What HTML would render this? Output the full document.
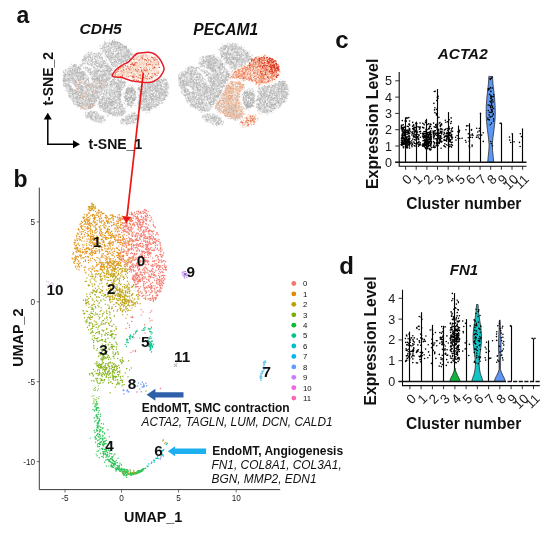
<!DOCTYPE html>
<html lang="en"><head><meta charset="utf-8"><title>Figure</title>
<style>
html,body{margin:0;padding:0;background:#fff;}
body{width:550px;height:535px;overflow:hidden;}
svg{display:block;filter:blur(0.35px);font-family:"Liberation Sans",sans-serif;}
</style></head><body>
<svg width="550" height="535" viewBox="0 0 550 535">
<rect width="550" height="535" fill="#fff"/>
<g id="tsne-cdh5">
<path d="M62.6 77.2L62.7 76.1L62.8 75.0L63.1 74.0L63.4 73.1L63.8 72.1L64.3 71.3L64.9 70.5L65.6 69.8L66.4 69.2L67.3 68.6L68.1 68.0L69.0 67.3L69.8 66.6L70.6 65.8L71.4 65.0L72.3 64.3L73.1 63.7L74.0 63.4L74.9 63.4L75.9 63.8L76.9 64.3L77.9 64.9L78.8 65.2L79.5 65.1L80.1 64.6L80.5 63.8L80.9 62.8L81.3 61.7L81.6 60.6L82.0 59.6L82.5 58.7L82.9 57.7L83.3 56.6L83.8 55.7L84.4 54.8L85.2 54.1L86.2 53.6L87.4 53.1L88.6 52.8L90.0 52.6L91.3 52.4L92.6 52.4L93.9 52.4L95.2 52.6L96.5 52.8L97.8 53.2L99.0 53.6L100.0 54.1L100.8 54.8L101.4 55.5L101.9 56.3L102.4 57.2L102.9 58.1L103.6 59.0L104.3 59.9L105.1 60.8L105.9 61.8L106.7 62.7L107.5 63.7L108.2 64.7L108.9 65.7L109.7 66.7L110.4 67.7L111.1 68.7L111.6 69.7L112.0 70.6L112.1 71.6L112.1 72.5L112.0 73.4L111.7 74.3L111.4 75.2L111.2 76.1L110.9 77.1L110.6 78.1L110.2 79.2L109.9 80.2L109.5 81.3L109.0 82.3L108.6 83.3L108.1 84.4L107.6 85.4L107.1 86.4L106.6 87.5L106.1 88.5L105.6 89.4L105.1 90.4L104.6 91.3L104.2 92.3L103.7 93.2L103.1 94.2L102.6 95.1L102.1 96.1L101.6 97.0L101.0 98.0L100.4 99.0L99.8 99.9L99.1 100.9L98.3 101.8L97.5 102.8L96.7 103.7L95.9 104.6L95.1 105.4L94.4 106.1L93.6 106.7L92.8 107.2L92.1 107.7L91.3 108.1L90.5 108.5L89.6 108.8L88.8 109.1L87.9 109.4L87.0 109.5L86.1 109.6L85.2 109.6L84.3 109.4L83.4 109.1L82.6 108.8L81.7 108.3L80.8 107.8L79.9 107.4L79.0 106.9L78.1 106.4L77.2 105.9L76.3 105.4L75.5 104.8L74.7 104.1L73.9 103.3L73.1 102.4L72.4 101.5L71.7 100.6L71.1 99.6L70.4 98.6L69.8 97.5L69.3 96.5L68.8 95.4L68.3 94.2L67.8 93.1L67.3 92.0L66.7 90.8L66.2 89.7L65.7 88.5L65.2 87.3L64.7 86.2L64.3 84.9L63.9 83.7L63.5 82.4L63.2 81.0L62.9 79.7L62.7 78.4Z" fill="#d3d3d3"/>
<path d="M63.6 71.2h0M65.6 70.0h0M69.4 67.8h0M71.2 65.9h0M71.6 65.3h0M71.8 64.4h0M80.4 65.2h0M80.6 64.2h0M81.0 62.3h0M82.6 60.4h0M82.3 60.7h0M84.0 57.0h0M84.8 55.1h0M87.4 53.4h0M88.7 52.5h0M91.6 53.2h0M92.4 52.2h0M94.0 52.8h0M98.1 53.0h0M99.4 53.1h0M100.3 54.1h0M100.8 54.3h0M101.6 55.6h0M102.0 56.9h0M107.3 63.6h0M108.5 65.5h0M110.7 66.4h0M111.2 68.8h0M111.9 70.3h0M112.3 74.1h0M111.8 74.9h0M111.2 77.0h0M110.5 78.7h0M110.5 79.6h0M108.8 82.1h0M107.2 86.5h0M104.8 90.0h0M104.4 92.3h0M99.3 98.9h0M98.6 100.9h0M95.3 104.3h0M94.1 104.2h0M92.8 106.6h0M92.2 107.5h0M90.0 108.1h0M89.5 108.3h0M87.4 109.6h0M85.7 110.5h0M83.8 108.8h0M80.9 108.7h0M78.7 106.7h0M77.2 106.5h0M74.9 104.6h0M74.0 103.8h0M72.5 99.4h0M71.4 98.8h0M69.7 96.9h0M69.3 96.4h0M68.7 95.4h0M67.9 93.2h0M66.2 90.3h0M64.4 86.2h0M63.5 85.1h0M63.9 84.1h0" stroke="#d3d3d3" stroke-width="1.80" stroke-linecap="round" fill="none"/>
<path d="M101.5 50.2L101.4 49.3L101.3 48.2L101.3 47.1L101.4 46.1L101.6 45.1L102.1 44.2L102.8 43.6L103.7 43.0L104.8 42.5L106.0 42.1L107.2 41.7L108.4 41.4L109.6 41.1L110.8 40.8L112.1 40.6L113.3 40.4L114.6 40.4L115.8 40.5L117.0 40.8L118.1 41.2L119.2 41.7L120.4 42.3L121.5 42.9L122.6 43.6L123.7 44.2L124.8 44.9L125.9 45.7L126.9 46.5L127.9 47.3L128.9 48.2L129.8 49.1L130.8 50.1L131.7 51.1L132.5 52.1L133.0 53.1L133.3 54.1L133.3 55.1L132.9 56.1L132.4 57.1L131.7 58.1L130.9 59.0L130.2 59.9L129.4 60.6L128.5 61.2L127.5 61.7L126.6 62.3L125.6 62.8L124.7 63.4L123.8 64.0L122.9 64.6L122.0 65.3L121.1 65.9L120.3 66.4L119.4 66.9L118.5 67.3L117.6 67.7L116.7 68.1L115.8 68.3L114.9 68.4L114.1 68.2L113.4 67.8L112.7 67.1L112.0 66.3L111.4 65.4L110.7 64.5L110.1 63.6L109.5 62.7L108.9 61.8L108.3 60.8L107.7 59.8L107.1 58.9L106.5 58.1L105.9 57.3L105.2 56.7L104.6 56.0L104.0 55.4L103.4 54.8L102.9 54.1L102.5 53.5L102.2 52.9L101.9 52.3L101.7 51.6L101.6 50.9Z" fill="#d3d3d3"/>
<path d="M101.7 49.1h0M102.1 48.9h0M100.6 48.4h0M100.4 45.6h0M104.7 41.6h0M109.6 40.5h0M114.2 39.9h0M115.1 40.7h0M119.3 41.5h0M121.0 43.7h0M122.9 44.1h0M129.9 49.7h0M130.7 49.4h0M132.6 54.8h0M133.7 55.1h0M130.3 58.9h0M130.0 60.5h0M128.7 60.6h0M125.1 62.7h0M122.6 64.7h0M122.4 64.3h0M120.5 67.1h0M118.5 67.2h0M117.7 68.5h0M116.2 68.6h0M115.7 68.0h0M114.3 68.8h0M113.0 68.2h0M112.2 67.0h0M108.2 59.9h0M106.7 60.0h0M107.6 58.1h0M105.9 58.1h0M106.0 57.2h0M104.7 55.8h0M103.9 55.3h0M103.0 53.8h0M101.7 53.5h0M101.9 51.7h0M101.0 50.8h0" stroke="#d3d3d3" stroke-width="1.80" stroke-linecap="round" fill="none"/>
<path d="M112.8 73.1L113.2 72.2L113.9 71.2L114.7 70.2L115.6 69.1L116.5 68.2L117.5 67.3L118.4 66.6L119.5 66.1L120.6 65.5L121.6 65.0L122.7 64.6L123.8 64.0L124.9 63.5L126.0 63.0L127.2 62.5L128.3 61.9L129.3 61.4L130.2 60.7L130.8 60.0L131.3 59.1L131.6 58.2L132.0 57.4L132.6 56.6L133.3 55.9L134.3 55.3L135.6 54.8L136.9 54.4L138.3 54.1L139.7 53.8L141.1 53.7L142.5 53.7L144.0 53.7L145.4 53.9L146.9 54.1L148.2 54.4L149.6 54.8L150.8 55.2L152.1 55.6L153.3 56.1L154.4 56.6L155.4 57.3L156.3 58.1L157.1 59.0L157.9 60.1L158.5 61.3L159.0 62.6L159.4 63.9L159.7 65.1L159.8 66.4L159.7 67.8L159.5 69.2L159.2 70.6L158.9 71.9L158.4 73.1L157.9 74.0L157.3 74.9L156.7 75.7L155.9 76.4L155.1 77.0L154.2 77.7L153.2 78.3L152.2 79.0L151.0 79.5L149.8 80.1L148.6 80.6L147.5 81.0L146.3 81.3L145.0 81.6L143.8 81.9L142.6 82.0L141.3 82.1L140.1 82.1L138.8 81.9L137.6 81.6L136.3 81.2L135.1 80.7L133.9 80.3L132.7 79.9L131.6 79.5L130.5 79.0L129.5 78.6L128.4 78.2L127.4 77.8L126.4 77.5L125.3 77.2L124.2 77.0L123.1 76.9L122.1 76.7L121.0 76.7L120.0 76.6L119.0 76.6L118.0 76.6L117.0 76.7L116.1 76.8L115.2 76.8L114.5 76.6L114.0 76.2L113.5 75.7L113.1 75.2L112.8 74.5L112.7 73.8Z" fill="#f8e3d5"/>
<path d="M113.4 72.5h0M117.7 68.6h0M118.9 66.2h0M120.5 65.5h0M123.0 64.3h0M125.0 63.8h0M127.9 61.9h0M130.3 59.6h0M132.7 56.9h0M135.2 54.7h0M139.7 53.6h0M141.1 53.7h0M142.1 53.1h0M144.6 53.5h0M145.1 53.4h0M149.0 54.4h0M152.6 55.5h0M154.2 56.7h0M155.2 57.5h0M156.8 57.7h0M159.1 66.0h0M160.0 67.7h0M158.6 70.6h0M159.4 71.7h0M157.2 75.6h0M155.8 75.9h0M155.1 77.2h0M154.2 77.2h0M152.2 79.5h0M150.3 79.8h0M145.1 81.2h0M138.4 81.5h0M138.1 81.8h0M135.6 81.5h0M133.4 80.0h0M128.2 78.5h0M124.1 77.8h0M119.0 78.0h0M116.4 76.9h0M115.1 76.6h0M114.6 76.6h0M112.5 74.6h0M112.7 72.9h0" stroke="#f8e3d5" stroke-width="1.80" stroke-linecap="round" fill="none"/>
<path d="M104.4 89.8L105.0 88.6L105.6 87.3L106.3 85.8L107.0 84.3L107.8 83.0L108.6 81.9L109.5 80.9L110.5 80.1L111.5 79.4L112.5 78.9L113.6 78.4L114.7 78.1L115.9 78.0L117.2 78.0L118.5 78.1L119.8 78.3L121.0 78.6L122.1 79.0L123.2 79.4L124.2 79.9L125.1 80.5L125.9 81.2L126.5 81.9L126.8 82.7L126.6 83.7L126.1 84.7L125.4 85.9L124.5 87.0L123.8 88.2L123.2 89.3L122.8 90.4L122.5 91.5L122.2 92.6L122.0 93.7L121.8 94.8L121.7 95.9L121.7 97.0L121.7 98.2L121.8 99.3L122.0 100.4L122.3 101.5L122.6 102.5L123.0 103.6L123.6 104.6L124.3 105.6L124.9 106.7L125.4 107.7L125.7 108.7L125.8 109.8L125.9 110.9L125.7 112.0L125.5 113.1L125.2 114.0L124.7 114.9L124.0 115.5L123.2 116.1L122.2 116.5L121.2 116.9L120.1 117.1L119.0 117.3L117.8 117.3L116.6 117.3L115.3 117.1L114.0 116.8L112.8 116.5L111.6 116.2L110.5 115.8L109.4 115.3L108.3 114.7L107.2 114.1L106.2 113.5L105.3 112.9L104.3 112.2L103.3 111.5L102.4 110.8L101.5 110.0L100.7 109.2L100.0 108.5L99.3 107.7L98.5 107.0L97.9 106.2L97.3 105.5L96.9 104.7L96.8 103.9L97.0 103.0L97.5 102.0L98.2 101.1L98.9 100.1L99.6 99.2L100.2 98.4L100.6 97.6L101.1 96.8L101.4 96.1L101.8 95.4L102.2 94.7L102.5 94.0L102.8 93.3L103.1 92.7L103.3 92.1L103.6 91.4L104.0 90.7Z" fill="#d3d3d3"/>
<path d="M105.1 90.4h0M105.9 86.0h0M106.9 81.7h0M107.8 81.6h0M110.3 80.3h0M113.1 79.2h0M116.0 77.8h0M117.1 77.8h0M118.4 77.3h0M120.1 78.7h0M122.7 79.5h0M126.6 81.5h0M125.8 83.4h0M125.8 85.1h0M125.0 86.2h0M123.7 86.7h0M122.5 90.5h0M122.8 92.7h0M121.0 99.0h0M122.7 100.8h0M122.4 102.3h0M124.4 106.5h0M125.0 109.8h0M124.3 114.9h0M112.5 116.7h0M109.5 115.6h0M107.9 116.0h0M107.2 114.4h0M104.8 112.4h0M101.8 110.2h0M100.8 110.0h0M99.4 108.1h0M98.5 106.6h0M97.7 103.1h0M95.8 102.6h0M99.3 101.5h0M99.0 99.1h0M100.9 98.3h0M101.2 97.6h0M101.3 96.0h0M102.0 95.7h0M102.6 94.2h0M102.8 92.6h0M104.0 90.6h0" stroke="#d3d3d3" stroke-width="1.80" stroke-linecap="round" fill="none"/>
<path d="M124.9 89.3L125.4 88.4L126.0 87.7L126.7 87.2L127.5 86.8L128.3 86.5L129.1 86.3L129.9 86.1L130.7 86.2L131.6 86.3L132.5 86.5L133.3 86.9L133.9 87.4L134.6 88.0L135.1 88.7L135.7 89.6L136.1 90.5L136.4 91.6L136.7 92.6L136.8 93.8L136.9 95.1L136.9 96.4L136.8 97.8L136.6 99.1L136.3 100.3L135.9 101.5L135.3 102.8L134.7 104.0L134.0 105.0L133.2 105.9L132.5 106.5L131.7 106.8L130.7 107.0L129.8 106.9L128.9 106.7L128.0 106.2L127.2 105.6L126.5 104.8L125.8 103.7L125.2 102.4L124.7 101.0L124.3 99.5L124.0 98.1L123.9 96.7L123.9 95.1L124.0 93.5L124.2 91.9L124.5 90.5Z" fill="#c9c9c9"/>
<path d="M124.8 90.1h0M124.8 88.5h0M128.4 86.0h0M130.1 85.8h0M132.7 86.1h0M133.6 87.1h0M135.0 88.5h0M134.4 89.9h0M136.1 93.2h0M136.3 93.6h0M137.8 95.0h0M136.6 96.2h0M136.4 97.7h0M136.0 99.6h0M136.5 101.1h0M136.5 101.3h0M134.8 103.8h0M134.6 105.4h0M131.7 107.0h0M130.8 107.3h0M129.6 107.0h0M127.3 106.2h0M125.6 104.1h0M124.6 102.8h0M123.7 95.5h0M123.8 92.3h0" stroke="#c9c9c9" stroke-width="1.80" stroke-linecap="round" fill="none"/>
<path d="M137.7 88.2L138.1 87.6L138.7 86.8L139.4 86.1L140.1 85.3L141.0 84.6L142.0 84.1L143.0 83.6L144.3 83.2L145.6 82.8L146.9 82.5L148.3 82.2L149.6 81.9L150.8 81.5L152.0 81.1L153.3 80.8L154.5 80.4L155.7 80.0L157.0 79.7L158.2 79.2L159.5 78.6L160.8 78.1L162.1 77.6L163.3 77.4L164.3 77.5L165.3 77.9L166.2 78.5L167.0 79.4L167.7 80.4L168.3 81.6L168.8 82.7L169.1 84.0L169.2 85.4L169.2 87.0L169.2 88.5L169.0 90.1L168.8 91.5L168.4 92.9L168.0 94.3L167.5 95.7L166.9 97.0L166.3 98.3L165.6 99.5L164.9 100.5L164.0 101.5L163.2 102.4L162.3 103.3L161.3 104.1L160.3 105.0L159.3 105.7L158.2 106.5L157.1 107.2L156.0 107.9L154.9 108.5L153.8 109.1L152.7 109.7L151.6 110.2L150.5 110.7L149.5 111.2L148.4 111.5L147.5 111.8L146.5 111.9L145.6 112.0L144.8 112.0L143.9 112.0L143.1 111.8L142.4 111.6L141.7 111.2L141.0 110.8L140.4 110.2L139.8 109.6L139.3 109.0L138.8 108.3L138.3 107.5L137.9 106.7L137.5 105.8L137.1 104.9L136.9 104.0L136.7 103.0L136.7 101.9L136.8 100.7L136.9 99.4L137.2 98.2L137.4 97.0L137.5 95.9L137.7 95.0L137.8 94.2L137.9 93.5L138.0 92.8L138.1 92.2L138.2 91.5L138.1 90.9L137.9 90.4L137.7 89.9L137.6 89.4L137.6 88.8Z" fill="#d3d3d3"/>
<path d="M138.8 85.8h0M139.9 85.3h0M147.6 82.3h0M148.6 82.4h0M152.5 80.9h0M154.8 80.3h0M162.1 77.2h0M164.5 77.1h0M165.4 78.1h0M166.8 79.3h0M168.4 81.8h0M168.7 83.3h0M168.5 84.9h0M169.4 87.5h0M168.7 89.0h0M168.6 90.0h0M168.4 92.8h0M168.2 95.5h0M165.7 97.7h0M159.7 105.2h0M156.4 107.7h0M154.7 107.5h0M150.4 110.6h0M148.9 111.4h0M149.2 111.8h0M146.3 112.4h0M146.6 112.5h0M142.5 111.2h0M139.9 109.4h0M138.3 107.9h0M138.9 107.1h0M136.7 105.5h0M137.9 104.2h0M135.5 103.0h0M136.6 100.5h0M137.6 96.6h0M138.9 93.9h0M137.6 94.0h0M138.7 93.3h0M138.9 91.6h0M137.7 89.8h0M138.2 90.6h0M137.7 89.5h0M137.7 90.1h0" stroke="#d3d3d3" stroke-width="1.80" stroke-linecap="round" fill="none"/>
<path d="M86.3 113.5L86.9 113.0L87.8 112.5L88.9 112.0L90.2 111.6L91.4 111.4L92.6 111.3L93.8 111.6L95.1 112.0L96.3 112.6L97.6 113.3L98.9 114.0L100.0 114.6L101.1 115.3L102.2 116.1L103.2 116.8L104.1 117.6L104.8 118.4L105.3 119.0L105.4 119.7L105.3 120.4L104.9 121.0L104.4 121.6L103.8 122.0L103.1 122.3L102.3 122.5L101.3 122.6L100.2 122.5L99.1 122.4L97.9 122.2L96.8 121.9L95.7 121.6L94.6 121.1L93.5 120.6L92.4 120.0L91.4 119.5L90.5 119.0L89.7 118.6L88.9 118.3L88.2 118.0L87.6 117.6L87.1 117.3L86.7 116.8L86.3 116.3L86.0 115.8L85.8 115.2L85.8 114.6L85.9 114.0Z" fill="#d3d3d3"/>
<path d="M85.7 112.7h0M87.5 113.6h0M90.0 111.5h0M92.0 111.2h0M93.5 111.3h0M95.1 111.8h0M96.4 112.2h0M97.3 113.2h0M100.3 115.5h0M102.7 115.8h0M102.5 116.6h0M103.6 116.9h0M103.9 121.7h0M101.5 122.8h0M98.7 122.4h0M95.1 121.1h0M92.5 120.1h0M90.1 119.2h0M89.4 117.9h0M87.4 117.6h0M86.4 117.5h0M85.9 115.7h0M85.8 114.9h0" stroke="#d3d3d3" stroke-width="1.80" stroke-linecap="round" fill="none"/>
<path d="M121.1 120.1L121.6 119.6L122.4 119.1L123.4 118.5L124.5 118.0L125.5 117.4L126.4 116.8L127.1 116.3L127.8 115.6L128.5 115.0L129.1 114.4L129.8 113.9L130.6 113.5L131.4 113.2L132.3 113.0L133.3 112.9L134.2 112.8L135.1 112.9L135.8 113.1L136.6 113.5L137.3 114.0L137.9 114.7L138.4 115.4L138.8 116.1L139.0 116.8L139.0 117.6L138.8 118.3L138.5 119.1L138.0 119.9L137.5 120.6L136.9 121.2L136.2 121.7L135.4 122.2L134.5 122.5L133.6 122.9L132.6 123.2L131.6 123.4L130.6 123.7L129.5 124.0L128.4 124.2L127.2 124.4L126.2 124.5L125.3 124.5L124.5 124.4L123.8 124.2L123.1 123.9L122.6 123.5L122.1 123.2L121.7 122.8L121.4 122.4L121.1 122.0L120.8 121.6L120.7 121.1L120.8 120.6Z" fill="#d3d3d3"/>
<path d="M122.0 119.3h0M123.6 118.5h0M126.3 116.5h0M127.9 116.7h0M128.1 115.3h0M129.2 114.5h0M132.3 113.7h0M132.1 113.2h0M133.5 114.0h0M135.3 113.5h0M136.1 114.1h0M139.3 116.4h0M138.6 118.6h0M138.1 120.2h0M135.4 121.8h0M134.4 122.7h0M132.6 123.3h0M131.6 123.9h0M128.2 124.5h0M126.3 123.7h0M124.3 124.9h0M124.1 123.9h0M121.8 123.4h0M122.1 123.3h0M121.2 122.9h0M120.7 121.2h0" stroke="#d3d3d3" stroke-width="1.80" stroke-linecap="round" fill="none"/>
<path d="M112.8 73.1L113.2 72.2L113.9 71.2L114.7 70.2L115.6 69.1L116.5 68.2L117.5 67.3L118.4 66.6L119.5 66.1L120.6 65.5L121.6 65.0L122.7 64.6L123.8 64.0L124.9 63.5L126.0 63.0L127.2 62.5L128.3 61.9L129.3 61.4L130.2 60.7L130.8 60.0L131.3 59.1L131.6 58.2L132.0 57.4L132.6 56.6L133.3 55.9L134.3 55.3L135.6 54.8L136.9 54.4L138.3 54.1L139.7 53.8L141.1 53.7L142.5 53.7L144.0 53.7L145.4 53.9L146.9 54.1L148.2 54.4L149.6 54.8L150.8 55.2L152.1 55.6L153.3 56.1L154.4 56.6L155.4 57.3L156.3 58.1L157.1 59.0L157.9 60.1L158.5 61.3L159.0 62.6L159.4 63.9L159.7 65.1L159.8 66.4L159.7 67.8L159.5 69.2L159.2 70.6L158.9 71.9L158.4 73.1L157.9 74.0L157.3 74.9L156.7 75.7L155.9 76.4L155.1 77.0L154.2 77.7L153.2 78.3L152.2 79.0L151.0 79.5L149.8 80.1L148.6 80.6L147.5 81.0L146.3 81.3L145.0 81.6L143.8 81.9L142.6 82.0L141.3 82.1L140.1 82.1L138.8 81.9L137.6 81.6L136.3 81.2L135.1 80.7L133.9 80.3L132.7 79.9L131.6 79.5L130.5 79.0L129.5 78.6L128.4 78.2L127.4 77.8L126.4 77.5L125.3 77.2L124.2 77.0L123.1 76.9L122.1 76.7L121.0 76.7L120.0 76.6L119.0 76.6L118.0 76.6L117.0 76.7L116.1 76.8L115.2 76.8L114.5 76.6L114.0 76.2L113.5 75.7L113.1 75.2L112.8 74.5L112.7 73.8Z" fill="none" stroke="#fff" stroke-width="1.3"/>
<path d="M104.4 89.8L105.0 88.6L105.6 87.3L106.3 85.8L107.0 84.3L107.8 83.0L108.6 81.9L109.5 80.9L110.5 80.1L111.5 79.4L112.5 78.9L113.6 78.4L114.7 78.1L115.9 78.0L117.2 78.0L118.5 78.1L119.8 78.3L121.0 78.6L122.1 79.0L123.2 79.4L124.2 79.9L125.1 80.5L125.9 81.2L126.5 81.9L126.8 82.7L126.6 83.7L126.1 84.7L125.4 85.9L124.5 87.0L123.8 88.2L123.2 89.3L122.8 90.4L122.5 91.5L122.2 92.6L122.0 93.7L121.8 94.8L121.7 95.9L121.7 97.0L121.7 98.2L121.8 99.3L122.0 100.4L122.3 101.5L122.6 102.5L123.0 103.6L123.6 104.6L124.3 105.6L124.9 106.7L125.4 107.7L125.7 108.7L125.8 109.8L125.9 110.9L125.7 112.0L125.5 113.1L125.2 114.0L124.7 114.9L124.0 115.5L123.2 116.1L122.2 116.5L121.2 116.9L120.1 117.1L119.0 117.3L117.8 117.3L116.6 117.3L115.3 117.1L114.0 116.8L112.8 116.5L111.6 116.2L110.5 115.8L109.4 115.3L108.3 114.7L107.2 114.1L106.2 113.5L105.3 112.9L104.3 112.2L103.3 111.5L102.4 110.8L101.5 110.0L100.7 109.2L100.0 108.5L99.3 107.7L98.5 107.0L97.9 106.2L97.3 105.5L96.9 104.7L96.8 103.9L97.0 103.0L97.5 102.0L98.2 101.1L98.9 100.1L99.6 99.2L100.2 98.4L100.6 97.6L101.1 96.8L101.4 96.1L101.8 95.4L102.2 94.7L102.5 94.0L102.8 93.3L103.1 92.7L103.3 92.1L103.6 91.4L104.0 90.7Z" fill="none" stroke="#fff" stroke-width="1.3"/>
<path d="M124.9 89.3L125.4 88.4L126.0 87.7L126.7 87.2L127.5 86.8L128.3 86.5L129.1 86.3L129.9 86.1L130.7 86.2L131.6 86.3L132.5 86.5L133.3 86.9L133.9 87.4L134.6 88.0L135.1 88.7L135.7 89.6L136.1 90.5L136.4 91.6L136.7 92.6L136.8 93.8L136.9 95.1L136.9 96.4L136.8 97.8L136.6 99.1L136.3 100.3L135.9 101.5L135.3 102.8L134.7 104.0L134.0 105.0L133.2 105.9L132.5 106.5L131.7 106.8L130.7 107.0L129.8 106.9L128.9 106.7L128.0 106.2L127.2 105.6L126.5 104.8L125.8 103.7L125.2 102.4L124.7 101.0L124.3 99.5L124.0 98.1L123.9 96.7L123.9 95.1L124.0 93.5L124.2 91.9L124.5 90.5Z" fill="none" stroke="#fff" stroke-width="1.3"/>
<path d="M137.7 88.2L138.1 87.6L138.7 86.8L139.4 86.1L140.1 85.3L141.0 84.6L142.0 84.1L143.0 83.6L144.3 83.2L145.6 82.8L146.9 82.5L148.3 82.2L149.6 81.9L150.8 81.5L152.0 81.1L153.3 80.8L154.5 80.4L155.7 80.0L157.0 79.7L158.2 79.2L159.5 78.6L160.8 78.1L162.1 77.6L163.3 77.4L164.3 77.5L165.3 77.9L166.2 78.5L167.0 79.4L167.7 80.4L168.3 81.6L168.8 82.7L169.1 84.0L169.2 85.4L169.2 87.0L169.2 88.5L169.0 90.1L168.8 91.5L168.4 92.9L168.0 94.3L167.5 95.7L166.9 97.0L166.3 98.3L165.6 99.5L164.9 100.5L164.0 101.5L163.2 102.4L162.3 103.3L161.3 104.1L160.3 105.0L159.3 105.7L158.2 106.5L157.1 107.2L156.0 107.9L154.9 108.5L153.8 109.1L152.7 109.7L151.6 110.2L150.5 110.7L149.5 111.2L148.4 111.5L147.5 111.8L146.5 111.9L145.6 112.0L144.8 112.0L143.9 112.0L143.1 111.8L142.4 111.6L141.7 111.2L141.0 110.8L140.4 110.2L139.8 109.6L139.3 109.0L138.8 108.3L138.3 107.5L137.9 106.7L137.5 105.8L137.1 104.9L136.9 104.0L136.7 103.0L136.7 101.9L136.8 100.7L136.9 99.4L137.2 98.2L137.4 97.0L137.5 95.9L137.7 95.0L137.8 94.2L137.9 93.5L138.0 92.8L138.1 92.2L138.2 91.5L138.1 90.9L137.9 90.4L137.7 89.9L137.6 89.4L137.6 88.8Z" fill="none" stroke="#fff" stroke-width="1.3"/>
<path d="M101.5 50.2L101.4 49.3L101.3 48.2L101.3 47.1L101.4 46.1L101.6 45.1L102.1 44.2L102.8 43.6L103.7 43.0L104.8 42.5L106.0 42.1L107.2 41.7L108.4 41.4L109.6 41.1L110.8 40.8L112.1 40.6L113.3 40.4L114.6 40.4L115.8 40.5L117.0 40.8L118.1 41.2L119.2 41.7L120.4 42.3L121.5 42.9L122.6 43.6L123.7 44.2L124.8 44.9L125.9 45.7L126.9 46.5L127.9 47.3L128.9 48.2L129.8 49.1L130.8 50.1L131.7 51.1L132.5 52.1L133.0 53.1L133.3 54.1L133.3 55.1L132.9 56.1L132.4 57.1L131.7 58.1L130.9 59.0L130.2 59.9L129.4 60.6L128.5 61.2L127.5 61.7L126.6 62.3L125.6 62.8L124.7 63.4L123.8 64.0L122.9 64.6L122.0 65.3L121.1 65.9L120.3 66.4L119.4 66.9L118.5 67.3L117.6 67.7L116.7 68.1L115.8 68.3L114.9 68.4L114.1 68.2L113.4 67.8L112.7 67.1L112.0 66.3L111.4 65.4L110.7 64.5L110.1 63.6L109.5 62.7L108.9 61.8L108.3 60.8L107.7 59.8L107.1 58.9L106.5 58.1L105.9 57.3L105.2 56.7L104.6 56.0L104.0 55.4L103.4 54.8L102.9 54.1L102.5 53.5L102.2 52.9L101.9 52.3L101.7 51.6L101.6 50.9Z" fill="none" stroke="#fff" stroke-width="1.3"/>
<path d="M76.5 93.2h0M82.7 74.5h0M105.5 65.3h0M77.1 72.1h0M90.7 98.7h0M110.9 69.4h0M73.3 91.8h0M105.6 65.8h0M93.9 57.5h0M83.8 74.8h0M65.6 74.3h0M78.9 80.8h0M82.6 79.6h0M70.9 90.4h0M79.6 76.5h0M70.1 85.7h0M97.4 84.0h0M97.3 53.7h0M82.0 73.2h0M65.7 75.5h0M65.3 80.7h0M91.6 79.2h0M78.7 66.9h0M63.8 72.2h0M106.8 84.8h0M75.6 90.6h0M71.8 79.2h0M93.1 107.0h0M80.6 85.3h0M93.7 87.9h0M83.0 76.2h0M76.3 99.9h0M106.2 74.2h0M69.4 81.4h0M77.9 73.0h0M72.2 65.4h0M96.3 65.8h0M82.1 66.1h0M87.1 89.6h0M89.8 88.1h0M90.4 99.9h0M110.6 71.5h0M79.8 103.1h0M78.1 93.3h0M97.1 91.7h0M70.5 87.9h0M86.9 84.6h0M80.9 68.7h0M99.7 82.9h0M74.4 66.6h0M88.1 59.6h0M67.7 92.7h0M68.2 78.2h0M100.9 79.9h0M75.2 81.4h0M102.1 74.8h0M98.1 66.8h0M98.1 71.1h0M79.2 95.8h0M90.7 76.4h0M97.6 88.0h0M68.8 73.9h0M95.8 65.6h0M91.6 106.2h0M96.7 76.4h0M93.9 75.1h0M76.8 94.2h0M89.5 80.0h0M81.1 70.1h0M76.7 74.8h0M93.2 96.2h0M111.2 74.7h0M97.0 83.6h0M102.3 60.8h0M108.9 66.8h0M86.8 59.3h0M90.7 60.6h0M93.6 68.1h0M73.9 80.0h0M80.7 67.2h0M106.8 70.1h0M86.6 109.4h0M86.6 76.1h0M102.6 75.0h0M65.5 83.9h0M95.2 88.0h0M84.6 100.1h0M98.5 62.4h0M80.4 95.5h0M78.0 81.8h0M88.7 98.7h0M101.9 94.5h0M82.4 98.3h0M109.7 75.4h0M97.6 66.7h0M91.2 65.4h0M81.9 73.5h0M95.2 98.8h0M80.7 88.9h0M80.2 68.4h0M107.4 70.8h0M67.3 71.5h0M99.4 64.5h0M99.4 83.6h0M96.3 62.5h0M80.0 77.0h0M82.6 70.8h0M89.2 106.9h0M78.5 95.5h0M83.9 107.5h0M73.5 75.7h0M97.6 62.5h0M76.2 91.1h0M109.6 70.8h0M71.7 72.8h0M94.1 74.0h0M94.5 64.5h0M93.1 103.2h0M105.0 88.4h0M87.6 84.9h0M96.8 78.3h0M95.6 76.4h0M81.7 65.5h0M92.4 85.2h0M88.1 54.2h0M93.7 77.9h0M92.0 86.4h0M85.8 109.2h0M99.2 70.3h0M82.5 102.0h0M86.9 65.8h0M104.2 89.5h0M102.1 81.7h0M75.0 98.6h0M85.1 83.1h0M105.5 63.6h0M76.5 89.2h0M66.3 84.1h0M101.6 80.5h0M74.6 98.2h0M89.8 104.2h0M102.1 61.1h0M64.4 72.2h0M81.9 101.0h0M93.2 104.0h0M72.9 88.4h0M72.4 90.6h0M79.4 70.4h0M93.8 68.3h0M92.5 92.1h0M97.0 79.1h0M99.1 73.0h0M78.0 75.7h0M69.9 88.5h0M83.7 99.3h0M82.9 78.5h0M87.7 106.3h0M79.8 92.6h0M74.3 85.5h0M76.7 102.3h0M76.8 101.3h0M96.1 78.4h0M108.9 74.6h0M99.4 86.8h0M84.8 56.0h0M83.4 68.5h0M84.5 107.0h0M77.1 92.1h0M95.9 66.4h0M83.0 59.9h0M107.0 66.8h0M83.5 71.9h0M91.9 83.6h0M67.0 73.2h0M81.2 93.8h0M95.8 72.1h0M85.9 73.1h0M85.6 70.5h0M95.8 87.0h0M103.7 89.6h0M65.9 78.8h0M82.5 89.9h0M73.0 73.5h0M69.7 75.0h0M99.4 57.2h0M70.9 89.5h0M93.5 94.8h0M75.2 98.8h0M98.8 96.8h0M68.6 79.2h0M63.8 72.5h0M89.2 82.9h0M77.6 81.4h0M68.8 84.9h0M88.0 69.2h0M101.1 66.5h0M73.4 78.2h0M90.3 78.7h0M104.7 61.2h0M82.8 87.4h0M99.0 93.2h0M70.4 82.8h0M94.5 100.9h0M64.9 76.2h0M78.9 80.4h0M95.0 103.1h0M87.4 104.1h0M82.2 69.5h0M99.2 67.2h0M80.8 76.9h0M86.2 72.9h0M83.9 78.2h0M65.7 82.6h0M89.7 75.3h0M81.0 70.4h0M86.6 65.6h0M99.7 80.3h0M63.1 75.6h0M92.0 107.4h0M80.7 86.6h0M80.9 69.6h0M92.8 86.1h0M78.2 80.9h0M88.2 95.5h0M75.1 67.8h0M102.0 76.7h0M105.2 75.4h0M76.8 91.3h0M103.8 71.2h0M78.3 99.3h0M101.7 89.1h0M90.0 105.4h0M94.3 53.7h0M91.3 52.7h0M99.1 76.3h0M101.3 77.6h0M99.8 74.0h0M84.8 77.4h0M68.5 70.7h0M99.0 56.5h0M95.6 83.7h0M90.4 105.2h0M73.1 76.1h0M89.2 100.4h0M86.0 54.2h0M84.0 74.0h0M87.1 91.8h0M81.8 96.9h0M70.9 85.9h0M72.6 72.2h0M70.7 72.4h0M91.9 82.1h0M81.9 85.2h0M104.3 72.9h0M91.5 79.9h0M111.2 71.1h0M97.2 65.7h0M75.6 94.2h0M91.1 67.1h0M81.3 93.4h0M84.1 87.7h0M90.3 108.2h0M107.7 78.5h0M86.7 65.6h0M99.9 58.2h0M77.8 100.9h0M90.8 83.9h0M102.5 58.0h0M101.5 64.9h0M72.5 83.0h0M92.8 59.3h0M100.5 85.7h0M96.8 73.2h0M77.0 101.5h0M98.6 67.5h0M89.2 66.9h0M77.1 66.8h0M69.1 80.1h0M76.1 68.7h0M76.4 81.5h0M92.8 83.5h0M99.0 83.0h0M95.3 105.0h0M101.0 67.2h0M80.6 97.4h0M74.2 78.3h0M81.0 94.1h0M109.4 81.3h0M90.7 72.3h0M95.2 56.5h0M90.6 59.2h0M111.6 70.1h0M95.6 56.3h0M88.4 56.8h0M88.7 62.9h0M88.7 72.6h0M87.3 63.7h0M97.5 76.3h0M86.7 56.9h0M86.7 84.3h0M69.3 69.6h0M79.2 92.6h0M63.6 80.4h0M91.9 91.6h0M93.0 87.5h0M88.3 107.3h0M103.7 91.8h0M88.4 85.6h0M100.1 98.6h0M103.9 75.7h0M79.2 72.2h0M75.6 85.9h0M88.7 71.6h0M96.0 78.4h0M74.2 102.8h0M75.2 79.8h0M101.4 71.4h0M74.4 89.8h0M75.5 82.3h0M75.3 102.6h0M71.8 65.7h0M77.6 71.2h0M98.6 91.0h0M101.8 83.3h0M74.7 64.8h0M81.0 72.8h0M79.4 97.6h0M81.4 68.8h0M92.0 94.8h0M86.2 99.2h0M63.3 80.9h0M79.6 105.6h0M69.6 93.3h0M69.3 91.2h0M109.6 78.3h0M68.7 82.5h0M89.4 84.9h0M100.4 82.5h0M77.9 95.9h0M108.4 81.2h0M70.6 71.3h0M90.8 69.2h0M85.4 86.9h0M104.5 79.0h0M100.4 75.3h0M71.2 94.5h0M73.5 98.1h0M87.3 89.7h0M85.7 62.8h0M93.3 73.5h0M86.0 88.1h0M78.3 72.8h0M106.4 85.6h0M83.3 83.3h0M85.4 71.4h0M107.9 65.7h0M87.8 108.7h0M98.4 65.8h0M91.5 61.4h0M109.5 68.6h0M67.4 91.7h0M79.8 84.4h0M87.2 105.2h0M88.1 74.1h0M76.0 85.2h0M93.9 78.8h0M67.1 80.8h0M86.5 89.1h0M110.7 68.4h0M84.6 57.2h0M102.2 65.8h0M75.2 104.0h0M87.6 76.8h0M90.1 106.5h0M86.9 80.0h0M77.0 100.5h0M87.5 72.0h0M72.4 64.7h0M96.6 98.0h0M97.9 98.7h0M102.3 62.5h0M103.0 69.7h0M63.8 81.7h0M79.6 97.7h0M92.9 104.5h0M105.8 70.2h0M71.8 92.1h0M93.5 59.5h0M98.6 55.7h0M90.8 106.4h0M94.3 80.5h0M81.7 72.6h0M102.0 65.5h0M95.0 96.7h0M97.0 81.9h0M78.3 68.0h0M71.9 89.5h0M79.0 105.4h0M107.8 69.0h0M79.1 68.4h0M88.5 80.3h0M89.1 79.4h0M99.5 66.7h0M72.5 85.6h0M74.6 71.1h0M80.2 82.5h0M83.1 75.7h0M74.3 79.5h0M84.1 91.6h0M100.4 84.1h0M107.3 66.7h0M88.8 63.2h0M100.6 55.6h0M70.1 83.9h0M76.1 93.6h0M98.6 70.6h0M100.6 89.4h0M97.6 78.5h0M84.0 58.5h0M86.1 107.0h0M97.0 77.4h0M69.0 76.7h0M91.0 95.0h0M82.6 89.6h0M96.4 87.6h0M66.2 74.7h0M85.8 58.4h0M86.7 86.0h0M68.6 69.8h0M73.6 101.9h0M87.8 75.9h0M82.4 103.1h0M75.4 97.7h0M97.7 78.0h0M80.7 77.4h0M85.1 70.4h0M93.5 75.9h0M77.7 96.6h0M85.2 79.5h0M106.2 78.4h0M81.2 103.8h0M82.5 90.8h0M99.3 69.3h0M95.1 90.6h0M84.2 89.8h0M73.8 96.5h0M89.3 108.5h0M79.5 93.1h0M63.5 76.2h0M100.6 67.2h0M93.0 65.0h0M65.6 85.7h0M82.0 86.2h0M97.9 96.0h0M99.6 85.5h0M75.1 92.7h0M90.4 83.5h0M101.3 71.0h0M76.2 84.8h0M88.8 80.7h0M70.9 88.2h0M76.9 98.5h0M83.4 60.7h0M92.6 78.7h0M90.8 106.9h0M80.1 95.8h0M66.4 69.6h0M96.9 91.9h0M103.7 74.1h0M76.2 72.9h0M89.2 53.8h0M81.2 90.0h0M70.0 70.2h0M101.9 94.7h0M75.7 80.4h0M97.1 54.0h0M73.1 92.6h0M97.3 71.7h0M106.1 64.9h0M86.1 70.3h0M84.5 98.9h0M90.9 87.2h0M73.7 87.8h0M79.5 77.6h0M84.0 99.7h0M71.1 72.7h0M97.6 64.7h0M73.8 73.2h0M74.0 93.5h0M89.5 85.7h0M92.3 101.7h0M71.4 68.0h0M95.7 92.2h0M78.6 79.1h0M76.9 84.5h0M80.2 73.0h0M75.0 69.1h0M78.0 86.3h0M104.5 79.2h0M88.0 70.2h0M93.5 90.1h0M96.9 81.0h0M83.1 74.7h0M87.6 79.2h0M88.8 82.9h0M102.1 87.9h0M96.5 92.0h0M99.5 78.4h0M82.3 84.0h0M88.1 70.1h0M105.3 82.0h0M70.0 74.7h0M94.3 58.7h0M90.5 106.1h0M84.2 96.0h0M91.9 85.7h0M71.2 78.9h0M73.4 78.0h0M89.5 71.6h0M91.2 88.5h0M95.1 64.6h0M90.3 58.2h0M94.2 67.4h0M103.0 93.8h0M100.2 55.6h0M86.1 107.2h0M78.5 67.2h0M103.6 62.9h0M94.1 87.6h0M90.5 74.3h0M103.4 66.8h0M98.0 63.0h0M87.1 107.8h0M74.5 68.3h0M74.4 69.0h0M93.7 74.3h0M98.2 80.6h0M65.5 80.5h0M81.6 82.8h0M111.3 73.6h0M92.0 104.7h0M71.6 81.0h0M87.4 96.2h0M90.6 66.0h0M72.0 93.8h0M85.8 100.7h0M93.3 95.1h0M100.3 93.7h0M106.1 74.2h0M104.5 86.8h0M68.2 68.8h0M72.6 89.0h0M89.1 73.9h0M70.0 84.9h0M87.8 74.6h0M86.1 54.6h0M93.1 63.4h0M106.6 86.0h0M82.0 83.4h0M81.6 92.9h0M81.1 92.8h0M76.7 69.1h0M99.8 97.3h0M71.8 74.9h0M80.6 87.0h0M91.2 103.3h0M69.7 75.5h0M90.6 59.9h0M101.3 55.9h0M93.8 68.4h0M78.6 87.1h0M72.1 78.0h0M75.6 73.3h0M97.0 63.2h0M104.7 63.7h0M90.2 71.8h0M94.2 56.1h0M98.1 65.7h0M86.5 93.7h0M83.5 70.6h0M82.3 70.3h0M99.4 78.9h0M96.6 61.1h0M72.7 87.7h0M83.1 62.9h0M98.8 85.1h0M64.4 78.7h0M103.5 91.5h0M89.8 101.4h0M94.4 53.8h0M88.9 59.7h0M92.5 99.5h0M95.9 94.1h0M106.4 84.1h0M91.4 101.8h0M76.8 96.7h0M94.0 79.2h0M63.2 79.6h0M75.7 86.8h0M87.9 81.6h0M92.7 91.4h0M77.0 78.5h0M87.7 98.4h0M82.2 105.1h0M86.6 75.2h0M86.4 72.8h0M96.2 61.0h0M70.0 76.6h0M92.4 96.1h0M84.6 69.3h0M80.8 103.2h0M106.5 80.0h0M73.2 77.9h0M92.6 55.3h0M109.0 71.6h0M69.8 97.0h0M94.9 79.3h0M92.5 79.3h0M77.5 104.8h0M72.9 89.2h0M78.5 93.8h0M64.6 81.2h0M69.6 83.6h0M74.9 84.0h0M99.5 95.8h0M79.3 76.4h0M97.1 94.0h0M85.6 59.1h0M103.5 80.8h0M94.5 73.2h0M69.0 92.6h0M92.2 87.5h0M100.8 87.2h0M82.8 89.5h0M81.2 75.9h0M80.8 89.4h0M80.1 72.5h0M96.1 100.7h0M81.7 89.2h0M75.1 70.4h0M108.2 69.7h0M69.7 88.9h0M75.2 95.8h0M73.8 102.6h0M80.1 79.5h0M72.6 69.0h0M83.6 68.3h0M98.7 54.1h0M94.3 98.3h0M101.9 86.9h0M63.4 78.3h0M92.3 70.7h0M64.4 76.5h0M80.4 105.2h0M105.6 85.2h0M67.1 84.3h0M83.0 61.3h0M100.2 89.3h0M86.0 96.9h0M95.8 61.4h0M88.9 76.0h0M88.2 93.2h0M96.7 85.0h0M110.1 70.1h0M84.4 79.0h0M90.6 68.4h0M101.2 71.4h0M100.7 86.2h0M95.7 76.0h0M88.4 64.0h0M85.5 67.1h0M96.1 58.5h0M89.0 85.7h0M104.0 74.1h0M100.1 99.2h0M107.7 79.5h0M68.9 72.5h0M74.6 89.5h0M98.3 96.8h0M84.3 78.5h0M85.8 73.6h0M85.2 91.6h0M97.8 71.1h0M90.7 60.7h0M64.9 74.5h0M66.6 76.7h0M80.9 70.2h0M69.4 86.2h0M104.2 74.2h0M74.1 93.8h0M101.8 57.1h0M72.0 70.4h0M100.7 94.5h0M77.6 78.2h0M80.2 79.4h0M101.9 67.4h0M92.4 107.3h0M102.5 59.3h0M77.6 77.7h0M104.2 91.3h0M105.5 81.6h0M77.1 76.3h0M74.8 94.2h0M79.5 65.4h0M83.0 83.6h0M82.4 84.7h0M96.0 71.6h0M87.0 74.0h0M77.3 69.4h0M86.4 53.5h0M106.2 73.0h0M84.6 82.5h0M101.5 84.2h0M87.1 72.0h0M99.8 81.2h0M96.0 78.8h0M89.0 85.5h0M88.6 99.3h0M99.9 87.6h0M92.3 104.4h0M65.1 79.6h0M81.2 106.7h0M70.8 84.6h0M69.8 95.5h0M86.8 94.5h0M77.8 102.9h0M101.1 68.1h0M98.8 55.8h0M108.9 82.6h0M64.3 79.8h0M68.8 77.9h0M76.2 90.8h0M68.1 71.5h0M82.9 79.4h0M84.2 86.5h0M73.9 66.4h0M85.4 89.2h0M92.7 72.4h0M111.7 70.2h0M73.0 94.2h0M74.4 66.2h0M98.1 79.4h0M99.6 96.3h0M87.8 67.9h0M88.6 90.3h0M78.7 89.0h0M73.1 65.3h0M90.7 56.6h0M98.9 100.2h0M86.8 103.5h0M96.1 90.4h0M97.0 73.4h0M94.3 56.3h0M102.4 78.8h0M72.8 78.2h0M96.3 83.7h0M82.3 66.4h0M73.9 65.0h0M83.2 92.2h0M92.8 94.3h0M93.0 72.6h0" stroke="#b2b2b2" stroke-width="1.20" stroke-linecap="round" fill="none"/>
<path d="M92.9 73.2h0M107.1 75.1h0M67.4 69.9h0M72.3 82.8h0M88.6 67.6h0M65.9 72.4h0M99.3 55.5h0M95.8 67.2h0M77.6 87.1h0M75.2 99.5h0M91.4 56.7h0M98.1 82.5h0M87.2 77.9h0M97.3 54.6h0M78.9 96.5h0M83.1 82.5h0M76.8 103.2h0M100.8 73.4h0M91.8 55.9h0M77.3 65.7h0M87.1 76.4h0M89.0 58.3h0M92.8 102.4h0M97.4 65.7h0M108.4 83.3h0M80.9 104.5h0M106.2 72.6h0M84.1 87.6h0M67.4 83.0h0M84.5 98.6h0M103.4 66.3h0M90.1 83.1h0M73.7 63.8h0M76.6 84.0h0M97.0 76.2h0M68.3 89.1h0M69.4 69.8h0M73.3 72.1h0M76.1 87.7h0M87.7 60.7h0M65.9 78.8h0M104.9 78.6h0M90.8 75.7h0M85.3 56.0h0M66.6 76.7h0M90.0 61.5h0M93.9 55.1h0M91.9 67.2h0M72.9 64.1h0M99.6 68.4h0M77.0 95.8h0M91.5 67.1h0M101.1 60.5h0M91.5 70.9h0M90.8 66.5h0M89.7 82.0h0M90.0 91.2h0M90.0 65.9h0M77.1 85.3h0M88.6 62.2h0M92.3 88.1h0M93.0 69.3h0M96.7 64.7h0M99.0 93.5h0M87.2 109.3h0M84.2 94.8h0M94.0 83.8h0M86.4 61.9h0M97.9 62.1h0M84.8 88.9h0M70.7 72.7h0M89.3 79.4h0M101.9 86.7h0M86.8 68.9h0M74.1 77.4h0M92.4 67.8h0M89.7 71.5h0M75.3 101.6h0M105.7 77.5h0M91.2 82.3h0M103.2 68.1h0M86.5 63.8h0M102.5 68.0h0M85.2 81.5h0M66.8 89.3h0M89.5 63.6h0M100.6 77.9h0M93.4 77.8h0M74.9 97.0h0M69.0 81.4h0M85.0 96.4h0M78.3 82.4h0M82.0 96.6h0M86.5 81.7h0M98.9 66.9h0M89.9 58.4h0M86.4 94.7h0M93.8 59.1h0M99.0 90.3h0M100.6 56.2h0M101.2 96.3h0M88.6 63.0h0M85.4 88.8h0M96.8 84.0h0M67.7 90.2h0M93.0 83.8h0M83.9 66.1h0M97.1 103.1h0M78.2 78.0h0M84.8 77.9h0M78.2 99.8h0M90.2 82.1h0M86.2 106.8h0M101.8 68.4h0M71.5 81.2h0M81.4 80.7h0M76.9 90.5h0M90.8 102.4h0M77.1 83.9h0M75.3 79.3h0M80.1 85.6h0M79.9 100.7h0M71.5 94.2h0M66.0 73.2h0M66.3 76.6h0M104.3 88.6h0M95.6 65.8h0M83.1 107.1h0M66.6 71.2h0M87.2 91.9h0M71.4 69.8h0M98.7 56.9h0M87.7 82.3h0M81.9 99.7h0M84.0 83.3h0M84.6 91.2h0M100.4 79.8h0M101.3 82.2h0M96.4 58.4h0M92.9 75.8h0M79.6 89.9h0M86.9 76.9h0M98.1 61.9h0M63.9 79.2h0M87.7 92.0h0M93.1 80.4h0M83.0 62.6h0M102.0 81.9h0M71.6 81.5h0M70.8 67.6h0M94.6 90.5h0M71.3 98.0h0M94.2 56.7h0M98.9 58.7h0M97.3 64.2h0M99.0 96.0h0M87.5 108.3h0M84.7 88.8h0M91.7 106.2h0M73.3 68.1h0M99.0 84.0h0M101.6 56.0h0M85.0 55.3h0M92.6 87.0h0M77.7 65.1h0M96.0 68.2h0M75.4 95.0h0M101.9 72.9h0M93.6 59.7h0M89.0 71.9h0M105.8 69.4h0M85.1 107.8h0M86.1 89.4h0M90.7 62.2h0M66.7 77.1h0M100.2 59.2h0M91.6 75.2h0M69.6 92.2h0M92.4 99.2h0M93.4 63.6h0M87.8 83.2h0M84.9 62.3h0M73.6 75.9h0M85.2 107.4h0M92.5 66.1h0M105.0 64.5h0M90.0 65.8h0M80.5 70.1h0M84.8 79.9h0M87.4 98.3h0M99.9 96.9h0M99.3 72.5h0M95.3 83.8h0M109.2 69.5h0M94.1 52.5h0M87.7 81.4h0M99.9 69.2h0M98.6 68.4h0M71.2 67.2h0M103.0 59.4h0M99.1 72.0h0M85.4 97.5h0M95.3 55.3h0M91.6 93.8h0M67.1 70.4h0M94.0 105.0h0M84.3 57.3h0M73.7 92.4h0M68.9 67.7h0M98.1 59.1h0M69.0 82.7h0M76.6 78.1h0M95.0 105.4h0M99.2 73.4h0M84.3 98.9h0M91.4 67.0h0M98.5 57.2h0M75.1 69.0h0M72.4 85.4h0M74.4 67.5h0M78.1 81.5h0M79.3 76.9h0M105.9 64.4h0M68.2 77.5h0M98.0 94.5h0M94.1 65.4h0M89.6 80.2h0M93.0 54.6h0M99.3 90.3h0M89.3 80.3h0M82.2 101.2h0M79.9 70.7h0M86.4 55.9h0M100.9 69.2h0M83.8 85.5h0M81.3 84.2h0M75.3 95.3h0M107.9 83.6h0M98.3 84.8h0M90.9 92.8h0M101.3 93.2h0M84.3 98.9h0M106.4 63.5h0M77.1 80.9h0M99.0 94.6h0M82.8 80.4h0M107.3 73.7h0M66.7 83.1h0M83.9 61.4h0M101.9 70.4h0M79.6 94.1h0M93.5 58.2h0M90.4 87.4h0M104.6 67.7h0M94.4 88.4h0M67.1 71.2h0M80.9 104.7h0M102.2 62.8h0M92.3 89.9h0M93.5 74.7h0M95.7 94.8h0M87.9 53.4h0M68.6 72.1h0M83.6 85.2h0M90.9 53.8h0M84.0 100.9h0M78.5 69.8h0M97.6 99.1h0M95.2 88.0h0M84.6 76.0h0M74.0 99.1h0M63.7 74.0h0M74.5 94.8h0M100.6 90.1h0M85.9 76.6h0M90.1 91.9h0M87.5 106.9h0M96.3 96.7h0M87.5 59.6h0M66.8 75.3h0M86.4 108.4h0M96.3 81.9h0M92.0 55.2h0M75.7 101.8h0M89.5 86.2h0M83.5 92.1h0M95.7 57.8h0M76.5 89.5h0M77.4 66.8h0M83.8 89.7h0M108.0 65.2h0M93.2 72.2h0M92.7 83.1h0M88.0 87.7h0M85.9 89.0h0M77.0 80.5h0M67.9 92.3h0M84.4 100.4h0M85.9 62.8h0M91.2 85.2h0M68.5 69.8h0M77.6 83.7h0M69.1 77.1h0M85.3 90.5h0M74.3 96.8h0M81.6 83.8h0M100.2 90.0h0M72.4 66.0h0M83.7 81.2h0M77.2 82.0h0M94.1 54.5h0M99.2 94.7h0M94.7 60.1h0M106.3 83.9h0M82.8 84.8h0M87.8 69.6h0M66.1 82.2h0M86.5 99.8h0M106.6 83.6h0M84.1 106.3h0M76.0 77.8h0M66.4 73.3h0M77.1 93.8h0M96.7 67.4h0M80.5 81.5h0M88.3 90.0h0M102.1 60.8h0M98.9 89.8h0M89.2 53.1h0M90.3 59.0h0M98.8 59.5h0M108.8 75.8h0M79.6 87.4h0M96.5 59.8h0M85.8 79.5h0M82.5 83.8h0M77.1 74.2h0M63.5 76.7h0M103.7 72.9h0M92.9 72.7h0M79.9 93.6h0M99.7 54.9h0M86.6 59.3h0M99.9 61.8h0M97.2 85.2h0M93.6 65.3h0M86.0 84.0h0M91.4 55.9h0M103.7 68.9h0M70.9 94.7h0M75.2 103.2h0M95.7 77.4h0M81.1 70.7h0M89.2 60.0h0M87.7 93.7h0M85.9 106.8h0M90.4 83.8h0M104.6 62.8h0M88.7 75.5h0M98.5 85.1h0M78.5 71.2h0M74.2 78.1h0M89.2 82.3h0M64.9 82.1h0M87.7 55.8h0M71.3 69.3h0M101.5 62.7h0M87.5 80.9h0M104.4 77.3h0M99.5 60.0h0M81.5 84.5h0M98.2 64.2h0M70.9 66.4h0M70.2 76.1h0M91.5 62.4h0M87.4 54.2h0M67.9 87.8h0M99.3 89.7h0M90.8 60.0h0M93.7 68.4h0M89.2 53.5h0M93.9 64.9h0M104.0 88.9h0M73.0 64.4h0M108.1 84.5h0M100.3 84.5h0M71.2 98.1h0M85.6 108.9h0M99.3 61.7h0M98.2 67.9h0M95.0 66.6h0M105.0 67.7h0M83.4 61.7h0M86.8 91.6h0M71.2 79.3h0M93.7 57.4h0M76.1 68.3h0M96.9 89.9h0M90.0 92.3h0M87.8 58.8h0M101.3 58.7h0M64.9 84.6h0M78.3 92.0h0M101.6 69.4h0M76.9 100.2h0M97.6 53.5h0M89.5 88.2h0M93.4 60.9h0M98.1 73.0h0M70.6 73.1h0M97.1 61.8h0M93.8 56.7h0M84.3 86.2h0M72.1 97.2h0M71.4 92.3h0M80.9 102.6h0M82.4 84.3h0M98.3 74.7h0" stroke="#ffffff" stroke-width="1.10" stroke-linecap="round" fill="none"/>
<path d="M62.2 76.9h0M62.9 74.7h0M64.4 71.7h0M67.2 69.2h0M71.3 65.7h0M72.3 64.7h0M72.7 63.6h0M74.2 63.5h0M78.0 64.9h0M79.3 65.8h0M81.5 61.1h0M83.0 57.8h0M82.4 55.4h0M83.9 54.4h0M85.4 53.7h0M86.6 53.7h0M92.2 52.9h0M93.7 52.4h0M95.8 52.9h0M101.6 55.2h0M102.8 56.3h0M104.0 58.2h0M111.7 71.7h0M110.2 76.3h0M111.7 78.5h0M109.2 82.7h0M108.2 88.8h0M105.4 92.4h0M102.9 95.8h0M98.6 99.8h0M97.8 103.2h0M95.3 104.0h0M96.0 105.6h0M94.2 106.7h0M94.2 107.1h0M93.0 108.3h0M87.0 109.4h0M86.1 109.9h0M85.3 110.7h0M79.5 107.5h0M76.9 106.6h0M74.9 105.2h0M74.5 102.8h0M71.2 100.4h0M68.7 98.4h0M68.9 94.2h0M67.2 93.4h0M67.1 92.1h0M64.9 88.3h0M62.4 78.1h0" stroke="#ffffff" stroke-width="1.60" stroke-linecap="round" fill="none"/>
<path d="M102.7 48.3h0M129.7 59.6h0M122.5 55.6h0M124.7 55.7h0M116.4 58.0h0M124.8 60.5h0M121.7 57.1h0M116.5 52.7h0M120.6 49.8h0M126.9 55.7h0M115.2 54.8h0M124.0 63.8h0M127.4 60.2h0M105.1 42.7h0M117.5 42.5h0M116.4 61.5h0M115.4 64.8h0M112.8 53.9h0M109.8 44.0h0M119.8 43.9h0M106.0 48.5h0M108.2 47.1h0M132.3 56.6h0M122.4 47.3h0M122.1 46.9h0M116.5 48.8h0M126.1 51.6h0M111.9 45.3h0M120.7 52.8h0M130.1 58.4h0M106.7 49.2h0M131.6 56.4h0M118.0 52.7h0M105.2 45.7h0M107.6 55.2h0M108.9 51.1h0M103.7 48.5h0M108.2 55.9h0M112.2 65.8h0M107.5 48.7h0M117.0 54.0h0M110.6 45.1h0M117.3 41.2h0M101.6 48.4h0M113.4 47.6h0M124.0 52.0h0M120.8 56.9h0M119.3 59.8h0M119.1 42.5h0M128.0 55.2h0M117.3 66.9h0M114.6 53.6h0M126.0 52.8h0M115.1 61.0h0M130.0 53.2h0M123.8 56.1h0M119.0 46.4h0M110.3 47.5h0M108.3 46.1h0M127.4 59.2h0M111.2 43.4h0M122.8 61.3h0M121.8 60.4h0M106.6 51.1h0M104.3 45.1h0M112.4 62.5h0M127.9 51.6h0M114.5 59.9h0M112.4 47.1h0M107.3 57.5h0M124.3 46.6h0M125.1 57.3h0M119.6 55.1h0M114.5 40.8h0M118.5 58.9h0M122.0 44.9h0M128.8 52.0h0M117.0 57.8h0M111.7 57.0h0M104.3 46.2h0M124.8 46.8h0M129.5 60.3h0M119.9 55.3h0M116.9 62.0h0M126.3 48.7h0M121.7 55.5h0M117.1 57.0h0M115.5 51.0h0M125.7 58.5h0M117.4 54.3h0M112.1 57.2h0M113.6 51.1h0M121.7 59.7h0M130.1 50.6h0M117.1 53.0h0M132.9 54.9h0M104.9 54.3h0M119.8 59.7h0M112.4 55.5h0M114.0 44.6h0M121.7 55.5h0M125.5 51.6h0M118.6 49.4h0M103.9 50.8h0M128.6 49.1h0M106.1 52.9h0M121.6 62.6h0M102.8 53.4h0M112.5 41.1h0M107.8 48.2h0M124.3 46.2h0M112.6 40.5h0M111.6 48.9h0M104.9 43.1h0M114.3 42.7h0M113.0 42.2h0M103.7 50.8h0M116.2 56.6h0M125.4 47.3h0M116.7 48.4h0M119.5 47.4h0M118.7 47.5h0M126.5 52.9h0M117.7 58.8h0M109.5 45.7h0M114.4 61.4h0M124.7 53.2h0M120.7 47.5h0M127.0 50.7h0M119.8 60.3h0M118.3 61.7h0M110.0 62.3h0M111.5 54.8h0M105.9 51.7h0M107.3 55.6h0M122.4 59.6h0M123.3 60.5h0M120.6 44.7h0M118.7 48.2h0M132.5 53.4h0M125.6 57.8h0M128.5 56.7h0M116.3 55.2h0M111.5 64.3h0M112.2 52.7h0M120.8 49.1h0M126.5 61.4h0M107.3 56.3h0M126.5 46.3h0M115.5 42.9h0M122.7 59.9h0M125.5 45.8h0M128.8 52.6h0M111.8 44.1h0M101.4 48.8h0M116.1 54.3h0M119.9 42.7h0M114.9 60.6h0M129.9 57.0h0M125.0 46.6h0M108.1 54.7h0M108.7 58.1h0M110.6 50.4h0M113.6 53.4h0M109.0 47.0h0M102.6 50.3h0M111.9 61.2h0M119.8 43.4h0M123.0 56.6h0M116.8 61.8h0M107.1 50.9h0M121.5 65.5h0M109.7 52.2h0M118.1 53.3h0M103.8 50.6h0M131.1 50.9h0M117.8 66.0h0M111.2 50.5h0M119.3 56.9h0M120.4 65.5h0M117.8 55.8h0M115.6 49.8h0M117.1 42.9h0M116.4 46.3h0M113.8 46.6h0M108.5 52.6h0M105.1 47.4h0M128.4 51.9h0M113.3 50.7h0M131.3 54.2h0M115.2 56.9h0M104.1 44.6h0M128.9 58.0h0M111.5 64.5h0M110.6 52.9h0M108.0 47.8h0M117.8 56.1h0M118.6 53.5h0M126.3 47.4h0M115.2 59.3h0M112.7 53.5h0M109.9 54.7h0M116.9 50.2h0M105.1 55.8h0M128.3 51.1h0M106.3 56.1h0M125.8 54.7h0M110.7 57.1h0M112.1 59.1h0M109.9 59.1h0M121.7 65.4h0M115.4 42.1h0M118.5 49.4h0M103.4 50.1h0M126.1 59.5h0M115.6 63.4h0M114.8 58.5h0M119.5 56.9h0M132.3 57.2h0M109.7 44.3h0M119.0 45.0h0M107.1 46.1h0M122.7 54.5h0M125.6 52.0h0M107.5 50.8h0M116.5 53.5h0M120.2 59.7h0M127.7 51.9h0M109.9 47.4h0M120.7 43.8h0M108.1 48.8h0M123.3 61.2h0M118.7 44.5h0M112.6 42.1h0M110.1 44.4h0M113.7 59.6h0M119.0 49.4h0" stroke="#b2b2b2" stroke-width="1.20" stroke-linecap="round" fill="none"/>
<path d="M117.4 51.9h0M110.3 63.9h0M107.5 44.1h0M125.5 45.4h0M118.9 44.8h0M107.4 48.8h0M116.4 52.5h0M117.3 59.2h0M113.9 58.7h0M119.5 62.2h0M111.5 49.9h0M115.6 53.6h0M108.1 43.9h0M110.3 42.6h0M106.3 48.9h0M112.0 48.7h0M117.5 61.3h0M112.9 50.6h0M104.3 53.6h0M112.8 60.7h0M111.0 54.4h0M120.0 52.7h0M111.4 49.9h0M113.6 67.2h0M112.9 55.7h0M112.0 60.6h0M118.1 64.9h0M125.2 45.4h0M121.3 45.9h0M124.0 59.9h0M112.5 61.2h0M106.7 53.8h0M109.7 44.8h0M104.5 51.9h0M105.8 45.4h0M103.6 48.7h0M104.0 45.8h0M114.9 52.1h0M115.3 64.0h0M109.9 52.2h0M114.1 52.4h0M105.6 48.2h0M120.3 55.7h0M118.9 49.6h0M130.4 57.3h0M125.5 50.9h0M129.8 52.6h0M122.7 52.2h0M107.4 55.2h0M107.3 47.0h0M102.2 49.1h0M108.0 42.1h0M110.0 52.4h0M124.5 50.2h0M121.0 57.8h0M119.3 54.9h0M111.6 50.6h0M110.1 45.5h0M103.9 44.2h0M112.8 52.2h0M114.7 60.4h0M121.4 48.2h0M120.1 57.1h0M116.5 58.4h0M119.6 51.3h0M113.2 61.3h0M113.1 48.3h0M124.9 53.1h0M117.2 56.1h0M127.3 47.7h0M109.2 47.6h0M128.8 60.3h0M122.7 58.7h0M127.8 58.7h0M119.2 57.8h0M122.6 54.0h0M116.9 52.2h0M116.8 47.1h0M107.5 52.9h0M106.8 50.2h0M111.4 50.4h0M122.7 55.3h0M122.1 60.2h0M106.0 45.7h0M112.4 48.7h0M115.5 68.3h0M108.2 50.8h0M102.1 45.1h0M113.0 59.8h0M107.4 44.6h0M115.7 63.9h0M105.1 46.5h0M127.8 48.9h0M130.7 57.1h0M106.0 56.7h0M114.9 50.5h0M114.4 54.8h0M115.9 53.3h0M103.7 50.3h0M106.8 53.2h0M105.3 55.3h0M112.1 61.6h0M114.9 53.8h0M115.1 58.3h0M113.7 47.5h0M115.1 49.1h0M126.3 52.2h0M117.2 49.7h0M110.3 46.6h0M116.1 54.2h0M119.7 43.8h0M126.3 58.2h0M117.9 61.8h0M108.8 47.6h0M112.7 46.6h0M109.2 54.7h0M116.3 63.8h0M112.8 45.8h0M110.6 64.1h0M123.8 51.4h0M108.1 44.1h0M111.8 49.2h0M116.9 56.1h0M115.3 50.1h0M114.3 53.1h0M109.8 46.1h0M112.4 50.7h0M114.4 52.8h0M122.5 63.8h0M110.9 46.3h0" stroke="#ffffff" stroke-width="1.10" stroke-linecap="round" fill="none"/>
<path d="M101.8 49.9h0M101.1 46.5h0M106.1 41.3h0M108.8 41.0h0M115.2 40.0h0M117.5 40.4h0M119.2 40.9h0M120.8 42.1h0M121.4 42.3h0M128.5 47.8h0M129.0 47.7h0M130.7 50.6h0M131.8 51.6h0M132.2 53.1h0M133.7 53.2h0M133.5 55.2h0M131.7 56.6h0M127.5 62.4h0M123.0 64.6h0M121.0 66.5h0M118.3 66.8h0M114.6 69.0h0M109.0 62.4h0M107.9 59.4h0M104.2 55.1h0M103.9 54.2h0M103.3 53.1h0" stroke="#ffffff" stroke-width="1.60" stroke-linecap="round" fill="none"/>
<path d="M140.7 63.9h0M152.4 75.4h0M144.2 70.0h0M124.1 70.2h0M144.1 61.0h0M134.6 55.6h0M144.4 66.0h0M123.0 73.9h0M150.3 59.9h0M150.5 70.9h0M145.9 54.0h0M146.2 70.6h0M149.2 57.4h0M159.1 64.6h0M121.9 68.0h0M146.9 74.4h0M133.5 73.3h0M152.0 59.4h0M130.8 70.1h0M145.3 69.8h0M129.5 78.3h0M141.7 61.4h0M139.4 62.1h0M158.2 73.4h0M154.1 64.8h0M118.9 76.1h0M148.9 78.2h0M139.6 72.0h0M137.8 55.4h0M136.0 58.1h0M121.6 76.4h0M141.6 58.8h0M132.7 79.0h0M119.8 74.5h0M127.9 73.8h0M129.9 75.6h0M124.4 74.7h0M138.1 57.2h0M149.5 59.8h0M140.3 71.9h0M146.3 55.1h0M155.3 76.6h0M154.2 61.3h0M131.4 59.6h0M147.1 57.1h0M134.6 75.1h0M136.8 59.1h0M147.0 76.8h0M140.6 68.5h0M140.4 64.0h0M138.2 71.1h0M152.6 62.1h0M119.6 66.3h0M136.7 78.0h0M140.4 81.7h0M154.2 63.0h0M121.2 73.5h0M147.5 65.2h0M151.3 72.0h0M152.2 78.7h0M151.9 77.3h0M138.5 60.5h0M155.6 58.3h0M120.6 75.8h0M139.5 53.9h0M151.6 56.5h0M139.9 80.5h0M131.5 73.9h0M153.0 77.0h0M140.8 77.5h0M148.4 79.9h0M158.6 67.6h0M137.0 56.8h0M138.0 80.2h0M127.2 72.3h0M151.2 66.6h0M133.1 74.0h0M148.0 65.1h0M118.1 68.3h0M126.2 71.6h0M153.0 63.9h0M128.1 77.2h0M153.0 73.4h0M146.7 55.4h0M120.7 76.3h0M141.8 78.1h0M144.1 80.1h0M154.0 58.7h0M157.7 64.7h0M148.8 59.6h0M136.8 57.2h0M142.2 57.7h0M158.7 71.2h0M149.6 67.6h0M139.4 54.8h0M129.9 66.9h0M152.3 59.5h0M117.8 67.3h0M132.8 61.2h0M145.9 55.1h0M126.5 67.8h0M128.7 66.6h0M157.4 68.4h0M123.7 67.2h0M156.3 62.2h0M148.7 64.2h0M144.4 78.7h0M140.4 56.1h0M144.6 60.9h0M150.8 79.2h0M134.7 73.7h0M115.0 70.0h0M143.8 79.8h0M148.5 71.1h0M143.7 55.1h0M148.7 62.4h0M150.2 70.7h0M124.8 76.2h0M155.9 76.1h0M126.0 68.7h0M153.6 74.9h0M150.1 55.3h0M135.6 65.5h0M146.9 78.9h0M141.9 68.9h0M134.8 75.8h0M154.6 68.3h0M127.7 72.2h0M152.8 73.9h0M141.8 58.3h0M147.0 70.7h0M146.8 66.7h0M140.6 58.1h0M128.0 65.3h0M133.9 79.6h0M146.6 56.6h0M131.1 76.7h0M112.7 73.8h0M146.5 60.8h0M128.2 72.6h0M146.7 54.8h0M140.7 64.2h0M128.5 65.3h0M128.8 76.3h0M155.8 69.9h0M144.9 77.7h0M114.0 75.2h0M154.8 57.5h0M132.6 71.3h0M137.8 55.2h0M131.9 63.3h0M141.1 79.1h0M116.4 69.0h0M134.5 64.7h0M121.8 66.5h0M118.3 72.8h0M121.6 74.3h0M152.3 78.4h0M137.0 71.8h0M129.5 68.9h0M132.7 67.3h0M117.6 68.3h0M136.3 55.6h0M142.6 70.7h0M148.8 63.4h0M142.6 63.3h0M121.1 73.0h0M150.2 60.7h0M136.7 71.0h0M148.5 63.1h0M150.7 73.9h0M134.0 78.1h0M153.9 68.8h0M137.6 67.7h0M146.0 68.3h0M139.2 78.0h0M117.8 68.2h0M157.5 60.6h0M141.7 61.5h0M148.9 71.8h0M129.0 66.3h0M138.7 56.2h0M125.3 72.0h0M121.5 68.6h0M132.6 77.7h0M122.7 72.2h0M135.8 59.6h0M130.9 61.0h0M148.4 61.0h0M126.6 71.8h0M128.4 72.5h0M151.4 70.4h0M126.2 69.7h0M159.0 64.2h0M157.0 73.4h0M123.6 64.4h0M122.7 66.1h0M137.2 59.8h0M141.8 76.1h0M148.8 63.5h0M144.9 67.4h0M141.1 55.3h0M117.6 75.0h0M143.2 79.8h0M133.1 70.6h0M132.9 78.6h0M126.6 67.7h0M149.8 64.3h0M133.1 56.5h0M158.0 67.9h0M134.9 58.4h0M132.0 63.7h0M129.4 71.9h0M134.1 74.5h0M126.1 74.6h0M135.2 63.0h0M151.5 55.9h0M144.3 54.4h0M141.3 67.2h0M151.4 73.5h0M130.5 70.5h0M132.7 74.8h0M158.7 72.4h0M119.7 69.3h0M137.7 79.2h0M127.8 64.9h0M145.4 70.9h0M136.0 70.8h0M133.2 68.7h0M147.0 65.0h0M155.5 59.6h0M153.0 63.4h0M115.1 76.3h0M137.5 80.2h0M131.2 73.5h0M123.7 72.4h0M123.5 72.7h0M113.3 73.8h0M151.0 69.8h0M137.5 66.7h0M143.0 76.9h0M136.4 58.2h0M117.8 72.0h0M127.6 63.2h0M140.8 55.9h0M118.9 75.0h0M130.0 72.5h0M120.5 73.1h0M136.9 56.8h0M131.2 69.0h0M121.9 68.8h0M136.5 65.4h0M143.4 68.2h0M141.6 68.0h0M137.4 62.7h0M153.8 66.9h0M155.7 63.9h0M124.5 71.8h0M145.9 67.5h0M142.4 57.5h0M152.5 66.7h0M146.8 61.4h0M155.4 60.5h0M147.4 62.2h0M156.9 70.8h0M147.3 69.2h0M148.8 61.7h0M130.5 72.5h0M138.9 65.6h0M140.8 72.4h0M133.6 78.2h0M132.8 66.8h0M124.7 74.8h0M123.1 65.4h0M115.2 73.5h0M122.7 71.5h0M113.3 75.1h0M127.2 67.4h0M152.1 65.8h0M133.8 70.2h0M136.8 77.9h0M155.2 76.5h0M137.8 73.5h0M137.1 54.4h0M159.1 65.8h0M139.7 64.0h0M156.6 67.6h0M146.2 71.1h0M115.0 74.3h0M135.7 68.3h0M125.7 69.5h0M137.9 78.5h0M144.1 66.9h0M150.4 67.0h0M143.5 58.9h0M129.0 61.8h0M130.8 73.1h0M148.8 79.3h0M141.7 77.0h0M143.2 55.9h0M144.2 74.8h0M133.9 69.2h0M142.9 73.1h0M132.9 64.0h0M137.3 70.2h0M119.1 66.7h0M136.3 75.3h0M146.7 71.4h0M136.3 58.5h0M128.8 62.5h0M135.1 55.7h0M128.8 61.9h0M135.5 71.5h0M153.9 73.3h0M127.2 71.8h0M149.4 77.3h0M141.1 78.8h0M143.8 64.5h0M157.3 65.3h0M130.2 76.3h0M154.4 75.9h0M145.2 62.9h0M136.6 64.9h0M150.8 62.6h0M133.4 75.7h0M118.1 76.1h0M138.8 72.9h0M144.7 60.6h0M154.6 71.3h0M140.1 64.3h0M144.9 60.2h0M143.4 61.7h0M132.9 60.9h0M141.7 55.3h0M128.5 62.4h0M149.3 64.5h0M155.1 73.6h0M154.3 66.0h0M128.6 70.2h0M144.8 77.1h0M138.7 57.2h0M156.1 67.2h0M118.3 68.8h0M139.8 72.3h0M144.0 66.4h0M148.8 70.9h0M134.7 58.0h0M153.6 66.6h0M138.9 77.2h0M148.9 78.3h0M135.0 70.3h0M159.1 63.6h0M118.6 74.9h0M138.4 60.8h0M148.3 64.5h0M149.3 77.3h0M146.2 80.9h0M119.0 68.0h0M137.0 63.7h0" stroke="#f2bfa6" stroke-width="1.20" stroke-linecap="round" fill="none"/>
<path d="M158.6 67.7h0M149.6 62.4h0M136.4 74.7h0M123.7 64.6h0M138.5 57.7h0M136.3 56.8h0M136.9 79.1h0M140.3 54.0h0M157.3 69.8h0M116.8 75.1h0M127.4 69.1h0M143.7 61.4h0M142.8 68.5h0M139.4 81.5h0M146.2 58.4h0M141.6 78.4h0M149.0 71.9h0M145.9 61.9h0M135.1 58.3h0M151.2 66.4h0M153.6 73.7h0M139.6 80.1h0M129.0 68.7h0M131.8 62.6h0M141.2 60.0h0M121.4 71.5h0M128.3 68.9h0M121.3 70.9h0M126.3 63.1h0M141.1 77.8h0M148.9 77.3h0M146.1 59.0h0M151.0 74.1h0M154.5 56.8h0M144.5 57.3h0M132.8 58.7h0M125.0 69.1h0M134.1 56.9h0M152.4 65.6h0M123.8 70.6h0M132.2 60.6h0M148.0 59.7h0M152.3 58.5h0M155.2 58.6h0M129.5 63.6h0M134.9 77.7h0M139.8 79.6h0M127.3 65.5h0M151.9 69.1h0M150.7 56.8h0M131.6 63.5h0M133.2 56.5h0M129.0 63.7h0M122.0 65.5h0M119.6 70.2h0M125.8 73.7h0M139.5 57.7h0M154.5 64.8h0M151.4 60.7h0M135.2 60.0h0M132.1 76.9h0M154.6 76.3h0M127.4 69.0h0M132.5 61.2h0M133.4 60.6h0M115.5 74.0h0M140.6 80.9h0M127.1 66.7h0M140.9 76.0h0M127.1 64.6h0M130.2 64.0h0M144.4 65.9h0M136.8 78.2h0M152.2 60.4h0M123.4 64.4h0M135.2 61.4h0M148.4 69.7h0M154.0 74.3h0M123.6 67.5h0M158.0 62.1h0M138.4 54.9h0M158.7 63.6h0M152.5 68.2h0M138.0 55.8h0M149.3 77.6h0M133.4 77.7h0M155.9 76.3h0M141.1 55.0h0M148.9 75.1h0M140.9 66.5h0M129.1 62.0h0M153.1 78.4h0M148.6 76.2h0M146.0 77.9h0M135.8 77.9h0M122.0 70.8h0M118.0 73.3h0M151.1 67.1h0M136.7 76.3h0M158.6 62.5h0M156.4 67.2h0M114.0 72.5h0M133.8 62.5h0M132.3 74.7h0M146.3 59.3h0M150.6 73.6h0M140.5 68.4h0M137.0 64.6h0M135.2 72.2h0M155.1 71.6h0M142.8 68.0h0M155.2 66.7h0M141.2 79.4h0M144.3 69.8h0M145.5 77.5h0M131.0 60.3h0M130.2 74.1h0M120.3 75.5h0M131.4 75.9h0M118.2 69.3h0M125.2 75.1h0M131.7 79.4h0M151.7 58.8h0M122.1 70.8h0M142.4 58.8h0M118.6 69.7h0M137.5 80.0h0M152.8 59.0h0M144.9 54.3h0M131.9 58.1h0M149.9 68.6h0M126.4 65.4h0M146.6 70.4h0M130.5 77.2h0M126.0 67.4h0M150.4 75.5h0M139.2 61.8h0M130.9 77.6h0M137.1 55.3h0M155.7 70.1h0M149.4 61.3h0M135.5 70.0h0M153.3 56.8h0M125.3 75.8h0M129.9 64.8h0M139.7 58.6h0M153.6 65.9h0M157.7 66.8h0M131.3 78.5h0M140.8 80.4h0M142.4 78.5h0M121.3 68.4h0M118.2 72.8h0M129.4 65.9h0M146.6 58.6h0M149.8 77.7h0M148.9 75.0h0M128.4 65.6h0M147.7 67.3h0M133.0 59.8h0M132.5 60.3h0M156.9 66.0h0M139.2 77.4h0M129.8 74.9h0M145.0 58.6h0M150.7 75.6h0M139.2 80.2h0M137.3 60.5h0M125.6 69.7h0M134.0 72.6h0M151.6 78.0h0M143.7 59.9h0M155.0 59.1h0M132.4 66.0h0M138.8 79.5h0M136.2 60.9h0M133.6 63.7h0M129.6 77.8h0M144.0 74.1h0M118.7 72.2h0M150.3 68.9h0M151.7 72.3h0M157.3 68.4h0M155.5 66.8h0M149.1 63.6h0M148.1 68.7h0M140.2 69.1h0M153.0 60.4h0M132.8 57.5h0M141.5 75.7h0M148.4 79.2h0M133.9 78.2h0M150.1 75.8h0M157.2 74.0h0M142.3 75.3h0M125.8 64.6h0M129.0 78.2h0" stroke="#ffffff" stroke-width="1.10" stroke-linecap="round" fill="none"/>
<path d="M112.4 72.9h0M115.6 68.6h0M116.8 67.1h0M119.1 65.4h0M125.2 62.9h0M125.4 64.1h0M127.8 61.8h0M129.9 59.9h0M131.5 59.0h0M131.4 56.5h0M133.0 56.1h0M136.4 54.7h0M139.8 52.9h0M146.6 53.6h0M149.0 54.6h0M151.1 55.6h0M159.7 63.3h0M160.8 68.2h0M159.2 69.1h0M153.7 77.8h0M144.0 81.5h0M143.5 82.3h0M135.0 81.2h0M133.1 79.6h0M129.8 78.5h0M130.0 78.9h0M127.3 77.8h0M123.6 77.0h0M123.8 77.4h0M119.8 76.9h0M117.2 77.9h0M112.6 73.9h0" stroke="#ffffff" stroke-width="1.60" stroke-linecap="round" fill="none"/>
<path d="M121.9 107.6h0M120.5 91.8h0M113.0 79.4h0M112.8 79.0h0M124.8 112.8h0M116.4 95.2h0M125.1 112.3h0M119.2 88.4h0M112.6 101.0h0M107.8 103.1h0M104.6 108.4h0M115.3 109.9h0M109.3 103.0h0M105.1 94.0h0M102.8 96.3h0M114.9 81.8h0M111.0 81.6h0M124.0 86.8h0M119.8 104.8h0M121.8 101.7h0M110.4 98.9h0M99.4 99.5h0M110.2 110.3h0M110.2 99.5h0M117.6 88.5h0M102.5 104.3h0M124.6 111.6h0M110.6 102.0h0M102.8 100.2h0M105.5 102.8h0M117.4 105.9h0M115.2 97.5h0M122.3 111.5h0M105.1 112.0h0M120.4 102.9h0M103.9 94.0h0M115.7 113.9h0M116.0 99.7h0M100.2 101.9h0M122.2 111.6h0M117.4 115.5h0M116.7 87.7h0M113.6 104.8h0M113.0 114.6h0M104.2 93.4h0M109.5 106.8h0M104.8 107.9h0M115.0 112.7h0M116.9 87.7h0M123.1 82.8h0M117.3 105.2h0M99.9 105.6h0M125.1 85.4h0M106.9 92.7h0M120.5 101.3h0M112.9 107.9h0M111.8 113.7h0M126.2 82.5h0M121.1 101.2h0M105.4 93.9h0M110.1 104.2h0M112.5 113.8h0M114.3 98.4h0M116.2 102.4h0M101.2 108.7h0M118.6 112.5h0M121.1 104.4h0M103.6 103.9h0M117.2 84.6h0M114.5 114.7h0M119.4 105.1h0M102.2 99.4h0M116.3 82.9h0M119.6 113.0h0M103.6 108.8h0M108.0 105.9h0M111.3 101.8h0M102.7 96.7h0M103.8 111.2h0M116.9 80.3h0M113.9 81.7h0M117.1 102.3h0M124.9 81.5h0M119.1 89.5h0M123.9 82.8h0M112.1 99.4h0M102.4 97.1h0M122.5 106.1h0M107.3 84.4h0M121.6 111.9h0M118.0 114.9h0M119.8 99.6h0M107.3 108.3h0M112.4 99.2h0M118.3 84.8h0M118.2 80.4h0M115.8 95.4h0M117.0 83.7h0M120.4 103.0h0M113.6 90.7h0M107.0 88.5h0M119.9 93.4h0M106.4 92.2h0M107.6 98.6h0M109.0 90.3h0M107.6 110.5h0M111.1 84.6h0M114.4 94.4h0M110.2 104.5h0M120.5 80.4h0M121.7 114.8h0M119.5 106.8h0M114.9 101.2h0M103.4 103.3h0M118.6 113.2h0M116.4 84.8h0M118.6 86.5h0M121.7 89.3h0M125.6 110.9h0M119.5 114.0h0M122.3 111.0h0M120.6 109.5h0M120.8 96.5h0M119.7 108.4h0M105.4 107.7h0M111.6 105.2h0M110.6 113.4h0M121.9 82.2h0M120.2 99.4h0M121.4 95.3h0M101.9 97.5h0M110.4 109.7h0M119.5 106.2h0M106.6 100.4h0M116.5 86.2h0M117.0 94.0h0M116.1 106.4h0M108.3 113.9h0M112.2 105.4h0M112.5 101.4h0M101.0 108.9h0M104.7 106.2h0M120.8 79.8h0M100.8 102.6h0M121.1 103.5h0M102.7 111.0h0M103.8 95.9h0M114.6 97.9h0M103.0 106.5h0M104.5 105.5h0M108.0 97.7h0M120.9 87.6h0M114.7 88.1h0M108.8 100.9h0M124.4 84.6h0M106.9 92.2h0M112.8 101.4h0M98.1 106.3h0M110.6 92.6h0M109.3 97.9h0M111.6 98.7h0M105.7 99.4h0M118.9 96.9h0M119.9 108.4h0M109.0 101.0h0M119.8 91.4h0M119.9 112.3h0M104.9 103.4h0M123.2 104.3h0M117.5 101.7h0M108.8 108.5h0M121.7 115.6h0M114.8 92.6h0M117.2 105.2h0M108.1 98.2h0M112.1 81.4h0M117.6 94.2h0M115.9 107.0h0M123.6 113.5h0M105.2 104.5h0M119.0 80.8h0M121.8 114.8h0M115.2 96.6h0M114.6 115.1h0M117.9 90.8h0M121.7 111.1h0M113.6 79.7h0M108.0 92.6h0M125.3 111.3h0M119.6 103.5h0M114.0 113.4h0M113.1 90.6h0M104.3 104.0h0M113.5 101.3h0M112.2 100.3h0M118.7 91.4h0M108.6 99.0h0M110.6 104.3h0M109.0 98.3h0M120.6 109.0h0M117.8 78.8h0M121.1 88.2h0M122.8 115.6h0M112.6 102.7h0M115.2 105.8h0M103.5 111.3h0M109.3 111.6h0M118.5 93.9h0M114.7 107.7h0M114.5 82.1h0M111.3 93.3h0M100.6 102.3h0M121.1 106.4h0M103.6 95.1h0M115.5 83.2h0M118.2 78.7h0M110.9 90.6h0M116.8 91.9h0M109.7 107.3h0M121.5 96.6h0M100.7 105.5h0M115.4 113.0h0M118.2 97.0h0M104.4 103.2h0M120.0 114.5h0M114.9 108.3h0M119.2 85.2h0M109.0 101.1h0M107.2 105.5h0M99.1 106.3h0M114.6 78.2h0M111.3 93.3h0M107.4 113.0h0M119.6 87.3h0M123.0 114.4h0M125.4 108.4h0M107.3 106.9h0M114.7 91.0h0M108.7 93.7h0M125.7 83.5h0M110.5 95.9h0M122.9 104.3h0M120.6 95.5h0M105.6 87.9h0M125.8 83.6h0M121.3 79.9h0M100.0 107.8h0M114.0 98.8h0M105.1 93.5h0M116.8 112.9h0M101.4 96.2h0M115.8 107.6h0M103.2 92.8h0M120.2 88.3h0M114.9 93.7h0M99.4 103.7h0M120.5 81.0h0M108.8 112.5h0M114.8 113.2h0M98.1 101.3h0M119.8 89.7h0M120.0 94.4h0M112.3 105.7h0M112.4 113.1h0M110.3 84.7h0M108.4 102.6h0M108.2 102.2h0M102.5 101.0h0M110.1 90.3h0M111.0 90.1h0M118.5 114.1h0M119.9 82.4h0M111.4 83.8h0M106.5 102.9h0M119.1 86.1h0M119.4 95.6h0M117.5 115.8h0M118.3 112.3h0M102.1 106.6h0M116.4 86.8h0M102.2 94.8h0M99.4 101.7h0M107.8 83.2h0M117.1 86.7h0M121.7 80.5h0M118.6 98.4h0M98.2 102.8h0M124.6 111.2h0M109.8 89.5h0M111.8 98.1h0M108.9 92.0h0M121.2 85.1h0M105.3 88.3h0M109.7 95.1h0M115.4 94.4h0M114.7 112.8h0M104.4 90.3h0M109.9 102.0h0M102.8 98.5h0M117.5 114.7h0M120.9 94.4h0M120.3 103.0h0M113.2 88.7h0M100.5 99.0h0M109.1 112.6h0M108.7 91.3h0M111.9 102.4h0M107.3 93.1h0M111.1 103.3h0M111.1 98.9h0M115.0 86.0h0M101.9 105.4h0M114.3 93.5h0M118.3 83.4h0" stroke="#b2b2b2" stroke-width="1.20" stroke-linecap="round" fill="none"/>
<path d="M120.1 79.5h0M113.7 95.3h0M115.4 111.3h0M118.2 115.8h0M117.0 102.2h0M115.5 80.9h0M107.6 102.6h0M109.1 89.9h0M113.9 91.8h0M105.7 96.8h0M102.1 95.7h0M119.7 116.7h0M117.9 81.7h0M110.2 91.9h0M115.3 94.0h0M124.6 112.1h0M107.8 88.1h0M110.3 100.3h0M109.8 106.4h0M117.6 81.5h0M116.0 78.7h0M114.2 105.5h0M115.1 97.8h0M115.9 109.5h0M123.0 80.4h0M100.2 100.7h0M102.5 101.3h0M107.7 91.9h0M115.2 116.6h0M115.9 109.8h0M101.7 104.6h0M114.1 90.5h0M108.8 86.6h0M118.9 114.7h0M106.1 88.3h0M105.5 99.8h0M125.4 113.2h0M121.6 99.6h0M119.4 110.3h0M120.8 100.6h0M122.6 103.5h0M117.5 93.7h0M118.4 106.6h0M119.9 109.9h0M111.2 114.6h0M121.6 102.1h0M115.4 98.8h0M116.5 94.0h0M118.9 115.1h0M108.0 97.3h0M115.0 86.3h0M107.1 94.2h0M107.0 113.4h0M116.6 80.9h0M103.8 95.2h0M119.9 85.8h0M106.6 88.2h0M118.1 104.2h0M117.8 78.5h0M119.8 105.5h0M112.6 110.4h0M115.9 88.8h0M114.3 95.0h0M108.2 91.6h0M110.6 90.1h0M108.9 96.3h0M113.6 106.7h0M114.3 113.9h0M113.4 110.4h0M117.4 111.3h0M103.2 105.7h0M111.0 98.6h0M123.4 85.5h0M108.7 87.0h0M116.2 95.3h0M105.2 94.7h0M107.6 99.7h0M120.0 108.5h0M112.9 81.7h0M115.9 104.4h0M109.6 86.2h0M117.4 116.8h0M108.6 91.2h0M107.0 109.6h0M122.4 86.5h0M114.0 88.6h0M114.6 87.0h0M104.7 93.3h0M105.3 89.2h0M100.3 98.3h0M115.5 113.0h0M108.9 84.5h0M108.0 91.0h0M103.6 101.7h0M112.3 107.4h0M100.0 104.7h0M116.3 80.6h0M101.9 109.1h0M116.8 84.2h0M121.5 107.2h0M123.3 114.2h0M121.9 103.6h0M119.3 79.1h0M108.2 93.7h0M116.9 114.9h0M115.5 116.6h0M120.0 109.8h0M102.8 111.0h0M113.9 87.1h0M115.1 109.5h0M117.0 80.0h0M117.5 101.5h0M112.1 88.1h0M121.2 102.0h0M102.6 95.8h0M115.8 105.9h0M111.7 93.2h0M109.1 81.6h0M104.1 107.5h0M120.5 98.0h0M108.0 93.3h0M118.5 117.2h0M119.5 112.7h0M115.3 81.3h0M103.5 100.1h0M116.3 98.4h0M112.4 88.0h0M108.1 95.4h0M120.1 80.3h0M120.8 114.9h0M108.6 100.8h0M112.1 97.2h0M111.4 95.0h0M112.6 89.6h0M121.2 102.1h0M115.4 85.6h0M123.4 104.9h0M119.0 83.0h0M112.6 113.0h0M126.1 84.6h0M115.5 78.3h0M112.4 99.2h0M111.8 110.8h0M108.6 108.2h0M116.7 79.5h0M102.6 94.4h0M109.8 107.2h0M109.7 96.8h0M110.4 87.9h0M115.5 93.8h0M103.9 103.7h0M106.9 96.7h0M118.8 90.5h0M116.1 110.0h0M116.0 88.1h0M112.6 88.4h0M113.5 86.1h0M110.9 115.1h0M111.3 98.1h0M121.3 88.4h0M123.1 107.5h0M118.1 101.4h0M108.6 95.2h0M117.7 113.1h0M117.4 106.9h0M120.5 103.7h0M115.3 106.4h0M113.3 100.5h0M122.6 109.2h0M116.8 105.3h0M104.7 96.0h0M123.0 84.6h0M111.9 111.2h0" stroke="#ffffff" stroke-width="1.10" stroke-linecap="round" fill="none"/>
<path d="M108.2 81.6h0M120.6 78.3h0M122.4 80.4h0M125.9 80.6h0M126.7 82.8h0M126.5 83.1h0M126.0 84.0h0M125.4 84.7h0M123.5 90.2h0M121.7 91.5h0M122.2 92.4h0M121.6 96.4h0M122.3 100.9h0M122.0 102.3h0M124.1 104.8h0M123.8 106.4h0M124.6 106.8h0M126.0 108.8h0M125.5 110.5h0M125.2 114.2h0M124.1 115.4h0M122.2 116.2h0M122.1 117.5h0M115.3 118.5h0M111.7 116.5h0M111.5 117.1h0M110.9 115.9h0M109.3 116.0h0M108.0 114.2h0M106.9 113.6h0M102.6 110.7h0M101.0 108.9h0M98.5 106.1h0M97.3 105.7h0M96.2 102.7h0M97.8 101.9h0M98.1 100.9h0M99.4 99.0h0M101.0 97.9h0M100.6 96.3h0M101.5 95.3h0M100.8 93.3h0M103.3 92.3h0M103.6 91.1h0" stroke="#ffffff" stroke-width="1.60" stroke-linecap="round" fill="none"/>
<path d="M131.4 86.5h0M132.5 99.4h0M134.2 100.3h0M133.8 91.4h0M135.5 91.9h0M126.8 104.7h0M134.8 96.3h0M131.0 97.0h0M130.8 90.9h0M131.5 102.9h0M126.8 89.8h0M125.3 97.1h0M126.5 89.9h0M128.0 104.9h0M130.1 97.3h0M126.8 92.8h0M131.7 95.9h0M127.0 95.0h0M127.5 92.8h0M131.7 91.5h0M127.1 98.0h0M134.8 94.9h0M127.8 98.6h0M130.0 97.4h0M131.4 98.6h0M135.2 89.2h0M127.9 88.2h0M132.6 99.5h0M129.8 89.1h0M131.3 93.7h0M131.8 90.4h0M125.2 100.4h0M135.9 97.3h0M131.7 105.9h0M127.5 104.5h0M133.9 98.8h0M126.8 104.3h0M131.9 96.5h0M130.7 106.0h0M126.5 92.1h0M130.2 91.7h0M136.2 99.3h0M131.6 95.0h0M131.2 105.6h0M126.5 101.1h0M127.0 90.5h0M129.1 98.0h0M132.7 87.3h0M127.7 98.3h0M124.4 98.0h0M125.0 97.6h0M127.8 101.7h0M130.4 93.3h0M135.7 94.1h0M126.8 93.8h0M125.0 96.9h0M135.5 93.6h0M133.0 101.1h0M129.7 94.8h0M133.1 91.2h0M126.6 98.9h0M135.3 92.3h0M126.2 92.4h0M131.7 101.3h0M129.2 89.0h0M128.0 88.1h0M125.6 95.5h0M132.8 101.1h0M133.0 101.6h0M124.0 94.1h0M128.4 99.8h0M130.7 87.0h0M131.8 88.8h0M133.1 90.6h0M132.2 96.9h0M136.0 97.4h0M134.7 99.4h0M128.0 100.3h0M126.7 94.5h0M125.3 97.4h0M129.9 104.4h0M128.6 92.1h0M124.1 96.5h0M127.4 103.1h0M129.0 99.5h0M125.4 96.6h0" stroke="#a8a8a8" stroke-width="1.20" stroke-linecap="round" fill="none"/>
<path d="M131.1 100.4h0M133.0 101.5h0M126.9 102.1h0M133.7 92.0h0M133.6 91.5h0M129.5 96.3h0M131.1 93.5h0M134.8 96.1h0M124.0 93.7h0M125.0 97.1h0M124.1 94.1h0M131.3 99.0h0M136.1 95.9h0M126.4 94.6h0M128.9 95.1h0M124.6 99.2h0M130.2 101.6h0M130.5 94.7h0M136.0 93.3h0M129.3 93.0h0M124.2 95.5h0M134.7 101.9h0M126.0 103.5h0M128.5 99.2h0M128.9 95.4h0M130.3 87.2h0M128.0 95.2h0M127.4 102.2h0M131.9 103.9h0M133.6 102.2h0M134.5 96.1h0M130.0 104.3h0M132.4 96.8h0M124.6 91.8h0M129.8 106.4h0M136.2 98.7h0M131.2 104.8h0M132.9 95.9h0M126.3 100.8h0M125.2 90.9h0M126.9 104.0h0M124.8 95.6h0M135.5 93.8h0M127.6 97.0h0M129.5 102.8h0M126.0 94.4h0M131.7 94.4h0" stroke="#ffffff" stroke-width="1.10" stroke-linecap="round" fill="none"/>
<path d="M125.0 89.1h0M127.9 86.0h0M130.6 86.8h0M132.7 86.5h0M135.4 89.4h0M136.1 90.2h0M137.1 91.4h0M136.7 95.6h0M137.4 99.2h0M135.7 101.1h0M135.0 102.3h0M134.7 104.2h0M133.7 105.1h0M133.0 107.0h0M132.5 106.4h0M129.5 107.0h0M126.5 105.0h0M126.4 103.1h0" stroke="#ffffff" stroke-width="1.60" stroke-linecap="round" fill="none"/>
<path d="M151.5 99.1h0M150.5 91.9h0M147.0 106.1h0M151.5 95.4h0M148.2 105.6h0M153.7 106.0h0M163.5 80.0h0M159.5 81.0h0M149.8 83.2h0M164.8 86.1h0M152.1 88.2h0M146.7 105.9h0M144.7 103.5h0M145.6 96.4h0M148.3 110.0h0M151.7 96.2h0M165.2 95.4h0M162.9 102.6h0M150.2 103.6h0M167.0 84.5h0M138.0 104.5h0M138.8 107.2h0M149.4 105.8h0M143.4 91.3h0M154.9 89.0h0M148.1 108.4h0M138.1 88.9h0M166.5 84.1h0M147.5 90.2h0M145.2 90.8h0M140.7 100.9h0M159.1 96.9h0M163.3 93.7h0M139.1 89.9h0M139.2 92.6h0M158.8 104.8h0M149.5 108.2h0M149.7 87.5h0M153.8 106.7h0M138.8 87.5h0M143.1 109.9h0M152.4 94.6h0M144.0 94.3h0M158.7 94.7h0M158.9 81.0h0M139.1 93.1h0M144.9 92.4h0M152.1 86.1h0M162.4 93.9h0M156.7 96.0h0M138.8 103.5h0M151.5 109.1h0M150.6 97.2h0M148.3 104.3h0M157.2 81.2h0M144.8 102.4h0M148.9 107.5h0M139.3 107.3h0M144.6 93.1h0M158.2 88.6h0M165.2 84.0h0M146.5 100.9h0M158.0 97.2h0M152.5 98.4h0M162.0 93.3h0M142.7 91.7h0M153.7 100.9h0M161.6 78.7h0M156.2 91.0h0M147.6 107.7h0M156.4 102.9h0M152.1 102.0h0M149.8 95.7h0M165.7 98.0h0M145.5 105.0h0M143.3 99.9h0M159.6 97.7h0M138.7 88.0h0M146.3 97.1h0M139.1 93.3h0M164.6 94.1h0M140.8 91.9h0M148.8 107.7h0M157.2 98.7h0M152.2 103.1h0M149.2 85.4h0M153.1 95.8h0M146.0 105.3h0M148.6 101.2h0M138.9 92.9h0M147.0 84.2h0M148.0 99.2h0M149.3 109.7h0M157.8 84.3h0M143.9 105.7h0M144.9 108.8h0M152.8 98.6h0M160.4 82.5h0M154.7 100.7h0M142.5 88.4h0M139.2 108.5h0M144.9 98.9h0M162.2 103.2h0M163.9 100.6h0M150.2 107.5h0M157.6 86.8h0M166.4 95.7h0M152.0 107.1h0M148.7 105.3h0M142.7 85.3h0M163.1 95.5h0M141.9 108.5h0M149.0 88.1h0M165.9 88.8h0M148.5 109.7h0M157.0 99.3h0M141.4 103.9h0M151.0 82.6h0M141.0 85.3h0M152.4 81.1h0M143.0 104.3h0M156.9 98.8h0M142.4 104.7h0M163.2 97.9h0M138.0 89.6h0M166.6 89.3h0M145.3 93.5h0M164.3 99.7h0M155.5 86.3h0M140.8 96.8h0M153.8 102.3h0M143.8 93.3h0M142.5 100.9h0M158.1 87.3h0M160.3 92.8h0M163.6 81.8h0M168.3 84.3h0M157.3 97.0h0M153.3 84.3h0M160.7 99.0h0M166.7 85.4h0M146.4 98.5h0M160.2 99.5h0M154.1 84.2h0M155.0 83.3h0M142.7 96.1h0M142.1 93.9h0M155.8 86.0h0M166.5 94.2h0M142.4 97.9h0M162.4 82.7h0M147.0 107.4h0M161.3 84.3h0M144.7 106.9h0M161.4 100.4h0M157.5 105.2h0M153.4 84.4h0M165.9 97.4h0M143.7 104.5h0M157.4 101.0h0M149.5 87.7h0M148.8 100.5h0M157.1 90.2h0M142.6 89.6h0M154.6 81.1h0M142.5 107.5h0M147.8 91.6h0M139.5 95.6h0M153.8 94.0h0M156.0 91.1h0M144.3 107.6h0M164.4 81.5h0M165.4 95.6h0M143.9 107.7h0M160.2 85.3h0M146.3 83.4h0M150.9 95.0h0M164.4 91.9h0M146.2 94.0h0M147.8 87.0h0M146.1 93.8h0M140.5 92.0h0M143.6 96.4h0M153.4 106.2h0M141.2 93.1h0M139.9 97.9h0M145.3 99.4h0M155.5 86.8h0M144.9 90.9h0M153.3 103.7h0M165.1 99.5h0M151.4 93.9h0M141.3 93.2h0M164.1 91.5h0M149.2 110.6h0M140.2 100.3h0M161.1 89.5h0M162.0 80.3h0M145.5 83.1h0M144.7 83.8h0M145.6 98.4h0M164.6 78.0h0M146.8 95.9h0M139.3 99.3h0M152.4 100.9h0M144.8 111.0h0M142.5 110.3h0M168.0 94.1h0M141.4 108.8h0M148.4 85.0h0M140.6 90.3h0M140.8 101.7h0M145.6 104.4h0M144.4 108.4h0M142.1 84.7h0M140.0 89.0h0M157.1 91.5h0M167.3 92.1h0M165.2 82.8h0M155.5 90.6h0M160.5 82.3h0M139.0 101.6h0M161.1 85.7h0M168.7 87.0h0M161.8 103.2h0M138.9 87.5h0M150.6 87.7h0M139.5 107.2h0M159.3 95.5h0M150.9 88.3h0M145.7 85.4h0M152.9 83.0h0M150.5 87.8h0M141.6 93.6h0M160.6 86.6h0M148.3 87.7h0M150.6 84.1h0M142.8 90.1h0M147.6 103.8h0M149.5 105.9h0M143.3 98.8h0M155.5 88.5h0M152.0 102.7h0M146.5 97.9h0M138.4 100.8h0M162.1 79.6h0M167.1 96.1h0M139.2 106.9h0M147.8 86.1h0M157.2 85.0h0M157.0 102.4h0M142.5 86.6h0M147.8 93.0h0M155.1 96.7h0M158.8 94.3h0M151.4 94.0h0M160.8 88.4h0M165.2 92.6h0M153.5 107.8h0M139.4 103.4h0M142.9 109.9h0M146.2 86.2h0M168.1 92.9h0M143.0 100.2h0M151.7 100.3h0M142.7 93.7h0M142.7 106.3h0M146.5 91.0h0M159.3 102.5h0M154.9 95.8h0M154.7 93.1h0M147.2 100.7h0M138.2 89.2h0M143.8 96.6h0M154.0 100.3h0M148.6 91.5h0M151.3 103.1h0M143.0 102.6h0M138.3 95.9h0M159.7 92.9h0M145.0 99.4h0M162.6 89.3h0M151.7 106.7h0M152.7 94.0h0M167.1 95.8h0M152.3 91.8h0M154.4 82.0h0M142.5 106.7h0M148.5 104.4h0M146.3 92.7h0M156.2 106.9h0M148.8 97.8h0M153.3 95.8h0M140.5 91.8h0M138.2 92.6h0M149.6 109.1h0M148.2 84.6h0M152.3 99.5h0M145.4 91.1h0M145.4 99.4h0M158.8 85.9h0M140.3 96.7h0M156.4 105.3h0M145.3 88.4h0M158.0 79.9h0M145.4 98.8h0M154.1 106.9h0M150.1 90.8h0M140.2 108.2h0M166.0 79.4h0M148.6 90.8h0M141.3 97.0h0M154.0 101.3h0M161.9 94.5h0M156.4 104.1h0M148.4 109.8h0M152.1 90.4h0M142.0 105.7h0M164.9 97.9h0M163.7 94.1h0M139.7 102.3h0M157.4 105.3h0M151.1 97.9h0M149.3 109.9h0M150.4 90.4h0" stroke="#b2b2b2" stroke-width="1.20" stroke-linecap="round" fill="none"/>
<path d="M162.4 79.4h0M148.4 92.1h0M158.0 101.4h0M153.6 107.6h0M165.6 81.9h0M146.3 97.5h0M148.1 98.9h0M153.7 105.7h0M140.0 101.6h0M142.0 99.8h0M140.4 87.8h0M141.4 105.8h0M150.7 83.8h0M160.8 80.8h0M139.5 99.4h0M151.1 103.3h0M158.4 87.6h0M137.3 99.3h0M155.5 92.5h0M154.6 94.0h0M151.3 95.2h0M164.9 81.3h0M138.6 96.0h0M156.6 102.9h0M157.8 99.0h0M151.6 109.9h0M168.6 85.1h0M159.2 86.2h0M142.9 106.9h0M162.0 101.6h0M143.2 103.7h0M152.8 107.2h0M146.4 110.8h0M162.3 78.3h0M163.8 94.4h0M152.4 109.7h0M154.4 108.2h0M168.4 82.1h0M154.0 108.0h0M152.7 92.6h0M160.0 86.4h0M138.1 99.6h0M163.4 83.0h0M144.7 96.7h0M137.0 102.2h0M151.8 88.7h0M151.4 95.5h0M141.1 105.3h0M144.7 107.2h0M155.9 102.4h0M144.4 103.7h0M139.3 105.9h0M152.4 107.9h0M141.8 89.9h0M163.7 82.4h0M140.8 88.7h0M158.3 95.3h0M140.2 92.9h0M154.5 91.1h0M157.9 96.5h0M138.8 91.8h0M157.4 93.5h0M142.3 96.5h0M162.8 96.9h0M146.2 85.9h0M164.4 85.2h0M148.4 90.1h0M146.6 84.9h0M152.8 103.0h0M142.2 108.4h0M150.4 100.4h0M154.2 103.1h0M154.7 103.5h0M168.0 92.0h0M141.1 87.9h0M162.4 84.1h0M147.8 94.8h0M168.0 93.6h0M151.4 88.0h0M140.9 94.0h0M142.7 97.9h0M168.4 90.8h0M149.1 105.7h0M161.8 82.2h0M147.2 83.0h0M140.0 103.5h0M163.1 96.5h0M160.2 102.3h0M156.1 102.6h0M146.9 93.7h0M142.1 105.6h0M150.7 101.5h0M152.4 103.0h0M162.5 87.3h0M164.2 88.7h0M144.3 111.6h0M142.0 87.1h0M153.6 107.8h0M162.4 102.0h0M146.0 83.4h0M162.0 97.4h0M166.2 97.0h0M152.1 81.8h0M155.3 82.4h0M161.1 102.9h0M138.0 96.8h0M138.4 98.0h0M143.6 88.8h0M147.6 94.5h0M145.4 105.5h0M140.2 102.2h0M147.6 100.5h0M163.9 85.4h0M160.1 101.3h0M154.4 83.6h0M155.6 84.3h0M140.5 103.6h0M153.2 91.6h0M148.3 97.3h0M141.9 88.4h0M151.2 92.7h0M154.9 100.9h0M145.2 93.8h0M147.9 108.6h0M150.3 92.0h0M152.8 101.4h0M167.3 85.8h0M140.7 99.0h0M142.8 102.8h0M138.7 100.5h0M147.3 91.2h0M142.0 88.2h0M166.3 93.8h0M162.6 78.5h0M162.5 85.4h0M142.0 97.6h0M168.3 83.4h0M141.9 109.5h0M164.2 78.1h0M162.2 101.3h0M148.3 101.6h0M166.8 93.7h0M141.2 95.9h0M141.7 109.8h0M164.3 81.9h0M148.9 85.3h0M150.3 82.0h0M142.5 87.2h0M166.1 81.6h0M147.1 87.3h0M166.1 97.5h0M157.5 94.5h0M137.1 101.9h0M161.7 84.1h0M140.5 101.4h0M153.9 84.0h0M157.4 103.3h0M149.1 96.3h0M143.6 90.4h0M168.7 83.2h0M154.5 100.6h0M167.2 89.8h0M152.6 97.5h0M142.6 105.8h0M138.7 98.4h0M138.0 104.8h0M143.0 104.9h0M145.3 102.9h0M154.4 93.7h0M162.9 85.2h0M142.7 109.7h0M138.9 93.8h0M151.0 91.2h0M161.0 99.4h0M164.1 88.2h0M140.1 103.8h0M166.5 93.5h0M154.6 95.0h0M145.9 111.7h0" stroke="#ffffff" stroke-width="1.10" stroke-linecap="round" fill="none"/>
<path d="M136.9 87.6h0M139.8 85.6h0M143.4 85.0h0M145.2 81.8h0M149.1 81.4h0M152.1 81.3h0M156.4 79.9h0M161.2 77.8h0M162.2 78.2h0M164.4 76.5h0M165.9 76.7h0M166.5 77.9h0M168.8 82.7h0M170.0 85.8h0M169.7 87.5h0M168.1 90.5h0M168.4 95.2h0M166.0 98.4h0M165.4 100.6h0M164.1 101.2h0M159.8 104.6h0M157.1 106.4h0M152.4 110.1h0M150.6 111.5h0M144.8 111.7h0M141.9 111.5h0M139.1 109.3h0M137.2 105.9h0M136.8 104.9h0M136.9 104.8h0M136.8 103.2h0M137.4 101.2h0M136.2 100.7h0M136.6 98.9h0M138.7 92.9h0M138.0 90.8h0" stroke="#ffffff" stroke-width="1.60" stroke-linecap="round" fill="none"/>
<path d="M101.7 118.0h0M94.8 112.4h0M97.5 117.9h0M102.5 121.4h0M103.3 119.4h0M99.7 119.2h0M89.8 112.2h0M91.1 115.9h0M88.5 113.7h0M97.2 121.9h0M86.5 115.7h0M92.3 113.6h0M99.9 118.1h0M102.3 117.1h0M90.3 117.8h0M96.0 119.2h0M92.3 118.6h0M90.3 111.7h0M87.7 115.7h0M101.8 120.8h0M93.2 112.6h0M105.3 120.0h0M90.6 113.1h0M91.3 118.1h0M92.1 114.4h0M94.2 120.8h0M88.8 117.5h0M92.2 114.1h0M89.9 117.3h0M91.4 111.7h0M93.6 117.4h0M100.0 116.5h0M97.7 117.0h0M94.2 112.7h0M93.9 112.8h0M102.8 119.8h0M91.1 119.1h0M91.9 118.5h0M92.7 119.6h0M98.2 114.7h0M91.3 117.0h0M89.9 117.2h0M88.7 112.5h0M96.7 115.7h0M89.9 113.1h0M91.3 118.8h0M101.5 116.7h0M95.3 117.4h0M101.9 117.1h0M90.2 116.7h0M95.9 116.6h0M87.7 113.8h0M89.9 113.7h0M89.5 116.0h0" stroke="#b2b2b2" stroke-width="1.20" stroke-linecap="round" fill="none"/>
<path d="M97.8 119.3h0M94.5 119.0h0M101.8 116.1h0M104.5 121.3h0M99.5 116.0h0M103.6 120.9h0M94.3 118.7h0M93.8 116.5h0M94.0 120.3h0M90.7 112.9h0M94.2 114.9h0M95.5 112.5h0M102.6 122.2h0M89.0 116.8h0M98.1 117.2h0M102.7 119.6h0M93.5 117.5h0M102.6 121.3h0M98.9 119.8h0M97.8 114.4h0M104.5 118.3h0M101.8 116.8h0M93.9 114.0h0M101.1 120.3h0M91.7 113.7h0M92.2 118.2h0M96.5 116.0h0M97.7 120.7h0M93.4 114.0h0M103.3 119.6h0" stroke="#ffffff" stroke-width="1.10" stroke-linecap="round" fill="none"/>
<path d="M86.9 113.5h0M89.3 111.8h0M92.2 111.1h0M100.5 115.2h0M102.5 122.3h0M97.7 122.5h0M90.5 120.0h0M89.4 118.4h0M89.5 118.2h0M86.7 115.0h0" stroke="#ffffff" stroke-width="1.60" stroke-linecap="round" fill="none"/>
<path d="M132.7 115.5h0M131.3 115.9h0M133.8 113.5h0M130.6 123.6h0M128.4 123.6h0M132.4 114.5h0M137.0 121.1h0M132.3 119.8h0M135.1 115.6h0M138.0 117.9h0M136.7 118.8h0M137.9 118.8h0M132.4 121.0h0M128.5 118.0h0M135.7 119.6h0M131.5 113.9h0M125.3 119.4h0M136.5 116.5h0M123.4 119.2h0M122.8 119.6h0M132.1 121.0h0M132.0 115.0h0M125.5 118.0h0M124.3 120.6h0M135.8 115.6h0M130.1 118.7h0M136.6 115.1h0M121.5 122.3h0M138.4 116.9h0M134.2 122.3h0M130.9 114.3h0M130.9 123.3h0M134.3 112.9h0M131.2 115.5h0M123.2 118.8h0M123.9 119.9h0M128.0 119.4h0M126.5 123.3h0M125.2 120.6h0M129.7 116.5h0M134.0 120.3h0M136.2 117.0h0M129.4 115.8h0M135.3 116.2h0M134.1 120.0h0M132.3 116.4h0M135.2 118.7h0M136.2 119.4h0M135.4 119.8h0M125.8 122.8h0M133.9 121.7h0M125.3 120.2h0M129.1 115.9h0M125.3 118.1h0M129.8 117.8h0" stroke="#b2b2b2" stroke-width="1.20" stroke-linecap="round" fill="none"/>
<path d="M125.1 123.4h0M129.9 119.5h0M135.6 121.4h0M131.5 119.7h0M133.8 117.4h0M135.4 117.2h0M130.3 122.1h0M121.2 121.4h0M128.4 117.7h0M125.0 118.1h0M130.1 120.7h0M130.7 113.7h0M128.3 115.9h0M132.8 114.2h0M122.1 122.3h0M124.8 121.9h0M134.0 119.3h0M130.2 119.7h0M125.1 118.8h0M136.1 116.3h0M125.0 120.0h0M126.0 121.7h0M128.1 122.7h0M121.6 121.2h0M137.5 120.2h0M131.6 114.1h0M135.4 114.6h0M133.0 114.5h0M124.2 122.6h0M132.4 120.8h0" stroke="#ffffff" stroke-width="1.10" stroke-linecap="round" fill="none"/>
<path d="M124.1 118.3h0M130.0 114.9h0M130.5 113.8h0M136.6 113.6h0M137.2 113.9h0M138.8 115.7h0M139.0 117.3h0M138.7 118.1h0M138.4 120.3h0M138.2 120.1h0M136.8 120.9h0M136.5 121.0h0M134.6 121.4h0M131.8 123.3h0M131.4 124.6h0M128.8 124.9h0M129.6 124.6h0M124.3 124.0h0M124.9 125.4h0M123.5 124.1h0" stroke="#ffffff" stroke-width="1.60" stroke-linecap="round" fill="none"/>
<path d="M88.4 76.1h0M82.1 69.0h0M90.0 77.3h0M90.4 81.0h0M86.4 70.9h0M82.8 69.1h0M91.3 82.2h0M87.1 72.4h0M90.9 77.1h0M88.8 75.7h0M83.1 69.3h0M84.4 69.3h0M90.3 76.6h0M88.5 74.9h0M82.1 69.4h0M83.9 70.5h0M85.5 71.1h0M89.6 75.6h0M90.9 81.3h0M81.1 67.5h0M81.9 69.1h0M88.6 74.5h0M82.1 69.0h0M86.9 74.0h0M91.3 80.0h0M90.2 77.9h0M83.5 70.0h0M82.8 69.4h0M88.9 73.9h0M84.8 70.3h0M86.9 74.7h0M84.2 69.1h0M89.9 78.1h0M81.6 67.3h0M88.6 73.4h0M90.8 79.9h0M86.3 71.8h0M82.5 70.0h0M82.6 68.1h0M89.3 76.5h0M86.2 73.2h0M85.0 70.4h0M89.5 76.0h0M89.9 78.8h0M91.7 82.0h0M90.2 78.5h0M81.5 67.4h0M83.1 69.1h0" stroke="#ffffff" stroke-width="1.90" stroke-linecap="round" fill="none" stroke-opacity="0.9"/>
<path d="M92.2 70.2h0M85.2 65.8h0M84.3 66.1h0M92.6 69.5h0M82.7 66.1h0M90.0 66.6h0M90.8 67.7h0M91.8 70.0h0M92.7 69.1h0M85.4 64.6h0M84.7 65.7h0M90.1 66.3h0M89.1 66.1h0M90.0 67.1h0M89.8 67.0h0M84.7 66.2h0M92.4 69.7h0M87.0 65.2h0M86.7 65.5h0M89.0 66.6h0M84.2 65.5h0M83.9 65.3h0M93.0 69.4h0M84.6 66.2h0M92.8 68.8h0M92.9 69.6h0M86.9 66.2h0M87.7 65.5h0M84.4 65.7h0M88.9 67.3h0M92.9 69.3h0M84.1 66.5h0M87.4 65.9h0M93.0 69.1h0M84.1 66.1h0M85.5 65.0h0" stroke="#ffffff" stroke-width="1.90" stroke-linecap="round" fill="none" stroke-opacity="0.9"/>
<path d="M72.2 84.9h0M70.3 83.4h0M74.6 88.6h0M73.8 88.4h0M74.4 87.5h0M70.6 84.7h0M74.6 87.4h0M73.4 88.4h0M72.8 85.0h0M72.5 85.4h0M74.8 87.8h0M72.2 87.0h0M71.5 84.2h0M74.1 88.2h0M73.0 87.3h0M74.0 88.3h0M71.6 84.9h0M73.6 86.7h0M72.0 85.1h0M74.6 87.4h0M72.6 86.1h0M72.2 84.5h0M74.3 87.1h0M72.8 86.1h0M74.4 87.9h0M74.7 87.2h0M72.7 85.8h0M74.6 87.9h0M74.9 88.5h0M73.8 85.7h0" stroke="#ffffff" stroke-width="1.90" stroke-linecap="round" fill="none" stroke-opacity="0.9"/>
<path d="M80.9 62.3h0M81.6 62.2h0M79.5 61.0h0M80.6 63.0h0M80.5 62.0h0M78.6 58.7h0M78.2 58.0h0M79.5 58.9h0M79.2 60.2h0M81.3 62.7h0M80.5 61.5h0M79.6 60.7h0M79.2 60.5h0M81.1 62.6h0M79.0 59.9h0M81.3 62.9h0M80.5 61.4h0M78.9 59.1h0M80.6 62.1h0M78.5 60.2h0M80.6 61.0h0M80.4 60.0h0M80.9 63.4h0M80.2 61.1h0M77.6 58.1h0M79.9 62.0h0M79.9 62.2h0M78.2 59.1h0M81.2 63.2h0M81.1 62.7h0" stroke="#ffffff" stroke-width="1.90" stroke-linecap="round" fill="none" stroke-opacity="0.9"/>
<path d="M153.0 68.4h0M133.4 65.5h0M143.9 69.0h0M146.5 67.6h0M137.6 65.5h0M134.0 79.8h0M140.4 75.6h0M145.7 76.0h0M147.5 58.3h0M159.4 67.4h0M141.5 71.2h0M141.4 70.0h0M136.1 62.5h0M154.4 60.2h0M120.5 76.4h0M144.5 70.2h0M148.9 73.9h0M140.9 58.9h0M123.4 69.8h0M144.4 59.6h0M137.2 71.3h0M142.7 58.6h0M134.3 77.5h0M134.7 63.0h0M138.3 80.5h0M140.9 74.5h0M118.0 71.5h0M157.0 75.3h0M118.5 69.7h0M146.7 70.6h0M133.1 76.0h0M150.9 61.4h0M148.0 71.8h0M146.1 78.5h0M146.0 77.6h0M131.7 64.2h0M135.2 69.7h0M149.8 69.2h0M148.4 73.9h0M153.4 58.9h0M143.5 77.4h0M125.5 65.3h0M139.4 59.8h0M134.6 65.5h0M133.9 59.4h0M133.7 77.0h0M154.1 67.3h0M146.2 65.2h0M136.3 80.1h0M122.8 75.4h0M154.7 73.6h0M142.5 56.0h0M154.9 67.3h0M145.2 70.6h0M140.6 67.6h0M145.7 59.4h0M131.7 67.6h0M124.0 70.3h0M127.0 76.8h0M115.4 75.1h0M147.3 76.0h0M136.8 54.5h0M138.8 77.5h0M158.0 73.1h0M133.5 56.9h0M133.2 64.8h0M122.3 76.2h0M143.7 73.1h0M116.4 72.1h0M149.5 78.3h0M141.7 57.5h0M129.2 69.1h0M127.4 66.2h0M123.3 67.2h0M147.1 69.5h0M121.8 71.1h0M156.9 59.6h0M156.9 59.3h0M123.0 66.8h0M133.9 79.9h0M155.9 64.5h0M151.5 77.7h0M148.7 64.5h0M151.8 57.4h0M135.0 64.2h0M131.3 75.5h0M155.3 59.0h0M155.0 57.1h0M158.2 62.2h0M120.7 67.9h0M155.3 74.6h0M126.4 69.1h0M141.0 74.8h0M132.6 63.9h0M115.5 73.1h0M147.7 79.0h0M148.7 59.9h0M152.8 57.7h0M133.1 77.2h0M138.3 69.7h0M132.5 64.2h0M133.9 64.3h0M152.5 73.0h0M136.0 69.8h0M150.2 64.5h0M152.3 65.1h0M132.2 62.8h0M130.5 64.5h0M142.5 58.9h0M154.6 67.1h0M128.4 68.0h0M132.2 76.3h0M140.9 78.4h0M135.7 55.5h0M136.4 76.3h0M150.9 76.7h0M121.0 71.0h0M139.2 74.8h0M135.9 62.4h0M155.3 74.7h0M149.9 64.0h0M142.7 72.6h0M127.3 63.1h0M128.0 76.3h0M143.0 71.1h0M146.5 60.5h0M118.0 70.2h0M152.1 77.4h0M158.5 63.9h0M146.4 63.8h0M130.8 66.7h0M131.8 72.5h0M133.7 57.0h0M129.9 69.1h0M112.9 74.4h0" stroke="#e4563a" stroke-width="1.24" stroke-linecap="round" fill="none"/>
<path d="M139.7 54.3h0M128.8 64.8h0M145.2 73.1h0M131.5 67.3h0M127.5 64.1h0M149.9 66.6h0M127.7 76.3h0M159.2 65.3h0M152.8 63.3h0M150.9 67.1h0M134.5 69.8h0M118.9 70.5h0M152.7 71.5h0M126.4 63.9h0M146.4 74.9h0M149.8 74.2h0M143.4 72.3h0M132.4 79.7h0M123.3 65.3h0M125.6 70.3h0M144.1 80.9h0M142.8 67.2h0M115.7 70.7h0M154.1 77.7h0M120.1 75.5h0M152.5 72.6h0M124.2 75.6h0M145.4 65.3h0M149.2 58.2h0M156.6 66.5h0M136.7 75.6h0M120.0 72.7h0M140.1 58.9h0M150.6 69.2h0M140.8 73.8h0M115.4 69.4h0M144.3 72.6h0M137.6 65.5h0M141.9 73.9h0M125.1 71.1h0M158.7 70.0h0M148.4 68.1h0M131.7 75.3h0M147.3 57.8h0M149.5 56.8h0M150.1 71.4h0M115.9 76.7h0M141.3 75.3h0M133.1 72.6h0M117.5 69.6h0M139.5 57.5h0M148.1 71.4h0M145.7 73.6h0M146.4 66.9h0M129.9 60.9h0M124.2 66.7h0M146.7 77.5h0M131.9 58.8h0M139.3 73.5h0M141.7 58.8h0" stroke="#fff6ee" stroke-width="1.20" stroke-linecap="round" fill="none"/>
<path d="M77.5 98.2h0M92.3 91.2h0M85.4 97.1h0M99.9 80.8h0M86.1 99.7h0M85.0 93.6h0M85.0 108.5h0M89.2 86.8h0M79.2 84.2h0M92.6 84.0h0M86.9 91.0h0M100.2 81.2h0M97.6 97.3h0M77.0 82.5h0M93.5 105.6h0M71.1 86.8h0M85.6 81.4h0M77.2 89.4h0M92.0 98.5h0M82.2 108.0h0M79.2 102.2h0M82.3 107.6h0M103.7 80.2h0M76.4 82.2h0M82.6 107.4h0M85.8 109.4h0M90.3 86.7h0M79.5 97.9h0M106.6 85.8h0M90.9 83.8h0M101.5 93.1h0M84.3 82.2h0M84.8 101.1h0M89.1 108.3h0M94.1 81.3h0M94.8 92.8h0M79.1 104.6h0M82.3 106.8h0M96.2 88.2h0M86.7 91.7h0M83.8 96.2h0M94.6 105.6h0M79.9 85.0h0M85.5 106.2h0M77.9 85.1h0M76.0 84.2h0M97.2 97.0h0M78.2 88.5h0M99.3 85.6h0M77.2 97.5h0M78.7 84.8h0M90.6 87.6h0M80.0 105.6h0M88.7 106.4h0M83.3 98.3h0M92.6 106.0h0M100.7 82.9h0M81.5 103.1h0M99.7 99.3h0M99.0 97.9h0M84.9 93.3h0M82.0 94.5h0M80.5 80.6h0M107.2 65.7h0M87.0 94.5h0M84.0 93.5h0M79.2 102.2h0M77.7 91.9h0M77.5 84.2h0M79.0 91.7h0M106.0 80.8h0M100.0 82.7h0M78.6 86.7h0M82.6 96.1h0M102.9 85.4h0M79.8 87.6h0M98.2 86.6h0M84.4 83.6h0M83.9 104.2h0M85.1 105.1h0M79.7 99.5h0M82.4 97.0h0M90.4 105.6h0M93.3 85.9h0M89.2 89.8h0M79.3 88.1h0M101.4 81.8h0M97.0 92.5h0M95.8 86.7h0M84.5 96.4h0M105.8 85.5h0M79.3 102.6h0M87.2 96.1h0M87.0 108.6h0M92.3 100.3h0" stroke="#e2ad92" stroke-width="1.10" stroke-linecap="round" fill="none"/>
</g>
<g id="tsne-pecam1">
<path d="M178.9 79.7L179.0 78.6L179.1 77.6L179.4 76.6L179.7 75.6L180.2 74.7L180.7 73.8L181.3 73.1L182.0 72.4L182.9 71.8L183.7 71.1L184.6 70.5L185.5 69.9L186.3 69.2L187.2 68.4L188.0 67.6L188.9 66.9L189.8 66.3L190.7 66.0L191.7 66.0L192.7 66.4L193.7 67.0L194.7 67.5L195.6 67.8L196.4 67.7L197.0 67.2L197.5 66.4L197.8 65.5L198.2 64.4L198.6 63.3L199.0 62.3L199.5 61.3L199.9 60.3L200.3 59.3L200.8 58.4L201.5 57.5L202.3 56.8L203.3 56.3L204.5 55.8L205.8 55.5L207.2 55.3L208.6 55.1L209.9 55.1L211.2 55.1L212.6 55.3L214.0 55.5L215.3 55.9L216.5 56.3L217.5 56.8L218.4 57.4L219.0 58.2L219.6 59.0L220.1 59.8L220.6 60.7L221.3 61.6L222.0 62.5L222.8 63.4L223.6 64.4L224.5 65.4L225.3 66.3L226.1 67.3L226.8 68.3L227.6 69.3L228.4 70.2L229.1 71.2L229.6 72.2L230.0 73.2L230.1 74.1L230.1 75.0L229.9 75.9L229.7 76.8L229.4 77.7L229.1 78.6L228.8 79.6L228.5 80.6L228.2 81.7L227.8 82.7L227.4 83.7L226.9 84.7L226.5 85.8L226.0 86.8L225.5 87.8L224.9 88.9L224.4 89.9L223.9 90.9L223.4 91.8L222.9 92.8L222.4 93.7L221.9 94.7L221.4 95.6L220.8 96.5L220.3 97.5L219.7 98.4L219.2 99.4L218.6 100.3L218.0 101.3L217.3 102.2L216.6 103.1L215.8 104.1L215.0 105.1L214.2 106.0L213.3 106.9L212.5 107.7L211.7 108.3L211.0 108.9L210.2 109.5L209.4 109.9L208.6 110.3L207.7 110.7L206.9 111.0L206.0 111.3L205.0 111.6L204.1 111.8L203.2 111.8L202.3 111.8L201.4 111.6L200.5 111.4L199.5 111.0L198.6 110.5L197.7 110.1L196.8 109.6L195.9 109.2L195.0 108.7L194.0 108.2L193.1 107.6L192.2 107.0L191.4 106.3L190.6 105.6L189.8 104.7L189.0 103.8L188.3 102.9L187.7 101.9L187.0 100.9L186.4 99.9L185.8 98.8L185.3 97.7L184.8 96.6L184.2 95.5L183.7 94.3L183.2 93.2L182.6 92.1L182.1 90.9L181.6 89.8L181.1 88.6L180.7 87.4L180.3 86.1L179.9 84.8L179.5 83.5L179.2 82.2L179.0 80.9Z" fill="#d3d3d3"/>
<path d="M179.0 80.2h0M178.9 79.1h0M178.8 77.6h0M179.0 76.8h0M178.7 75.3h0M179.6 74.2h0M180.8 72.9h0M182.4 71.9h0M186.4 69.7h0M185.9 68.4h0M189.2 66.6h0M189.4 66.2h0M195.1 68.0h0M195.6 68.3h0M197.6 67.2h0M198.9 63.2h0M199.9 61.8h0M200.7 60.4h0M200.3 59.0h0M200.6 58.0h0M202.5 56.7h0M213.6 54.6h0M216.7 57.2h0M217.4 57.2h0M217.9 57.4h0M219.9 58.2h0M220.9 60.4h0M222.3 62.3h0M223.0 63.4h0M224.4 63.7h0M228.6 70.3h0M230.0 72.2h0M229.2 78.0h0M228.3 83.0h0M226.2 85.5h0M226.2 86.5h0M225.9 87.6h0M224.6 88.6h0M224.5 89.1h0M221.6 92.7h0M221.6 96.3h0M219.8 98.7h0M218.9 99.3h0M215.9 103.6h0M213.8 105.9h0M214.0 106.1h0M211.3 107.6h0M208.5 110.7h0M207.7 111.0h0M204.0 111.6h0M201.2 111.9h0M194.3 107.8h0M193.1 107.1h0M192.3 107.1h0M191.0 105.5h0M190.6 106.0h0M188.1 102.6h0M187.4 101.4h0M186.9 100.5h0M185.8 98.3h0M184.9 95.5h0M183.4 94.4h0M181.7 92.5h0M182.0 91.0h0M182.0 89.5h0M181.3 88.2h0M180.1 86.4h0M179.4 85.0h0M179.1 82.6h0M179.1 80.8h0" stroke="#d3d3d3" stroke-width="1.80" stroke-linecap="round" fill="none"/>
<path d="M219.1 52.9L219.0 52.0L218.9 51.0L218.9 49.9L219.0 48.8L219.3 47.8L219.7 47.0L220.5 46.3L221.4 45.8L222.6 45.3L223.8 44.9L225.1 44.5L226.3 44.2L227.5 43.9L228.8 43.6L230.1 43.4L231.4 43.2L232.7 43.2L233.9 43.3L235.1 43.6L236.3 44.0L237.5 44.5L238.6 45.1L239.8 45.7L240.9 46.3L242.0 47.0L243.2 47.7L244.3 48.5L245.4 49.2L246.5 50.1L247.4 50.9L248.4 51.8L249.4 52.8L250.3 53.8L251.1 54.8L251.7 55.8L252.0 56.8L252.0 57.8L251.6 58.8L251.0 59.8L250.3 60.8L249.5 61.7L248.7 62.5L247.9 63.2L247.0 63.8L246.0 64.4L245.0 64.9L244.0 65.4L243.1 66.0L242.2 66.6L241.2 67.2L240.3 67.9L239.4 68.5L238.5 69.0L237.6 69.5L236.7 69.9L235.8 70.3L234.8 70.6L233.9 70.9L233.0 70.9L232.2 70.8L231.4 70.4L230.7 69.7L230.0 68.9L229.3 68.0L228.7 67.1L228.0 66.2L227.4 65.3L226.7 64.4L226.1 63.4L225.5 62.5L224.9 61.6L224.3 60.7L223.7 60.0L223.0 59.3L222.3 58.7L221.7 58.1L221.1 57.5L220.6 56.8L220.2 56.2L219.8 55.6L219.6 55.0L219.3 54.3L219.2 53.7Z" fill="#d3d3d3"/>
<path d="M219.1 51.9h0M221.2 46.8h0M222.3 44.7h0M228.9 44.5h0M233.4 43.0h0M235.5 43.8h0M237.4 44.1h0M241.3 46.1h0M244.2 47.7h0M249.2 51.5h0M252.2 55.5h0M251.9 56.9h0M251.8 57.9h0M250.9 60.5h0M249.1 62.0h0M247.2 63.3h0M243.6 66.2h0M242.7 65.4h0M241.0 67.0h0M239.0 68.3h0M238.4 68.6h0M236.2 69.8h0M235.0 70.7h0M233.3 70.4h0M232.3 71.2h0M229.5 68.5h0M226.3 64.4h0M223.9 59.7h0M221.1 58.5h0M220.9 57.1h0M220.6 54.7h0M219.8 53.4h0" stroke="#d3d3d3" stroke-width="1.80" stroke-linecap="round" fill="none"/>
<path d="M230.9 75.6L231.3 74.7L231.9 73.8L232.7 72.7L233.7 71.7L234.7 70.7L235.7 69.9L236.6 69.2L237.7 68.6L238.8 68.1L240.0 67.6L241.1 67.2L242.2 66.6L243.3 66.1L244.5 65.6L245.7 65.1L246.8 64.6L247.8 64.0L248.7 63.4L249.4 62.6L249.9 61.8L250.3 60.9L250.7 60.0L251.2 59.2L252.0 58.6L253.1 58.0L254.3 57.5L255.7 57.1L257.2 56.8L258.7 56.5L260.1 56.4L261.5 56.3L263.0 56.4L264.5 56.6L266.0 56.8L267.5 57.1L268.8 57.5L270.1 57.8L271.4 58.3L272.6 58.7L273.8 59.3L274.9 60.0L275.8 60.7L276.6 61.7L277.4 62.8L278.1 64.0L278.6 65.2L279.0 66.5L279.3 67.7L279.4 69.0L279.3 70.4L279.1 71.8L278.8 73.2L278.4 74.5L278.0 75.6L277.5 76.5L276.9 77.4L276.2 78.2L275.4 78.9L274.5 79.5L273.6 80.2L272.6 80.8L271.5 81.4L270.3 82.0L269.1 82.6L267.9 83.0L266.6 83.4L265.4 83.8L264.1 84.1L262.9 84.3L261.6 84.5L260.3 84.6L259.0 84.5L257.7 84.4L256.4 84.1L255.1 83.7L253.8 83.2L252.6 82.8L251.4 82.3L250.2 81.9L249.1 81.5L248.0 81.1L247.0 80.6L245.9 80.3L244.8 79.9L243.7 79.7L242.6 79.5L241.5 79.4L240.4 79.2L239.3 79.2L238.3 79.1L237.2 79.1L236.2 79.1L235.1 79.2L234.2 79.3L233.3 79.3L232.6 79.1L232.0 78.7L231.5 78.2L231.1 77.7L230.8 77.0L230.7 76.3Z" fill="#f3a88a"/>
<path d="M231.3 75.5h0M231.6 74.6h0M232.0 74.4h0M232.2 72.8h0M233.8 72.4h0M236.9 69.7h0M238.4 68.3h0M239.8 67.9h0M239.8 67.2h0M250.9 61.8h0M251.3 60.5h0M250.9 58.5h0M261.7 56.3h0M263.6 56.6h0M264.9 55.5h0M266.1 56.6h0M268.9 56.7h0M272.8 59.1h0M273.4 60.5h0M276.6 62.2h0M277.8 64.3h0M279.6 71.2h0M279.7 72.1h0M278.7 75.1h0M277.3 77.1h0M276.2 77.6h0M276.2 78.3h0M275.2 79.5h0M272.0 80.9h0M269.6 83.1h0M267.7 83.4h0M264.2 83.4h0M258.7 85.7h0M255.5 84.0h0M254.1 82.4h0M250.8 82.3h0M244.5 80.0h0M243.8 80.5h0M240.5 78.5h0M238.2 78.7h0M234.4 79.0h0M231.7 79.4h0M232.2 78.4h0M231.8 78.4h0M230.6 77.5h0" stroke="#f3a88a" stroke-width="1.80" stroke-linecap="round" fill="none"/>
<path d="M222.1 92.2L222.7 91.0L223.3 89.7L224.0 88.2L224.8 86.8L225.6 85.4L226.5 84.3L227.4 83.4L228.4 82.6L229.5 81.9L230.5 81.3L231.7 80.9L232.8 80.6L234.0 80.4L235.4 80.4L236.7 80.6L238.1 80.8L239.3 81.1L240.5 81.5L241.5 81.9L242.6 82.4L243.6 83.0L244.4 83.6L245.0 84.4L245.3 85.2L245.1 86.1L244.6 87.2L243.8 88.3L242.9 89.4L242.1 90.6L241.5 91.7L241.1 92.8L240.8 93.9L240.5 95.0L240.3 96.1L240.1 97.2L240.0 98.3L240.0 99.4L240.0 100.5L240.2 101.6L240.3 102.7L240.6 103.8L240.9 104.8L241.3 105.9L242.0 106.9L242.7 107.9L243.3 108.9L243.8 109.9L244.2 110.9L244.3 112.0L244.3 113.1L244.2 114.2L244.0 115.3L243.6 116.2L243.1 117.0L242.4 117.7L241.5 118.2L240.5 118.7L239.5 119.0L238.3 119.3L237.2 119.4L236.0 119.5L234.7 119.4L233.4 119.2L232.1 119.0L230.8 118.7L229.5 118.3L228.4 117.9L227.2 117.5L226.1 116.9L225.1 116.3L224.0 115.7L223.0 115.1L222.0 114.4L221.0 113.7L220.1 113.0L219.2 112.2L218.3 111.5L217.5 110.7L216.8 110.0L216.0 109.2L215.3 108.5L214.8 107.7L214.4 106.9L214.3 106.1L214.5 105.3L215.0 104.3L215.7 103.4L216.4 102.4L217.2 101.5L217.8 100.7L218.2 99.9L218.7 99.1L219.1 98.4L219.4 97.7L219.8 97.0L220.2 96.3L220.5 95.6L220.8 95.0L221.0 94.5L221.3 93.8L221.7 93.1Z" fill="#f1c3a6"/>
<path d="M221.9 91.4h0M223.6 87.1h0M227.8 84.0h0M228.1 82.5h0M231.8 81.3h0M233.3 79.7h0M237.3 80.1h0M237.6 79.7h0M239.9 82.3h0M241.7 81.2h0M243.1 83.8h0M244.2 84.0h0M245.2 86.0h0M244.7 86.2h0M241.9 90.1h0M241.8 91.8h0M241.4 92.4h0M240.0 97.8h0M240.1 98.4h0M240.1 101.1h0M240.0 102.8h0M241.6 103.8h0M240.5 105.5h0M242.1 107.0h0M242.8 107.6h0M244.4 109.5h0M244.0 111.9h0M244.6 113.8h0M243.8 115.6h0M243.4 116.5h0M240.4 119.0h0M237.6 119.7h0M235.2 120.2h0M234.3 118.3h0M230.8 118.1h0M228.6 117.9h0M227.5 117.7h0M219.8 113.6h0M219.2 111.3h0M218.1 112.1h0M217.5 111.0h0M215.1 108.4h0M214.9 106.4h0M214.8 106.7h0M214.8 105.1h0M215.2 104.2h0M216.4 102.3h0M216.2 102.7h0M217.5 101.6h0M219.3 100.3h0M219.1 99.3h0M219.1 97.3h0M219.7 97.8h0M221.2 95.9h0M219.5 94.5h0M220.5 93.4h0" stroke="#f1c3a6" stroke-width="1.80" stroke-linecap="round" fill="none"/>
<path d="M243.3 91.7L243.8 90.8L244.5 90.1L245.2 89.6L246.0 89.2L246.8 88.9L247.7 88.7L248.5 88.6L249.4 88.6L250.3 88.7L251.1 88.9L252.0 89.3L252.7 89.8L253.3 90.4L253.9 91.1L254.4 92.0L254.9 92.9L255.3 93.9L255.5 95.0L255.7 96.2L255.7 97.4L255.7 98.8L255.6 100.1L255.4 101.4L255.1 102.6L254.6 103.8L254.1 105.0L253.4 106.2L252.7 107.3L251.9 108.1L251.1 108.7L250.3 109.1L249.4 109.2L248.4 109.2L247.4 108.9L246.5 108.5L245.7 107.9L245.0 107.0L244.3 105.9L243.7 104.7L243.1 103.3L242.7 101.8L242.4 100.5L242.3 99.0L242.3 97.4L242.4 95.8L242.6 94.3L242.9 92.9Z" fill="#c9c9c9"/>
<path d="M243.0 91.7h0M244.2 91.3h0M244.3 89.0h0M247.7 89.0h0M249.9 89.2h0M251.5 89.0h0M251.7 88.8h0M253.0 89.9h0M254.8 92.3h0M254.7 92.3h0M254.9 104.8h0M254.5 104.5h0M248.9 109.6h0M246.5 108.9h0M245.3 107.8h0M243.8 107.4h0M243.8 105.0h0M243.0 103.1h0M242.9 96.8h0M242.3 96.0h0" stroke="#c9c9c9" stroke-width="1.80" stroke-linecap="round" fill="none"/>
<path d="M256.6 90.6L257.0 90.0L257.6 89.2L258.3 88.5L259.1 87.8L260.0 87.1L261.0 86.5L262.1 86.0L263.3 85.6L264.7 85.3L266.1 85.0L267.5 84.7L268.8 84.3L270.1 83.9L271.4 83.6L272.7 83.2L273.9 82.9L275.2 82.5L276.5 82.1L277.8 81.7L279.1 81.1L280.5 80.6L281.8 80.1L283.0 79.9L284.1 79.9L285.1 80.3L286.0 81.0L286.9 81.9L287.6 82.9L288.2 84.0L288.7 85.2L289.0 86.4L289.1 87.9L289.2 89.4L289.1 90.9L288.9 92.5L288.7 93.9L288.3 95.3L287.9 96.7L287.4 98.0L286.8 99.4L286.1 100.6L285.4 101.8L284.6 102.8L283.8 103.8L282.9 104.7L281.9 105.6L281.0 106.4L279.9 107.2L278.9 108.0L277.8 108.8L276.6 109.5L275.5 110.1L274.3 110.8L273.2 111.4L272.1 111.9L270.9 112.5L269.8 112.9L268.7 113.4L267.6 113.7L266.6 114.0L265.7 114.1L264.7 114.2L263.8 114.2L263.0 114.2L262.2 114.0L261.4 113.8L260.7 113.4L260.0 113.0L259.4 112.4L258.8 111.8L258.2 111.2L257.7 110.5L257.2 109.8L256.7 109.0L256.3 108.1L256.0 107.2L255.7 106.3L255.5 105.3L255.5 104.2L255.6 103.0L255.8 101.7L256.0 100.5L256.2 99.3L256.4 98.3L256.5 97.4L256.7 96.6L256.8 95.9L256.9 95.2L257.0 94.5L257.0 93.9L257.0 93.3L256.8 92.8L256.6 92.3L256.4 91.8L256.4 91.2Z" fill="#d3d3d3"/>
<path d="M257.9 89.3h0M258.5 88.0h0M261.4 86.3h0M266.1 84.2h0M267.5 86.1h0M269.3 84.8h0M271.4 83.9h0M272.7 83.2h0M273.6 84.0h0M275.7 82.7h0M280.9 80.2h0M282.0 80.8h0M283.6 80.1h0M288.6 86.7h0M288.9 94.3h0M286.9 98.4h0M285.6 101.5h0M284.8 101.7h0M279.4 107.6h0M278.6 107.9h0M276.6 109.3h0M273.8 110.6h0M272.8 111.6h0M271.6 112.5h0M267.3 114.4h0M266.6 113.9h0M263.5 114.1h0M262.2 113.9h0M261.9 113.4h0M261.0 113.5h0M259.3 113.0h0M259.4 112.4h0M258.0 110.5h0M257.6 109.5h0M256.3 107.5h0M255.3 106.0h0M255.4 103.8h0M255.5 101.4h0M256.0 98.0h0M256.5 96.2h0M257.1 93.6h0M256.1 91.2h0" stroke="#d3d3d3" stroke-width="1.80" stroke-linecap="round" fill="none"/>
<path d="M203.4 115.7L204.0 115.2L205.0 114.7L206.1 114.2L207.4 113.8L208.7 113.6L209.9 113.5L211.1 113.8L212.5 114.2L213.8 114.8L215.1 115.4L216.4 116.1L217.5 116.8L218.7 117.5L219.8 118.2L220.9 119.0L221.8 119.8L222.6 120.5L223.0 121.2L223.1 121.8L223.0 122.5L222.7 123.1L222.2 123.7L221.5 124.1L220.8 124.5L220.0 124.6L219.0 124.7L217.8 124.6L216.6 124.5L215.4 124.3L214.3 124.0L213.2 123.7L212.0 123.2L210.8 122.7L209.7 122.2L208.7 121.6L207.7 121.2L206.9 120.8L206.1 120.4L205.4 120.1L204.8 119.8L204.2 119.4L203.8 119.0L203.4 118.5L203.1 117.9L202.9 117.4L202.9 116.8L203.0 116.2Z" fill="#d3d3d3"/>
<path d="M202.7 116.0h0M205.4 114.9h0M206.1 114.9h0M213.9 114.3h0M215.4 115.6h0M217.6 115.6h0M218.7 117.8h0M219.3 117.9h0M221.2 118.5h0M223.6 121.7h0M223.0 123.1h0M222.3 124.6h0M219.7 123.8h0M216.9 125.4h0M213.4 124.4h0M211.6 122.5h0M209.6 122.0h0M207.7 121.8h0M208.4 121.6h0M206.0 121.1h0M205.9 120.4h0M205.5 120.5h0M205.1 120.6h0M203.7 118.7h0M203.9 117.9h0M203.5 117.9h0M202.6 117.3h0M203.3 115.9h0" stroke="#d3d3d3" stroke-width="1.80" stroke-linecap="round" fill="none"/>
<path d="M239.4 122.3L239.9 121.8L240.8 121.2L241.8 120.7L242.9 120.1L243.9 119.6L244.8 119.0L245.6 118.4L246.3 117.8L247.0 117.2L247.7 116.6L248.4 116.1L249.2 115.7L250.1 115.4L251.0 115.2L252.0 115.1L252.9 115.0L253.8 115.1L254.6 115.3L255.4 115.7L256.1 116.2L256.8 116.8L257.3 117.6L257.7 118.3L257.9 119.0L257.9 119.7L257.7 120.5L257.4 121.3L256.9 122.0L256.3 122.8L255.7 123.4L255.0 123.9L254.2 124.3L253.3 124.7L252.3 125.0L251.3 125.3L250.3 125.5L249.2 125.8L248.1 126.1L246.9 126.3L245.7 126.5L244.7 126.6L243.7 126.6L242.9 126.5L242.2 126.3L241.5 126.0L240.9 125.6L240.4 125.3L240.0 124.9L239.7 124.5L239.3 124.1L239.1 123.7L239.0 123.2L239.1 122.8Z" fill="#f7d3be"/>
<path d="M242.3 120.6h0M244.7 118.9h0M245.5 118.5h0M245.6 117.9h0M247.4 117.3h0M248.1 116.0h0M248.0 116.2h0M249.0 114.8h0M255.8 115.1h0M258.1 118.1h0M257.7 118.1h0M257.1 119.6h0M254.5 123.2h0M253.0 124.2h0M245.1 126.5h0M243.4 126.7h0M242.4 126.6h0M239.7 125.0h0" stroke="#f7d3be" stroke-width="1.80" stroke-linecap="round" fill="none"/>
<path d="M230.9 75.6L231.3 74.7L231.9 73.8L232.7 72.7L233.7 71.7L234.7 70.7L235.7 69.9L236.6 69.2L237.7 68.6L238.8 68.1L240.0 67.6L241.1 67.2L242.2 66.6L243.3 66.1L244.5 65.6L245.7 65.1L246.8 64.6L247.8 64.0L248.7 63.4L249.4 62.6L249.9 61.8L250.3 60.9L250.7 60.0L251.2 59.2L252.0 58.6L253.1 58.0L254.3 57.5L255.7 57.1L257.2 56.8L258.7 56.5L260.1 56.4L261.5 56.3L263.0 56.4L264.5 56.6L266.0 56.8L267.5 57.1L268.8 57.5L270.1 57.8L271.4 58.3L272.6 58.7L273.8 59.3L274.9 60.0L275.8 60.7L276.6 61.7L277.4 62.8L278.1 64.0L278.6 65.2L279.0 66.5L279.3 67.7L279.4 69.0L279.3 70.4L279.1 71.8L278.8 73.2L278.4 74.5L278.0 75.6L277.5 76.5L276.9 77.4L276.2 78.2L275.4 78.9L274.5 79.5L273.6 80.2L272.6 80.8L271.5 81.4L270.3 82.0L269.1 82.6L267.9 83.0L266.6 83.4L265.4 83.8L264.1 84.1L262.9 84.3L261.6 84.5L260.3 84.6L259.0 84.5L257.7 84.4L256.4 84.1L255.1 83.7L253.8 83.2L252.6 82.8L251.4 82.3L250.2 81.9L249.1 81.5L248.0 81.1L247.0 80.6L245.9 80.3L244.8 79.9L243.7 79.7L242.6 79.5L241.5 79.4L240.4 79.2L239.3 79.2L238.3 79.1L237.2 79.1L236.2 79.1L235.1 79.2L234.2 79.3L233.3 79.3L232.6 79.1L232.0 78.7L231.5 78.2L231.1 77.7L230.8 77.0L230.7 76.3Z" fill="none" stroke="#fff" stroke-width="1.3"/>
<path d="M222.1 92.2L222.7 91.0L223.3 89.7L224.0 88.2L224.8 86.8L225.6 85.4L226.5 84.3L227.4 83.4L228.4 82.6L229.5 81.9L230.5 81.3L231.7 80.9L232.8 80.6L234.0 80.4L235.4 80.4L236.7 80.6L238.1 80.8L239.3 81.1L240.5 81.5L241.5 81.9L242.6 82.4L243.6 83.0L244.4 83.6L245.0 84.4L245.3 85.2L245.1 86.1L244.6 87.2L243.8 88.3L242.9 89.4L242.1 90.6L241.5 91.7L241.1 92.8L240.8 93.9L240.5 95.0L240.3 96.1L240.1 97.2L240.0 98.3L240.0 99.4L240.0 100.5L240.2 101.6L240.3 102.7L240.6 103.8L240.9 104.8L241.3 105.9L242.0 106.9L242.7 107.9L243.3 108.9L243.8 109.9L244.2 110.9L244.3 112.0L244.3 113.1L244.2 114.2L244.0 115.3L243.6 116.2L243.1 117.0L242.4 117.7L241.5 118.2L240.5 118.7L239.5 119.0L238.3 119.3L237.2 119.4L236.0 119.5L234.7 119.4L233.4 119.2L232.1 119.0L230.8 118.7L229.5 118.3L228.4 117.9L227.2 117.5L226.1 116.9L225.1 116.3L224.0 115.7L223.0 115.1L222.0 114.4L221.0 113.7L220.1 113.0L219.2 112.2L218.3 111.5L217.5 110.7L216.8 110.0L216.0 109.2L215.3 108.5L214.8 107.7L214.4 106.9L214.3 106.1L214.5 105.3L215.0 104.3L215.7 103.4L216.4 102.4L217.2 101.5L217.8 100.7L218.2 99.9L218.7 99.1L219.1 98.4L219.4 97.7L219.8 97.0L220.2 96.3L220.5 95.6L220.8 95.0L221.0 94.5L221.3 93.8L221.7 93.1Z" fill="none" stroke="#fff" stroke-width="1.3"/>
<path d="M243.3 91.7L243.8 90.8L244.5 90.1L245.2 89.6L246.0 89.2L246.8 88.9L247.7 88.7L248.5 88.6L249.4 88.6L250.3 88.7L251.1 88.9L252.0 89.3L252.7 89.8L253.3 90.4L253.9 91.1L254.4 92.0L254.9 92.9L255.3 93.9L255.5 95.0L255.7 96.2L255.7 97.4L255.7 98.8L255.6 100.1L255.4 101.4L255.1 102.6L254.6 103.8L254.1 105.0L253.4 106.2L252.7 107.3L251.9 108.1L251.1 108.7L250.3 109.1L249.4 109.2L248.4 109.2L247.4 108.9L246.5 108.5L245.7 107.9L245.0 107.0L244.3 105.9L243.7 104.7L243.1 103.3L242.7 101.8L242.4 100.5L242.3 99.0L242.3 97.4L242.4 95.8L242.6 94.3L242.9 92.9Z" fill="none" stroke="#fff" stroke-width="1.3"/>
<path d="M256.6 90.6L257.0 90.0L257.6 89.2L258.3 88.5L259.1 87.8L260.0 87.1L261.0 86.5L262.1 86.0L263.3 85.6L264.7 85.3L266.1 85.0L267.5 84.7L268.8 84.3L270.1 83.9L271.4 83.6L272.7 83.2L273.9 82.9L275.2 82.5L276.5 82.1L277.8 81.7L279.1 81.1L280.5 80.6L281.8 80.1L283.0 79.9L284.1 79.9L285.1 80.3L286.0 81.0L286.9 81.9L287.6 82.9L288.2 84.0L288.7 85.2L289.0 86.4L289.1 87.9L289.2 89.4L289.1 90.9L288.9 92.5L288.7 93.9L288.3 95.3L287.9 96.7L287.4 98.0L286.8 99.4L286.1 100.6L285.4 101.8L284.6 102.8L283.8 103.8L282.9 104.7L281.9 105.6L281.0 106.4L279.9 107.2L278.9 108.0L277.8 108.8L276.6 109.5L275.5 110.1L274.3 110.8L273.2 111.4L272.1 111.9L270.9 112.5L269.8 112.9L268.7 113.4L267.6 113.7L266.6 114.0L265.7 114.1L264.7 114.2L263.8 114.2L263.0 114.2L262.2 114.0L261.4 113.8L260.7 113.4L260.0 113.0L259.4 112.4L258.8 111.8L258.2 111.2L257.7 110.5L257.2 109.8L256.7 109.0L256.3 108.1L256.0 107.2L255.7 106.3L255.5 105.3L255.5 104.2L255.6 103.0L255.8 101.7L256.0 100.5L256.2 99.3L256.4 98.3L256.5 97.4L256.7 96.6L256.8 95.9L256.9 95.2L257.0 94.5L257.0 93.9L257.0 93.3L256.8 92.8L256.6 92.3L256.4 91.8L256.4 91.2Z" fill="none" stroke="#fff" stroke-width="1.3"/>
<path d="M219.1 52.9L219.0 52.0L218.9 51.0L218.9 49.9L219.0 48.8L219.3 47.8L219.7 47.0L220.5 46.3L221.4 45.8L222.6 45.3L223.8 44.9L225.1 44.5L226.3 44.2L227.5 43.9L228.8 43.6L230.1 43.4L231.4 43.2L232.7 43.2L233.9 43.3L235.1 43.6L236.3 44.0L237.5 44.5L238.6 45.1L239.8 45.7L240.9 46.3L242.0 47.0L243.2 47.7L244.3 48.5L245.4 49.2L246.5 50.1L247.4 50.9L248.4 51.8L249.4 52.8L250.3 53.8L251.1 54.8L251.7 55.8L252.0 56.8L252.0 57.8L251.6 58.8L251.0 59.8L250.3 60.8L249.5 61.7L248.7 62.5L247.9 63.2L247.0 63.8L246.0 64.4L245.0 64.9L244.0 65.4L243.1 66.0L242.2 66.6L241.2 67.2L240.3 67.9L239.4 68.5L238.5 69.0L237.6 69.5L236.7 69.9L235.8 70.3L234.8 70.6L233.9 70.9L233.0 70.9L232.2 70.8L231.4 70.4L230.7 69.7L230.0 68.9L229.3 68.0L228.7 67.1L228.0 66.2L227.4 65.3L226.7 64.4L226.1 63.4L225.5 62.5L224.9 61.6L224.3 60.7L223.7 60.0L223.0 59.3L222.3 58.7L221.7 58.1L221.1 57.5L220.6 56.8L220.2 56.2L219.8 55.6L219.6 55.0L219.3 54.3L219.2 53.7Z" fill="none" stroke="#fff" stroke-width="1.3"/>
<path d="M215.2 59.2h0M221.9 65.9h0M198.1 76.9h0M209.2 56.5h0M199.8 107.3h0M197.8 69.4h0M192.9 73.3h0M203.3 60.9h0M205.4 79.2h0M214.7 95.2h0M201.8 75.5h0M210.7 96.9h0M184.0 84.1h0M196.2 103.9h0M213.5 101.9h0M183.4 74.6h0M193.3 87.7h0M180.6 78.7h0M208.7 86.6h0M224.8 81.1h0M193.2 96.7h0M209.1 81.0h0M201.7 95.5h0M183.8 90.2h0M183.4 85.0h0M200.5 73.6h0M211.9 102.9h0M210.2 78.9h0M217.3 74.2h0M211.2 95.0h0M192.6 93.1h0M204.5 94.7h0M189.1 94.1h0M201.7 58.8h0M200.7 88.9h0M213.4 103.7h0M206.3 69.6h0M206.7 68.2h0M204.6 93.6h0M215.2 69.6h0M195.8 83.5h0M211.2 102.8h0M212.8 84.2h0M195.3 92.0h0M223.0 71.2h0M209.0 63.2h0M199.0 73.4h0M211.7 83.6h0M216.3 84.4h0M201.4 102.1h0M199.3 98.3h0M212.3 67.2h0M195.8 80.7h0M208.8 79.6h0M204.8 80.0h0M204.8 104.4h0M185.2 93.0h0M201.4 111.5h0M193.4 78.5h0M226.6 80.1h0M195.8 79.3h0M187.8 79.6h0M197.4 106.1h0M199.5 109.0h0M189.4 93.4h0M207.8 69.1h0M201.3 95.2h0M219.5 84.5h0M212.6 98.3h0M193.0 98.7h0M204.0 80.6h0M198.5 106.4h0M186.0 93.8h0M210.4 94.4h0M218.6 85.8h0M197.5 89.2h0M203.3 87.9h0M216.1 79.0h0M179.9 78.3h0M187.9 91.5h0M221.1 86.9h0M203.3 83.6h0M192.1 93.4h0M213.7 70.9h0M213.4 103.9h0M191.4 67.7h0M219.2 92.6h0M185.0 73.2h0M228.1 78.0h0M212.8 68.6h0M196.1 102.6h0M213.6 93.7h0M207.6 103.7h0M212.2 61.1h0M201.4 69.0h0M199.1 89.6h0M207.4 64.0h0M208.4 94.9h0M199.7 103.0h0M205.5 61.5h0M217.1 75.8h0M210.2 64.3h0M190.5 74.6h0M211.0 64.1h0M192.8 74.3h0M205.8 90.8h0M192.0 67.1h0M197.3 75.5h0M217.5 96.4h0M211.7 55.4h0M184.4 81.5h0M184.2 92.7h0M198.2 102.6h0M192.5 99.4h0M211.1 71.1h0M216.8 89.8h0M228.1 74.4h0M213.3 68.7h0M195.9 107.4h0M200.7 71.3h0M192.0 74.0h0M198.6 94.0h0M182.1 87.6h0M193.5 92.6h0M210.5 67.9h0M207.0 60.9h0M198.8 68.1h0M220.4 89.4h0M222.4 83.0h0M182.0 73.3h0M198.1 78.0h0M182.5 80.4h0M222.9 79.6h0M200.5 87.2h0M185.8 91.5h0M223.3 85.6h0M211.6 78.6h0M210.1 55.8h0M195.6 80.4h0M206.0 56.9h0M203.6 57.2h0M186.0 95.7h0M202.8 103.2h0M193.0 70.9h0M194.4 79.1h0M186.7 74.0h0M190.1 74.1h0M203.3 59.9h0M222.6 87.1h0M194.0 79.2h0M203.0 63.6h0M202.2 82.9h0M203.3 101.1h0M201.9 89.9h0M198.0 90.6h0M182.0 78.3h0M204.7 76.4h0M227.7 78.4h0M210.3 103.7h0M213.3 93.9h0M222.2 93.0h0M207.7 81.5h0M201.5 64.0h0M192.4 103.9h0M185.0 92.0h0M207.4 73.6h0M208.8 83.4h0M225.0 82.0h0M209.6 88.6h0M216.2 65.7h0M216.7 93.6h0M184.4 95.6h0M206.5 96.8h0M213.2 63.4h0M212.6 101.1h0M197.5 77.2h0M215.8 71.2h0M188.2 67.7h0M226.9 75.1h0M197.5 67.8h0M187.3 78.3h0M204.0 105.9h0M218.8 98.5h0M226.7 76.8h0M189.4 99.7h0M195.1 83.2h0M207.6 97.9h0M216.7 75.5h0M211.6 101.7h0M213.9 81.3h0M200.3 110.8h0M186.1 72.5h0M197.3 70.7h0M224.3 81.5h0M214.0 93.4h0M194.9 93.3h0M228.7 76.2h0M221.5 63.8h0M196.8 82.9h0M203.1 75.3h0M214.9 60.7h0M215.4 62.2h0M221.2 68.6h0M206.5 100.1h0M214.3 80.8h0M203.8 108.0h0M209.8 106.5h0M189.0 94.5h0M189.4 90.3h0M206.7 86.1h0M203.0 63.4h0M221.0 92.2h0M210.7 60.8h0M213.6 82.3h0M210.4 73.8h0M201.8 86.3h0M196.5 107.7h0M201.1 76.1h0M204.8 86.6h0M202.5 103.4h0M201.7 70.5h0M205.7 89.9h0M192.9 105.9h0M208.4 80.9h0M220.4 67.1h0M212.8 77.5h0M192.6 88.2h0M222.2 92.3h0M212.4 101.2h0M194.3 86.3h0M210.2 80.9h0M200.6 90.0h0M220.7 66.1h0M228.5 75.7h0M207.1 80.5h0M219.3 84.2h0M208.4 107.0h0M219.9 90.5h0M210.4 92.0h0M199.2 72.4h0M179.7 84.0h0M221.2 77.0h0M186.9 85.7h0M202.5 102.8h0M205.0 76.0h0M188.8 87.9h0M192.3 73.1h0M207.2 90.6h0M221.0 83.0h0M198.9 88.9h0M221.2 64.6h0M191.7 103.8h0M220.0 74.7h0M195.1 90.3h0M190.8 81.3h0M217.2 63.6h0M193.7 73.8h0M183.3 75.4h0M192.7 103.7h0M188.1 98.1h0M196.2 67.9h0M191.7 86.1h0M203.1 61.2h0M210.9 58.4h0M197.4 99.4h0M201.3 96.8h0M211.6 68.1h0M207.8 103.4h0M218.6 96.5h0M198.3 84.8h0M215.2 91.7h0M196.9 87.1h0M222.4 81.0h0M211.7 81.5h0M219.5 80.8h0M204.6 93.4h0M213.6 57.4h0M196.3 70.3h0M197.0 107.7h0M196.1 102.7h0M216.5 95.6h0M199.2 94.4h0M197.2 83.9h0M214.0 78.1h0M210.2 105.0h0M221.2 78.3h0M203.9 74.8h0M186.1 90.2h0M224.4 86.1h0M193.3 97.8h0M225.9 70.0h0M190.2 86.2h0M189.3 74.7h0M210.4 97.0h0M227.1 73.4h0M218.0 80.1h0M198.9 110.5h0M179.1 78.0h0M201.1 94.7h0M212.2 59.3h0M209.2 60.1h0M196.4 86.2h0M214.8 91.9h0M189.3 86.8h0M184.0 84.9h0M180.8 78.8h0M183.2 93.1h0M216.1 71.4h0M205.0 92.6h0M199.1 93.2h0M213.3 88.5h0M192.6 71.7h0M197.1 107.1h0M187.7 87.6h0M185.5 77.4h0M205.3 66.6h0M216.3 102.4h0M208.6 64.9h0M198.7 79.5h0M220.0 74.4h0M190.3 97.8h0M209.9 98.0h0M222.0 75.9h0M213.8 60.3h0M191.3 78.8h0M218.7 68.9h0M227.8 77.3h0M221.4 62.1h0M194.6 74.2h0M200.0 77.3h0M210.2 103.8h0M200.1 67.2h0M199.5 109.6h0M201.5 65.5h0M227.2 73.6h0M214.8 96.6h0M210.9 65.3h0M185.4 73.0h0M192.3 72.6h0M213.9 78.0h0M199.0 64.1h0M189.4 70.8h0M225.6 79.4h0M213.1 79.5h0M204.5 97.3h0M222.9 77.1h0M200.9 101.5h0M219.6 97.3h0M189.7 89.5h0M182.8 85.4h0M213.4 84.0h0M208.6 66.9h0M208.3 62.4h0M198.3 68.7h0M218.3 97.7h0M221.5 83.1h0M199.9 62.8h0M208.7 90.5h0M193.8 76.4h0M191.0 76.2h0M196.5 85.2h0M210.5 90.7h0M220.5 63.9h0M193.6 80.3h0M200.1 88.7h0M211.6 65.2h0M207.9 75.7h0M212.1 98.6h0M199.6 68.6h0M190.7 100.5h0M217.3 59.4h0M199.2 109.5h0M190.8 92.2h0M216.5 96.4h0M208.6 95.5h0M192.9 97.2h0M196.9 84.3h0M188.4 89.9h0M216.0 59.5h0M198.1 101.2h0M194.3 93.0h0M182.3 91.0h0M209.5 82.5h0M216.3 101.9h0M211.2 72.8h0M216.7 64.7h0M227.7 76.6h0M187.2 72.8h0M186.3 76.9h0M199.6 82.7h0M207.5 65.0h0M221.6 65.6h0M204.3 86.2h0M218.2 82.8h0M219.7 92.2h0M204.8 99.6h0M199.7 107.5h0M228.3 70.7h0M214.9 83.7h0M217.1 86.6h0M213.5 89.5h0M191.6 79.0h0M217.3 83.2h0M194.5 86.1h0M215.2 92.4h0M196.2 101.5h0M214.9 79.1h0M190.5 104.7h0M213.8 66.5h0M210.0 62.4h0M214.2 99.3h0M226.0 77.7h0M199.9 92.8h0M197.5 88.1h0M222.2 64.9h0M226.4 74.1h0M218.0 68.9h0M202.7 77.4h0M214.9 76.5h0M187.9 84.9h0M202.5 84.2h0M192.1 76.1h0M227.8 70.1h0M197.4 70.4h0M185.7 94.0h0M193.7 78.8h0M209.8 67.9h0M217.3 91.1h0M214.1 103.0h0M199.9 106.2h0M206.5 74.8h0M195.0 108.1h0M222.3 63.6h0M187.2 90.3h0M221.4 80.3h0M194.5 98.8h0M218.4 85.0h0M211.8 87.2h0M183.7 81.1h0M218.4 58.8h0M192.6 80.5h0M188.9 100.6h0M196.9 69.2h0M218.8 95.2h0M207.1 97.4h0M191.9 71.9h0M214.5 92.2h0M214.2 105.5h0M222.4 64.6h0M217.3 60.6h0M193.0 101.7h0M222.1 90.8h0M226.0 71.1h0M201.0 61.8h0M218.4 69.3h0M203.4 107.6h0M193.1 87.5h0M201.7 96.1h0M212.2 89.3h0M186.8 78.0h0M215.1 101.1h0M184.7 90.4h0M191.2 73.2h0M198.4 77.3h0M185.5 76.2h0M215.1 82.9h0M188.3 98.9h0M187.8 72.6h0M205.3 84.5h0M224.3 68.1h0M213.1 80.2h0M205.1 111.3h0M198.7 84.6h0M199.2 103.0h0M196.2 76.4h0M180.5 83.2h0M194.0 102.1h0M218.1 94.9h0M208.4 71.8h0M211.1 101.1h0M187.9 84.6h0M194.2 105.1h0M215.6 62.3h0M195.8 97.4h0M220.6 69.3h0M212.5 98.9h0M218.8 65.8h0M188.5 98.1h0M198.4 102.0h0M222.5 92.7h0M210.8 69.7h0M221.3 94.5h0M224.3 76.9h0M185.3 90.5h0M192.6 106.7h0M213.7 80.2h0M183.1 82.3h0M217.8 86.2h0M215.0 64.0h0M182.0 74.7h0M205.6 69.1h0M206.4 89.2h0M204.1 63.8h0M193.3 83.4h0M203.7 101.0h0M218.4 67.5h0M185.1 88.0h0M224.3 74.2h0M195.3 108.6h0M223.4 87.8h0M218.9 97.1h0M202.7 110.6h0M222.7 76.8h0M204.6 61.9h0M208.4 87.4h0M187.9 72.2h0M222.4 63.0h0M209.4 103.1h0M183.6 89.7h0M204.0 74.3h0M210.9 78.0h0M188.8 80.8h0M196.6 80.1h0M219.1 67.4h0M228.6 76.1h0M195.7 72.5h0M224.7 68.1h0M187.6 93.9h0M209.6 83.9h0M203.0 75.0h0M207.7 89.0h0M216.3 91.8h0M213.1 97.7h0M205.3 65.7h0M200.6 92.9h0M215.2 80.7h0M226.2 85.5h0M207.0 84.1h0M184.1 90.2h0M219.0 78.3h0M186.1 83.8h0M209.0 68.5h0M186.8 77.4h0M187.3 82.0h0M182.6 88.5h0M220.1 95.2h0M217.4 78.7h0M218.4 73.9h0M189.7 74.4h0M206.3 91.6h0M220.5 90.6h0M191.2 82.1h0M217.4 96.0h0M208.1 73.9h0M198.6 85.5h0M220.0 67.4h0M182.6 91.0h0M199.9 74.3h0M205.3 104.8h0M210.7 66.9h0M189.7 92.1h0M196.7 67.7h0M196.2 104.1h0M212.5 58.1h0M199.5 84.6h0M201.7 74.7h0M197.0 98.1h0M209.9 108.8h0M200.1 89.7h0M215.5 62.3h0M183.2 81.7h0M211.2 86.3h0M208.0 59.7h0M219.5 68.8h0M184.6 75.3h0M207.5 97.9h0M196.6 101.7h0M180.5 81.6h0M213.7 79.1h0M220.7 73.2h0M217.6 61.8h0M185.7 86.5h0M204.5 110.7h0M205.9 75.5h0M192.2 67.1h0M223.8 87.5h0M223.2 65.5h0M193.6 99.4h0M198.9 89.3h0M184.5 90.9h0M208.9 102.5h0M185.1 86.0h0M189.4 103.6h0M215.0 70.0h0M197.6 74.0h0M221.1 66.0h0M229.0 74.0h0M211.2 94.1h0M217.2 96.5h0M207.4 71.6h0M203.6 75.1h0M206.6 56.1h0M196.7 80.0h0M216.4 84.6h0M210.2 68.9h0M192.0 91.2h0M213.5 101.1h0M198.9 67.8h0M181.3 75.3h0M180.5 82.7h0M206.4 61.0h0M208.0 99.7h0M189.8 68.6h0M188.3 101.0h0M215.6 102.7h0M222.6 65.0h0M193.8 98.4h0M212.1 99.5h0M215.8 103.6h0M213.1 56.6h0M211.6 80.4h0M204.8 68.5h0M220.5 67.0h0M196.9 103.6h0M206.1 74.7h0M200.1 99.9h0M197.8 101.3h0M219.8 72.0h0M192.6 73.9h0M213.4 77.1h0M206.2 90.4h0M213.6 56.8h0M208.2 65.8h0M223.0 67.6h0M197.1 83.8h0M213.8 87.4h0M216.7 66.1h0M193.2 80.9h0M188.9 71.8h0M202.8 110.0h0M219.4 97.6h0M208.2 96.9h0M206.4 104.1h0M204.3 73.8h0M212.7 69.8h0M192.2 69.9h0M200.9 89.6h0M196.0 77.3h0M185.8 82.6h0M224.9 80.9h0M195.1 104.9h0M192.0 77.1h0M210.8 97.4h0M213.0 103.4h0M203.1 101.6h0M206.6 96.6h0M213.3 81.2h0M203.7 103.3h0M186.4 90.5h0M202.5 102.2h0M194.1 81.5h0M213.9 99.4h0M218.2 92.1h0M221.8 70.2h0M206.3 87.2h0M209.1 61.9h0M208.0 88.5h0M192.6 106.4h0M191.8 99.6h0M189.0 73.6h0M210.8 69.8h0M196.7 107.5h0M201.1 89.9h0M204.1 68.3h0M207.8 74.3h0M191.7 79.9h0M226.7 71.1h0M190.0 100.1h0M186.7 72.8h0M201.7 96.5h0M212.5 85.5h0M188.5 91.7h0M214.0 63.2h0M193.1 67.5h0M190.9 104.6h0M207.0 102.5h0M200.6 109.3h0M223.0 72.4h0M201.1 85.3h0M194.6 83.4h0M190.9 71.1h0M192.6 105.0h0M218.9 95.6h0M202.0 103.7h0M188.9 83.1h0M197.0 77.6h0M203.0 73.9h0M199.2 92.6h0M207.4 98.6h0M205.1 84.6h0M213.8 65.4h0M221.9 79.1h0M184.7 87.1h0M213.1 104.8h0M196.6 82.6h0M217.9 61.3h0M209.3 104.1h0M215.7 70.7h0M223.2 80.4h0M205.0 58.1h0M216.5 96.5h0M200.0 74.8h0M218.5 88.2h0M196.4 95.9h0M183.0 74.8h0M188.4 70.8h0M208.3 58.1h0M183.8 83.2h0M205.0 72.2h0M214.3 89.3h0M210.4 101.6h0M207.3 92.6h0M205.8 75.7h0M198.3 108.0h0M193.0 80.7h0M209.6 71.4h0M188.1 78.4h0M183.9 75.3h0M219.4 80.2h0M195.6 76.9h0M220.4 93.3h0M183.3 80.7h0M202.7 87.3h0M207.7 69.9h0M192.9 68.8h0M195.1 81.4h0M218.3 77.8h0M205.9 106.0h0M210.7 85.7h0M202.2 80.4h0M204.8 89.1h0M213.6 59.2h0M217.5 81.5h0M207.9 68.2h0M212.0 104.4h0M188.6 73.8h0M188.6 78.8h0M188.2 89.5h0M200.0 104.4h0M222.8 67.0h0M201.4 99.9h0M198.6 76.1h0M227.6 76.7h0M212.2 70.9h0M189.1 86.1h0M191.1 73.7h0M228.8 79.4h0M213.7 90.2h0M213.8 83.9h0M186.6 86.5h0M188.2 87.8h0M208.4 58.1h0M199.2 69.4h0M198.6 95.4h0M192.6 71.9h0M204.0 67.4h0M204.8 75.7h0M199.3 91.2h0M202.0 78.1h0M196.5 92.5h0M186.0 85.1h0M228.9 78.4h0M214.2 89.4h0M190.7 78.3h0M193.9 101.8h0M216.2 96.7h0M222.9 78.4h0M216.7 79.1h0M215.9 63.1h0M194.7 73.1h0M213.9 105.3h0" stroke="#b2b2b2" stroke-width="1.20" stroke-linecap="round" fill="none"/>
<path d="M204.1 80.4h0M190.0 104.1h0M199.5 62.1h0M204.8 104.8h0M195.4 84.1h0M201.4 88.1h0M229.2 72.3h0M226.0 70.2h0M222.8 70.1h0M194.1 87.3h0M222.7 78.3h0M204.5 57.8h0M214.6 73.0h0M183.6 92.2h0M209.5 106.8h0M198.7 109.8h0M212.2 105.6h0M209.0 108.4h0M210.7 107.1h0M186.3 96.4h0M190.9 68.8h0M212.8 77.9h0M217.1 64.1h0M185.7 78.4h0M204.3 101.5h0M187.4 75.6h0M183.4 71.9h0M224.9 73.2h0M204.2 81.9h0M201.5 84.9h0M183.4 78.9h0M201.4 91.3h0M189.5 70.5h0M195.9 76.7h0M182.6 89.2h0M202.0 75.7h0M223.7 88.2h0M203.3 70.5h0M186.4 98.1h0M188.9 102.6h0M221.7 79.6h0M212.6 99.5h0M186.8 90.5h0M184.3 72.9h0M205.4 79.0h0M203.6 97.6h0M202.8 80.2h0M219.4 78.3h0M208.7 75.1h0M191.1 88.8h0M203.3 72.5h0M210.1 100.6h0M195.2 86.3h0M201.3 77.6h0M217.9 59.1h0M191.3 85.2h0M216.3 98.4h0M205.0 80.5h0M221.6 67.4h0M209.2 94.3h0M209.1 105.6h0M203.7 58.0h0M203.8 64.6h0M202.6 82.1h0M194.4 80.4h0M183.1 77.7h0M182.5 78.8h0M204.6 56.2h0M195.8 100.2h0M214.0 92.9h0M201.9 58.3h0M196.4 108.9h0M182.8 75.3h0M198.3 75.2h0M205.7 64.9h0M216.6 64.1h0M205.8 98.3h0M223.9 73.6h0M212.7 72.7h0M219.0 80.7h0M212.6 103.0h0M187.0 73.2h0M204.9 106.2h0M186.3 70.6h0M199.2 70.1h0M217.7 90.4h0M196.6 72.8h0M179.7 83.5h0M207.0 94.7h0M198.3 93.8h0M203.4 77.2h0M215.6 64.8h0M195.5 93.7h0M201.8 62.4h0M199.3 64.2h0M193.1 72.1h0M202.5 97.3h0M227.2 75.5h0M207.9 103.4h0M218.3 87.4h0M218.6 59.0h0M187.7 87.7h0M198.6 76.7h0M200.5 76.2h0M193.3 101.2h0M208.2 81.5h0M183.1 77.9h0M203.9 103.9h0M184.9 93.4h0M211.9 96.1h0M207.1 80.0h0M203.0 89.5h0M199.6 105.6h0M204.2 77.6h0M216.9 82.6h0M189.4 83.8h0M209.5 75.8h0M183.1 90.1h0M196.9 98.4h0M191.4 69.6h0M186.2 76.6h0M223.3 69.8h0M205.2 67.1h0M215.6 91.4h0M195.7 91.8h0M224.6 76.7h0M211.5 84.5h0M225.5 74.1h0M206.2 77.4h0M195.2 80.7h0M204.9 101.7h0M189.2 73.9h0M227.6 77.5h0M207.4 102.7h0M203.9 75.1h0M211.3 73.3h0M188.0 78.1h0M205.4 66.4h0M200.8 65.4h0M188.3 78.4h0M221.1 62.6h0M216.1 87.2h0M205.1 99.4h0M213.9 105.0h0M194.2 76.2h0M205.0 69.4h0M207.8 107.8h0M208.2 97.2h0M201.5 82.6h0M180.8 74.6h0M223.4 68.4h0M212.1 72.2h0M209.6 105.4h0M191.9 80.6h0M217.7 61.9h0M219.0 63.3h0M211.9 95.8h0M206.2 106.5h0M206.0 100.9h0M195.7 95.7h0M209.1 80.0h0M199.7 94.5h0M200.8 87.9h0M206.9 73.6h0M185.7 78.9h0M217.9 70.2h0M213.3 79.8h0M203.7 77.0h0M208.1 90.6h0M208.3 86.5h0M205.6 70.9h0M211.9 73.8h0M191.9 105.5h0M196.2 90.5h0M188.8 79.0h0M197.0 102.2h0M203.1 82.2h0M189.5 84.1h0M189.5 75.9h0M221.8 70.6h0M206.5 55.5h0M202.3 86.5h0M187.8 92.2h0M218.8 72.8h0M205.9 81.7h0M192.3 103.4h0M199.9 89.0h0M200.4 101.4h0M227.2 78.2h0M212.6 56.5h0M183.2 88.8h0M193.2 78.9h0M214.5 90.1h0M218.3 92.8h0M206.8 78.8h0M222.5 70.5h0M223.4 87.3h0M202.2 105.3h0M219.1 60.9h0M206.3 63.1h0M198.1 96.2h0M203.7 76.9h0M228.4 79.8h0M197.4 101.1h0M204.5 64.1h0M213.0 60.2h0M196.0 90.6h0M196.0 92.1h0M222.5 77.7h0M196.7 109.5h0M193.5 77.5h0M208.3 104.6h0M215.1 80.7h0M223.4 78.1h0M217.3 68.9h0M205.7 102.7h0M194.3 80.8h0M220.7 68.8h0M216.9 72.0h0M198.7 84.3h0M193.7 98.9h0M212.8 105.2h0M197.5 102.3h0M212.0 55.3h0M205.3 95.1h0M207.0 104.3h0M213.1 58.3h0M197.2 97.3h0M218.1 57.9h0M224.4 73.0h0M188.1 80.0h0M225.9 70.9h0M217.0 78.9h0M191.3 95.5h0M214.3 94.6h0M186.5 70.2h0M201.8 77.2h0M209.2 79.4h0M223.6 90.2h0M210.0 86.1h0M222.7 76.8h0M205.5 101.7h0M192.9 107.2h0M216.9 69.9h0M188.4 92.0h0M196.8 104.7h0M203.2 101.5h0M189.2 103.4h0M213.2 105.5h0M204.9 89.2h0M222.6 71.4h0M208.9 88.8h0M212.3 76.1h0M219.2 86.1h0M228.5 70.5h0M198.7 72.9h0M205.5 81.3h0M219.8 76.1h0M214.5 90.8h0M189.8 99.2h0M194.3 103.3h0M223.8 84.0h0M195.4 78.6h0M220.9 75.4h0M209.2 93.5h0M220.4 89.4h0M193.2 69.4h0M183.8 93.4h0M221.3 71.5h0M201.8 96.7h0M205.5 85.8h0M192.1 83.9h0M192.6 98.7h0M195.8 81.6h0M221.6 88.2h0M191.2 97.2h0M205.5 59.3h0M208.1 58.2h0M218.4 89.5h0M207.5 76.5h0M184.4 82.4h0M194.1 73.2h0M193.9 102.5h0M216.9 84.2h0M201.8 60.2h0M187.5 99.5h0M206.2 100.8h0M211.2 96.3h0M216.8 93.6h0M188.5 77.8h0M199.2 86.8h0M207.4 101.4h0M189.2 72.1h0M206.5 72.0h0M216.8 94.5h0M206.4 97.7h0M210.6 86.6h0M204.9 99.7h0M190.0 103.1h0M201.4 93.4h0M211.3 103.6h0M185.4 93.2h0M192.8 68.1h0M217.2 99.0h0M190.9 94.0h0M205.8 108.2h0M206.5 76.2h0M217.1 82.0h0M207.3 82.2h0M215.5 60.2h0M190.8 93.2h0M208.0 102.2h0M198.1 81.7h0M194.5 91.4h0M221.8 84.7h0M220.7 78.7h0M216.3 92.3h0M214.1 103.1h0M218.7 69.2h0M224.7 73.1h0M194.9 88.9h0M220.7 75.9h0M197.1 107.9h0M188.3 74.7h0M201.4 58.8h0M208.4 106.7h0M193.6 71.0h0M195.5 76.1h0M192.5 74.0h0M198.6 92.0h0M202.4 84.8h0M194.5 76.6h0M211.7 66.2h0M185.8 76.9h0M215.7 82.9h0M200.7 59.1h0M187.8 99.3h0M196.5 106.0h0M221.2 88.7h0M200.8 83.0h0M222.6 89.3h0M190.3 67.6h0M211.9 103.2h0M194.1 87.2h0M204.9 107.0h0M192.4 72.2h0M219.2 73.7h0M199.0 108.5h0M216.5 66.2h0M207.4 77.6h0M200.0 92.2h0M192.4 75.7h0M186.4 96.4h0M204.6 58.9h0M210.2 75.1h0M225.0 70.7h0M198.1 71.3h0M194.6 69.5h0M199.7 80.8h0M201.3 78.6h0M213.4 87.5h0M212.1 101.0h0M195.4 75.5h0M225.2 67.6h0M220.4 88.0h0M209.0 96.1h0M190.7 77.0h0M202.3 60.1h0M223.4 65.4h0M212.1 97.4h0M205.8 57.1h0M217.9 83.9h0M197.4 80.7h0M196.2 78.7h0M197.3 68.5h0M224.1 73.8h0M215.6 67.6h0M221.2 65.7h0M186.5 75.2h0M200.1 67.4h0M181.6 79.7h0M197.7 70.9h0M198.8 107.0h0M198.1 78.6h0M206.1 100.3h0M188.7 95.9h0M214.7 79.9h0M195.4 101.8h0M218.2 71.6h0M207.6 73.5h0M225.6 86.1h0M208.2 94.3h0M201.7 90.0h0M201.6 90.0h0M199.1 88.2h0M203.8 103.5h0M197.2 75.4h0M222.5 84.7h0M189.4 66.7h0M203.0 105.7h0M207.2 64.0h0M200.6 100.5h0M191.8 100.5h0M205.9 65.9h0M216.6 68.7h0M206.5 78.7h0M196.9 108.0h0M218.1 59.3h0M194.0 78.0h0M203.9 79.3h0M188.6 71.8h0M195.6 95.3h0M196.2 71.7h0M210.9 74.7h0M199.1 67.7h0M218.3 98.1h0M199.9 92.4h0M195.9 88.9h0M197.0 85.5h0M211.8 98.6h0M224.3 74.5h0M196.6 72.5h0M212.2 80.4h0M204.8 78.3h0M197.7 96.4h0M224.5 84.5h0M218.7 65.2h0M184.4 72.3h0M208.8 100.4h0" stroke="#ffffff" stroke-width="1.10" stroke-linecap="round" fill="none"/>
<path d="M179.5 75.7h0M180.8 73.3h0M185.1 69.8h0M186.0 68.9h0M189.0 66.0h0M195.4 66.9h0M197.4 63.1h0M200.3 60.3h0M200.7 61.2h0M201.1 58.0h0M204.8 54.9h0M215.7 56.8h0M216.9 56.7h0M217.6 58.2h0M222.1 62.3h0M223.9 63.0h0M225.5 66.1h0M226.2 68.5h0M227.6 69.8h0M227.9 70.0h0M228.9 72.1h0M230.4 72.6h0M228.9 78.7h0M226.7 81.9h0M227.3 83.5h0M227.2 87.1h0M224.5 88.2h0M223.9 91.3h0M223.7 90.8h0M221.8 95.7h0M220.6 96.5h0M220.1 98.1h0M219.5 98.9h0M215.9 103.6h0M215.1 105.0h0M213.2 107.9h0M213.2 107.3h0M211.4 108.2h0M204.0 111.9h0M201.9 111.5h0M200.2 111.1h0M199.0 109.2h0M193.5 108.3h0M194.7 108.8h0M192.1 107.0h0M189.6 104.1h0M188.5 102.0h0M184.6 97.2h0M182.8 91.5h0M181.0 90.5h0M178.9 81.4h0" stroke="#ffffff" stroke-width="1.60" stroke-linecap="round" fill="none"/>
<path d="M242.4 59.4h0M226.8 60.8h0M248.8 52.8h0M233.8 59.6h0M232.7 50.5h0M241.5 66.7h0M241.7 47.1h0M225.6 46.4h0M233.6 69.5h0M239.5 55.3h0M236.0 61.2h0M237.5 59.9h0M225.2 49.3h0M237.1 50.2h0M226.8 53.6h0M222.9 56.0h0M231.4 49.5h0M232.3 70.6h0M241.8 48.2h0M222.1 56.4h0M241.8 66.0h0M231.5 50.4h0M243.3 52.9h0M243.5 52.3h0M242.2 50.7h0M237.2 49.6h0M235.9 50.1h0M234.9 52.6h0M235.9 61.3h0M239.2 64.9h0M234.2 46.1h0M240.8 49.1h0M233.2 50.9h0M236.2 56.0h0M223.4 49.8h0M227.2 44.1h0M246.8 55.2h0M237.2 49.9h0M232.2 59.4h0M232.5 48.9h0M227.7 52.2h0M245.2 64.2h0M245.8 63.8h0M231.7 61.8h0M229.5 48.1h0M222.5 56.4h0M233.7 49.2h0M238.3 56.8h0M226.3 47.2h0M236.6 56.5h0M228.8 48.5h0M236.7 61.3h0M238.6 66.8h0M236.3 59.5h0M247.9 57.8h0M249.8 59.2h0M223.8 59.3h0M231.3 62.7h0M229.5 59.5h0M250.0 56.1h0M243.1 49.4h0M246.8 53.7h0M230.4 64.5h0M239.6 49.8h0M227.4 64.5h0M234.1 43.8h0M236.2 60.7h0M224.7 45.4h0M234.8 67.9h0M247.5 52.4h0M228.2 61.4h0M237.6 60.5h0M229.0 57.3h0M224.1 53.0h0M232.5 44.1h0M236.0 52.5h0M221.9 48.5h0M235.1 49.1h0M237.1 51.9h0M236.3 52.6h0M223.2 57.5h0M235.6 44.0h0M233.8 63.2h0M229.4 51.1h0M228.8 50.3h0M246.1 54.1h0M230.4 54.4h0M233.0 63.1h0M243.3 50.3h0M235.5 69.5h0M242.1 62.6h0M240.2 50.1h0M241.5 64.9h0M225.9 58.7h0M229.8 53.9h0M225.8 62.5h0M237.1 57.5h0M241.3 62.9h0M227.8 51.7h0M234.6 52.9h0M248.7 59.7h0M236.2 62.0h0M241.8 57.5h0M224.3 48.4h0M226.1 57.1h0M229.6 60.7h0M228.1 60.8h0M238.7 53.0h0M226.1 45.6h0M225.8 48.3h0M235.4 68.6h0M233.2 52.3h0M228.2 58.9h0M226.2 49.9h0M239.1 58.0h0M237.3 54.8h0M233.3 59.8h0M226.5 56.8h0M251.2 56.2h0M231.7 53.9h0M237.0 45.0h0M238.5 59.3h0M241.9 54.6h0M225.4 60.2h0M231.0 61.4h0M221.6 57.7h0M232.9 50.8h0M229.3 59.5h0M246.6 56.2h0M240.9 56.5h0M232.5 46.5h0M228.0 63.0h0M234.3 65.5h0M231.0 61.3h0M248.5 60.3h0M247.0 53.7h0M225.5 49.6h0M228.6 61.1h0M229.1 43.5h0M234.6 63.8h0M248.3 62.0h0M247.4 52.1h0M233.8 49.4h0M237.5 65.9h0M236.4 49.0h0M221.7 47.3h0M235.9 70.2h0M220.3 55.2h0M235.3 47.2h0M238.2 52.4h0M243.3 60.3h0M243.2 55.7h0M235.1 53.0h0M239.6 48.1h0M223.2 49.4h0M224.5 57.5h0M225.3 52.1h0M221.0 55.4h0M232.6 62.1h0M250.6 58.2h0M230.2 58.9h0M245.0 52.5h0M226.9 60.0h0M236.0 55.7h0M227.3 58.9h0M223.6 53.2h0M236.7 55.9h0M238.0 57.8h0M228.1 55.9h0M223.4 46.1h0M234.7 57.6h0M226.4 54.7h0M228.2 54.0h0M228.5 46.7h0M227.1 53.4h0M227.8 58.1h0M247.0 56.5h0M228.7 57.1h0M228.0 63.8h0M234.1 65.5h0M245.7 60.0h0M233.4 52.6h0M239.7 59.1h0M229.4 56.0h0M224.2 53.9h0M234.4 60.9h0M243.2 55.8h0M236.4 49.9h0M241.8 62.6h0M227.3 58.9h0M235.8 66.3h0M223.3 53.0h0M237.7 51.0h0M250.6 59.6h0M233.2 43.6h0M235.5 57.1h0M234.8 57.0h0M222.7 54.0h0M238.6 59.2h0M226.2 53.2h0M223.3 50.1h0M226.9 61.7h0M228.3 62.9h0M232.0 57.3h0M236.6 49.4h0M233.7 58.4h0M235.0 63.6h0M224.6 56.2h0M225.1 50.4h0M222.6 53.3h0M231.4 50.2h0M230.0 53.2h0M235.7 48.9h0M231.2 59.1h0M229.4 60.5h0M231.2 46.0h0M232.6 59.1h0M224.8 49.6h0M226.5 60.0h0M233.0 48.8h0M237.7 62.6h0M226.8 63.2h0M242.2 65.0h0M234.5 46.8h0M226.1 54.7h0M227.1 51.0h0M235.3 63.2h0M235.7 58.1h0M224.3 57.7h0M226.3 63.6h0M219.0 49.5h0M232.1 67.5h0M235.1 51.6h0M233.3 58.7h0M235.0 66.1h0M238.2 55.4h0M241.7 53.7h0M221.8 56.9h0M237.6 64.5h0M239.8 55.7h0M233.0 57.3h0M229.4 47.6h0M245.6 52.3h0" stroke="#b2b2b2" stroke-width="1.20" stroke-linecap="round" fill="none"/>
<path d="M226.9 50.2h0M248.4 52.7h0M238.9 52.1h0M225.9 60.1h0M235.4 50.1h0M229.0 60.2h0M225.2 50.1h0M246.0 59.7h0M224.6 56.2h0M228.6 56.8h0M235.5 62.1h0M228.4 44.3h0M240.9 50.2h0M226.5 49.2h0M223.4 55.2h0M230.2 48.3h0M251.8 56.5h0M233.6 69.1h0M224.1 44.8h0M230.7 66.2h0M228.0 56.1h0M243.0 53.1h0M232.2 52.0h0M242.6 51.4h0M245.1 52.4h0M234.6 54.7h0M240.1 63.1h0M225.8 50.7h0M228.5 65.1h0M239.8 65.4h0M233.4 45.5h0M229.8 50.3h0M236.2 69.1h0M231.1 51.3h0M228.1 55.7h0M237.8 63.8h0M221.0 49.5h0M227.6 61.7h0M224.8 51.3h0M234.6 60.9h0M224.5 60.7h0M240.0 49.9h0M242.8 53.6h0M229.2 47.0h0M248.2 57.7h0M238.4 65.5h0M232.0 69.4h0M238.0 65.7h0M234.6 63.4h0M235.5 61.3h0M242.2 57.4h0M242.0 50.9h0M225.1 59.3h0M233.6 50.3h0M244.3 54.8h0M234.6 53.8h0M223.9 57.2h0M232.7 66.3h0M242.4 51.0h0M226.5 48.2h0M225.8 51.5h0M235.2 56.5h0M242.9 49.1h0M219.3 52.8h0M229.0 65.2h0M237.0 56.4h0M245.9 51.5h0M221.3 52.4h0M238.4 57.9h0M228.6 60.0h0M228.3 66.5h0M230.7 58.8h0M243.8 53.0h0M242.0 48.1h0M247.3 51.0h0M238.4 56.4h0M230.1 65.6h0M233.3 53.1h0M230.2 56.2h0M228.7 45.4h0M244.9 56.2h0M236.6 50.7h0M237.5 63.0h0M232.5 51.8h0M232.9 60.9h0M240.8 62.9h0M239.7 50.5h0M226.4 49.0h0M235.1 67.0h0M226.2 63.2h0M226.3 52.0h0M237.9 64.9h0M222.6 57.8h0M237.4 45.2h0M240.7 52.8h0M242.6 65.3h0M222.3 47.2h0M219.6 51.3h0M231.4 52.9h0M231.8 59.0h0M233.7 50.3h0M250.5 58.0h0M232.7 69.5h0M232.1 64.9h0M235.8 55.9h0M233.6 60.6h0M243.8 57.1h0M233.1 51.5h0M222.1 53.6h0M238.0 50.6h0M231.0 66.7h0M246.8 62.3h0M249.3 54.6h0M219.8 54.6h0M243.0 56.4h0M223.3 50.8h0M242.9 56.1h0M224.2 52.0h0M229.3 51.0h0M238.2 46.8h0M232.5 60.7h0M222.1 47.0h0M232.9 68.5h0M229.2 60.8h0M250.6 55.3h0M235.3 53.0h0M230.4 50.7h0M229.3 52.4h0M234.4 47.1h0M237.5 66.2h0M239.3 67.3h0M240.4 53.3h0M236.8 49.5h0M222.8 49.0h0" stroke="#ffffff" stroke-width="1.10" stroke-linecap="round" fill="none"/>
<path d="M218.7 53.6h0M219.4 52.8h0M219.2 47.1h0M220.9 45.0h0M222.0 45.7h0M223.4 44.1h0M228.1 44.7h0M233.6 44.0h0M244.3 48.2h0M246.7 48.8h0M248.6 51.3h0M249.9 55.2h0M251.5 58.4h0M249.6 61.2h0M248.6 63.1h0M246.6 64.3h0M243.5 63.9h0M239.8 68.5h0M236.3 69.8h0M233.8 70.5h0M230.8 69.9h0M229.7 69.7h0M227.9 64.4h0M222.9 58.5h0M219.9 58.3h0M220.6 57.2h0M220.3 55.2h0M219.2 53.2h0" stroke="#ffffff" stroke-width="1.60" stroke-linecap="round" fill="none"/>
<path d="M271.6 64.1h0M274.7 74.6h0M271.9 65.4h0M273.3 60.7h0M274.6 66.5h0M245.2 73.7h0M260.4 72.4h0M262.0 73.7h0M252.6 70.1h0M254.8 75.2h0M263.2 75.9h0M274.8 76.8h0M272.8 62.6h0M243.4 78.3h0M244.6 75.3h0M265.8 58.4h0M261.7 73.2h0M240.8 78.3h0M259.5 60.1h0M274.7 67.8h0M268.0 62.9h0M273.6 67.3h0M275.0 66.1h0M269.6 79.5h0M270.0 73.5h0M268.3 63.9h0M233.7 76.9h0M259.8 66.5h0M244.3 66.9h0M259.0 83.6h0M248.6 71.9h0M273.8 67.2h0M276.8 74.4h0M264.9 74.0h0M246.0 75.7h0M267.6 67.2h0M268.9 81.8h0M252.1 70.5h0M270.3 60.7h0M247.4 69.1h0M256.6 67.2h0M249.1 77.7h0M244.1 74.5h0M260.0 57.7h0M254.5 74.5h0M267.7 58.2h0M259.3 69.1h0M272.9 69.1h0M258.4 66.8h0M262.1 59.1h0M236.8 71.7h0M273.7 60.5h0M262.4 80.7h0M249.9 62.2h0M275.9 67.3h0M274.3 79.3h0M233.4 75.6h0M237.5 69.4h0M274.8 61.1h0M253.9 67.7h0M236.8 77.6h0M253.1 72.8h0M236.3 73.0h0M256.6 80.2h0M238.6 73.0h0M239.8 73.7h0M274.1 71.7h0M236.7 72.6h0M262.4 64.1h0M248.0 78.2h0M251.4 63.3h0M265.0 75.9h0M251.4 62.1h0M271.6 76.0h0M266.0 75.9h0M267.9 66.1h0M244.4 66.4h0M256.5 78.2h0M259.5 72.4h0M274.9 78.6h0M274.0 79.5h0M268.3 60.1h0M254.9 60.5h0M240.6 71.0h0M264.1 78.7h0M254.6 63.9h0M262.7 57.3h0M256.1 71.8h0M259.7 71.6h0M268.7 82.0h0M254.6 77.9h0M253.1 76.4h0M264.9 70.9h0M256.2 67.5h0M246.6 67.2h0M273.8 78.3h0M235.1 72.5h0M273.1 76.4h0M260.1 63.6h0M263.3 71.2h0M238.3 69.6h0M260.4 72.7h0M272.2 78.1h0M270.4 60.0h0M245.2 76.3h0M268.0 71.2h0M235.0 71.3h0M261.4 71.3h0M256.0 75.4h0M261.4 82.6h0M235.8 71.4h0M264.9 71.7h0M263.5 83.3h0M243.8 73.4h0M271.0 69.1h0M248.6 71.9h0M260.5 64.6h0M255.4 74.4h0M258.2 66.3h0M260.8 82.6h0M274.1 78.5h0M270.1 74.4h0M262.6 81.6h0M265.8 83.3h0M254.9 66.2h0M262.7 80.7h0M252.7 62.3h0M231.1 76.7h0M249.3 70.0h0M256.7 61.1h0M258.3 79.5h0M243.4 66.1h0M277.8 71.2h0M234.4 72.4h0M244.3 72.4h0M243.0 68.5h0M242.9 79.0h0M264.9 58.9h0M239.9 77.5h0M257.6 82.2h0M263.7 68.9h0M254.2 71.0h0M243.8 74.2h0M256.3 83.9h0M276.5 71.4h0M261.7 74.2h0M253.4 68.5h0M267.9 63.3h0M244.1 67.7h0M275.4 67.6h0M263.5 82.1h0M278.3 67.1h0M265.7 78.3h0M275.0 75.9h0M266.6 65.7h0M259.7 72.6h0M252.3 65.3h0M264.4 63.3h0M252.9 71.6h0M263.0 81.6h0M254.3 66.3h0M248.8 67.8h0M240.0 68.2h0M238.8 75.7h0M270.3 76.9h0M246.7 76.9h0M263.0 70.8h0M273.4 68.0h0M269.9 68.4h0M246.7 69.2h0M272.4 72.8h0M252.2 79.9h0M253.4 62.4h0M263.9 77.7h0M278.3 69.5h0M262.4 81.7h0M238.8 70.5h0M238.1 74.5h0M231.7 75.0h0M269.8 62.9h0M247.8 74.3h0M266.1 70.6h0M262.8 74.0h0M251.7 65.6h0M248.9 79.7h0M262.6 83.0h0M269.5 69.6h0M273.6 67.5h0M255.0 72.3h0M265.5 70.0h0M273.7 61.8h0M256.6 60.5h0M274.2 69.2h0M250.5 76.0h0M253.5 66.8h0M276.6 73.1h0M273.9 65.9h0M264.9 81.5h0M260.1 61.5h0M259.0 72.6h0M260.8 74.9h0M257.7 76.7h0M249.7 75.9h0M278.9 67.4h0M258.3 82.2h0M267.0 66.0h0M260.8 65.7h0M252.7 74.6h0M243.5 73.2h0M261.9 79.1h0M270.6 78.0h0M273.2 62.4h0M258.5 64.2h0M264.6 82.7h0M252.3 77.3h0M253.6 66.9h0M270.6 65.3h0M231.0 77.1h0M243.2 74.2h0M255.6 71.8h0M269.8 60.9h0M258.1 77.6h0M266.7 71.2h0M241.8 67.0h0M254.1 59.5h0M257.3 74.4h0M263.0 59.1h0M267.3 61.3h0M266.4 82.3h0M266.1 57.3h0M255.0 64.1h0M250.3 70.2h0M241.7 75.6h0M268.6 61.1h0M274.2 78.7h0M261.8 81.7h0M261.2 76.1h0M246.6 68.7h0M235.6 71.6h0M264.6 76.4h0M269.9 76.2h0M254.1 67.1h0M262.6 62.9h0M231.6 76.6h0M263.2 80.0h0M275.1 62.6h0M266.9 74.0h0M259.4 67.2h0M265.5 59.9h0M232.1 76.2h0M245.2 71.0h0M244.4 66.1h0M274.0 65.7h0M252.9 78.8h0M254.8 57.8h0M269.4 61.1h0M239.6 77.0h0M255.5 82.6h0M270.3 79.3h0M253.4 77.2h0M251.5 77.2h0M245.4 79.7h0M273.1 62.9h0M270.7 58.8h0M264.1 72.3h0M261.3 65.0h0M267.7 63.2h0M272.8 66.3h0M261.0 79.7h0M262.0 58.4h0M253.0 71.0h0M256.6 82.9h0M255.8 80.6h0M252.6 80.5h0M274.1 73.4h0M250.8 75.7h0M251.6 63.5h0M257.7 71.6h0M257.9 59.4h0M267.1 69.7h0M244.6 72.9h0M255.4 67.6h0M254.5 58.4h0M261.9 59.6h0M266.3 68.5h0M274.3 72.7h0M232.6 77.8h0M258.0 68.4h0M260.5 83.9h0M250.8 64.4h0M261.1 58.2h0M272.1 75.6h0M255.7 62.1h0M255.5 80.8h0M265.5 77.1h0M263.3 60.1h0M266.8 71.2h0M252.3 70.1h0M259.5 84.2h0M262.8 63.9h0M274.9 65.9h0M253.6 70.1h0M240.2 74.0h0M263.8 79.7h0M236.4 73.3h0M266.4 68.3h0M258.9 58.9h0M252.9 64.6h0M269.0 66.1h0M263.1 59.5h0M273.7 62.0h0M257.9 59.8h0M263.2 77.9h0M273.0 65.5h0M242.9 71.3h0M245.4 69.2h0M268.8 63.0h0M260.2 77.7h0M268.3 78.4h0M276.4 68.4h0M256.9 60.8h0M250.7 65.5h0M250.1 79.4h0M255.3 72.0h0M234.9 75.6h0M272.4 80.2h0M267.7 77.2h0M248.0 67.6h0M270.6 71.2h0M270.3 77.2h0M265.8 67.7h0M257.2 56.8h0M271.6 81.3h0M262.1 74.4h0M238.5 76.9h0M254.5 76.5h0M264.9 71.6h0M252.3 68.0h0M264.9 82.3h0M270.9 66.7h0M263.4 75.2h0M257.3 58.1h0M253.7 73.4h0M265.9 57.8h0M254.6 63.5h0M278.2 73.8h0M249.6 76.3h0M249.5 67.1h0M234.5 76.9h0M266.2 69.7h0M263.9 67.6h0M264.7 69.3h0M239.9 78.6h0M254.2 73.3h0M264.3 58.5h0M237.8 74.0h0M260.9 76.8h0M251.0 61.3h0M247.4 78.2h0M231.0 75.4h0M254.4 64.4h0M270.7 80.2h0M259.6 83.7h0M269.5 67.2h0M269.0 67.5h0M241.9 71.7h0M241.1 78.5h0M255.9 81.6h0" stroke="#ec7450" stroke-width="1.20" stroke-linecap="round" fill="none"/>
<path d="M269.6 62.7h0M257.8 63.5h0M246.7 66.4h0M247.0 77.9h0M241.6 69.4h0M268.1 57.9h0M264.6 61.9h0M249.1 70.1h0M271.4 81.2h0M238.3 68.4h0M231.8 75.2h0M266.3 59.6h0M270.4 78.7h0M255.7 71.7h0M240.5 70.3h0M252.3 74.1h0M240.1 77.5h0M259.1 56.6h0M270.1 79.3h0M254.9 59.4h0M274.4 69.1h0M272.1 64.3h0M251.8 63.0h0M235.0 73.4h0M269.6 75.4h0M265.9 80.6h0M255.0 69.1h0M235.0 76.7h0M267.9 75.5h0M237.2 73.0h0M278.9 66.3h0M265.3 77.3h0M251.8 69.1h0M265.0 62.3h0M255.6 58.3h0M258.1 82.1h0M268.4 66.0h0M250.1 77.4h0M268.3 79.7h0M251.5 70.8h0M268.2 66.7h0M262.4 64.7h0M263.3 84.1h0M276.1 62.1h0M259.0 71.8h0M256.4 80.3h0M269.8 58.4h0M273.4 64.5h0M236.9 69.1h0M270.9 59.9h0M269.1 77.6h0M252.2 68.2h0M252.0 59.7h0M255.7 66.2h0M276.8 76.9h0M270.3 74.5h0M251.9 75.8h0M252.6 72.4h0M254.7 82.4h0M254.5 63.8h0M256.6 77.8h0M255.9 59.2h0M264.3 67.0h0M237.6 73.6h0M235.9 72.1h0M235.8 77.0h0M255.9 68.0h0M276.3 62.1h0M262.5 84.0h0M277.8 72.8h0M248.3 79.3h0M250.1 71.3h0M265.6 75.9h0M254.4 57.6h0M256.3 68.9h0M271.2 65.2h0M269.4 68.1h0M261.4 73.1h0M252.5 71.3h0M263.8 73.0h0M256.1 60.0h0M257.3 68.5h0M251.7 76.7h0M247.6 77.0h0M255.2 74.9h0M252.8 73.2h0M277.2 72.5h0M249.1 70.7h0M241.1 71.9h0M252.4 62.1h0M256.8 75.8h0M257.4 60.3h0M251.5 73.0h0M274.0 63.5h0M274.1 66.4h0M260.0 61.1h0M277.0 71.9h0M244.1 71.5h0M245.6 74.7h0M254.0 79.1h0M275.0 76.1h0M252.5 77.3h0M266.9 71.8h0M257.4 57.0h0M254.3 67.6h0M237.3 69.1h0M253.7 58.4h0M254.4 74.8h0M270.5 79.8h0M262.2 84.2h0M261.9 56.6h0M275.7 69.6h0M253.4 59.0h0M242.0 72.9h0M273.5 59.9h0M253.5 70.6h0M254.6 77.7h0M274.2 60.7h0M263.5 62.1h0M264.7 71.6h0M270.3 70.8h0M266.9 58.6h0M264.4 80.7h0M278.1 66.0h0M257.5 57.9h0M265.5 58.7h0M256.0 74.2h0M243.4 66.8h0M264.7 83.1h0M253.1 78.6h0M258.8 57.3h0M236.7 70.6h0M254.6 60.7h0M245.0 75.1h0M257.5 78.5h0M255.5 66.2h0M259.1 66.7h0M260.9 64.8h0M257.2 76.5h0M244.0 70.6h0M266.1 62.5h0M263.6 81.8h0M258.7 68.2h0M252.4 79.5h0M248.9 72.2h0M257.2 79.9h0M250.3 80.4h0M277.7 67.3h0M271.6 65.6h0M275.0 75.7h0M276.1 73.2h0M268.0 67.2h0M253.7 78.3h0M262.3 79.7h0M246.3 73.2h0M248.8 75.1h0M257.0 65.1h0M271.7 61.0h0M268.8 61.3h0M273.8 70.4h0M271.1 79.8h0M259.7 76.8h0M276.9 73.4h0M247.4 71.7h0M254.6 69.1h0M252.4 59.6h0M260.4 74.3h0M266.9 64.6h0M276.3 66.7h0M243.6 75.1h0M253.0 76.4h0M248.1 75.6h0M253.2 80.9h0M267.8 60.5h0M266.4 76.7h0M265.4 77.1h0M248.6 67.3h0M254.0 65.6h0M239.8 74.7h0M275.9 65.6h0M249.8 75.6h0M270.3 75.2h0M253.7 81.9h0M233.0 75.3h0M267.0 68.4h0M266.4 81.3h0M264.5 73.4h0M273.3 73.9h0M272.7 68.3h0M246.1 76.2h0M252.7 78.3h0M246.4 75.8h0M247.2 71.6h0M260.2 61.7h0M273.3 62.7h0M253.4 76.0h0M265.6 61.3h0M234.1 76.5h0M274.3 68.3h0M267.3 78.7h0M260.4 58.1h0M259.7 68.9h0" stroke="#ffffff" stroke-width="1.10" stroke-linecap="round" fill="none"/>
<path d="M229.8 76.4h0M231.3 75.4h0M238.1 67.2h0M239.9 67.9h0M245.6 65.6h0M246.3 63.6h0M250.2 61.7h0M253.5 57.2h0M254.0 56.9h0M255.3 57.8h0M259.2 56.5h0M265.8 57.2h0M269.2 56.8h0M271.8 58.3h0M273.0 58.3h0M273.1 59.2h0M277.8 61.7h0M279.8 69.8h0M278.5 71.4h0M276.3 78.1h0M274.5 78.1h0M273.8 80.1h0M262.6 84.3h0M261.7 84.4h0M257.5 85.0h0M255.1 83.5h0M254.3 82.0h0M250.3 81.7h0M241.1 79.0h0M237.9 78.7h0M235.2 79.4h0M234.1 80.2h0M233.3 78.8h0M233.2 78.6h0M231.6 79.9h0" stroke="#ffffff" stroke-width="1.60" stroke-linecap="round" fill="none"/>
<path d="M232.3 83.6h0M239.7 87.4h0M233.5 111.4h0M219.1 101.1h0M232.8 111.2h0M238.9 116.3h0M231.1 118.3h0M218.5 103.7h0M232.1 91.6h0M240.4 87.9h0M235.8 116.8h0M234.6 104.1h0M236.0 112.2h0M234.4 116.5h0M243.2 87.1h0M237.7 91.7h0M222.2 113.2h0M234.6 114.9h0M217.9 106.3h0M238.4 102.8h0M239.6 116.1h0M218.6 104.6h0M225.4 90.3h0M241.3 114.9h0M232.7 92.0h0M224.1 112.1h0M242.7 89.6h0M236.6 107.3h0M224.8 91.9h0M230.4 95.3h0M238.1 99.5h0M231.8 112.3h0M223.1 112.6h0M241.4 109.5h0M236.1 118.3h0M237.1 82.7h0M225.3 94.4h0M220.2 108.8h0M238.3 103.5h0M236.8 111.4h0M230.6 115.7h0M237.5 98.1h0M230.8 118.6h0M229.9 111.5h0M231.4 99.0h0M234.8 117.9h0M241.1 117.1h0M218.2 110.7h0M223.4 111.7h0M238.8 103.0h0M225.0 115.7h0M242.1 113.6h0M229.9 106.0h0M235.3 104.8h0M221.8 105.3h0M234.9 108.1h0M224.4 98.2h0M233.2 114.2h0M237.2 100.5h0M229.2 95.3h0M243.9 114.0h0M222.1 100.7h0M233.1 98.9h0M236.2 114.5h0M227.8 102.9h0M240.0 102.7h0M226.0 110.6h0M239.9 81.5h0M218.5 106.8h0M232.9 88.2h0M239.0 117.8h0M223.3 112.1h0M231.2 88.2h0M239.6 91.0h0M223.9 96.6h0M229.0 116.3h0M238.2 94.3h0M233.4 88.7h0M227.9 91.9h0M224.4 102.7h0M242.2 117.6h0M234.8 114.6h0M237.5 108.5h0M232.3 108.1h0M225.4 100.8h0M229.3 99.5h0M225.7 116.3h0M225.3 90.3h0M236.3 113.1h0M224.6 104.0h0M227.7 87.3h0M237.0 80.7h0M224.3 95.0h0M228.8 85.9h0M231.0 95.9h0M224.7 106.4h0M236.4 109.3h0M224.0 106.7h0M227.4 94.3h0M232.0 102.7h0M223.3 111.1h0M223.6 92.6h0M238.3 103.3h0M228.5 103.4h0M226.8 86.6h0M237.2 99.5h0M218.2 103.4h0M238.3 83.5h0M231.7 109.6h0M232.9 116.0h0M234.0 93.2h0M220.7 108.6h0M217.1 102.0h0M228.4 95.6h0M232.2 82.1h0M231.2 83.0h0M235.6 106.2h0M237.4 110.1h0M219.6 101.9h0M229.9 106.2h0M236.2 107.1h0M221.6 111.4h0M227.1 104.5h0M240.3 104.8h0M223.7 90.6h0M239.5 92.5h0M233.1 113.8h0M235.2 112.3h0M230.7 81.8h0M229.3 88.2h0M224.9 94.9h0M236.9 116.7h0M215.2 106.1h0M234.1 114.6h0M231.0 89.0h0M243.9 84.6h0M229.3 112.3h0M228.9 112.8h0M230.8 97.3h0M220.6 101.1h0M241.2 106.9h0M231.1 110.7h0M234.8 89.6h0M232.2 105.7h0M217.6 105.6h0M239.7 89.8h0M226.6 92.8h0M225.8 114.9h0M231.7 117.9h0M227.2 83.8h0M239.3 81.6h0M232.1 95.7h0M218.6 109.9h0M239.8 85.9h0M235.2 91.5h0M219.2 111.1h0M238.0 100.0h0M230.3 106.3h0M224.3 89.9h0M236.6 104.2h0M217.6 102.1h0M230.1 88.4h0M238.5 117.2h0M225.2 105.3h0M226.5 110.0h0M221.5 100.0h0M223.6 92.7h0M222.8 94.1h0M229.2 87.6h0M229.4 95.4h0M240.5 113.7h0M222.2 110.0h0M223.0 114.3h0M229.1 118.0h0M230.0 113.9h0M233.5 106.8h0M229.5 98.7h0M221.3 94.6h0M232.3 95.6h0M229.2 90.9h0M232.0 94.5h0M233.2 110.0h0M231.4 93.1h0M239.5 81.4h0M236.0 105.5h0M228.3 97.4h0M218.2 104.8h0M236.4 110.9h0M239.4 84.9h0M236.3 89.9h0M228.3 112.9h0M242.6 84.4h0M221.5 105.7h0M242.3 87.6h0M225.6 114.7h0M222.5 106.0h0M236.7 110.3h0M224.1 111.4h0M230.5 99.3h0M237.5 118.8h0M237.0 109.0h0M223.1 94.5h0M230.0 114.8h0M236.8 96.7h0M233.4 117.5h0M240.1 114.1h0M220.6 110.8h0M235.0 84.2h0M230.6 86.9h0M239.8 96.2h0M233.9 99.2h0M232.1 92.5h0M229.6 104.9h0M230.1 116.4h0M234.3 110.0h0M229.4 97.7h0M229.4 97.7h0M227.6 103.5h0M216.2 105.1h0M239.2 97.1h0M228.5 111.8h0M240.9 111.5h0M240.2 83.4h0M231.5 97.8h0M232.5 111.7h0M231.6 106.1h0M227.4 90.4h0M223.1 100.4h0M219.5 98.2h0M229.6 108.4h0M238.0 95.6h0M235.2 91.1h0M220.2 112.9h0M233.0 84.2h0M237.0 86.4h0M240.2 94.1h0M239.0 102.9h0M227.1 96.1h0M224.4 102.1h0M236.5 117.7h0M223.2 91.9h0M241.8 106.8h0M235.0 105.8h0M222.9 95.1h0M231.0 96.4h0M215.6 108.3h0M221.2 104.3h0M227.3 116.3h0M238.2 103.5h0M230.0 91.3h0M224.7 89.8h0M235.0 119.3h0M235.0 96.7h0M241.9 86.9h0M240.8 114.2h0M235.0 107.5h0M218.8 103.6h0M227.5 92.3h0M224.1 111.3h0M236.2 97.5h0M236.4 97.2h0M242.6 88.8h0M223.7 100.9h0M224.8 113.1h0M221.9 113.7h0M224.5 112.7h0M234.5 89.2h0M228.3 98.8h0M227.3 109.6h0M223.4 101.9h0M227.5 95.1h0M224.0 94.6h0M238.8 99.0h0M222.3 101.3h0M227.7 114.6h0M226.2 88.8h0M224.7 111.1h0M231.4 106.6h0M229.8 91.6h0M232.2 107.2h0M220.3 110.9h0M230.6 98.6h0M216.7 107.3h0M237.2 81.6h0M218.7 106.7h0M227.2 96.2h0M228.2 92.7h0M232.7 86.0h0M236.9 97.0h0M235.6 95.8h0M223.2 98.1h0M243.1 84.5h0M223.7 111.3h0M238.0 100.0h0M237.7 93.0h0M229.1 108.5h0M235.0 96.2h0M237.1 115.4h0M223.5 109.2h0M229.2 113.2h0M223.1 102.8h0M216.0 104.9h0M229.4 86.8h0M236.8 93.1h0M231.0 81.5h0M226.9 88.6h0M236.2 84.2h0M241.3 111.6h0M222.1 112.7h0M231.4 111.3h0M231.9 106.7h0M234.1 98.6h0M234.8 91.1h0M231.2 108.6h0M242.9 108.7h0M226.8 100.4h0M231.0 115.9h0M224.6 97.0h0M225.7 110.4h0M231.0 112.5h0M232.4 104.1h0M229.5 98.4h0" stroke="#ec9f78" stroke-width="1.20" stroke-linecap="round" fill="none"/>
<path d="M223.0 108.7h0M235.8 90.9h0M238.7 94.5h0M236.3 85.5h0M225.6 104.4h0M225.0 102.0h0M223.2 96.1h0M241.1 92.9h0M238.5 98.3h0M234.5 86.1h0M242.5 110.9h0M234.1 116.9h0M224.6 112.3h0M240.0 81.8h0M220.2 104.7h0M236.1 93.7h0M234.4 96.3h0M243.3 112.9h0M238.5 102.1h0M240.4 116.1h0M221.1 102.1h0M224.8 100.2h0M242.1 115.1h0M233.6 80.8h0M237.9 92.2h0M219.6 104.3h0M234.0 119.2h0M225.6 96.2h0M223.9 89.6h0M239.4 108.2h0M222.3 97.1h0M234.8 84.8h0M218.3 106.4h0M244.0 86.0h0M240.4 103.2h0M223.3 103.1h0M235.7 96.4h0M229.8 90.0h0M232.6 102.2h0M242.3 108.2h0M233.4 97.9h0M235.7 114.5h0M227.9 110.4h0M233.7 95.8h0M234.9 81.9h0M219.5 103.7h0M237.3 104.2h0M224.1 97.8h0M225.8 114.4h0M223.3 115.0h0M221.8 108.6h0M224.3 89.4h0M238.9 87.8h0M239.5 92.8h0M222.4 110.3h0M224.6 105.4h0M242.7 89.2h0M239.5 116.5h0M236.6 94.9h0M237.2 106.3h0M221.4 108.0h0M240.9 108.0h0M239.1 111.0h0M241.0 112.5h0M234.8 89.3h0M222.6 109.5h0M234.0 83.1h0M221.4 97.8h0M222.7 105.7h0M223.8 92.4h0M222.2 94.4h0M216.0 107.5h0M223.5 91.9h0M219.6 104.6h0M239.3 95.7h0M239.1 85.5h0M217.8 106.8h0M222.1 105.5h0M227.0 90.9h0M229.4 97.2h0M222.8 101.3h0M221.7 102.1h0M237.8 104.3h0M220.9 109.5h0M219.8 107.8h0M230.5 85.2h0M233.3 83.2h0M232.6 93.8h0M215.0 107.1h0M221.9 101.6h0M224.2 91.0h0M217.9 105.9h0M234.8 103.1h0M222.3 113.4h0M231.3 99.6h0M219.1 99.2h0M233.2 94.3h0M225.8 106.6h0M239.9 104.4h0M237.4 109.6h0M234.4 90.5h0M234.2 119.1h0M231.1 111.5h0M224.4 105.1h0M231.3 94.5h0M230.4 82.8h0M221.0 102.5h0M218.0 108.0h0M222.7 91.4h0M228.5 115.0h0M236.5 85.1h0M224.1 93.7h0M242.8 108.4h0M234.8 89.1h0M237.0 91.8h0M240.3 89.0h0M234.0 100.8h0M233.7 80.5h0M234.4 93.4h0M224.4 96.8h0M238.1 85.4h0M228.6 94.8h0M226.3 95.6h0M235.5 92.3h0M220.9 107.4h0M233.4 103.3h0M238.3 112.4h0M230.4 94.5h0M222.2 92.5h0M220.3 98.8h0M234.7 92.4h0M230.8 104.7h0M234.3 87.4h0M239.1 111.8h0M230.1 84.4h0M223.6 90.4h0M221.5 99.4h0M237.7 87.7h0M235.1 91.3h0M234.9 101.6h0M221.2 112.1h0M232.3 105.9h0M236.5 80.7h0M216.0 107.0h0M223.6 99.3h0M234.2 98.8h0M229.8 102.7h0M221.1 111.6h0M237.1 98.4h0M220.3 104.4h0M236.0 93.6h0M222.4 92.5h0M236.6 84.1h0M237.0 108.5h0M240.4 92.6h0M238.9 90.0h0M239.4 95.6h0M239.6 104.2h0M232.2 87.0h0M243.7 113.3h0M242.3 83.4h0M231.2 85.5h0M218.1 101.1h0M238.3 112.8h0M232.2 92.0h0M239.3 98.1h0M241.8 88.0h0M234.0 116.5h0M234.6 83.2h0M221.5 112.9h0M227.5 93.7h0M215.3 107.2h0M237.8 104.1h0M229.7 84.4h0M235.3 112.8h0M223.9 108.5h0M238.6 97.6h0" stroke="#ffffff" stroke-width="1.10" stroke-linecap="round" fill="none"/>
<path d="M222.5 92.1h0M224.0 89.8h0M223.9 88.4h0M227.5 84.0h0M228.2 82.1h0M234.9 80.7h0M236.2 80.0h0M237.1 81.0h0M237.2 81.5h0M241.7 81.5h0M242.0 83.5h0M243.5 82.9h0M244.9 84.0h0M246.0 86.6h0M240.9 94.3h0M241.2 98.0h0M239.5 99.7h0M240.8 105.6h0M240.9 108.6h0M244.9 110.0h0M243.9 116.2h0M241.9 118.8h0M241.3 117.9h0M238.3 118.7h0M237.3 119.4h0M231.8 120.2h0M230.6 117.8h0M229.6 118.0h0M227.5 117.9h0M226.2 116.7h0M223.4 114.5h0M222.7 114.8h0M221.9 115.0h0M219.9 114.1h0M220.0 111.1h0M218.2 111.7h0M218.0 110.3h0M217.3 111.2h0M216.0 110.3h0M214.4 107.8h0M214.1 106.0h0M215.5 104.7h0M216.4 102.3h0M215.7 101.9h0M217.4 101.5h0M219.0 98.3h0M219.8 96.0h0M219.8 96.7h0M221.2 94.3h0" stroke="#ffffff" stroke-width="1.60" stroke-linecap="round" fill="none"/>
<path d="M255.2 96.0h0M246.7 96.9h0M247.1 102.0h0M249.8 106.5h0M250.7 100.3h0M248.3 97.7h0M254.0 103.1h0M254.9 100.4h0M245.4 99.8h0M245.1 98.2h0M248.4 106.5h0M249.9 106.9h0M242.9 99.1h0M245.9 93.0h0M251.5 101.1h0M252.8 103.2h0M250.0 92.8h0M253.5 102.5h0M247.5 106.7h0M252.2 105.1h0M250.1 103.5h0M243.8 93.6h0M249.0 88.9h0M249.0 108.7h0M243.2 100.7h0M253.3 106.2h0M250.5 91.7h0M242.9 99.5h0M246.2 104.8h0M242.9 94.9h0M247.4 92.8h0M247.3 106.7h0M247.2 101.7h0M246.5 107.9h0M247.6 92.6h0M247.4 102.9h0M247.6 105.3h0M248.0 95.0h0M244.6 90.9h0M245.9 105.9h0M243.6 101.3h0M248.8 108.1h0M252.4 101.6h0M248.2 98.9h0M253.8 96.1h0M254.6 101.4h0M252.1 89.4h0M251.9 99.1h0M253.6 91.5h0M247.4 105.7h0M242.7 94.7h0M251.5 105.8h0M244.1 103.7h0M244.4 90.7h0M243.4 99.8h0M253.2 100.1h0M251.3 100.6h0M244.8 104.8h0M252.2 94.2h0M251.0 106.5h0M250.1 97.7h0M251.7 92.1h0M244.0 101.6h0M249.0 109.0h0M250.3 99.9h0M244.8 102.2h0M255.1 100.6h0M246.7 99.9h0M251.2 93.8h0M248.2 101.6h0M243.6 97.1h0M243.1 97.4h0M255.1 95.0h0M243.5 102.8h0M247.9 108.5h0M245.6 94.2h0M246.8 90.7h0M245.1 92.6h0M250.0 102.5h0M252.5 103.2h0M246.7 104.5h0M251.0 92.4h0M253.0 91.0h0M245.9 94.8h0M253.8 103.0h0M247.8 95.2h0M248.9 105.7h0M244.3 103.1h0M251.1 100.3h0" stroke="#a8a8a8" stroke-width="1.20" stroke-linecap="round" fill="none"/>
<path d="M253.6 92.3h0M243.9 103.2h0M249.3 99.2h0M247.8 101.1h0M250.8 96.9h0M254.4 99.7h0M246.9 90.5h0M247.6 96.7h0M254.7 100.8h0M252.0 89.7h0M249.4 102.1h0M251.9 103.2h0M252.1 101.6h0M249.8 99.8h0M245.9 90.9h0M247.3 98.2h0M251.3 91.2h0M246.2 102.5h0M244.5 96.8h0M248.1 89.7h0M254.6 95.8h0M251.9 89.7h0M247.9 99.6h0M242.9 101.9h0M244.9 99.9h0M252.0 107.6h0M251.0 96.4h0M249.2 100.2h0M252.8 96.6h0M245.0 89.9h0M253.5 104.5h0M251.2 101.3h0M248.5 92.0h0M247.9 99.5h0M248.5 90.7h0M247.0 90.8h0M245.3 94.4h0M245.0 98.2h0M253.5 103.7h0M248.3 89.2h0M245.8 100.7h0M251.9 89.8h0M242.7 98.9h0M251.0 89.7h0M247.4 99.6h0M251.8 92.0h0M250.5 91.7h0M249.7 107.7h0" stroke="#ffffff" stroke-width="1.10" stroke-linecap="round" fill="none"/>
<path d="M242.0 91.5h0M244.2 90.2h0M247.1 88.0h0M249.3 89.8h0M252.4 90.7h0M254.4 91.9h0M255.6 92.3h0M255.7 94.3h0M255.9 96.1h0M256.6 97.1h0M255.8 99.6h0M252.4 108.1h0M249.5 109.6h0M248.7 109.1h0M248.1 109.0h0M245.4 107.7h0M243.7 105.8h0M243.5 104.7h0M242.4 103.0h0M243.0 101.4h0M241.5 97.5h0M243.3 95.0h0" stroke="#ffffff" stroke-width="1.60" stroke-linecap="round" fill="none"/>
<path d="M268.0 90.9h0M279.8 82.4h0M273.8 109.1h0M257.2 91.6h0M264.8 111.7h0M260.3 105.9h0M267.8 101.4h0M271.6 105.5h0M278.3 89.0h0M271.3 111.2h0M268.0 112.6h0M280.8 93.2h0M267.6 86.7h0M267.5 103.4h0M260.7 94.6h0M258.5 107.7h0M278.4 97.4h0M279.3 88.5h0M268.8 91.6h0M269.3 85.0h0M264.8 86.0h0M259.4 110.0h0M269.8 102.3h0M266.7 93.6h0M258.4 90.5h0M284.7 81.4h0M278.4 100.8h0M265.2 100.9h0M264.0 95.1h0M255.9 102.2h0M271.8 86.1h0M278.4 107.1h0M258.5 103.5h0M275.2 95.5h0M277.3 101.2h0M272.0 89.9h0M273.8 85.6h0M263.2 87.9h0M260.1 109.7h0M261.4 110.0h0M258.5 106.6h0M261.2 104.0h0M285.5 81.4h0M278.8 93.1h0M285.3 81.4h0M263.7 112.7h0M275.1 103.3h0M262.7 90.5h0M265.3 90.8h0M263.7 91.4h0M277.2 98.0h0M277.4 86.0h0M258.0 106.3h0M272.2 94.4h0M260.8 101.9h0M272.9 110.2h0M260.3 108.3h0M281.7 87.9h0M280.4 83.2h0M256.5 100.2h0M260.1 96.5h0M284.9 87.9h0M277.2 87.0h0M274.7 103.2h0M277.7 108.2h0M282.3 80.9h0M274.3 98.8h0M278.7 102.8h0M287.2 89.4h0M274.3 93.7h0M266.5 96.6h0M268.7 109.6h0M256.5 99.8h0M262.8 101.4h0M278.5 84.1h0M269.3 95.4h0M274.2 98.1h0M280.2 91.6h0M277.0 95.1h0M263.1 104.6h0M287.2 98.2h0M264.8 104.0h0M277.4 102.9h0M285.4 82.0h0M281.8 87.0h0M256.9 105.1h0M257.9 110.6h0M268.1 89.5h0M258.6 111.3h0M285.2 91.8h0M265.5 93.6h0M260.5 107.9h0M288.5 94.6h0M266.8 104.0h0M280.5 83.7h0M267.8 105.0h0M278.8 91.0h0M267.6 111.4h0M260.9 93.6h0M267.5 95.0h0M287.0 97.2h0M270.5 102.1h0M267.1 110.7h0M279.0 98.2h0M260.1 88.9h0M284.1 95.6h0M281.2 84.6h0M287.2 94.1h0M269.5 95.4h0M277.1 101.0h0M275.6 86.0h0M279.9 106.3h0M285.1 89.2h0M287.1 95.7h0M284.4 89.4h0M271.8 94.6h0M280.6 102.9h0M273.2 94.1h0M271.5 111.5h0M271.1 99.6h0M270.0 95.4h0M272.5 85.3h0M284.0 91.2h0M275.8 104.4h0M260.1 106.2h0M282.5 94.7h0M264.4 92.7h0M262.7 102.4h0M279.7 86.7h0M259.2 87.7h0M286.4 97.7h0M282.2 83.6h0M268.7 112.2h0M257.2 96.9h0M271.9 86.0h0M263.8 93.8h0M260.0 104.1h0M279.3 89.6h0M281.5 95.4h0M266.9 104.0h0M284.8 82.0h0M281.6 93.4h0M259.4 106.5h0M281.1 102.7h0M266.0 93.3h0M274.5 108.4h0M282.5 98.7h0M259.6 108.8h0M261.7 89.0h0M268.7 91.6h0M258.3 104.2h0M282.1 94.3h0M257.5 110.0h0M272.8 98.7h0M283.4 96.5h0M268.5 98.2h0M269.5 99.7h0M262.9 89.3h0M282.3 99.0h0M283.3 84.2h0M275.6 100.3h0M267.1 112.8h0M272.9 104.6h0M279.0 90.0h0M259.5 101.3h0M275.5 99.8h0M273.2 100.8h0M269.4 92.0h0M261.0 103.0h0M259.6 94.0h0M280.1 102.4h0M273.6 104.3h0M282.5 99.6h0M278.3 83.5h0M279.0 81.6h0M267.2 99.1h0M274.5 85.1h0M284.2 97.4h0M276.5 106.9h0M281.4 96.0h0M279.7 82.3h0M281.8 89.4h0M273.1 91.2h0M270.6 107.5h0M269.1 106.0h0M271.5 97.3h0M257.7 99.3h0M263.9 89.3h0M278.3 99.5h0M286.2 99.9h0M257.2 105.1h0M264.9 101.8h0M264.4 85.7h0M283.2 85.6h0M260.0 112.9h0M260.6 98.4h0M262.4 92.2h0M270.7 104.3h0M256.7 107.2h0M277.6 90.8h0M265.2 107.6h0M269.5 89.8h0M261.4 95.5h0M270.0 111.7h0M276.2 96.2h0M265.0 86.5h0M285.6 96.3h0M283.9 102.6h0M285.0 101.7h0M283.3 83.6h0M278.2 102.7h0M261.1 107.6h0M277.4 85.7h0M277.6 82.4h0M258.8 99.5h0M269.4 107.2h0M287.3 89.8h0M275.6 90.2h0M287.1 96.8h0M286.0 92.9h0M285.3 97.0h0M260.5 109.9h0M267.2 106.8h0M281.1 90.4h0M272.4 98.2h0M258.2 104.6h0M283.3 101.5h0M265.6 111.1h0M258.8 88.6h0M261.4 92.0h0M259.4 110.9h0M284.1 84.9h0M272.9 89.6h0M276.5 88.9h0M266.3 90.2h0M277.5 103.0h0M273.9 108.2h0M271.6 94.1h0M263.7 102.2h0M268.6 111.4h0M266.3 85.1h0M272.4 107.0h0M271.7 90.2h0M268.6 102.2h0M259.3 100.1h0M266.2 104.7h0M267.2 110.4h0M281.6 92.1h0M262.9 101.0h0M260.2 94.6h0M280.5 94.2h0M268.6 96.4h0M262.7 101.1h0M274.6 83.4h0M286.2 94.8h0M265.9 97.9h0M281.1 98.5h0M261.2 90.8h0M270.8 91.2h0M285.1 89.8h0M265.6 111.3h0M267.7 99.8h0M268.7 85.7h0M279.5 81.3h0M272.6 104.1h0M278.6 91.4h0M282.9 91.0h0M270.8 106.4h0M282.3 85.3h0M260.7 111.0h0M258.5 106.0h0M286.5 85.5h0M261.8 96.2h0M270.3 88.9h0M286.0 96.8h0M283.5 91.0h0M277.9 86.0h0M272.3 108.8h0M263.6 94.2h0M281.7 93.0h0M275.4 90.5h0M263.6 113.2h0M267.3 100.7h0M266.7 109.3h0M276.7 96.2h0M264.2 111.4h0M274.4 104.5h0M273.1 105.9h0M269.8 86.0h0M280.1 106.2h0M266.5 105.7h0M268.1 108.5h0M264.4 107.2h0M274.0 93.5h0M280.4 88.2h0M271.8 86.2h0M264.0 112.4h0M260.4 93.7h0M271.6 86.9h0M259.4 94.9h0M277.9 108.3h0M262.3 96.6h0M266.8 95.0h0M265.5 98.4h0M283.7 83.3h0M259.7 88.6h0M273.9 100.5h0M260.0 99.2h0M273.2 94.6h0M269.6 84.9h0M265.6 102.7h0M270.8 100.6h0M267.9 87.8h0M270.1 88.0h0M271.7 104.8h0M278.7 107.3h0M264.3 95.6h0M268.5 111.6h0M265.8 102.1h0M283.1 81.6h0M263.5 89.6h0M258.7 104.7h0M270.6 92.2h0M278.4 103.7h0M275.1 83.7h0M281.5 98.1h0M286.6 85.7h0M274.3 100.0h0M259.2 99.6h0M264.1 92.3h0M274.6 97.2h0M269.7 106.6h0M288.9 91.1h0" stroke="#b2b2b2" stroke-width="1.20" stroke-linecap="round" fill="none"/>
<path d="M263.4 114.1h0M255.9 104.1h0M272.4 91.7h0M288.7 91.5h0M277.5 86.4h0M277.8 106.9h0M268.7 102.9h0M262.4 107.7h0M273.9 83.7h0M271.0 86.4h0M259.1 96.8h0M263.2 100.8h0M268.5 94.1h0M269.8 108.2h0M258.4 101.1h0M258.4 89.6h0M284.8 93.8h0M273.1 109.9h0M266.6 108.2h0M268.1 109.6h0M266.6 102.2h0M285.6 96.0h0M266.6 93.3h0M263.6 87.8h0M280.1 92.8h0M262.0 92.2h0M268.2 100.6h0M273.3 103.5h0M286.1 90.3h0M278.4 99.2h0M263.0 107.5h0M278.4 106.4h0M277.7 108.0h0M277.1 90.6h0M280.6 102.2h0M267.4 107.8h0M257.8 101.9h0M260.4 88.0h0M274.0 84.8h0M265.6 104.2h0M284.9 90.2h0M280.9 97.3h0M260.8 88.7h0M262.5 92.1h0M259.1 90.5h0M275.3 89.8h0M271.6 94.9h0M273.4 94.6h0M263.5 101.3h0M257.8 103.0h0M262.2 102.9h0M268.1 93.4h0M288.9 86.5h0M265.5 99.0h0M272.5 101.7h0M266.8 98.4h0M271.2 101.4h0M279.6 90.2h0M262.6 102.8h0M270.8 85.3h0M277.1 82.3h0M262.7 113.3h0M277.5 82.3h0M267.2 85.5h0M280.2 87.6h0M268.5 92.0h0M266.7 113.8h0M263.6 92.0h0M280.5 96.5h0M262.5 102.6h0M269.2 89.7h0M269.9 109.4h0M259.8 95.6h0M278.2 104.6h0M257.8 89.5h0M287.4 86.0h0M262.2 90.6h0M268.3 104.6h0M256.8 98.2h0M266.4 98.1h0M260.8 109.0h0M261.8 90.4h0M258.7 94.3h0M268.7 111.5h0M267.2 85.3h0M265.3 111.3h0M273.3 96.7h0M265.3 85.9h0M272.6 89.5h0M271.9 110.1h0M275.7 106.5h0M258.8 106.6h0M270.1 105.6h0M266.6 98.3h0M276.8 107.9h0M271.3 86.3h0M274.3 100.5h0M269.1 99.4h0M268.8 107.8h0M278.7 97.4h0M269.0 88.5h0M274.1 109.5h0M287.8 90.3h0M277.1 86.3h0M273.9 101.7h0M283.2 98.5h0M258.3 102.7h0M287.1 90.4h0M268.5 93.7h0M261.5 101.3h0M281.8 93.9h0M285.9 100.8h0M268.3 107.7h0M268.0 112.6h0M263.6 101.2h0M275.9 85.7h0M274.9 99.7h0M272.4 107.3h0M286.8 91.2h0M266.5 85.7h0M280.8 95.4h0M269.6 90.1h0M260.8 112.2h0M259.2 102.3h0M260.1 104.0h0M257.7 94.4h0M272.8 107.0h0M282.4 103.3h0M275.8 89.2h0M259.0 90.3h0M259.7 94.2h0M261.6 110.2h0M271.3 86.2h0M280.0 83.5h0M269.9 88.4h0M260.8 112.6h0M274.9 102.4h0M270.3 84.8h0M261.1 110.3h0M261.1 111.8h0M277.6 104.9h0M259.3 110.6h0M286.0 84.8h0M272.5 84.4h0M256.9 105.6h0M288.3 95.0h0M257.3 92.2h0M259.8 89.8h0M275.4 101.8h0M275.5 90.3h0M276.0 107.1h0M266.8 101.4h0M265.1 89.8h0M267.6 109.1h0M272.1 89.1h0M282.5 100.3h0M257.5 105.8h0M265.8 105.8h0M277.9 103.8h0M276.6 88.3h0M281.9 80.1h0M256.9 97.3h0M280.2 90.2h0M276.7 104.3h0M266.7 100.5h0M273.0 97.2h0M265.6 103.8h0M260.6 106.0h0M286.6 97.5h0M274.7 96.4h0M260.0 96.4h0M261.3 89.2h0M272.4 101.5h0M269.2 111.9h0M277.9 104.6h0M269.5 90.8h0M268.9 90.4h0M275.0 99.6h0M280.4 94.0h0M260.9 104.7h0M259.2 111.1h0M267.7 91.0h0M267.3 101.9h0" stroke="#ffffff" stroke-width="1.10" stroke-linecap="round" fill="none"/>
<path d="M257.3 89.7h0M257.3 89.1h0M260.3 87.0h0M260.9 86.1h0M263.0 84.0h0M267.6 85.2h0M269.3 84.5h0M270.7 84.9h0M272.2 83.2h0M274.1 83.7h0M276.8 82.6h0M277.7 82.7h0M282.5 79.9h0M285.1 80.8h0M286.1 82.4h0M287.3 83.2h0M287.7 83.4h0M288.6 86.3h0M289.4 86.8h0M288.0 96.0h0M288.0 96.9h0M288.0 99.4h0M285.8 99.8h0M283.6 103.9h0M279.7 108.5h0M277.4 109.0h0M264.4 114.4h0M263.9 113.2h0M260.0 113.0h0M260.4 112.2h0M258.8 111.2h0M257.5 109.7h0M255.9 109.7h0M255.5 105.4h0M255.9 102.4h0M256.3 102.3h0M255.3 97.4h0M256.3 96.7h0M257.1 95.1h0M258.1 94.0h0M256.7 93.7h0M256.7 91.7h0" stroke="#ffffff" stroke-width="1.60" stroke-linecap="round" fill="none"/>
<path d="M208.2 119.9h0M218.4 123.4h0M220.4 120.8h0M216.4 122.7h0M218.4 118.4h0M218.3 123.6h0M216.7 122.6h0M212.5 117.8h0M213.6 118.3h0M219.4 120.4h0M220.2 123.0h0M214.8 116.7h0M212.0 118.5h0M205.7 117.9h0M220.2 118.8h0M206.7 118.4h0M206.0 116.7h0M212.4 123.1h0M209.0 118.3h0M205.2 116.0h0M215.7 120.0h0M211.6 118.1h0M210.2 122.0h0M204.1 118.4h0M206.9 114.5h0M207.3 120.4h0M222.9 121.3h0M214.3 117.2h0M217.8 121.9h0M210.6 115.4h0M216.2 117.8h0M219.5 120.4h0M221.0 121.4h0M213.9 120.0h0M212.8 121.5h0M221.7 122.3h0M205.0 115.7h0M211.5 122.4h0M212.9 123.6h0M216.0 124.3h0M205.5 115.0h0M206.2 119.9h0M212.1 115.0h0M213.5 122.0h0M207.4 114.0h0M212.2 114.2h0M207.0 119.1h0M221.9 120.3h0M214.1 115.9h0M208.9 116.5h0M210.4 118.8h0M218.8 124.2h0M206.2 116.6h0M208.7 118.2h0M213.6 120.0h0M207.8 118.3h0" stroke="#b2b2b2" stroke-width="1.20" stroke-linecap="round" fill="none"/>
<path d="M215.2 115.7h0M222.7 122.0h0M212.2 122.1h0M210.3 121.0h0M208.8 115.8h0M220.6 123.7h0M212.0 121.0h0M219.4 121.5h0M209.4 116.7h0M206.2 115.9h0M215.7 122.0h0M217.3 119.7h0M213.6 115.7h0M211.0 119.4h0M216.6 121.0h0M211.3 115.3h0M203.2 116.2h0M207.3 118.4h0M213.1 122.4h0M206.9 117.3h0M212.9 120.0h0M209.4 118.2h0M218.0 118.8h0M205.2 115.5h0M204.6 117.9h0M208.0 118.7h0M220.4 120.9h0M204.6 118.7h0M214.8 123.8h0M221.4 122.5h0" stroke="#ffffff" stroke-width="1.10" stroke-linecap="round" fill="none"/>
<path d="M206.1 114.0h0M208.6 113.1h0M212.0 114.9h0M210.9 114.6h0M221.5 119.0h0M222.4 120.4h0M224.4 121.7h0M222.5 122.9h0M214.2 123.3h0M212.3 122.6h0M209.6 121.9h0M208.1 121.3h0M204.9 120.6h0M203.2 119.1h0M205.1 118.6h0" stroke="#ffffff" stroke-width="1.60" stroke-linecap="round" fill="none"/>
<path d="M248.1 119.1h0M251.5 120.8h0M246.4 118.6h0M254.3 121.9h0M249.1 117.9h0M254.3 119.1h0M245.5 123.0h0M247.8 122.7h0M252.0 116.5h0M252.0 122.8h0M249.0 124.9h0M245.7 125.7h0M244.2 120.2h0M240.7 125.2h0M252.6 120.3h0M246.9 123.9h0M243.6 124.6h0M244.1 123.1h0M241.1 121.5h0M243.1 122.5h0M253.0 122.9h0M254.8 117.1h0M248.6 124.2h0M241.7 122.1h0M250.1 116.8h0M253.7 124.4h0M247.0 124.6h0M257.3 120.4h0M253.4 122.5h0M241.5 123.7h0M256.1 118.9h0M253.5 115.8h0M247.5 124.7h0M254.6 116.8h0M255.3 119.0h0M251.5 115.5h0M243.1 123.6h0M240.3 122.3h0M249.1 125.4h0M251.9 115.8h0M253.5 118.7h0M251.2 118.8h0M256.5 118.5h0M255.7 119.1h0M252.3 119.2h0M246.5 122.2h0M253.9 116.9h0M246.5 118.6h0M244.9 124.7h0M252.7 119.2h0M246.2 121.8h0M241.3 121.1h0M257.6 119.0h0M252.1 122.8h0M254.6 118.5h0M246.9 118.4h0M245.6 120.9h0" stroke="#ee8a60" stroke-width="1.20" stroke-linecap="round" fill="none"/>
<path d="M247.7 125.7h0M256.3 122.4h0M242.7 125.7h0M240.1 122.6h0M253.1 124.0h0M250.3 116.0h0M246.3 123.9h0M240.7 124.2h0M245.3 125.5h0M247.1 119.7h0M247.2 124.2h0M249.0 123.1h0M241.8 122.9h0M246.6 119.7h0M251.6 124.2h0M253.2 121.5h0M256.2 116.4h0M250.5 125.2h0M253.8 122.5h0M255.5 117.0h0M243.5 126.2h0M250.3 118.5h0M246.4 123.8h0M246.7 124.3h0M249.6 122.6h0M243.3 123.7h0M240.4 124.3h0M243.8 125.7h0M240.3 124.2h0M255.8 120.6h0M243.2 121.3h0" stroke="#ffffff" stroke-width="1.10" stroke-linecap="round" fill="none"/>
<path d="M242.4 121.0h0M244.9 119.9h0M247.1 116.8h0M249.1 115.5h0M249.2 115.5h0M256.3 117.1h0M258.7 117.6h0M257.5 121.4h0M257.3 122.8h0M255.3 123.4h0M251.1 125.4h0M250.2 125.2h0M249.6 126.4h0M241.4 125.5h0M241.3 126.3h0M239.5 125.4h0M239.2 123.0h0" stroke="#ffffff" stroke-width="1.60" stroke-linecap="round" fill="none"/>
<path d="M198.6 70.1h0M204.5 74.8h0M197.7 68.7h0M207.4 84.0h0M200.9 72.0h0M201.7 72.9h0M207.3 81.6h0M209.5 83.7h0M198.7 69.8h0M205.8 78.0h0M207.4 82.3h0M204.8 77.1h0M204.6 75.2h0M202.3 73.5h0M206.8 80.0h0M199.1 70.2h0M202.2 74.3h0M199.8 72.2h0M202.7 74.5h0M199.4 72.1h0M198.5 71.3h0M208.1 84.2h0M204.4 76.4h0M200.7 72.1h0M197.3 69.7h0M203.2 75.7h0M204.8 77.8h0M208.3 83.4h0M207.2 79.8h0M206.8 80.1h0M201.1 71.5h0M204.7 76.1h0M204.8 75.2h0M197.8 70.2h0M205.1 74.5h0M208.5 84.4h0M202.5 73.6h0M208.6 83.2h0M202.3 75.4h0M208.2 84.0h0M203.5 74.2h0M199.8 71.4h0M205.3 77.1h0M200.6 72.8h0M198.3 70.1h0M203.1 74.3h0M206.4 78.9h0M208.3 83.0h0" stroke="#ffffff" stroke-width="1.90" stroke-linecap="round" fill="none" stroke-opacity="0.9"/>
<path d="M209.0 71.4h0M200.6 68.7h0M208.4 69.9h0M208.8 69.8h0M205.9 68.8h0M208.6 71.4h0M202.7 68.8h0M203.0 68.6h0M210.6 72.4h0M202.7 68.3h0M207.8 69.4h0M205.4 69.1h0M208.6 69.7h0M209.3 71.6h0M209.5 69.9h0M203.4 68.6h0M208.0 69.8h0M201.5 67.9h0M208.6 70.9h0M209.5 71.3h0M201.2 68.9h0M210.5 71.9h0M203.5 67.6h0M208.6 71.3h0M205.3 69.2h0M201.5 68.7h0M203.4 68.4h0M207.6 69.8h0M210.6 71.7h0M203.4 68.0h0M201.9 68.0h0M201.5 68.6h0M204.3 68.3h0M200.8 68.3h0M205.9 69.3h0M206.0 69.3h0" stroke="#ffffff" stroke-width="1.90" stroke-linecap="round" fill="none" stroke-opacity="0.9"/>
<path d="M188.5 87.3h0M189.3 87.1h0M189.6 87.6h0M187.5 87.8h0M190.7 89.7h0M189.5 89.6h0M188.1 87.8h0M187.6 86.6h0M190.9 90.9h0M191.9 90.7h0M191.8 90.2h0M191.1 89.9h0M188.9 88.0h0M191.9 90.6h0M187.1 87.0h0M190.3 88.3h0M190.9 91.0h0M190.9 89.1h0M188.1 86.7h0M187.9 87.8h0M189.8 87.7h0M190.1 90.6h0M190.1 91.3h0M186.0 86.7h0M189.8 88.0h0M188.8 88.4h0M190.1 91.0h0M189.7 88.3h0M188.4 87.5h0M189.5 88.3h0" stroke="#ffffff" stroke-width="1.90" stroke-linecap="round" fill="none" stroke-opacity="0.9"/>
<path d="M197.3 63.8h0M195.8 61.3h0M199.0 65.8h0M195.2 62.1h0M194.3 60.5h0M196.5 63.1h0M196.6 64.7h0M197.5 64.4h0M196.3 62.9h0M196.6 63.0h0M196.0 60.7h0M198.1 65.6h0M197.7 65.9h0M197.0 63.7h0M196.0 61.5h0M195.2 61.1h0M194.6 61.3h0M196.0 63.1h0M197.3 63.7h0M196.6 63.2h0M195.5 60.7h0M195.9 61.8h0M198.2 64.4h0M197.9 64.1h0M197.3 63.4h0M197.5 65.8h0M194.8 60.9h0M197.7 65.3h0M197.8 66.0h0M199.0 66.0h0" stroke="#ffffff" stroke-width="1.90" stroke-linecap="round" fill="none" stroke-opacity="0.9"/>
<path d="M272.4 70.7h0M261.7 59.1h0M275.7 63.6h0M259.4 61.0h0M276.3 69.9h0M274.4 65.9h0M258.9 56.7h0M274.4 64.8h0M269.8 73.1h0M271.1 64.8h0M277.5 68.2h0M270.9 71.1h0M254.9 59.5h0M264.3 62.9h0M274.7 66.6h0M272.2 67.7h0M268.9 62.9h0M269.6 62.2h0M277.2 67.4h0M274.1 79.3h0M275.1 60.7h0M266.5 67.8h0M275.7 60.9h0M268.6 74.1h0M274.7 62.3h0M264.9 65.5h0M262.7 63.4h0M261.4 58.8h0M249.7 65.7h0M266.3 66.8h0M267.1 69.3h0M265.9 68.0h0M265.7 63.0h0M260.6 71.5h0M272.5 65.2h0M277.0 69.0h0M260.0 72.4h0M274.9 70.7h0M270.3 60.3h0M272.8 71.4h0M272.7 59.2h0M254.9 62.0h0M269.1 60.3h0M278.7 68.0h0M271.6 71.1h0M274.5 61.0h0M277.2 65.4h0M254.2 60.2h0M249.6 65.4h0M243.8 78.2h0M270.7 69.5h0M255.9 57.8h0M274.2 67.8h0M264.7 58.6h0M276.6 71.3h0M269.0 66.3h0M249.5 63.2h0M267.0 67.3h0M268.5 60.9h0M255.3 62.7h0M267.6 76.8h0M276.1 66.1h0M266.6 57.7h0M276.6 67.6h0M274.2 67.2h0M264.2 59.0h0M251.8 58.9h0M252.1 58.8h0M277.3 69.1h0M258.3 67.0h0M275.4 69.3h0M262.5 67.3h0M276.9 65.1h0M276.6 68.6h0M273.1 73.9h0M265.5 64.9h0M276.4 63.9h0M255.8 67.0h0M272.2 69.1h0M276.1 61.8h0M253.5 62.8h0M269.7 71.4h0M274.2 65.5h0M271.2 69.1h0M276.5 63.7h0M268.3 73.7h0M274.6 69.4h0M278.9 66.2h0M276.5 77.4h0M277.5 75.4h0M267.2 65.6h0M279.1 71.1h0M255.4 57.9h0M271.6 68.4h0M268.5 62.2h0M263.9 56.5h0M269.2 58.8h0M269.1 77.6h0M267.0 65.6h0M276.2 67.6h0M259.4 60.2h0M271.9 62.0h0M265.0 74.4h0M272.9 65.3h0M277.6 67.1h0M272.0 73.2h0M268.8 71.2h0M259.7 61.8h0M262.0 60.0h0M258.6 56.7h0M273.5 66.7h0M264.5 63.1h0M257.4 60.0h0M258.1 57.0h0M265.4 73.7h0M261.8 68.1h0M271.1 66.0h0M276.2 76.4h0M270.1 66.7h0M269.7 57.8h0M269.4 58.9h0M267.6 60.6h0M273.3 62.0h0M277.9 64.6h0M273.2 59.6h0M271.2 67.7h0M278.2 70.1h0M278.6 70.2h0M255.9 68.4h0M258.4 68.0h0M269.3 70.1h0M276.5 72.9h0M273.5 75.8h0M267.3 61.7h0M268.1 59.8h0M264.6 58.2h0M258.7 67.8h0M273.5 72.2h0M261.3 62.1h0M253.1 60.1h0M271.3 66.1h0M271.7 60.6h0M262.6 66.5h0M259.4 62.0h0M270.2 58.0h0M265.9 59.7h0M265.1 72.0h0M264.1 57.5h0M273.1 62.5h0M275.1 70.9h0M264.4 60.3h0M252.0 59.6h0M249.9 77.8h0M274.2 75.5h0M277.9 65.4h0M277.4 69.5h0M265.8 59.0h0M271.7 62.0h0M278.0 75.4h0M261.3 58.7h0M252.9 62.7h0M275.0 68.4h0M264.4 62.4h0M268.5 60.5h0M267.5 57.3h0M278.3 69.8h0M267.9 63.9h0M277.4 67.5h0M264.6 66.8h0M266.2 66.5h0M257.2 61.4h0M265.1 59.8h0M272.3 59.1h0M251.8 79.8h0M265.0 65.0h0M271.1 58.7h0M259.1 62.9h0M263.5 69.1h0M274.5 66.6h0M251.5 60.6h0M272.3 62.3h0M278.6 67.5h0M271.1 67.4h0M261.5 57.3h0M269.8 58.5h0M261.0 63.1h0M265.2 65.6h0M274.7 70.3h0M278.3 74.3h0M279.1 69.6h0M261.2 73.7h0M273.6 61.4h0M259.3 58.4h0M265.3 72.3h0M259.7 66.4h0M263.5 65.6h0M268.2 81.0h0M260.2 65.9h0M258.8 60.7h0M260.2 58.9h0M273.5 64.2h0M268.8 60.9h0M278.4 66.2h0M276.9 76.0h0M259.1 78.3h0M272.0 59.4h0M270.4 64.9h0M272.5 65.5h0M271.7 61.4h0M278.2 68.3h0" stroke="#d8301c" stroke-width="1.24" stroke-linecap="round" fill="none"/>
<path d="M267.4 79.1h0M255.8 74.0h0M255.8 68.7h0M257.5 81.6h0M261.9 84.1h0M251.5 73.5h0M260.6 83.4h0M240.8 72.4h0M272.3 81.0h0M266.1 67.8h0M261.1 83.6h0M265.6 83.1h0M238.5 74.8h0M246.3 73.0h0M273.8 78.4h0M247.2 77.9h0M256.5 72.0h0M251.6 68.7h0M262.1 70.0h0M275.7 67.0h0M257.1 83.6h0M252.7 62.0h0M254.7 75.4h0M269.7 76.3h0M254.9 67.4h0M269.6 68.3h0M244.7 70.8h0M243.4 67.3h0M265.3 76.7h0M255.0 81.6h0M254.1 62.6h0M265.5 80.8h0M258.7 84.2h0M247.6 77.4h0M266.1 82.9h0M248.2 76.2h0M265.0 76.4h0M259.1 62.1h0M269.3 69.7h0M241.7 67.2h0M258.4 67.7h0M256.4 69.0h0M249.7 72.6h0M277.8 65.4h0M258.4 83.8h0M271.5 80.7h0M274.8 62.4h0M258.3 78.3h0M240.2 73.2h0M258.7 68.6h0M242.2 67.3h0M265.6 59.4h0M276.6 69.4h0M263.7 69.3h0M267.3 67.2h0M275.0 73.3h0M257.8 79.9h0M267.1 80.3h0M265.4 77.6h0M240.6 68.4h0M255.1 77.5h0M244.2 66.8h0M254.3 64.0h0M278.3 73.8h0M252.0 63.8h0M248.5 66.5h0M243.9 71.3h0M259.5 82.8h0M259.7 72.4h0M264.6 73.2h0M257.6 57.4h0M268.2 75.2h0M275.5 67.0h0M242.0 77.9h0M253.4 81.5h0M239.4 77.7h0M256.9 71.6h0M263.7 80.1h0M260.9 63.3h0M265.4 58.1h0M277.1 71.7h0M240.4 72.3h0M260.2 78.9h0M262.8 58.9h0M266.0 64.3h0M268.6 70.9h0M255.3 82.4h0M244.6 69.6h0M234.8 74.3h0M253.5 74.6h0M268.6 60.7h0M237.7 72.9h0M263.2 62.5h0M257.9 60.1h0M251.5 72.5h0M266.2 80.5h0M273.4 70.9h0M251.1 65.5h0M252.3 62.8h0M258.7 56.7h0M258.9 74.0h0M258.1 56.7h0M258.6 72.9h0M269.4 73.3h0M265.2 63.5h0M263.7 72.4h0M276.9 74.0h0M255.4 61.0h0M245.5 79.4h0M275.3 62.0h0M258.6 79.1h0M248.5 67.0h0M267.4 64.3h0M246.5 66.2h0M259.1 67.3h0M252.2 74.6h0M265.8 66.3h0M267.1 73.4h0M237.5 71.6h0M264.7 59.8h0M265.4 61.5h0M266.1 78.0h0M273.7 78.9h0M248.6 72.9h0M252.2 68.0h0M273.2 75.1h0M234.6 75.5h0M249.4 77.2h0M235.8 73.4h0M262.6 70.2h0M260.1 83.8h0M268.2 73.6h0M273.0 77.3h0M254.3 71.4h0M275.3 75.6h0M246.0 72.7h0M232.7 76.8h0M253.0 76.5h0M247.9 70.2h0M234.2 75.5h0M273.8 69.5h0M269.8 77.8h0M274.3 76.9h0M259.5 70.9h0M250.9 80.2h0M255.7 77.3h0M257.9 57.0h0M264.8 77.5h0M246.3 68.7h0M261.4 58.8h0M263.3 83.9h0M251.6 63.2h0M257.7 75.6h0M273.1 75.1h0M246.0 73.8h0M259.3 57.0h0M244.0 76.1h0M256.5 66.1h0M234.8 78.3h0M266.2 79.0h0M238.6 68.3h0M261.4 67.7h0M262.9 83.0h0M256.8 61.2h0M268.5 75.2h0M279.2 67.5h0M257.8 57.4h0M256.7 71.6h0M251.9 73.4h0M259.5 77.5h0" stroke="#fbe3d2" stroke-width="1.20" stroke-linecap="round" fill="none"/>
<path d="M227.9 101.5h0M227.3 104.9h0M240.7 116.7h0M229.3 113.1h0M227.9 92.7h0M239.8 113.0h0M227.6 111.1h0M222.4 103.5h0M230.6 110.4h0M239.5 118.6h0M230.4 106.3h0M232.6 97.2h0M216.4 106.0h0M231.6 103.1h0M231.0 111.6h0M236.9 105.2h0M238.7 99.6h0M215.6 107.2h0M228.8 109.9h0M236.1 107.2h0M218.7 108.4h0M236.2 112.8h0M229.3 116.7h0M226.2 88.4h0M224.6 104.7h0M232.9 84.9h0M223.7 102.8h0M235.0 111.3h0M234.8 115.9h0M235.4 102.5h0M234.4 118.5h0M229.9 110.0h0M237.9 100.4h0M234.3 119.2h0M230.4 107.9h0M228.5 111.1h0M217.9 101.4h0M223.7 106.9h0M239.5 103.8h0M241.0 110.5h0M234.9 95.2h0M216.4 103.7h0M226.8 100.4h0M222.5 95.5h0M240.6 113.5h0M238.8 94.3h0M237.6 119.0h0M230.3 89.7h0M229.4 105.0h0M234.2 107.1h0M229.1 113.6h0M239.8 116.4h0M238.6 117.9h0M232.4 115.5h0M215.9 106.9h0M233.2 118.9h0M244.1 87.6h0M235.8 97.1h0M217.4 105.7h0M222.3 99.9h0M222.5 104.3h0M228.8 100.1h0M242.1 109.0h0M227.2 97.4h0M219.5 99.2h0M217.1 101.9h0M241.4 88.6h0M221.8 94.7h0M239.7 118.4h0M228.9 114.2h0M243.9 113.4h0M232.9 81.9h0M229.2 110.9h0M218.1 108.2h0M224.8 98.0h0M236.7 113.3h0M222.8 106.4h0M236.0 113.8h0M237.2 114.7h0M217.7 104.5h0M235.5 115.5h0M238.9 118.3h0M230.4 113.7h0M230.5 97.9h0M232.0 110.1h0M224.3 110.5h0M237.8 115.9h0M228.8 110.4h0M224.6 104.1h0M221.4 107.8h0M234.3 109.0h0M223.8 92.6h0M226.2 95.9h0M224.9 93.9h0M230.9 114.1h0M216.5 105.9h0M221.4 98.3h0M227.3 102.6h0M228.5 111.4h0M237.3 119.3h0M239.3 107.2h0M227.7 94.9h0M225.2 97.1h0M223.3 99.2h0M224.1 91.9h0M239.8 108.5h0M236.3 109.5h0M235.3 110.0h0M233.2 106.7h0M218.9 104.6h0M237.9 96.8h0M236.6 112.6h0M224.8 108.9h0M231.8 104.5h0M240.8 85.8h0M220.2 108.8h0M241.3 115.3h0M220.3 101.5h0M235.4 97.7h0M241.0 116.8h0M225.6 90.0h0M230.9 114.8h0M225.6 102.9h0M233.9 104.0h0M230.7 112.6h0M241.2 109.6h0M237.3 98.2h0M226.0 116.4h0M224.0 111.6h0M236.2 97.7h0M235.1 91.4h0M222.3 95.4h0M232.9 105.7h0M229.2 87.2h0M227.0 103.8h0M226.7 108.0h0M232.1 114.4h0M239.2 116.7h0M230.2 118.1h0M228.0 95.7h0M219.2 109.0h0M230.9 101.7h0M234.6 108.0h0M231.6 95.2h0M237.8 88.5h0M232.5 107.2h0M242.1 116.9h0M234.1 105.2h0M233.4 117.7h0M238.4 107.5h0M230.4 106.9h0M231.5 118.6h0M234.3 119.0h0M225.6 93.8h0M232.2 111.3h0M220.0 104.8h0M217.4 108.2h0M238.5 95.6h0M231.3 114.8h0M236.7 117.8h0M224.5 99.7h0M217.5 109.9h0M226.2 102.7h0M225.6 116.5h0M225.8 113.8h0M227.5 98.3h0M236.2 99.7h0M219.4 107.5h0M231.5 112.0h0M229.2 114.3h0M227.5 103.3h0M225.4 106.3h0M217.3 109.9h0M242.8 108.5h0M232.6 99.6h0M226.9 112.9h0M234.5 84.3h0M216.9 105.8h0M232.3 106.3h0M238.7 113.2h0M231.2 110.6h0M219.4 107.6h0M221.0 97.8h0M221.5 110.9h0M223.5 112.8h0M234.3 92.5h0M216.5 104.0h0M229.3 111.1h0M240.9 115.0h0M219.9 111.0h0M232.3 109.9h0M218.7 111.1h0M225.1 106.0h0M230.4 101.5h0M227.0 111.0h0M239.0 97.1h0M221.1 96.4h0M236.3 86.9h0M240.2 104.0h0M224.9 108.3h0M240.1 111.9h0M234.5 97.6h0M232.3 94.1h0M232.3 106.0h0M236.3 109.6h0M228.7 109.3h0M229.6 116.6h0M235.7 111.6h0M231.4 102.7h0M225.9 105.7h0M231.4 89.6h0M235.8 104.0h0M232.5 101.3h0M225.0 88.0h0M235.4 117.8h0M219.4 107.5h0M234.9 119.2h0M233.1 92.6h0M233.4 118.4h0M232.0 116.4h0M223.5 97.5h0M233.8 112.3h0M228.5 87.7h0M229.5 96.6h0M215.5 107.5h0M219.6 111.7h0M232.5 111.6h0M220.6 110.3h0M237.4 108.7h0M233.1 109.4h0" stroke="#d2ccc8" stroke-width="1.24" stroke-linecap="round" fill="none"/>
<path d="M251.4 123.9h0M253.1 120.0h0M248.0 124.8h0M244.1 124.4h0M246.4 118.6h0M250.8 120.2h0M250.9 121.5h0M240.4 123.0h0M240.7 123.2h0M252.1 116.3h0M250.2 116.4h0M246.8 120.1h0M250.8 120.6h0M240.1 123.0h0M244.1 123.5h0M251.1 119.9h0M242.0 122.4h0M253.9 119.1h0M253.7 122.1h0M246.9 117.3h0M248.0 125.9h0M251.6 119.6h0M247.8 120.0h0M248.6 120.3h0M242.8 122.9h0M254.2 122.9h0M252.0 120.1h0M253.8 121.5h0M253.9 118.6h0M243.7 124.8h0M249.1 125.4h0M251.0 118.7h0M240.7 122.0h0M250.0 115.6h0M244.6 123.4h0" stroke="#e25a30" stroke-width="1.20" stroke-linecap="round" fill="none"/>
<path d="M248.9 119.4h0M241.3 125.2h0M246.0 119.0h0M250.3 125.0h0M241.6 123.4h0M243.8 124.3h0M240.9 124.0h0M255.7 120.7h0M251.4 123.5h0M244.8 126.1h0M241.7 125.5h0M244.0 122.9h0M250.6 125.4h0M256.5 120.4h0M256.8 117.2h0M254.1 115.3h0M244.5 121.2h0M249.2 116.0h0M239.7 122.9h0M245.7 125.5h0M245.9 125.8h0M240.1 121.8h0M257.0 121.5h0M255.8 123.2h0M256.8 118.8h0M251.6 123.4h0M244.9 119.4h0M252.5 123.4h0M252.7 122.0h0M249.2 125.4h0M245.0 123.9h0M248.8 117.8h0M257.1 119.8h0M251.4 119.7h0M253.8 123.3h0M240.4 123.7h0M251.4 115.7h0M256.8 120.0h0M247.7 116.9h0M246.5 124.0h0M245.2 119.9h0M253.8 116.2h0M256.4 119.0h0M254.1 119.0h0M245.2 119.4h0" stroke="#ffffff" stroke-width="1.40" stroke-linecap="round" fill="none"/>
</g>
<path d="M112.4 74.9L112.7 74.2L113.2 73.4L113.8 72.5L114.5 71.6L115.2 70.6L116.0 69.8L116.8 69.0L117.7 68.3L118.7 67.6L119.7 66.9L120.8 66.2L121.8 65.5L122.9 64.9L124.0 64.2L125.2 63.6L126.3 63.1L127.4 62.4L128.4 61.8L129.3 61.1L130.0 60.4L130.7 59.6L131.4 58.9L132.0 58.2L132.7 57.5L133.3 56.8L133.9 56.1L134.5 55.4L135.0 54.8L135.7 54.3L136.4 53.8L137.2 53.5L138.1 53.2L139.1 53.1L140.1 53.0L141.1 52.9L142.2 52.8L143.3 52.7L144.6 52.5L145.8 52.4L147.1 52.3L148.4 52.3L149.5 52.4L150.6 52.6L151.6 52.8L152.6 53.1L153.5 53.5L154.4 54.0L155.3 54.5L156.1 55.1L156.9 55.8L157.6 56.5L158.3 57.3L159.0 58.1L159.6 58.9L160.2 59.7L160.7 60.5L161.2 61.4L161.7 62.3L162.1 63.1L162.5 64.0L162.9 64.8L163.2 65.7L163.6 66.5L163.8 67.4L164.0 68.2L164.0 69.1L163.9 70.0L163.6 70.8L163.2 71.7L162.8 72.6L162.3 73.4L161.8 74.2L161.3 75.0L160.8 75.7L160.2 76.5L159.6 77.2L158.9 77.9L158.2 78.5L157.4 79.1L156.6 79.7L155.7 80.2L154.9 80.7L154.0 81.1L153.1 81.5L152.3 81.8L151.4 82.0L150.6 82.2L149.8 82.3L148.9 82.4L148.0 82.5L147.1 82.5L146.1 82.5L145.1 82.5L144.2 82.4L143.2 82.3L142.2 82.2L141.2 82.1L140.2 82.0L139.3 81.9L138.3 81.8L137.3 81.6L136.4 81.5L135.5 81.4L134.6 81.3L133.8 81.1L132.9 81.0L132.1 80.9L131.3 80.7L130.5 80.5L129.8 80.3L129.1 80.1L128.4 79.8L127.7 79.6L126.9 79.3L126.1 79.0L125.3 78.7L124.4 78.3L123.5 78.0L122.7 77.7L121.8 77.5L120.9 77.4L120.0 77.3L119.1 77.2L118.3 77.2L117.4 77.2L116.7 77.1L116.0 77.0L115.4 77.0L114.8 77.0L114.3 76.9L113.8 76.8L113.4 76.7L113.0 76.5L112.7 76.3L112.5 76.1L112.3 75.8L112.3 75.4Z" fill="none" stroke="#e51c24" stroke-width="1.5" stroke-linejoin="round"/>
<path d="M47.8 118 V144.3 H74" stroke="#000" stroke-width="1.5" fill="none"/>
<path d="M47.8 112.7 L43.8 119.6 L51.8 119.6 Z" fill="#000"/>
<path d="M80 144.3 L73 140.3 L73 148.3 Z" fill="#000"/>
<path d="M39.3 187.6 V489.6 H280.2" stroke="#3a3a3a" stroke-width="1" fill="none"/>
<path d="M36.6 221.9 H39.3" stroke="#3a3a3a" stroke-width="0.7"/>
<path d="M36.6 301.8 H39.3" stroke="#3a3a3a" stroke-width="0.7"/>
<path d="M36.6 381.7 H39.3" stroke="#3a3a3a" stroke-width="0.7"/>
<path d="M36.6 461.6 H39.3" stroke="#3a3a3a" stroke-width="0.7"/>
<path d="M65 489.6 V492.6" stroke="#3a3a3a" stroke-width="0.7"/>
<path d="M121.5 489.6 V492.6" stroke="#3a3a3a" stroke-width="0.7"/>
<path d="M178.5 489.6 V492.6" stroke="#3a3a3a" stroke-width="0.7"/>
<path d="M236.2 489.6 V492.6" stroke="#3a3a3a" stroke-width="0.7"/>
<g id="umap">
<path d="M84.2 241.1h0M108.8 243.3h0M95.9 253.4h0M103.8 213.4h0M110.7 221.6h0M119.7 231.1h0M86.6 245.2h0M118.0 252.4h0M99.8 227.2h0M107.5 223.2h0M112.4 233.6h0M111.7 235.0h0M108.9 219.2h0M92.2 253.6h0M101.7 220.9h0M101.0 268.2h0M93.9 218.1h0M92.2 230.8h0M72.9 254.2h0M101.3 212.3h0M87.2 248.5h0M92.5 254.8h0M90.0 207.9h0M80.7 256.7h0M113.3 216.8h0M110.0 262.7h0M94.6 218.4h0M95.5 251.4h0M99.7 246.2h0M81.1 223.5h0M113.8 222.7h0M117.4 248.4h0M105.1 258.3h0M89.9 249.2h0M82.5 229.4h0M80.7 226.8h0M113.5 262.3h0M88.5 238.9h0M115.4 240.0h0M101.5 236.0h0M97.6 212.1h0M104.9 235.4h0M117.9 263.8h0M103.4 253.7h0M101.1 266.8h0M99.1 226.8h0M99.8 219.3h0M122.7 256.4h0M110.3 243.3h0M73.5 252.7h0M117.0 227.0h0M118.0 255.5h0M108.2 264.8h0M96.7 213.2h0M113.3 242.8h0M93.1 221.9h0M93.2 239.5h0M114.6 239.2h0M83.6 261.6h0M108.8 232.0h0M97.9 264.5h0M77.3 252.1h0M90.7 231.9h0M86.2 224.3h0M103.1 225.6h0M108.7 248.0h0M83.9 257.7h0M107.4 221.0h0M95.3 243.6h0M107.5 263.8h0M109.7 251.7h0M91.5 223.8h0M100.8 225.7h0M97.5 242.7h0M95.6 230.1h0M99.3 262.2h0M99.9 232.0h0M106.1 226.1h0M109.9 259.7h0M123.4 255.1h0M107.6 231.5h0M103.5 240.8h0M110.5 232.5h0M115.0 237.8h0M92.9 248.5h0M97.0 270.4h0M113.1 266.7h0M114.8 228.7h0M102.2 250.5h0M80.3 262.9h0M110.8 258.7h0M87.3 226.6h0M112.1 237.0h0M110.9 261.1h0M92.4 208.5h0M76.3 258.2h0M73.6 262.1h0M123.2 256.9h0M88.4 206.8h0M92.6 242.3h0M95.9 245.3h0M96.6 264.9h0M87.6 229.3h0M90.6 233.5h0M86.7 251.8h0M104.7 237.1h0M120.5 240.2h0M89.6 220.1h0M84.5 270.0h0M88.4 224.7h0M119.7 220.1h0M89.7 225.2h0M77.4 240.6h0M113.8 236.4h0M116.4 261.5h0M119.6 250.2h0M109.8 242.0h0M81.4 226.8h0M90.4 210.4h0M100.7 263.1h0M86.1 273.1h0M94.4 259.8h0M113.5 216.1h0M74.7 261.4h0M107.5 261.3h0M85.7 222.4h0M88.3 260.4h0M102.9 262.4h0M111.9 217.5h0M88.5 235.3h0M103.7 224.1h0M81.1 234.5h0M79.2 263.2h0M93.2 235.9h0M98.2 244.3h0M108.4 218.8h0M82.8 257.8h0M86.1 248.2h0M108.8 263.9h0M112.1 235.0h0M97.9 241.4h0M92.4 204.4h0M96.9 224.5h0M115.5 237.1h0M116.9 236.0h0M94.2 268.2h0M77.2 249.5h0M87.2 217.6h0M111.8 254.9h0M103.2 237.2h0M107.0 257.6h0M90.0 218.9h0M92.4 231.0h0M88.9 249.5h0M89.9 216.6h0M89.9 240.0h0M72.6 258.7h0M120.7 228.2h0M110.4 246.8h0M99.8 259.0h0M107.9 246.0h0M72.8 258.4h0M113.2 235.4h0M111.6 217.6h0M111.6 263.5h0M101.1 239.6h0M88.8 220.4h0M83.0 237.0h0M113.1 258.6h0M99.9 247.3h0M88.6 221.5h0M85.7 256.7h0M102.1 256.8h0M90.0 249.7h0M94.8 271.0h0M99.7 251.5h0M108.9 256.9h0M97.6 236.7h0M100.4 230.3h0M117.6 257.4h0M77.3 249.9h0M111.8 231.3h0M110.0 261.0h0M95.3 222.0h0M75.3 260.4h0M79.3 251.4h0M109.4 229.8h0M106.7 267.3h0M110.3 233.2h0M118.7 255.7h0M100.7 215.0h0M105.7 237.1h0M95.6 251.5h0M109.1 258.5h0M111.4 243.1h0M88.8 248.2h0M87.4 219.2h0M106.3 216.7h0M114.1 265.6h0M120.4 254.0h0M79.4 245.5h0M93.5 204.4h0M103.4 262.9h0M112.0 225.4h0M100.5 266.9h0M93.4 244.5h0M89.0 230.9h0M81.8 233.8h0M121.0 259.5h0M94.0 240.4h0M87.6 215.1h0M90.5 230.3h0M82.3 249.6h0M91.0 245.8h0M99.3 250.4h0M89.3 242.2h0M120.1 227.0h0M105.7 237.1h0M119.2 217.5h0M94.0 235.6h0M116.8 221.2h0M86.9 214.4h0M78.4 257.1h0M90.0 206.4h0M120.5 220.8h0M89.5 253.9h0M91.0 236.5h0M90.8 271.6h0M99.9 222.1h0M109.8 243.9h0M76.1 256.9h0M92.0 242.1h0M80.6 251.0h0M115.1 262.3h0M78.2 256.8h0M107.0 232.0h0M109.3 218.9h0M85.3 252.6h0M95.6 211.4h0M111.5 225.7h0M99.9 212.7h0M90.4 226.9h0M82.5 252.7h0M94.6 222.3h0M79.4 239.9h0M95.8 214.9h0M83.8 218.5h0M88.3 213.0h0M120.5 236.7h0M96.0 224.6h0M76.5 245.0h0M91.0 239.6h0M98.8 243.8h0M85.9 251.5h0M119.9 220.5h0M107.2 229.2h0M94.7 243.6h0M78.2 243.1h0M91.3 223.3h0M76.9 238.3h0M91.0 235.3h0M80.3 252.2h0M122.8 243.2h0M101.9 236.1h0M93.7 247.5h0M113.8 263.2h0M78.6 264.4h0M105.8 251.2h0M80.0 224.3h0M88.0 247.7h0M81.2 255.7h0M86.0 249.4h0M98.5 247.0h0M99.9 269.8h0M113.1 241.8h0M105.2 228.3h0M108.4 229.6h0M84.3 234.5h0M104.9 248.2h0M114.3 224.3h0M120.4 242.4h0M95.0 223.1h0M93.6 218.1h0M104.2 245.8h0M88.0 236.0h0M95.7 229.1h0M83.4 231.6h0M76.5 248.2h0M90.7 252.8h0M124.1 238.8h0M121.7 228.9h0M88.0 227.3h0M75.5 259.0h0M94.1 209.0h0M102.0 255.4h0M119.8 234.2h0M89.0 209.2h0M112.4 215.1h0M105.3 246.3h0M107.9 229.1h0M111.4 236.8h0M79.4 236.5h0M113.5 237.0h0M104.4 222.5h0M106.9 251.3h0M110.5 237.7h0M76.5 235.6h0M96.7 239.0h0M107.8 251.6h0M116.5 255.6h0M116.0 235.0h0M96.1 248.7h0M119.3 242.8h0M79.0 250.3h0M89.1 207.1h0M102.7 213.7h0M116.0 265.3h0M113.7 253.6h0M94.6 219.4h0M113.2 244.1h0M91.1 210.2h0M91.0 229.2h0M99.5 218.2h0M81.6 226.7h0M105.9 217.5h0M82.6 251.6h0M122.7 238.7h0M109.1 226.5h0M105.2 217.4h0M116.7 240.1h0M100.5 266.2h0M112.7 216.3h0M102.1 254.1h0M89.5 249.1h0M78.3 261.2h0M80.3 237.1h0M120.4 237.4h0M111.7 225.8h0M90.8 267.9h0M123.8 241.5h0M88.6 256.9h0M86.4 219.8h0M120.6 224.8h0M97.3 240.3h0M120.7 253.9h0M112.4 245.3h0M94.0 220.1h0M94.8 233.0h0M108.1 222.8h0M106.5 237.4h0M106.6 259.1h0M81.0 254.7h0M73.0 254.2h0M121.3 242.5h0M81.2 225.7h0M75.3 240.5h0M101.6 249.8h0M102.1 239.2h0M99.9 229.0h0M81.4 228.3h0M104.9 249.1h0M105.2 223.1h0M113.0 218.8h0M105.7 260.6h0M79.0 238.8h0M99.2 250.5h0M107.4 257.9h0M119.9 255.7h0M99.7 233.8h0M78.7 261.0h0M76.2 246.9h0M100.8 221.9h0M87.0 219.3h0M94.3 215.8h0M114.7 251.2h0M111.5 231.4h0M93.6 238.3h0M108.3 233.5h0M112.0 254.8h0M110.2 240.9h0M93.7 267.6h0M104.0 226.9h0M94.3 237.4h0M115.5 216.7h0M97.9 271.5h0M119.4 256.9h0M101.7 246.7h0M94.6 244.5h0M99.3 220.8h0M101.7 264.5h0M109.0 235.5h0M112.2 252.3h0M112.8 215.2h0M93.0 236.4h0M81.3 231.9h0M100.7 234.6h0M116.4 224.0h0M93.6 214.8h0M109.4 242.7h0M115.4 260.0h0M92.5 216.1h0M107.6 222.2h0M93.4 218.4h0M110.4 265.5h0M118.0 253.2h0M112.1 235.2h0M74.2 244.3h0M85.2 272.1h0M74.7 259.5h0M116.7 248.2h0M98.5 210.0h0M102.8 267.4h0M114.9 235.1h0M106.3 259.4h0M112.8 267.6h0M89.4 206.6h0M118.9 237.1h0M93.7 221.0h0M100.4 269.4h0M114.5 256.9h0M119.7 258.7h0M113.2 218.8h0M81.6 228.1h0M108.7 238.4h0M102.6 239.1h0M90.8 215.2h0M85.3 259.9h0M96.1 232.7h0M84.7 230.2h0M101.3 222.8h0M89.1 223.5h0M116.0 265.6h0M101.3 231.5h0M103.9 241.6h0M123.8 249.3h0M118.1 231.0h0M99.3 245.6h0M107.7 268.3h0M96.0 240.1h0M89.3 244.9h0M105.9 232.2h0M118.1 254.6h0M88.3 234.4h0M81.8 240.9h0M90.6 226.3h0M94.7 253.5h0M87.1 233.5h0M76.3 252.0h0M116.6 265.2h0M92.6 258.3h0M89.4 213.0h0M109.9 267.3h0M123.6 252.4h0M111.7 215.0h0M82.9 225.8h0M87.7 256.4h0M101.4 239.1h0M97.2 220.6h0M77.4 233.2h0M86.5 216.0h0M90.7 209.9h0M81.4 221.4h0M98.9 211.1h0M87.5 222.8h0M113.0 255.5h0M116.8 252.4h0M118.1 240.2h0M75.0 239.9h0M81.2 258.5h0M105.6 262.6h0M106.5 221.2h0M77.5 247.5h0M123.1 256.3h0M100.4 243.2h0M101.4 229.2h0M84.5 249.4h0M97.1 251.2h0M109.6 265.5h0M95.7 260.7h0M119.9 256.0h0M102.0 240.9h0M101.5 233.2h0M75.1 240.6h0M110.8 243.9h0M84.0 224.3h0M90.5 238.6h0M95.5 225.7h0M96.1 228.1h0M97.4 244.8h0M118.5 263.4h0M109.9 245.6h0M99.4 252.9h0M75.4 267.0h0M106.3 218.9h0M98.0 215.0h0M90.0 223.4h0M107.6 268.4h0M95.2 206.2h0M94.9 218.9h0M76.0 266.1h0M77.1 250.0h0M108.0 249.3h0M106.9 239.0h0M77.8 248.6h0M86.1 228.0h0M93.8 240.5h0M91.5 251.5h0M119.0 239.8h0M86.9 239.1h0M108.7 253.9h0M116.8 263.8h0M99.2 210.4h0M109.2 234.6h0M100.4 235.2h0M115.2 266.3h0M114.6 261.5h0M76.1 258.6h0M106.5 220.8h0M88.0 257.6h0M96.6 229.3h0M122.2 239.8h0M92.7 266.2h0M98.9 263.9h0M117.2 263.4h0M86.9 247.9h0M87.4 228.5h0M98.2 258.1h0M106.5 231.2h0M83.4 252.0h0M116.8 264.6h0M115.3 241.3h0M84.9 251.1h0M84.6 217.2h0M118.7 257.9h0M88.9 228.5h0M103.2 257.1h0M116.3 229.7h0M101.5 247.9h0M79.6 267.0h0M93.2 238.0h0M92.6 250.9h0M105.0 255.6h0M115.2 231.2h0M93.3 243.0h0M99.5 247.6h0M94.6 240.0h0M83.0 231.5h0M88.5 262.6h0M83.1 217.2h0M85.3 223.8h0M89.3 207.7h0M81.5 265.5h0M106.1 256.5h0M99.3 242.8h0M84.8 253.9h0M103.3 220.5h0M100.8 266.3h0M118.6 237.0h0M87.9 231.7h0M75.3 245.6h0M104.3 227.5h0M75.3 256.0h0M95.7 245.3h0M90.7 241.4h0M96.0 266.4h0M97.0 257.5h0M118.3 253.0h0M112.4 261.0h0M117.4 242.3h0M110.8 262.1h0M100.0 260.7h0M119.9 255.7h0M92.5 225.0h0M90.5 237.2h0M108.1 252.6h0M92.5 215.5h0M78.6 229.7h0M119.3 259.4h0M106.2 215.6h0M90.5 210.7h0M89.0 268.7h0M94.3 245.9h0M82.3 252.4h0M104.2 224.3h0M94.4 239.8h0M93.5 210.5h0M87.8 224.0h0M101.7 218.3h0M111.2 250.1h0M107.1 262.3h0M74.2 263.6h0M105.2 237.7h0M77.0 239.9h0M76.8 236.3h0M91.6 208.3h0M106.8 259.2h0M118.2 223.5h0M108.1 243.4h0M97.0 215.2h0M112.6 267.0h0M114.0 251.5h0M87.0 218.9h0M102.7 234.8h0M77.1 263.4h0M90.9 260.7h0M84.9 226.7h0M110.8 262.2h0M94.6 217.1h0M101.3 265.2h0M101.1 221.8h0M105.8 239.5h0M101.2 257.2h0M95.3 227.5h0M117.1 247.9h0M118.1 225.8h0M115.1 216.7h0M79.6 255.1h0M108.6 221.1h0M113.5 224.7h0M97.1 223.3h0M117.2 227.9h0M92.0 236.7h0M119.0 253.7h0M97.9 239.5h0M82.3 238.2h0M117.0 240.2h0M114.6 248.9h0M90.4 228.9h0M74.5 248.1h0M76.8 268.9h0M124.2 251.6h0M88.8 260.2h0M87.5 236.0h0M88.7 220.0h0M116.0 225.5h0M109.3 262.2h0M102.1 244.4h0M93.9 226.3h0M92.5 214.5h0M89.9 254.0h0M105.1 225.6h0M93.6 252.5h0M92.1 269.7h0M91.6 246.0h0M114.3 237.1h0M109.4 223.0h0M108.9 238.3h0M95.5 252.6h0M100.1 246.6h0M90.6 258.7h0M121.6 248.0h0M85.5 261.4h0M111.0 234.9h0M110.7 218.9h0M100.7 268.9h0M112.8 248.1h0M92.8 243.8h0M105.6 238.8h0M76.1 251.5h0M72.1 258.3h0M91.9 250.3h0M120.8 252.3h0M74.2 242.5h0M77.6 259.6h0M108.0 228.1h0M86.5 219.8h0M112.0 242.1h0M107.1 237.8h0M112.8 215.2h0M99.0 249.7h0M113.3 220.2h0M119.9 218.5h0M96.3 240.8h0M83.0 229.2h0M107.1 254.6h0M83.1 231.4h0M93.2 247.9h0M92.3 215.6h0M92.5 238.7h0M77.2 256.2h0M110.0 248.8h0M110.3 253.4h0M107.7 262.7h0M120.8 220.0h0M117.4 217.2h0M100.6 246.3h0M98.4 238.8h0M94.6 250.8h0M82.5 244.9h0M96.6 262.8h0M95.7 217.5h0M77.2 234.1h0M86.3 220.3h0M117.5 242.1h0M80.5 239.8h0M103.1 242.4h0M87.1 241.2h0M78.7 251.0h0M96.8 235.9h0M97.0 250.6h0M89.6 236.1h0M109.4 244.2h0M89.7 222.6h0M80.1 248.8h0M90.8 238.3h0M84.0 221.0h0M81.2 234.4h0M91.5 249.0h0M104.0 242.3h0M84.2 267.2h0M102.8 232.7h0M75.4 249.0h0M101.0 211.6h0M85.3 232.8h0M112.1 249.1h0M115.2 228.3h0M101.9 263.4h0M107.4 265.9h0M84.6 220.4h0M85.5 267.0h0M107.5 230.8h0M75.0 257.7h0M112.2 264.3h0M123.4 251.8h0M97.3 231.1h0M74.2 262.1h0M120.3 244.2h0M110.3 235.6h0M92.6 232.2h0M86.6 253.3h0M85.2 221.5h0M100.2 216.3h0M89.0 270.1h0M103.0 221.0h0M81.7 226.5h0M120.7 218.9h0M102.1 213.3h0M78.7 234.0h0M99.3 245.5h0M96.2 270.9h0M91.7 255.8h0M108.2 221.6h0M102.5 250.0h0M104.5 244.1h0M99.5 246.4h0M105.3 233.2h0M78.3 251.0h0M91.1 240.0h0M91.4 272.1h0M99.6 232.2h0M79.9 255.6h0M108.6 263.3h0M106.9 248.9h0M103.7 266.5h0M122.3 222.8h0M105.9 245.6h0M104.3 235.4h0M86.3 243.6h0M124.2 243.4h0M101.9 247.6h0M91.8 240.0h0M105.9 218.6h0M122.1 240.2h0M116.7 247.6h0M79.9 231.9h0M108.3 264.7h0M104.0 269.3h0M89.4 210.6h0M95.0 242.6h0M104.6 245.1h0M96.1 243.6h0M110.1 261.9h0M123.4 245.9h0M87.4 251.3h0M108.0 231.8h0M78.7 265.8h0M90.9 243.0h0M78.8 261.1h0M82.3 222.5h0M98.5 237.7h0M75.9 259.1h0M85.5 261.0h0M87.5 221.0h0M107.6 254.2h0M118.2 242.4h0M83.2 247.2h0M93.0 242.7h0M75.2 242.7h0M94.6 271.3h0M83.5 217.1h0M99.1 210.2h0M84.9 236.5h0M75.9 248.4h0M98.5 213.0h0M90.8 243.0h0M101.1 218.0h0M85.5 256.8h0M110.3 215.2h0M84.4 214.6h0M109.4 262.0h0M105.6 215.2h0M92.4 234.3h0M79.2 229.9h0M97.0 265.4h0M77.8 266.9h0M92.4 268.9h0M111.1 238.3h0M88.1 228.0h0M109.9 262.2h0M88.5 217.5h0M79.0 269.8h0M117.3 232.0h0M120.6 240.7h0M78.3 228.7h0M111.6 222.3h0M94.6 231.0h0M78.0 244.1h0M98.5 216.7h0M107.5 217.2h0M91.1 252.7h0M92.3 252.6h0M90.3 254.7h0M90.0 224.3h0M83.9 244.9h0M78.2 244.3h0M85.1 219.1h0M96.1 238.3h0M118.7 249.7h0M122.8 256.9h0M105.1 262.9h0" stroke="#e2951a" stroke-width="1.36" stroke-linecap="round" fill="none"/>
<path d="M94.8 207.9h0M91.8 208.3h0M93.4 204.8h0M91.7 206.0h0M91.7 209.2h0M88.2 209.1h0M93.5 206.1h0M92.3 209.3h0M92.0 203.2h0M95.6 208.3h0M91.2 206.9h0M91.6 208.8h0M93.6 204.8h0M91.5 203.8h0M93.1 207.4h0M95.3 207.6h0M93.3 206.4h0M92.2 206.2h0M93.7 207.0h0M90.0 208.3h0" stroke="#d2a51c" stroke-width="1.36" stroke-linecap="round" fill="none"/>
<path d="M144.4 209.9h0M140.2 221.9h0M129.0 257.5h0M146.5 244.4h0M124.6 229.7h0M126.3 223.2h0M150.1 249.3h0M139.7 231.3h0M139.8 261.5h0M158.2 259.3h0M127.1 225.0h0M136.6 238.6h0M154.5 280.3h0M143.7 272.4h0M137.5 216.2h0M153.8 298.1h0M160.1 287.1h0M124.0 230.0h0M151.7 235.7h0M157.5 245.0h0M145.3 212.7h0M159.8 292.0h0M145.3 261.4h0M135.7 259.5h0M144.6 259.9h0M137.7 220.4h0M143.5 285.9h0M156.6 292.7h0M137.9 248.4h0M146.2 261.5h0M137.8 218.7h0M148.9 279.1h0M147.9 217.3h0M159.7 276.4h0M140.7 243.3h0M155.3 245.7h0M140.6 281.3h0M141.9 236.3h0M133.5 255.1h0M136.7 245.6h0M148.0 228.5h0M165.0 275.7h0M135.5 222.1h0M148.6 224.9h0M128.5 227.9h0M131.3 272.1h0M154.3 241.9h0M145.8 248.6h0M160.8 283.5h0M155.4 227.6h0M156.7 280.2h0M160.2 285.8h0M147.5 237.8h0M149.8 254.4h0M145.2 240.6h0M149.4 252.2h0M164.4 278.8h0M148.2 285.4h0M139.3 281.4h0M146.0 264.8h0M152.8 231.7h0M133.3 234.1h0M147.8 260.5h0M146.6 220.9h0M149.4 237.6h0M135.8 237.0h0M147.9 298.9h0M143.4 222.2h0M149.0 274.6h0M148.4 233.9h0M137.3 232.9h0M146.4 229.4h0M150.0 300.3h0M141.5 226.5h0M145.9 229.3h0M136.5 263.4h0M127.9 232.9h0M140.6 212.7h0M144.2 270.2h0M145.2 288.4h0M139.7 224.9h0M140.3 279.2h0M162.2 249.9h0M145.2 238.6h0M147.8 238.4h0M160.9 247.6h0M143.7 245.3h0M127.8 226.8h0M124.9 226.5h0M145.5 227.6h0M146.6 210.7h0M137.0 251.4h0M151.4 273.7h0M154.7 261.5h0M144.4 267.1h0M150.7 256.1h0M141.5 217.1h0M139.8 238.9h0M135.6 236.6h0M159.7 271.6h0M140.8 274.4h0M138.1 275.4h0M137.1 235.6h0M154.4 272.4h0M129.1 227.3h0M132.8 223.9h0M157.1 278.4h0M132.7 225.1h0M161.3 283.6h0M146.6 213.9h0M134.7 254.0h0M131.1 218.9h0M154.6 288.1h0M140.8 260.5h0M144.6 287.7h0M132.2 232.8h0M143.2 217.3h0M154.0 238.4h0M141.3 236.7h0M138.8 244.6h0M127.9 219.2h0M143.9 238.2h0M128.1 228.7h0M138.1 249.8h0M159.9 279.9h0M140.3 236.0h0M136.9 211.2h0M143.6 247.1h0M142.1 256.5h0M136.3 233.2h0M152.4 239.3h0M159.1 250.1h0M157.8 290.4h0M137.7 265.5h0M148.1 236.8h0M154.8 274.8h0M157.3 265.6h0M159.9 254.3h0M136.3 279.2h0M132.2 220.8h0M141.1 257.7h0M151.7 238.1h0M136.0 284.8h0M139.1 275.0h0M137.0 247.3h0M138.2 290.6h0M129.1 229.7h0M155.4 245.8h0M128.1 219.5h0M140.1 271.7h0M135.2 265.5h0M131.6 220.0h0M143.7 276.7h0M161.1 250.9h0M127.9 253.5h0M133.0 263.8h0M149.8 229.9h0M140.3 274.2h0M161.9 271.5h0M145.1 271.2h0M141.4 215.9h0M146.6 292.7h0M130.1 219.7h0M148.8 261.5h0M147.7 295.6h0M141.6 251.2h0M142.0 277.9h0M143.8 259.1h0M133.3 240.4h0M138.5 281.6h0M160.1 280.6h0M145.7 223.8h0M135.8 287.6h0M137.2 216.7h0M154.4 239.2h0M130.1 241.0h0M138.1 229.8h0M146.2 268.1h0M135.0 264.9h0M142.3 222.5h0M163.5 277.3h0M151.8 247.6h0M158.4 258.9h0M147.7 251.6h0M146.2 247.1h0M133.3 245.5h0M155.6 241.9h0M141.9 247.0h0M153.2 233.7h0M146.8 238.5h0M151.7 292.3h0M147.5 242.3h0M149.6 294.7h0M144.5 237.9h0M157.0 255.4h0M140.8 229.8h0M155.8 256.0h0M150.2 238.8h0M144.0 287.8h0M132.5 241.4h0M127.4 262.7h0M153.5 225.8h0M154.9 275.4h0M164.9 279.0h0M156.6 287.7h0M155.6 298.3h0M137.0 244.4h0M155.1 263.7h0M143.7 235.0h0M160.4 249.2h0M128.6 229.6h0M142.2 278.8h0M146.0 287.6h0M155.2 285.9h0M130.7 262.4h0M135.5 216.5h0M138.7 269.8h0M156.6 283.2h0M135.4 280.9h0M140.1 257.2h0M147.1 227.0h0M149.9 220.4h0M141.8 213.2h0M144.6 253.4h0M146.2 257.6h0M129.7 238.4h0M159.4 281.2h0M154.1 249.2h0M136.9 224.2h0M138.9 227.6h0M147.3 215.3h0M126.1 222.5h0M163.5 280.1h0M160.6 287.7h0M148.0 262.9h0M154.2 288.4h0M151.0 288.8h0M147.5 215.4h0M165.8 269.0h0M150.2 271.7h0M147.3 227.9h0M161.9 276.1h0M166.1 270.1h0M138.8 294.9h0M145.5 299.2h0M138.4 211.3h0M144.9 273.2h0M144.6 257.5h0M147.5 262.1h0M128.2 248.6h0M145.8 249.3h0M135.9 247.8h0M138.7 219.9h0M159.4 284.2h0M144.4 281.6h0M132.9 276.8h0M164.7 267.1h0M151.8 286.5h0M155.7 238.7h0M140.8 234.1h0M133.8 276.8h0M157.7 257.2h0M132.9 267.2h0M143.5 283.6h0M162.3 278.8h0M127.3 222.8h0M148.6 230.7h0M156.6 280.7h0M135.3 277.6h0M138.0 217.5h0M130.6 262.6h0M139.5 243.6h0M148.0 270.8h0M156.1 244.1h0M150.4 236.7h0M154.6 274.8h0M146.6 247.9h0M130.9 218.7h0M145.9 246.3h0M150.3 247.9h0M123.3 223.5h0M160.5 245.7h0M139.9 243.9h0M144.1 268.7h0M135.9 257.5h0M135.3 239.5h0M139.7 277.6h0M137.9 279.2h0M143.8 219.0h0M133.9 267.5h0M145.6 242.5h0M151.9 235.2h0M158.8 273.5h0M136.2 259.1h0M124.0 226.9h0M143.8 285.0h0M149.6 236.5h0M141.2 234.3h0M138.1 229.0h0M163.1 272.4h0M159.9 260.7h0M143.3 251.3h0M136.1 273.8h0M146.0 230.6h0M142.2 235.5h0M126.7 235.6h0M154.0 260.8h0M123.9 231.7h0M157.3 240.1h0M146.3 291.2h0M129.6 214.1h0M142.8 252.6h0M145.0 212.3h0M163.8 275.6h0M138.1 283.3h0M139.5 279.2h0M144.0 241.4h0M149.1 250.2h0M155.9 270.7h0M151.8 219.8h0M135.3 270.9h0M139.1 268.3h0M136.0 280.9h0M134.1 245.4h0M145.8 249.1h0M153.4 275.0h0M131.0 270.4h0M158.1 265.3h0M132.0 236.0h0M155.9 276.3h0M138.4 226.7h0M143.7 268.6h0M148.8 290.9h0M123.4 237.5h0M133.1 218.3h0M146.6 224.1h0M137.7 281.5h0M157.0 282.3h0M151.7 244.1h0M147.0 247.8h0M156.0 297.5h0M145.9 216.1h0M134.6 282.5h0M130.5 268.0h0M128.2 250.8h0M154.7 226.8h0M135.3 278.1h0M151.0 283.2h0M140.3 246.4h0M140.2 227.7h0M145.2 219.5h0M133.6 258.4h0M135.9 274.4h0M159.0 241.1h0M157.1 291.3h0M136.6 245.1h0M160.6 248.6h0M146.6 224.0h0M143.2 224.1h0M155.3 243.0h0M135.2 236.2h0M141.8 226.4h0M126.4 232.3h0M139.9 281.7h0M148.0 253.0h0M152.9 298.5h0M160.3 243.4h0M161.1 254.4h0M132.6 213.7h0M141.9 254.1h0M139.0 261.3h0M149.9 230.2h0M146.8 245.2h0M139.0 276.4h0M148.3 285.7h0M135.2 244.9h0M152.6 250.4h0M127.4 255.4h0M157.0 280.2h0M153.4 237.5h0M145.3 249.1h0M149.1 231.7h0M154.0 249.6h0M159.0 239.4h0M145.7 293.1h0M138.3 218.7h0M158.9 282.1h0M151.3 231.1h0M142.3 219.1h0M129.9 249.3h0M131.4 270.5h0M130.3 224.0h0M131.5 248.0h0M143.7 213.4h0M135.7 266.7h0M155.6 234.9h0M153.2 266.2h0M158.9 262.5h0M136.5 275.1h0M126.6 219.6h0M150.7 238.2h0M163.5 260.9h0M153.0 261.1h0M152.6 242.9h0M136.9 274.5h0M148.6 248.5h0M148.9 230.8h0M128.9 262.2h0M153.9 250.4h0M152.6 282.5h0M155.4 247.7h0M132.8 220.6h0M135.8 277.2h0M162.9 275.3h0M146.9 241.6h0M143.7 217.6h0M158.2 241.4h0M137.1 253.5h0M140.6 211.7h0M132.2 248.5h0M148.4 280.2h0M144.6 273.3h0M137.9 240.4h0M160.8 247.9h0M139.4 266.0h0M129.0 234.5h0M146.0 216.9h0M136.8 240.2h0M159.1 266.1h0M159.8 282.8h0M137.0 278.5h0M147.3 244.2h0M134.5 260.3h0M132.5 253.4h0M130.2 225.1h0M146.5 216.7h0M148.1 255.3h0M138.4 221.7h0M143.5 230.5h0M137.3 262.7h0M129.6 271.6h0M155.4 293.3h0M144.8 231.9h0M153.4 222.1h0M162.2 282.2h0M156.1 255.4h0M145.0 212.5h0M138.6 219.3h0M147.3 287.9h0M148.6 264.5h0M141.7 257.2h0M151.4 285.4h0M146.9 219.3h0M163.1 260.9h0M141.7 255.6h0M138.0 257.2h0M160.0 289.3h0M145.4 218.9h0M141.2 234.9h0M155.1 239.7h0M154.8 297.6h0M126.1 226.6h0M153.8 242.4h0M123.1 225.5h0M145.9 295.9h0M134.8 235.9h0M146.9 244.7h0M158.8 259.7h0M143.8 233.8h0M152.0 287.5h0M150.2 284.5h0M142.2 224.9h0M165.0 269.5h0M147.0 228.1h0M133.8 216.0h0M150.7 238.5h0M165.4 267.6h0M160.6 269.6h0M147.4 247.7h0M149.7 298.6h0M135.8 284.3h0M145.5 260.0h0M152.9 261.4h0M134.7 253.1h0M123.0 223.4h0M135.9 276.0h0M150.5 289.0h0M152.9 271.4h0M164.4 264.1h0M151.2 217.3h0M161.3 281.2h0M164.4 265.7h0M136.9 243.4h0M138.9 212.3h0M160.0 242.7h0M156.3 297.5h0M136.0 258.2h0M152.9 264.4h0M135.4 274.5h0M150.7 287.0h0M128.4 218.9h0M140.8 280.8h0M129.2 218.0h0M134.0 280.6h0M148.1 231.8h0M154.8 289.8h0M139.1 235.1h0M154.9 291.7h0M133.8 277.7h0M157.2 249.3h0M133.5 249.9h0M141.9 293.1h0M138.3 244.9h0M152.4 264.9h0M147.2 249.4h0M138.6 276.3h0M150.2 277.8h0M158.0 265.9h0M151.5 288.0h0M163.2 283.1h0M142.9 226.8h0M126.9 238.7h0M133.1 228.1h0M145.6 267.3h0M131.2 227.8h0M147.7 246.5h0M149.2 239.7h0M136.6 245.1h0M148.3 211.6h0M138.1 214.2h0M157.7 286.9h0M151.2 270.8h0M140.4 245.8h0M131.6 249.8h0M146.7 279.3h0M161.1 288.1h0M146.8 282.2h0M163.6 252.8h0M156.0 298.8h0M133.6 279.3h0M144.6 263.9h0M145.2 276.9h0M159.3 266.1h0M152.3 291.6h0M144.8 274.0h0M142.6 243.7h0M150.2 221.2h0M136.5 222.6h0M139.8 237.7h0M152.0 231.2h0M161.6 288.3h0M143.8 260.7h0M142.4 255.2h0M140.4 272.5h0M159.7 277.5h0M145.7 297.9h0M144.8 226.6h0M158.2 234.7h0M154.8 265.3h0M133.0 218.0h0M146.9 251.9h0M136.5 239.8h0M139.5 223.1h0M145.4 261.0h0M130.8 217.1h0M145.5 244.6h0M134.3 270.9h0M164.1 260.7h0M160.7 272.8h0M147.5 242.0h0M123.7 230.7h0M144.2 289.8h0M150.9 231.0h0M143.0 223.7h0M133.1 275.2h0M136.9 234.0h0M138.8 289.1h0M147.4 245.5h0M153.2 269.1h0M156.2 295.4h0M135.6 240.9h0M135.9 219.1h0M129.8 257.4h0M138.6 270.6h0M125.0 230.0h0M141.6 219.9h0M133.4 244.8h0M143.9 278.7h0M153.3 236.6h0M126.5 255.1h0M145.2 283.4h0M150.6 244.2h0M143.8 284.5h0M160.0 244.0h0M145.2 291.0h0M140.8 261.8h0M139.3 220.7h0M162.5 285.7h0M153.5 301.0h0M148.5 244.7h0M137.5 236.8h0M149.6 215.4h0M148.5 298.9h0M146.1 237.9h0M134.7 279.4h0M160.9 266.8h0M133.4 271.0h0M140.2 291.9h0M152.1 266.2h0M141.9 275.7h0M140.2 219.6h0M138.6 265.0h0M143.9 233.9h0M155.9 270.5h0M139.8 269.3h0M137.6 224.3h0M152.8 277.1h0M153.4 243.4h0M134.3 216.0h0M136.1 217.9h0M131.8 234.0h0M141.2 216.5h0M154.6 242.1h0M137.1 272.8h0M162.3 268.2h0M137.6 275.4h0M126.4 226.5h0M150.9 253.4h0M156.9 283.7h0M130.8 227.6h0M135.1 247.7h0M155.9 298.1h0M141.8 246.6h0M150.2 276.8h0M147.5 254.5h0M148.3 251.7h0M125.8 243.8h0M137.6 266.6h0M162.8 272.4h0M166.5 269.9h0M125.0 250.9h0M139.3 288.4h0M149.3 275.3h0M151.7 274.4h0M132.9 257.9h0M125.7 244.6h0M153.3 274.4h0M139.8 295.4h0M150.1 286.8h0M148.7 253.6h0M143.7 240.0h0M137.1 283.9h0M129.1 249.4h0M140.5 222.7h0M142.7 252.0h0M138.1 258.6h0M127.7 250.0h0M134.7 255.1h0M131.1 230.9h0M143.9 231.7h0M139.4 268.6h0M162.3 265.4h0M163.7 281.0h0M132.7 260.1h0M134.0 232.0h0M153.9 277.8h0M129.4 262.1h0M135.3 214.4h0M145.5 252.2h0M162.5 275.4h0M127.7 228.7h0M146.2 272.5h0M154.5 250.6h0M147.9 273.0h0M137.1 286.6h0M157.8 295.7h0M146.3 249.8h0M148.0 250.0h0M127.7 227.1h0M137.5 268.0h0M149.5 294.8h0M154.4 275.6h0M133.4 246.9h0M158.3 291.3h0M140.3 239.2h0M133.7 256.8h0M158.2 256.4h0M161.3 259.9h0M152.7 297.1h0M161.4 275.6h0M161.9 284.5h0M137.7 273.1h0M139.4 269.0h0M151.1 217.9h0M131.0 221.5h0M134.4 275.8h0M157.8 294.9h0M152.0 290.7h0M138.1 280.7h0M133.8 223.0h0M149.9 234.2h0M139.5 251.1h0M137.1 222.7h0M143.4 281.8h0M161.0 291.2h0M132.8 236.6h0M148.0 286.1h0M128.2 242.8h0M138.6 233.5h0M142.1 252.6h0M142.5 277.8h0M141.7 241.1h0M131.7 247.9h0M141.0 225.9h0M163.1 283.2h0M145.4 241.0h0M156.5 266.3h0M138.8 266.0h0M140.8 260.4h0M140.5 229.0h0M123.1 227.6h0M165.6 261.7h0M160.7 285.6h0M152.3 240.1h0M136.7 213.3h0M135.1 240.8h0M148.9 279.5h0M150.9 252.7h0M153.7 241.8h0M132.8 214.7h0M152.0 299.1h0M156.6 233.9h0M161.7 262.2h0M132.9 256.8h0M140.7 291.6h0M139.4 264.8h0M160.5 251.8h0M151.7 250.3h0M140.0 255.6h0M166.0 266.1h0M159.7 267.3h0M146.3 286.9h0M163.1 254.9h0M158.3 262.0h0M144.9 209.4h0M143.0 211.2h0M161.9 257.2h0M132.5 278.2h0M133.6 241.4h0M139.1 224.1h0M144.5 212.1h0M150.9 277.3h0M142.4 275.2h0M142.6 269.8h0M133.4 265.9h0M136.2 254.3h0M129.6 244.8h0M131.5 244.5h0M147.3 261.0h0M138.7 281.2h0M121.7 224.5h0M145.1 234.9h0M156.5 240.8h0M162.0 275.8h0M156.1 260.3h0M153.6 299.9h0M161.2 256.4h0M132.2 221.1h0M130.6 219.6h0M139.9 213.5h0M153.2 266.3h0M133.6 280.8h0M142.1 292.6h0M151.8 269.9h0M129.5 230.8h0M131.7 269.4h0M136.2 265.4h0M134.3 253.8h0M151.8 290.4h0M139.0 256.6h0M149.3 281.3h0M129.2 244.1h0M147.0 252.2h0M148.5 276.7h0M133.5 269.8h0M134.6 260.2h0M146.3 238.3h0M140.9 254.3h0M134.0 224.5h0M132.7 224.8h0M145.3 215.5h0M142.1 296.5h0M151.6 271.1h0M134.8 225.3h0M156.9 232.6h0M123.2 228.2h0M143.2 211.7h0M162.2 278.8h0M133.9 259.9h0M132.3 265.1h0M128.0 217.9h0M151.5 287.5h0M158.9 269.7h0M146.4 219.4h0M141.1 230.1h0M147.3 269.3h0M139.8 262.8h0M143.0 220.7h0M141.7 251.1h0M142.4 280.1h0M141.1 227.8h0M145.9 210.3h0M159.8 285.4h0M145.8 236.5h0M140.3 286.8h0M134.6 280.6h0M149.6 241.5h0M159.7 277.3h0M136.7 286.6h0M130.2 269.2h0M136.7 250.4h0M145.4 216.7h0M143.2 232.4h0M131.1 248.2h0M148.7 242.8h0M137.2 239.7h0M153.2 301.2h0M132.7 279.4h0M127.9 232.7h0M134.2 225.9h0M137.1 218.6h0M162.0 261.5h0M153.2 224.7h0M138.5 294.6h0M127.4 219.6h0M131.8 249.4h0M149.1 276.4h0M130.5 229.7h0M129.7 269.2h0M156.1 255.3h0M150.4 292.7h0M158.9 268.4h0M138.7 292.1h0M159.7 290.3h0M158.2 279.7h0M140.1 266.0h0M163.4 269.8h0M149.4 287.4h0M146.1 260.1h0M139.4 280.3h0M144.3 251.8h0M132.1 278.4h0M141.6 233.6h0M125.0 242.4h0M144.0 230.0h0M138.1 286.7h0M139.6 250.3h0M142.5 278.8h0M152.9 258.3h0M138.8 261.2h0M152.5 268.5h0M122.6 230.6h0M162.6 255.7h0M143.9 295.3h0M149.6 270.9h0M135.8 286.3h0M129.4 234.0h0M129.7 220.8h0M142.1 274.8h0M140.8 224.5h0M131.7 261.7h0M158.1 284.3h0M161.8 280.7h0M137.4 223.7h0M143.1 295.4h0M144.0 221.8h0M141.8 251.1h0M166.3 267.0h0M145.2 261.9h0M135.7 273.2h0M153.1 285.6h0M152.0 231.8h0M153.8 230.9h0M150.3 230.4h0M137.8 225.7h0M135.9 276.5h0M131.5 226.9h0M146.4 268.8h0M141.7 272.6h0M134.5 212.5h0M151.1 275.9h0M136.8 217.8h0M161.2 279.0h0M138.0 265.0h0M145.1 277.7h0M132.1 239.8h0M160.3 248.1h0M132.5 241.6h0M151.9 288.3h0M151.0 265.5h0M137.8 277.5h0M146.0 261.5h0M160.4 248.0h0M150.0 253.3h0M138.2 276.0h0M144.7 235.9h0M156.5 267.5h0M142.3 246.1h0M133.3 266.2h0M157.1 295.0h0M143.8 237.6h0M163.6 283.4h0M142.8 246.9h0M157.4 248.2h0M145.8 220.2h0M156.9 264.1h0M159.2 279.3h0M159.4 281.5h0M149.6 243.6h0M160.7 254.9h0M142.3 243.4h0M124.3 229.6h0M152.6 261.4h0M148.6 257.4h0M135.6 283.9h0M155.6 299.5h0M159.8 291.6h0M146.9 213.7h0M124.7 223.0h0M156.5 263.8h0M138.7 246.2h0M134.9 245.1h0M126.2 246.9h0M148.9 287.2h0M158.6 275.6h0M151.5 231.1h0M138.8 240.6h0M144.5 255.8h0M157.2 232.7h0M153.0 273.0h0M136.9 264.2h0M158.6 268.9h0M150.7 298.2h0M137.9 282.0h0M139.6 220.8h0M137.0 278.3h0M139.0 260.2h0M137.7 267.7h0M135.4 235.0h0M151.0 300.1h0M139.0 221.6h0M141.8 293.4h0M160.0 265.4h0M146.1 231.4h0M152.6 295.8h0M136.1 284.6h0M158.5 250.6h0M142.7 232.0h0M150.1 242.9h0M147.4 241.2h0" stroke="#f77a70" stroke-width="1.36" stroke-linecap="round" fill="none"/>
<path d="M111.2 269.6h0M108.5 296.2h0M120.6 291.3h0M132.8 302.8h0M122.7 302.8h0M112.1 301.6h0M117.6 290.2h0M111.0 289.1h0M120.0 295.5h0M102.1 291.6h0M134.7 298.9h0M113.8 304.5h0M119.9 296.7h0M114.8 281.4h0M107.8 280.3h0M126.4 271.8h0M115.5 276.2h0M113.8 273.4h0M108.4 280.5h0M103.1 293.6h0M90.1 280.0h0M107.4 294.2h0M92.0 276.5h0M115.7 287.7h0M110.2 275.1h0M132.1 286.5h0M133.4 285.9h0M113.9 291.3h0M112.9 292.7h0M127.5 308.4h0M125.5 292.2h0M111.0 280.3h0M125.9 285.6h0M97.8 274.6h0M127.6 273.0h0M114.2 283.3h0M111.1 296.2h0M112.5 284.1h0M127.7 310.8h0M132.4 298.1h0M122.9 290.7h0M111.9 272.0h0M114.5 297.9h0M92.9 276.6h0M99.0 288.2h0M109.7 290.3h0M111.2 275.2h0M121.1 292.4h0M125.5 291.2h0M104.2 273.0h0M110.1 280.2h0M121.5 295.3h0M101.4 273.1h0M129.7 293.3h0M127.0 292.8h0M115.5 296.0h0M101.6 290.6h0M104.9 294.5h0M117.7 287.1h0M125.7 300.6h0M128.2 301.8h0M125.5 299.4h0M106.7 273.5h0M114.3 274.3h0M124.5 303.2h0M118.5 273.8h0M118.8 298.9h0M117.0 288.9h0M92.1 274.9h0M133.8 304.6h0M133.4 284.5h0M124.4 287.8h0M134.8 302.9h0M123.0 276.2h0M100.5 274.2h0M128.2 304.9h0M122.1 311.9h0M116.4 299.1h0M88.6 274.9h0M120.9 273.2h0M110.6 299.4h0M103.3 272.5h0M116.8 288.5h0M130.1 299.9h0M113.5 285.2h0M99.8 283.7h0M116.1 284.7h0M131.9 295.3h0M113.4 292.4h0M113.5 280.6h0M116.4 302.8h0M135.7 302.7h0M114.8 268.4h0M126.1 301.7h0M117.6 279.3h0M118.6 294.3h0M133.8 285.0h0M115.1 278.4h0M125.5 274.2h0M114.4 279.8h0M118.5 296.1h0M121.2 308.8h0M98.8 273.5h0M127.6 296.7h0M90.4 281.9h0M117.4 290.8h0M100.5 279.9h0M113.0 283.2h0M130.0 305.9h0M111.5 273.8h0M127.5 277.7h0M118.2 293.3h0M123.0 277.1h0M118.4 271.9h0M129.5 291.5h0M117.8 309.8h0M111.5 290.2h0M114.3 274.7h0M120.4 310.3h0M120.6 268.7h0M107.4 277.1h0M116.1 272.0h0M88.3 284.9h0M138.3 297.1h0M110.4 291.9h0M108.2 271.2h0M129.8 296.1h0M127.5 273.3h0M112.5 295.1h0M120.6 276.0h0M115.3 295.0h0M121.1 284.0h0M110.4 288.6h0M113.8 284.3h0M108.5 277.5h0M90.3 276.5h0M115.5 295.4h0M107.8 294.5h0M117.8 267.7h0M106.5 283.8h0M131.4 301.3h0M113.6 282.6h0M112.6 297.8h0M119.6 290.5h0M108.7 274.1h0M92.6 286.2h0M132.8 293.4h0M125.9 303.7h0M113.9 281.4h0M128.6 303.9h0M105.5 294.5h0M131.6 294.6h0M112.8 277.6h0M108.6 288.8h0M125.1 295.9h0M132.5 294.4h0M109.0 274.4h0M123.9 296.5h0M109.3 284.6h0M92.0 278.6h0M128.2 287.7h0M116.1 280.3h0M104.5 277.1h0M112.3 276.5h0M127.5 281.2h0M127.7 286.0h0M120.2 284.7h0M112.8 296.8h0M102.5 290.6h0M89.5 285.2h0M105.1 279.2h0M109.6 299.5h0M86.3 281.1h0M125.2 268.2h0M101.9 278.4h0M120.0 288.7h0M123.9 277.3h0M112.7 277.0h0M110.6 293.7h0M92.0 284.0h0M133.3 302.9h0M112.4 270.2h0M98.2 286.1h0M106.6 271.9h0M106.8 290.1h0M119.3 280.2h0M120.7 309.1h0M119.5 269.2h0M119.6 281.3h0M107.1 296.4h0M135.2 304.0h0M123.5 279.6h0M101.7 276.2h0M101.3 281.0h0M119.7 296.4h0M120.7 306.1h0M107.9 270.3h0M95.2 277.4h0M101.7 280.0h0M126.0 307.6h0M119.0 278.8h0M117.1 303.2h0M124.7 302.2h0M137.9 296.4h0M108.8 272.8h0M127.9 291.8h0M114.6 298.1h0M132.8 301.2h0M116.5 289.3h0M114.6 269.2h0M86.9 278.0h0M129.0 305.6h0M113.2 273.6h0M127.2 270.6h0M109.0 286.0h0M127.0 301.8h0M131.9 287.5h0M122.4 290.5h0M131.2 302.2h0M91.8 274.0h0M125.8 308.2h0M115.8 277.5h0M117.5 278.8h0M102.4 278.7h0M121.6 304.8h0M104.6 273.4h0M114.7 270.9h0M112.8 296.4h0M120.7 303.3h0M110.1 280.3h0M125.8 307.6h0M116.3 269.0h0M115.2 292.1h0M96.4 274.0h0M110.6 287.0h0M124.1 310.0h0M129.2 284.8h0M113.4 280.0h0M123.7 302.7h0M120.6 310.4h0M118.8 289.6h0M114.3 275.2h0M88.5 285.7h0M134.2 299.6h0M86.3 281.3h0M123.5 306.5h0M128.5 310.3h0M138.9 299.0h0M121.9 268.9h0M110.8 290.1h0M107.5 283.2h0M100.4 279.3h0M94.8 280.0h0M123.2 309.8h0M120.0 277.9h0M94.8 284.8h0M120.6 294.8h0M93.1 276.2h0M124.9 300.2h0M116.3 272.8h0M109.8 298.1h0M123.0 304.7h0M112.5 283.6h0M85.1 281.6h0M106.7 289.9h0M94.0 278.9h0M102.7 286.8h0M120.9 296.2h0M132.4 286.8h0M122.5 271.8h0M111.1 285.1h0M95.4 274.3h0M128.1 304.8h0M117.6 285.1h0M127.9 291.9h0M115.6 269.3h0M97.4 289.8h0M126.7 276.1h0M131.3 300.4h0M95.5 288.2h0M123.5 306.1h0M115.0 295.5h0M128.2 300.2h0M120.1 308.4h0M98.1 286.2h0M124.3 278.2h0M113.8 281.6h0M137.7 298.9h0M129.1 302.6h0M95.6 276.2h0M101.3 280.7h0M125.6 311.7h0M96.0 281.4h0M101.9 283.1h0M124.5 299.3h0M107.2 285.3h0M111.9 282.2h0M112.4 283.4h0M122.5 300.3h0M129.7 287.8h0M132.8 304.9h0M119.1 298.5h0M121.6 291.4h0M131.9 286.3h0M113.7 268.3h0M124.4 287.9h0M100.8 289.4h0M92.6 276.8h0M120.6 297.6h0M126.3 299.2h0M123.0 268.3h0M125.2 270.4h0M115.6 268.6h0M107.5 273.2h0M138.6 292.9h0M94.3 283.9h0M113.8 283.3h0M116.5 289.7h0M116.4 276.8h0M124.2 271.2h0" stroke="#bda51a" stroke-width="1.36" stroke-linecap="round" fill="none"/>
<path d="M127.1 285.0h0M140.1 303.7h0M129.1 289.3h0M109.7 300.8h0M110.1 297.7h0M114.3 299.1h0M115.7 306.4h0M123.3 293.9h0M124.7 298.2h0M122.0 301.0h0M122.6 301.6h0M125.0 301.5h0M124.4 297.8h0M117.1 295.3h0M124.8 295.3h0M120.1 307.1h0M118.8 304.1h0M109.4 308.1h0M136.5 295.2h0M106.0 297.5h0M129.9 290.7h0M118.5 304.5h0M119.3 304.9h0M126.4 301.1h0M125.9 288.1h0M134.2 303.1h0M126.1 318.1h0M120.8 294.0h0M124.9 298.4h0M122.7 286.7h0M132.9 305.4h0M124.4 303.5h0M137.5 290.9h0M122.3 292.3h0M115.4 291.0h0M118.8 300.6h0M108.1 294.7h0M119.9 298.8h0M126.1 306.4h0M130.2 310.4h0M122.8 297.6h0M117.0 294.0h0M125.2 293.9h0M125.9 295.5h0M136.9 301.7h0M110.5 302.3h0M121.0 302.7h0M124.9 294.9h0M119.8 290.8h0M118.0 300.5h0M122.7 299.7h0M131.5 295.6h0M124.3 284.4h0M121.7 304.7h0M114.5 298.3h0M117.8 296.3h0M118.9 296.3h0M119.3 295.2h0M117.2 311.2h0M122.1 289.3h0M128.0 288.8h0M118.2 293.7h0M103.7 296.3h0M122.5 311.4h0M124.6 286.7h0M123.3 292.9h0M131.6 305.1h0M124.2 302.5h0M116.0 302.9h0M123.2 294.0h0M129.7 297.9h0M129.4 301.0h0M129.0 296.1h0M122.8 297.4h0M127.8 293.1h0M111.5 308.7h0M116.0 286.8h0M122.3 296.2h0M126.2 287.8h0M120.7 300.0h0M125.9 290.9h0M126.9 286.7h0M144.1 298.2h0M116.8 298.8h0M127.3 300.0h0M126.3 303.3h0M120.1 289.4h0M119.7 292.0h0M126.5 296.0h0M120.2 299.8h0M137.2 294.6h0M118.9 290.4h0M122.7 314.7h0M128.6 300.3h0M128.7 283.3h0M119.2 283.2h0M123.0 297.2h0M123.5 299.4h0M124.7 297.0h0M124.8 299.6h0M127.8 289.9h0M122.6 311.0h0M119.7 291.1h0M124.5 305.3h0M113.7 293.9h0M119.5 288.2h0M126.2 309.4h0M135.1 306.2h0M109.7 296.2h0M106.7 311.7h0M125.4 291.0h0M112.5 299.6h0M115.5 288.4h0M118.8 282.9h0M119.6 294.2h0M127.7 296.4h0M117.2 299.9h0M110.2 296.8h0M127.6 305.6h0M113.1 299.3h0" stroke="#bda51a" stroke-width="1.36" stroke-linecap="round" fill="none"/>
<path d="M121.7 258.8h0M128.0 243.2h0M129.1 259.3h0M123.2 218.8h0M128.7 250.6h0M122.0 260.4h0M131.0 217.8h0M120.8 262.5h0M126.1 231.4h0M122.2 245.7h0M131.9 218.6h0M123.8 239.8h0M132.8 264.5h0M119.2 227.5h0M119.5 253.7h0M129.4 223.3h0M131.3 265.1h0M130.3 220.7h0M118.6 234.1h0M127.9 243.6h0M118.1 234.9h0M126.8 253.8h0M126.5 247.3h0M122.0 255.7h0M120.4 259.5h0M127.0 263.6h0M131.5 252.9h0M129.7 240.2h0M126.9 265.5h0M121.1 217.7h0M119.8 234.7h0M130.8 253.5h0M125.7 241.0h0M122.9 256.3h0M132.0 243.2h0M123.9 218.0h0M120.9 257.2h0M127.3 266.3h0M130.9 238.7h0M125.0 225.6h0M120.6 252.5h0M125.9 228.9h0M129.7 267.6h0M132.2 235.4h0M127.8 231.3h0M132.1 229.1h0M124.9 239.1h0M118.4 222.0h0M126.6 245.6h0M131.9 257.2h0M124.0 243.9h0M125.1 222.9h0M130.2 258.8h0M130.9 258.3h0M128.6 261.9h0M130.1 239.4h0M128.0 251.7h0M118.1 239.1h0M131.7 240.2h0M127.9 259.8h0M119.1 219.9h0M118.1 228.8h0M130.9 261.2h0M125.0 231.2h0M125.0 262.4h0M126.6 261.5h0M130.5 266.8h0M118.8 240.7h0M118.0 218.9h0M120.4 240.1h0M129.8 220.5h0M122.2 218.8h0M121.7 232.4h0M126.4 216.8h0M117.8 227.8h0M131.3 229.0h0M130.4 262.7h0M124.7 243.4h0M124.0 259.9h0M122.0 261.1h0M131.3 212.3h0M128.6 244.2h0M126.4 252.0h0M126.0 224.7h0M122.7 219.4h0M126.7 225.4h0M118.8 246.1h0M126.5 225.2h0M121.2 259.8h0M124.1 251.0h0M127.5 212.9h0M129.8 266.1h0M124.3 243.5h0M122.3 252.3h0M130.6 220.7h0M126.3 247.6h0M121.3 266.0h0M126.1 218.0h0M121.6 249.5h0M124.7 264.5h0M131.5 231.4h0M131.2 238.6h0M128.8 237.5h0M131.5 260.7h0M123.2 258.2h0" stroke="#f77a70" stroke-width="1.36" stroke-linecap="round" fill="none"/>
<path d="M128.7 233.0h0M124.5 246.1h0M127.3 213.9h0M122.8 235.4h0M130.0 258.1h0M131.5 214.3h0M119.2 214.8h0M119.9 218.2h0M123.8 255.4h0M120.5 225.1h0M125.2 226.7h0M126.7 219.5h0M128.7 241.5h0M120.9 222.7h0M119.6 253.1h0M129.2 261.1h0M131.4 246.3h0M129.7 218.5h0M128.3 217.1h0M126.1 253.5h0M120.1 260.0h0M119.1 214.8h0M117.5 223.3h0M124.3 219.1h0M124.1 234.2h0M130.7 220.6h0M122.3 216.3h0M123.1 236.6h0M131.6 213.5h0M129.8 220.1h0M125.9 260.9h0M126.0 242.2h0M128.3 245.3h0M119.7 265.4h0M119.0 215.0h0M131.1 244.7h0M121.6 250.9h0M122.6 216.7h0M132.5 258.9h0M127.7 241.0h0M121.0 256.6h0M131.6 266.4h0M125.3 266.3h0M126.3 215.9h0M131.2 226.1h0M122.2 244.2h0M123.0 256.1h0M118.1 221.0h0M129.0 250.0h0M129.7 241.8h0M131.4 214.7h0M127.5 217.5h0M130.6 224.1h0M125.6 218.6h0M132.1 240.7h0" stroke="#e2951a" stroke-width="1.36" stroke-linecap="round" fill="none"/>
<path d="M112.8 274.3h0M117.4 275.2h0M113.3 269.3h0M127.9 262.8h0M120.3 265.1h0M101.2 269.8h0M118.1 270.2h0M108.2 262.6h0M122.4 270.2h0M104.7 268.9h0M125.8 263.5h0M100.2 276.7h0M112.2 264.0h0M124.7 260.5h0M109.1 267.8h0M127.0 264.5h0M124.9 269.4h0M119.2 261.6h0M103.5 265.5h0M121.4 272.0h0M128.1 259.2h0M108.0 271.2h0M115.2 267.8h0M104.0 275.9h0M102.6 266.5h0M102.7 271.0h0M118.7 274.7h0M114.4 271.4h0M100.1 275.0h0M106.4 274.8h0M127.2 269.8h0M111.1 270.1h0M123.9 262.0h0M112.8 270.7h0M111.2 275.6h0M118.6 262.4h0M106.3 266.2h0M128.1 269.0h0M107.2 261.8h0M102.1 269.8h0M118.7 265.6h0M115.4 267.7h0M120.5 262.9h0M120.1 263.5h0M121.8 274.9h0M110.5 276.1h0M118.5 274.1h0M101.7 262.1h0M110.5 267.0h0M102.5 270.2h0" stroke="#e2951a" stroke-width="1.36" stroke-linecap="round" fill="none"/>
<path d="M119.0 264.4h0M113.4 274.3h0M104.5 267.7h0M104.4 266.8h0M105.0 275.8h0M114.1 270.9h0M117.3 265.0h0M108.3 274.8h0M103.2 264.4h0M110.2 274.0h0M117.3 264.2h0M126.5 261.5h0M107.0 262.9h0M125.1 264.6h0M100.1 276.0h0M120.7 266.0h0M117.7 261.6h0M111.7 266.0h0M100.4 262.4h0M106.2 277.2h0M112.2 263.3h0M129.4 269.4h0M110.7 276.8h0M122.2 271.1h0M112.9 268.6h0M113.6 264.4h0M101.5 266.9h0M113.0 275.7h0M114.0 263.7h0M113.8 276.6h0M115.0 262.0h0M110.5 274.6h0M117.9 267.4h0M126.0 268.7h0M107.1 269.7h0M104.5 275.5h0M113.8 261.0h0M106.5 270.1h0M124.3 266.2h0M104.2 264.8h0M120.6 268.9h0M123.3 259.4h0M111.0 265.9h0M128.1 260.6h0M125.7 271.2h0M127.9 264.1h0M114.8 273.8h0M113.9 276.1h0M114.3 275.0h0M100.5 276.8h0" stroke="#bda51a" stroke-width="1.36" stroke-linecap="round" fill="none"/>
<path d="M105.3 348.3h0M110.8 347.1h0M107.9 305.0h0M102.3 355.0h0M103.6 354.1h0M116.4 349.2h0M100.9 300.0h0M108.1 345.1h0M107.2 351.2h0M113.8 346.2h0M99.9 325.6h0M113.3 349.5h0M94.1 348.6h0M102.3 340.6h0M111.7 334.3h0M116.8 343.8h0M108.5 355.5h0M118.2 354.2h0M105.3 340.1h0M101.8 350.2h0M100.4 354.7h0M104.2 356.7h0M99.3 352.3h0M111.6 335.7h0M107.6 334.8h0M101.6 336.1h0M91.1 313.5h0M103.5 323.8h0M98.9 306.8h0M103.5 313.6h0M105.0 295.4h0M102.2 330.1h0M101.9 334.5h0M95.7 307.8h0M105.9 348.9h0M112.1 344.6h0M107.2 317.1h0M104.8 335.0h0M106.2 333.6h0M104.8 318.8h0M91.1 323.0h0M99.6 332.0h0M115.6 353.6h0M115.5 354.2h0M105.2 340.2h0M93.7 340.6h0M115.9 352.7h0M87.1 296.8h0M100.8 340.6h0M88.6 317.2h0M100.8 358.9h0M111.9 336.6h0M105.4 335.0h0M86.1 300.8h0M101.5 359.5h0M94.8 338.6h0M97.0 314.2h0M92.7 326.6h0M112.2 334.6h0M112.9 351.9h0M96.3 292.3h0M116.0 326.8h0M116.2 347.0h0M102.0 357.8h0M113.1 356.5h0M96.1 322.3h0M101.0 301.1h0M104.9 352.4h0M87.8 317.8h0M92.6 324.0h0M91.1 328.7h0M111.6 346.2h0M97.9 329.1h0M85.3 321.1h0M114.9 337.7h0M108.1 332.4h0M105.7 357.8h0M91.2 332.0h0M92.6 331.0h0M114.0 338.8h0M92.5 328.2h0M112.1 325.9h0M104.2 341.6h0M94.7 337.7h0M111.9 337.2h0M98.0 337.8h0M114.2 346.4h0M102.9 320.5h0M101.9 295.4h0M86.6 321.0h0M110.0 312.7h0M114.2 316.0h0M97.2 323.9h0M89.5 322.6h0M109.8 342.4h0M96.6 296.9h0M105.6 346.1h0M98.8 326.1h0M98.0 341.6h0M92.6 309.2h0M111.5 344.4h0M96.9 350.3h0M98.9 355.9h0M116.2 328.7h0M96.8 332.5h0M113.7 356.5h0M102.1 351.5h0M103.5 320.6h0M93.6 340.8h0M92.4 313.4h0M105.5 323.0h0M96.2 327.5h0M112.7 346.2h0M108.0 334.7h0M99.0 331.4h0M111.9 331.3h0M96.0 321.9h0M92.5 293.0h0M90.8 322.9h0M92.5 308.0h0M111.7 330.9h0M89.4 322.9h0M112.2 347.9h0M102.2 330.3h0M90.9 329.6h0M89.8 317.5h0M97.5 338.1h0M101.4 339.5h0M102.2 351.0h0M111.9 348.6h0M108.0 338.3h0M87.0 319.7h0M83.4 300.2h0M107.0 313.4h0M104.3 346.0h0M111.5 334.1h0M96.3 338.6h0M110.2 335.0h0M103.0 348.2h0M102.5 339.6h0M116.0 342.2h0M103.9 349.8h0M92.3 316.5h0M105.6 344.8h0M106.8 328.5h0M102.9 356.4h0M99.3 333.7h0M109.3 308.3h0M110.5 318.3h0M115.9 342.2h0M110.3 335.4h0M95.3 306.4h0M92.2 339.2h0M112.3 347.3h0M92.8 325.1h0M93.0 336.0h0M84.1 314.0h0M105.1 347.7h0M97.8 341.8h0M89.1 325.1h0M93.1 332.6h0M109.1 348.1h0M94.8 294.6h0M113.8 324.4h0M118.2 352.9h0M96.5 338.6h0M98.5 356.6h0M103.9 330.3h0M90.7 333.4h0M106.7 316.9h0M101.0 349.3h0M93.8 345.5h0M102.3 316.0h0M99.3 340.8h0M103.6 355.5h0M97.1 338.7h0M108.9 349.1h0M89.2 314.4h0M106.2 342.1h0M102.4 344.1h0M112.7 333.9h0M117.1 344.5h0M98.3 327.1h0M117.7 351.8h0M97.9 332.1h0M97.0 340.7h0M108.5 344.2h0M87.4 327.2h0M83.3 310.9h0M110.8 321.8h0M107.0 354.5h0M105.4 341.7h0M91.1 311.9h0M111.5 320.1h0M102.1 330.3h0M109.8 349.6h0M89.4 323.5h0M86.2 322.7h0M105.0 324.0h0M104.2 312.1h0M111.4 334.8h0M109.3 357.1h0M93.8 326.4h0M102.8 354.9h0M105.7 339.2h0M92.1 332.1h0M101.9 322.0h0M110.6 331.8h0M93.6 342.4h0M95.0 315.0h0M97.4 348.5h0M96.6 291.0h0M102.7 313.8h0M114.5 315.9h0M93.8 347.1h0" stroke="#86b41c" stroke-width="1.36" stroke-linecap="round" fill="none"/>
<path d="M105.7 332.9h0M109.2 306.1h0M112.0 307.0h0M90.4 296.5h0M92.2 298.7h0M87.6 311.5h0M93.5 311.3h0M106.8 329.6h0M98.0 305.3h0M91.8 305.2h0M99.9 317.2h0M90.7 319.4h0M109.4 311.8h0M109.7 325.5h0M99.8 314.4h0M93.7 309.2h0M93.7 304.3h0M101.5 324.0h0M94.4 335.6h0M88.7 298.5h0M89.1 304.2h0M114.4 330.6h0M91.2 307.2h0M99.2 318.9h0M89.6 318.7h0M100.3 291.9h0M108.9 324.0h0M86.7 294.3h0M85.6 303.3h0M87.7 302.4h0M99.3 292.4h0M96.9 296.9h0M93.0 290.0h0M105.0 295.5h0M92.9 326.7h0M95.5 294.9h0M108.6 308.4h0M95.8 291.8h0M116.3 329.0h0M88.3 301.4h0M89.3 325.7h0M111.9 326.4h0M86.5 302.8h0M99.2 353.4h0M91.0 317.5h0M95.0 324.9h0M110.9 331.0h0M99.7 317.7h0M92.9 292.7h0M89.9 294.2h0M92.1 317.4h0M106.5 310.1h0M96.4 324.4h0M93.3 314.1h0M88.9 307.3h0M107.0 313.5h0M91.1 292.5h0M93.2 291.2h0M88.2 303.0h0M108.9 322.9h0M96.6 291.2h0M89.3 325.6h0M92.4 305.2h0M97.2 314.2h0M86.3 311.0h0M97.8 301.2h0M86.2 305.1h0M86.5 303.5h0M109.7 317.4h0M105.3 304.2h0M102.0 324.3h0M94.3 301.8h0M101.1 307.7h0M99.1 332.9h0M87.5 299.8h0M100.2 311.5h0M107.3 319.9h0M90.5 315.8h0M116.0 334.7h0M91.4 309.2h0M94.4 321.0h0M103.4 299.1h0M94.3 290.4h0M99.1 303.2h0M100.9 324.1h0M87.5 321.6h0M100.4 292.9h0M98.8 296.9h0M106.7 318.0h0M92.9 300.2h0M106.8 322.4h0M115.2 334.6h0M108.6 323.8h0M94.8 291.1h0M85.8 299.3h0M112.2 308.2h0M99.4 303.0h0M84.5 317.8h0M95.7 333.5h0M103.3 331.3h0M88.4 329.8h0M83.7 313.4h0M84.9 313.2h0M85.5 300.8h0M83.0 310.6h0M94.3 304.4h0M105.0 300.3h0M98.3 316.1h0M96.4 300.4h0M99.2 297.4h0M109.8 314.7h0M113.2 334.0h0M95.6 313.0h0M101.2 310.4h0M113.6 310.7h0" stroke="#b3aa1c" stroke-width="1.36" stroke-linecap="round" fill="none"/>
<path d="M103.1 368.6h0M98.0 369.4h0M101.7 379.2h0M108.5 377.7h0M107.6 371.9h0M110.1 392.8h0M96.0 378.1h0M114.5 366.3h0M98.2 365.5h0M119.9 370.8h0M104.0 359.0h0M109.4 373.2h0M106.8 374.0h0M102.9 372.5h0M111.3 368.4h0M96.1 373.6h0M120.6 361.4h0M114.1 376.7h0M122.2 362.3h0M112.9 377.2h0M118.6 376.0h0M98.2 365.3h0M99.6 372.0h0M117.5 368.6h0M107.5 357.2h0M110.3 377.3h0M118.7 374.4h0M101.7 380.0h0M119.9 372.7h0M102.2 374.3h0M112.6 367.4h0M108.9 382.5h0M120.2 360.2h0M112.2 373.1h0M115.2 376.5h0M100.6 366.1h0M104.7 367.4h0M103.5 362.8h0M104.7 374.8h0M114.5 376.5h0M118.8 365.4h0M100.4 364.9h0M106.8 367.4h0M109.2 357.5h0M104.5 375.1h0M106.2 358.2h0M113.9 376.2h0M109.2 374.5h0M129.6 369.9h0M97.5 378.4h0M101.7 367.5h0M100.8 380.8h0M128.7 360.8h0M99.8 367.7h0M104.8 357.9h0M119.0 371.7h0M128.0 376.7h0M117.8 374.6h0M120.4 378.0h0M114.1 363.5h0M122.2 359.8h0M103.0 366.9h0M103.6 357.6h0M112.5 371.7h0M104.1 380.8h0M97.1 362.9h0M126.6 368.7h0M113.6 376.8h0M116.3 376.8h0M100.3 367.6h0M98.2 366.4h0M104.4 379.5h0M104.6 379.7h0M96.8 364.0h0M109.8 366.7h0M107.6 365.1h0M108.7 362.9h0M102.6 380.4h0M117.5 366.4h0M96.0 378.6h0M113.0 375.9h0M99.0 383.5h0M108.6 359.3h0M106.2 376.7h0M126.8 368.6h0M110.8 381.7h0M113.7 369.7h0M107.7 372.1h0M117.3 379.7h0M102.1 364.1h0M104.9 366.0h0M101.3 367.3h0M117.6 358.5h0M117.4 372.3h0M99.2 365.4h0M106.1 377.4h0M113.2 353.3h0M125.2 372.9h0M115.3 370.5h0M112.2 362.8h0M105.5 372.3h0M101.6 375.5h0M104.1 369.2h0M113.7 364.6h0M100.3 383.0h0M114.4 367.4h0M115.6 366.2h0M108.6 383.0h0M106.5 376.3h0M96.9 361.8h0M100.2 373.1h0M96.9 365.9h0M105.3 366.1h0M115.6 377.6h0M114.3 369.5h0M98.7 364.6h0M96.8 373.3h0M108.6 365.2h0M98.7 367.5h0M108.9 366.8h0M102.7 369.7h0M108.3 372.0h0M123.5 361.3h0M98.8 373.6h0M105.6 368.7h0M97.2 365.5h0M106.7 368.8h0M112.0 366.8h0M92.2 373.0h0M95.1 363.6h0M102.5 361.9h0M102.8 359.7h0M99.2 373.9h0M91.7 380.8h0M103.0 382.7h0M116.8 376.4h0M112.1 363.0h0M105.9 369.8h0M102.9 358.4h0M114.5 373.0h0M110.4 362.1h0M99.5 370.2h0M103.0 367.3h0M98.0 373.9h0M110.1 377.3h0M101.8 373.9h0M107.3 356.7h0M121.7 363.8h0M106.9 368.1h0M112.2 375.7h0M91.3 373.3h0M111.0 382.1h0M98.4 366.8h0M112.9 367.3h0M111.9 365.8h0M103.6 373.7h0M109.0 380.1h0M97.6 370.8h0M120.2 359.6h0M93.1 376.0h0M99.4 372.2h0M120.4 380.4h0M102.1 360.0h0M122.6 360.4h0M110.3 362.7h0M89.9 374.9h0M101.3 364.3h0M102.3 376.6h0M110.6 372.9h0M106.0 363.5h0M113.1 378.1h0M116.7 368.0h0M109.6 368.7h0M93.5 375.1h0M122.2 357.8h0M104.9 369.6h0M101.7 367.5h0M112.6 372.1h0M114.0 372.4h0M121.6 362.5h0M97.1 381.8h0M100.5 366.5h0M107.5 373.2h0M110.1 373.3h0M117.8 371.5h0M108.7 375.2h0M124.2 384.4h0M96.4 380.0h0M100.3 378.7h0M121.5 362.3h0M120.5 376.4h0M105.4 364.1h0M103.3 366.5h0M114.1 358.2h0M107.7 371.6h0M118.8 383.4h0M107.5 374.1h0M113.0 370.3h0M109.8 362.7h0M112.9 374.3h0M115.7 365.0h0M114.3 354.8h0M112.1 369.7h0M106.1 367.4h0M105.2 370.5h0M109.4 371.1h0M119.4 367.7h0M113.6 364.0h0M98.1 375.5h0M101.4 366.6h0M116.5 369.8h0M100.9 368.2h0M99.5 363.8h0M102.4 363.9h0M109.7 367.1h0M108.8 370.3h0M89.4 373.8h0M104.4 371.3h0M108.3 371.6h0M105.2 373.4h0M116.7 366.1h0M106.6 374.8h0M111.9 365.3h0M115.1 370.6h0M131.2 368.0h0M92.7 374.0h0M113.2 371.4h0M107.1 368.0h0M96.3 373.6h0M102.3 376.1h0M112.8 379.0h0M113.7 380.0h0M95.0 371.3h0M114.2 368.1h0M101.4 365.0h0M105.2 365.5h0M107.9 363.7h0M110.8 358.9h0M102.5 360.3h0M93.5 369.4h0M99.8 374.7h0" stroke="#86b41c" stroke-width="1.36" stroke-linecap="round" fill="none"/>
<path d="M121.9 385.9h0M116.5 384.7h0M115.5 380.0h0M122.7 381.0h0M119.7 382.9h0M122.8 376.3h0M119.0 384.3h0M117.0 384.0h0M121.7 379.9h0M115.2 387.2h0M117.7 383.0h0M118.0 382.0h0M112.4 383.5h0M117.7 379.9h0M122.1 380.4h0M113.6 378.0h0M123.0 384.8h0M122.3 382.2h0" stroke="#86b41c" stroke-width="1.36" stroke-linecap="round" fill="none"/>
<path d="M151.4 328.0h0M135.9 332.3h0M134.0 337.7h0M137.7 303.3h0M127.7 323.3h0M132.0 308.1h0M150.2 312.2h0M126.1 328.4h0M141.1 309.6h0M149.5 318.4h0M132.2 316.9h0M139.7 338.0h0M151.4 326.9h0M129.4 325.2h0M132.5 316.5h0M151.7 310.7h0M129.0 301.8h0M152.0 320.2h0M131.8 321.5h0M127.3 314.6h0M144.5 324.7h0M129.5 327.5h0M133.0 317.8h0M143.0 311.9h0M131.0 317.4h0M150.2 321.1h0M141.2 314.9h0M145.0 333.0h0" stroke="#f77a70" stroke-width="1.36" stroke-linecap="round" fill="none"/>
<path d="M133.0 351.0h0M131.0 352.5h0M135.4 350.4h0M135.5 351.6h0M135.3 351.4h0" stroke="#f77a70" stroke-width="1.36" stroke-linecap="round" fill="none"/>
<path d="M141.9 330.1h0M126.5 339.5h0M133.7 334.4h0M130.5 335.8h0M129.3 336.7h0M151.2 331.9h0M143.1 330.5h0M128.4 342.6h0M143.7 328.7h0M131.1 336.4h0M130.2 335.0h0M148.1 329.1h0M137.0 330.4h0M127.1 342.6h0M130.3 339.1h0M132.5 336.7h0M126.5 342.1h0M152.2 332.9h0M125.2 344.4h0M151.0 332.0h0M149.9 329.1h0M145.3 327.9h0M133.1 336.2h0M126.4 346.5h0M149.7 331.5h0M130.0 337.4h0M132.4 337.3h0M150.0 329.3h0M127.4 339.2h0M144.4 330.0h0M148.9 328.5h0M135.2 333.3h0M150.0 329.5h0M129.6 338.4h0M144.8 327.3h0M127.1 340.9h0M150.5 331.6h0M150.3 331.9h0M127.9 339.9h0M135.9 331.5h0M136.9 331.3h0M150.2 329.0h0M150.0 350.3h0M149.0 345.4h0M148.6 342.3h0M147.5 340.7h0M149.3 344.6h0M150.0 344.0h0M150.9 346.6h0M149.0 345.4h0M150.9 342.6h0M150.3 349.2h0M151.5 338.1h0M149.0 346.1h0M148.6 345.0h0M150.8 348.2h0M150.0 344.0h0M148.9 339.1h0M150.4 342.3h0M147.5 341.6h0M152.3 345.5h0M152.4 347.6h0M149.4 338.7h0M150.6 346.7h0M149.1 346.7h0M150.0 344.3h0M147.8 340.3h0M151.5 345.1h0M148.9 342.1h0M150.6 346.2h0M152.4 341.3h0M149.0 346.6h0M149.9 343.9h0M150.3 336.5h0M150.1 348.0h0M151.6 352.0h0M151.3 345.5h0M151.5 345.4h0M150.6 344.9h0M149.8 346.0h0M150.3 344.5h0M150.8 338.3h0M149.2 344.8h0M147.6 342.5h0M148.2 340.4h0M149.3 343.1h0M150.5 347.0h0M152.5 346.3h0M149.3 337.9h0M151.5 341.2h0M149.5 344.4h0M153.6 344.3h0M151.1 334.1h0M149.5 341.6h0M150.5 344.8h0M150.8 342.9h0M151.2 344.4h0M148.9 346.0h0M148.7 343.7h0M151.7 343.7h0M151.2 348.1h0M150.8 349.3h0" stroke="#14c493" stroke-width="1.36" stroke-linecap="round" fill="none"/>
<path d="M123.9 390.6h0M123.2 390.0h0M128.9 391.7h0M127.4 390.0h0M128.2 391.9h0M127.4 390.4h0M126.9 391.1h0M124.0 393.9h0M123.3 390.5h0M144.3 386.2h0M142.1 387.0h0M143.6 385.8h0M141.2 391.8h0M142.3 382.3h0M140.9 384.3h0M143.2 387.1h0M144.0 385.3h0M137.6 386.0h0M139.7 388.9h0M138.5 383.0h0M135.7 386.0h0M146.0 383.3h0M146.7 385.7h0" stroke="#6b9ffb" stroke-width="1.50" stroke-linecap="round" fill="none"/>
<path d="M143.5 384.0h0M137.0 392.0h0M160.5 388.5h0M131.0 388.0h0" stroke="#f06ab8" stroke-width="1.46" stroke-linecap="round" fill="none"/>
<path d="M133.0 384.5h0M146.0 391.0h0" stroke="#86b41c" stroke-width="1.36" stroke-linecap="round" fill="none"/>
<path d="M133.3 473.8h0M105.3 454.5h0M125.5 472.4h0M103.8 454.3h0M106.4 451.8h0M119.3 469.1h0M138.9 472.4h0M102.3 438.9h0M96.4 407.8h0M142.0 470.1h0M99.0 446.5h0M96.7 431.0h0M100.5 438.4h0M140.4 471.2h0M107.1 456.0h0M115.1 463.0h0M140.1 471.9h0M113.2 464.2h0M115.3 464.6h0M135.6 473.0h0M142.2 470.3h0M117.1 468.5h0M97.6 440.5h0M96.5 415.2h0M98.4 423.8h0M112.2 466.9h0M109.5 456.0h0M97.4 444.9h0M137.8 473.3h0M133.5 472.8h0M98.8 408.0h0M98.3 428.0h0M97.5 445.0h0M111.1 459.5h0M102.5 432.0h0M106.6 456.9h0M132.9 472.9h0M126.1 472.0h0M126.1 472.3h0M109.4 436.6h0M118.8 467.6h0M127.1 469.5h0M127.9 471.4h0M121.2 468.8h0M133.5 472.4h0M111.6 465.5h0M139.6 470.8h0M100.5 427.1h0M108.6 459.7h0M128.7 474.2h0M98.7 437.1h0M106.0 443.8h0M120.9 470.2h0M117.6 465.6h0M111.0 458.9h0M132.0 473.4h0M105.2 454.1h0M118.4 469.6h0M102.9 431.4h0M137.1 472.9h0M141.6 469.8h0M143.6 469.5h0M102.5 440.1h0M138.6 472.4h0M109.5 459.9h0M141.0 471.4h0M99.4 446.6h0M136.6 473.3h0M102.9 443.4h0M111.9 449.0h0M94.8 421.5h0M128.3 474.0h0M130.3 472.8h0M126.2 471.8h0M97.2 425.4h0M141.0 471.7h0M131.7 473.6h0M97.9 414.3h0M101.5 423.6h0M113.8 454.9h0M137.2 473.5h0M142.9 469.6h0M127.1 472.4h0M97.9 433.5h0M96.6 408.7h0M118.4 466.1h0M123.5 474.3h0M104.2 437.9h0M99.9 449.1h0M99.5 431.9h0M138.8 471.0h0M113.3 467.5h0M109.1 450.1h0M99.2 410.5h0M122.8 472.5h0M116.8 469.6h0M111.7 453.7h0M106.0 457.1h0M105.7 460.3h0M97.2 427.5h0M142.6 469.2h0M99.8 434.7h0M98.3 422.2h0M129.6 474.1h0M137.5 472.3h0M125.4 471.2h0M121.9 468.6h0M105.3 449.5h0M127.2 474.6h0M138.1 472.1h0M135.9 472.6h0M97.8 446.7h0M96.3 409.5h0M123.3 470.9h0M116.0 469.1h0M136.8 472.0h0M130.0 474.2h0M125.8 472.8h0M121.7 468.1h0M119.6 468.2h0M127.9 473.5h0M103.4 457.6h0M144.2 468.5h0M115.9 470.3h0M96.5 403.9h0M122.3 472.0h0M99.3 457.7h0M122.7 471.1h0M99.5 444.6h0M115.3 461.8h0M95.0 436.7h0M102.7 428.8h0M117.7 465.9h0M130.8 474.1h0M106.1 447.1h0M114.5 463.9h0M117.0 469.4h0M114.4 463.6h0M130.4 471.9h0M98.9 439.9h0M141.9 470.7h0M125.1 472.5h0M114.8 466.0h0M93.0 409.5h0M126.5 475.5h0M121.5 470.1h0M117.6 468.8h0M135.7 473.3h0M123.4 471.2h0M102.9 435.2h0M126.6 472.3h0M107.5 455.0h0M103.2 442.7h0M112.2 456.9h0M106.1 443.8h0M110.0 461.5h0M102.6 444.7h0M142.6 470.2h0M96.9 429.8h0M127.1 470.8h0M96.4 439.0h0M96.0 420.4h0M135.3 473.1h0M120.4 471.2h0M124.6 475.1h0M96.4 414.7h0M110.8 449.5h0M125.5 471.8h0M95.9 409.1h0M112.7 456.7h0M145.6 468.3h0M132.7 473.4h0M122.7 472.0h0M104.3 433.0h0M118.0 467.6h0M136.1 473.8h0M103.0 427.8h0M114.8 463.8h0M97.3 424.1h0M118.1 458.2h0M134.5 473.5h0M90.2 438.1h0M109.8 453.8h0M141.8 471.2h0M108.4 456.9h0M99.2 434.3h0M101.8 456.4h0M95.1 432.5h0M123.7 473.8h0M122.4 471.2h0M132.5 474.0h0M142.3 470.8h0M96.0 409.6h0M105.6 453.4h0M114.0 463.5h0M133.5 472.8h0M124.9 473.8h0M97.8 418.3h0M140.3 472.1h0M115.4 463.9h0M110.3 450.3h0M94.5 406.1h0M103.2 453.5h0M100.6 444.6h0M110.5 458.5h0M124.1 469.7h0M94.5 410.1h0M118.0 469.0h0M122.5 469.3h0M96.1 415.5h0M106.2 440.2h0M99.9 438.9h0M99.9 444.2h0M104.3 444.3h0M124.5 469.3h0M112.5 460.6h0M96.3 408.1h0M103.9 453.2h0M140.3 470.6h0M112.8 456.6h0M96.0 405.8h0M120.0 463.2h0M100.2 426.9h0M97.1 427.1h0M103.8 442.6h0M108.9 466.1h0M126.2 469.7h0M103.5 455.0h0M112.5 467.1h0M144.0 468.7h0M142.3 470.6h0M109.6 461.6h0M117.6 462.6h0M112.8 466.1h0M110.7 442.8h0M124.3 475.1h0M116.9 462.8h0M96.4 416.8h0M119.4 471.1h0M136.9 472.5h0M121.6 470.1h0M133.8 474.2h0M116.4 469.7h0M98.3 412.2h0M97.1 455.7h0M126.7 477.4h0M113.1 460.5h0M138.7 471.4h0M100.0 436.9h0M114.8 462.9h0M103.5 424.0h0M111.2 459.0h0M123.7 474.9h0M124.3 469.1h0M124.9 469.4h0M98.9 420.5h0M135.6 474.0h0M102.9 451.7h0M103.3 445.5h0M98.1 407.6h0M139.2 472.3h0M143.3 468.7h0M110.9 462.1h0M105.0 451.8h0M102.9 438.7h0M107.6 452.4h0M103.8 446.0h0M128.1 470.8h0M123.4 473.4h0M141.6 470.6h0M104.3 449.3h0M104.7 462.2h0M97.5 423.2h0M95.1 406.7h0M94.9 411.1h0M133.5 472.6h0M135.0 473.7h0M111.3 466.7h0M119.4 466.6h0M102.8 436.3h0M94.1 417.6h0M97.6 416.5h0M110.9 465.7h0M143.2 470.1h0M133.1 474.6h0M132.7 474.1h0M138.8 471.7h0M127.0 472.6h0M94.2 430.5h0M121.2 464.8h0M109.4 460.3h0M98.6 421.7h0M125.9 475.7h0M97.1 451.5h0M110.2 453.7h0M134.8 473.0h0M110.3 462.0h0M98.2 414.4h0M114.1 461.4h0M111.6 456.9h0M139.1 470.5h0M95.7 437.2h0M99.6 443.4h0M99.8 420.7h0M95.3 404.0h0M121.9 471.7h0M140.3 470.9h0M95.3 437.4h0M107.6 459.3h0M102.6 449.4h0M126.3 474.1h0M107.8 454.3h0M123.6 469.3h0M97.6 403.9h0M134.4 473.1h0M121.6 465.0h0M101.3 441.7h0M107.0 459.6h0M141.9 471.4h0M96.2 454.1h0M96.2 416.7h0M126.1 472.4h0M141.8 469.6h0M99.6 429.9h0M117.1 465.4h0M96.9 410.0h0M134.0 472.0h0M124.7 472.0h0M127.5 472.2h0M110.8 448.4h0M138.5 471.4h0M101.8 448.5h0M118.0 468.6h0M100.3 442.7h0M100.4 414.3h0M103.9 451.7h0M125.9 471.7h0M124.3 470.8h0M104.7 441.3h0M115.0 454.0h0M108.6 461.1h0M134.2 472.8h0M109.4 441.7h0M97.9 407.9h0M120.5 469.6h0M117.7 467.6h0M120.8 470.2h0M106.3 466.0h0M125.2 473.5h0M104.8 433.8h0M98.2 443.4h0M97.0 403.5h0M108.3 450.0h0M102.9 439.6h0M128.7 474.1h0M122.9 471.4h0M97.3 422.8h0M97.8 430.7h0M108.9 459.6h0M97.1 418.6h0M108.1 448.6h0M114.2 464.4h0M101.1 430.0h0M104.7 443.4h0M131.2 473.3h0M143.6 469.4h0M136.5 472.3h0M111.2 464.3h0M95.6 442.2h0M98.0 436.3h0M100.6 453.3h0M103.1 456.9h0M122.9 473.9h0M117.9 466.3h0M141.7 470.2h0M131.8 475.3h0M128.1 471.4h0M96.7 401.8h0M130.4 475.1h0M137.8 470.8h0M106.4 455.0h0M123.1 471.6h0M99.3 418.7h0M113.3 465.8h0M112.3 463.3h0M99.3 443.6h0M94.4 417.9h0M118.2 468.0h0M131.4 473.4h0M119.3 470.2h0M102.7 448.3h0M106.7 450.4h0M109.8 451.7h0M105.0 438.3h0M135.7 473.2h0M137.8 471.8h0M131.6 473.0h0M94.4 410.6h0M105.4 441.0h0M105.2 450.2h0M139.9 472.0h0M107.8 429.8h0M111.8 466.2h0M97.8 417.4h0M116.1 471.0h0M96.5 435.2h0M119.5 468.4h0M101.1 427.6h0M131.7 474.1h0M99.7 419.7h0M99.0 425.9h0M100.2 431.2h0M98.6 450.8h0M100.0 441.9h0M103.8 444.5h0M115.2 468.2h0M112.7 459.4h0M96.8 401.5h0M100.2 429.6h0M134.1 473.7h0M123.3 472.4h0M129.8 474.1h0M113.1 463.2h0M129.7 473.7h0M126.6 475.4h0M115.4 468.7h0M117.2 467.9h0M116.4 460.4h0M100.2 435.8h0M140.2 471.3h0M95.0 432.3h0M96.4 429.1h0M112.2 457.9h0M130.5 473.2h0M139.2 472.8h0M95.2 439.0h0M123.9 475.4h0M97.4 407.8h0M97.5 426.5h0M142.1 469.7h0M97.4 423.4h0M96.1 405.2h0M135.0 472.7h0M113.7 461.0h0M100.3 416.3h0M102.1 438.2h0M97.7 434.4h0M111.9 462.5h0M119.3 465.3h0M116.4 467.9h0M140.9 470.7h0M100.6 430.1h0M124.5 470.3h0M131.7 473.8h0M133.5 474.0h0M106.3 449.1h0M101.7 441.7h0M98.2 426.2h0M103.6 441.4h0M96.7 410.5h0" stroke="#2cc456" stroke-width="1.36" stroke-linecap="round" fill="none"/>
<path d="M99.3 396.6h0M97.6 390.4h0M93.8 401.3h0M97.6 382.5h0M96.5 403.0h0M93.8 398.8h0M97.0 397.6h0M94.5 388.4h0M95.4 387.4h0M95.0 390.4h0M92.9 403.6h0M99.4 383.4h0M93.8 380.3h0M98.4 388.8h0M98.6 398.5h0M97.8 383.1h0M93.9 395.9h0M96.1 399.8h0M94.0 403.0h0M97.7 380.1h0M94.9 400.0h0M95.5 389.8h0M92.1 396.2h0M93.4 389.9h0M98.2 386.0h0M94.0 381.2h0" stroke="#8fcf50" stroke-width="1.36" stroke-linecap="round" fill="none"/>
<path d="M132.6 472.5h0M128.3 473.4h0M131.2 475.0h0M122.6 473.2h0M128.5 472.9h0M130.2 470.4h0M133.8 470.5h0M137.1 472.0h0M134.3 473.1h0M133.5 472.2h0M124.8 471.4h0M130.0 469.7h0" stroke="#bda51a" stroke-width="1.36" stroke-linecap="round" fill="none"/>
<path d="M163.7 450.1h0M153.7 460.2h0M148.7 464.0h0M163.7 449.7h0M154.2 461.9h0M147.2 466.0h0M155.9 458.3h0M157.7 456.8h0M163.4 449.9h0M161.8 454.3h0M167.3 443.2h0M162.6 450.5h0M161.7 455.0h0M162.7 454.8h0M163.3 455.9h0M154.4 460.3h0M151.8 461.9h0M157.0 458.2h0M166.3 444.4h0M158.1 458.4h0M161.9 451.3h0M151.4 463.2h0M147.6 466.3h0M148.0 466.6h0" stroke="#10c0c6" stroke-width="1.50" stroke-linecap="round" fill="none"/>
<path d="M162.9 440.9h0M163.4 439.9h0M164.7 443.4h0M165.7 442.4h0M163.2 439.9h0" stroke="#bda51a" stroke-width="1.36" stroke-linecap="round" fill="none"/>
<path d="M161.0 457.0h0M160.2 459.0h0" stroke="#6a6ad0" stroke-width="1.36" stroke-linecap="round" fill="none"/>
<path d="M263.7 363.3h0M263.1 367.3h0M261.1 380.6h0M261.6 373.8h0M262.4 372.9h0M261.7 378.2h0M260.2 377.5h0M261.0 376.4h0M262.5 372.4h0M264.0 363.4h0M263.8 370.9h0M265.2 360.9h0M263.4 362.0h0M262.8 371.4h0M265.6 361.8h0M264.3 362.4h0M260.5 378.1h0M262.8 368.0h0M261.7 376.7h0M260.5 378.9h0M263.8 368.9h0M260.9 373.3h0M259.9 377.3h0M263.3 367.7h0M262.3 371.3h0M264.9 360.9h0M265.6 362.4h0M261.7 371.3h0M262.3 373.8h0M264.0 365.4h0M260.2 376.1h0M263.9 364.5h0M264.4 364.6h0M263.8 369.4h0M264.3 364.8h0M264.9 368.8h0M263.8 365.3h0M265.0 361.7h0M261.1 375.3h0M265.3 362.8h0" stroke="#6cc6f2" stroke-width="1.50" stroke-linecap="round" fill="none"/>
<path d="M184.0 273.0h0M182.4 274.1h0M183.7 272.9h0M184.8 278.1h0M184.7 273.9h0M184.1 277.0h0M185.3 274.8h0M182.2 272.3h0M187.0 277.4h0M185.4 271.4h0M183.1 275.3h0M186.4 273.4h0M184.0 271.4h0M186.8 275.2h0" stroke="#c27ef5" stroke-width="1.36" stroke-linecap="round" fill="none"/>
<path d="M185.1 273.5h0M184.5 274.1h0M184.3 275.9h0M186.0 275.8h0M185.1 274.0h0M185.7 274.4h0" stroke="#6a5fc0" stroke-width="1.26" stroke-linecap="round" fill="none"/>
<path d="M50.6 283.5h0M51.7 282.7h0M48.3 282.0h0M51.0 286.1h0M53.2 283.7h0M47.2 285.6h0M46.7 281.2h0M53.2 284.5h0M49.3 284.8h0M57.3 284.1h0" stroke="#dcc0dc" stroke-width="1.36" stroke-linecap="round" fill="none"/>
<path d="M177.0 363.8h0M175.4 365.2h0M174.5 366.5h0M176.7 361.8h0M176.4 365.2h0M176.4 366.2h0M174.7 364.3h0M175.4 365.3h0" stroke="#b8b8c8" stroke-width="1.36" stroke-linecap="round" fill="none"/>
</g>
<path d="M143.3 72.7 L127 216.5" stroke="#ee1515" stroke-width="1.7" fill="none"/>
<path d="M126.2 223.4 L122.3 216 L130.9 217 Z" fill="#ee1515"/>
<circle cx="293.8" cy="283.5" r="2.4" fill="#F8766D"/>
<text x="303" y="286.3" font-size="7.8" fill="#111">0</text>
<circle cx="293.8" cy="293.9" r="2.4" fill="#DE8C00"/>
<text x="303" y="296.7" font-size="7.8" fill="#111">1</text>
<circle cx="293.8" cy="304.3" r="2.4" fill="#B79F00"/>
<text x="303" y="307.1" font-size="7.8" fill="#111">2</text>
<circle cx="293.8" cy="314.8" r="2.4" fill="#7CAE00"/>
<text x="303" y="317.6" font-size="7.8" fill="#111">3</text>
<circle cx="293.8" cy="325.2" r="2.4" fill="#00BA38"/>
<text x="303" y="328.0" font-size="7.8" fill="#111">4</text>
<circle cx="293.8" cy="335.6" r="2.4" fill="#00C08B"/>
<text x="303" y="338.4" font-size="7.8" fill="#111">5</text>
<circle cx="293.8" cy="346.0" r="2.4" fill="#00BFC4"/>
<text x="303" y="348.8" font-size="7.8" fill="#111">6</text>
<circle cx="293.8" cy="356.4" r="2.4" fill="#00B4F0"/>
<text x="303" y="359.2" font-size="7.8" fill="#111">7</text>
<circle cx="293.8" cy="366.9" r="2.4" fill="#619CFF"/>
<text x="303" y="369.7" font-size="7.8" fill="#111">8</text>
<circle cx="293.8" cy="377.3" r="2.4" fill="#C77CFF"/>
<text x="303" y="380.1" font-size="7.8" fill="#111">9</text>
<circle cx="293.8" cy="387.7" r="2.4" fill="#F564E3"/>
<text x="303" y="390.5" font-size="7.8" fill="#111">10</text>
<circle cx="293.8" cy="398.1" r="2.4" fill="#FF64B0"/>
<text x="303" y="400.9" font-size="7.8" fill="#111">11</text>
<path d="M146.6 394.8 L155.4 388.8 L155.4 392.2 L183.5 392.2 L183.5 397.4 L155.4 397.4 L155.4 400.8 Z" fill="#2f5fa8"/>
<path d="M167.8 451.2 L175 446.2 L175 448.5 L206.1 448.5 L206.1 453.9 L175 453.9 L175 456.2 Z" fill="#1cb0ee"/>
<path d="M405.5 162.3 V117.5" stroke="#000" stroke-width="1.15"/>
<path d="M416.5 162.3 V121.6" stroke="#000" stroke-width="1.15"/>
<path d="M426.5 162.3 V118.8" stroke="#000" stroke-width="1.15"/>
<path d="M437.5 162.3 V89.0" stroke="#000" stroke-width="1.15"/>
<path d="M448.5 162.3 V112.1" stroke="#000" stroke-width="1.15"/>
<path d="M458.5 162.3 V125.6" stroke="#000" stroke-width="1.15"/>
<path d="M469.5 162.3 V123.2" stroke="#000" stroke-width="1.15"/>
<path d="M480.5 162.3 V113.4" stroke="#000" stroke-width="1.15"/>
<path d="M501.5 162.3 V123.2" stroke="#000" stroke-width="1.15"/>
<path d="M512.5 162.3 V133.8" stroke="#000" stroke-width="1.15"/>
<path d="M522.5 162.3 V128.4" stroke="#000" stroke-width="1.15"/>
<path d="M487.7 162.3 L488.1 157.4 L488.8 150.9 L489.1 145.2 L488.5 137.9 L487.4 129.7 L486.5 121.6 L486.1 114.4 L486.3 105.2 L486.9 97.1 L487.8 89.0 L488.4 84.1 L488.7 79.2 L488.8 76.4 L492.6 76.4 L492.7 79.2 L493.0 84.1 L493.6 89.0 L494.5 97.1 L495.1 105.2 L495.3 114.4 L494.9 121.6 L494.0 129.7 L492.9 137.9 L492.3 145.2 L492.6 150.9 L493.3 157.4 L493.7 162.3Z" fill="#5b97f5" stroke="#1a1a1a" stroke-width="0.7" stroke-linejoin="round"/>
<path d="M401.8 143.8h0M406.7 141.4h0M406.5 143.2h0M403.8 137.3h0M404.5 143.1h0M402.3 133.8h0M405.5 145.0h0M404.8 130.1h0M409.6 141.2h0M404.8 144.0h0M406.1 145.0h0M405.0 140.5h0M409.6 133.5h0M401.6 137.9h0M404.1 139.3h0M405.1 143.5h0M402.2 136.8h0M404.0 142.3h0M409.6 128.5h0M410.1 141.6h0M407.9 130.0h0M407.8 141.4h0M403.4 142.3h0M408.1 140.7h0M402.5 131.2h0M409.1 135.6h0M405.6 140.4h0M404.6 133.7h0M406.8 137.5h0M410.2 143.8h0M402.8 140.9h0M407.2 142.1h0M404.2 139.0h0M408.7 138.3h0M402.8 142.1h0M406.5 146.3h0M402.8 133.0h0M409.1 142.0h0M408.1 131.5h0M407.0 134.5h0M401.6 138.0h0M403.0 132.6h0M408.7 132.6h0M409.1 144.0h0M405.4 135.4h0M407.1 142.7h0M401.3 128.8h0M405.4 134.8h0M403.7 144.0h0M405.8 136.6h0M402.1 131.1h0M403.8 143.0h0M401.4 140.2h0M403.9 135.1h0M402.2 134.4h0M401.6 145.2h0M407.7 132.6h0M405.3 146.8h0M409.1 138.7h0M402.7 145.0h0M402.9 135.5h0M404.0 144.3h0M406.6 147.0h0M406.4 147.5h0M404.8 141.5h0M406.6 130.3h0M403.4 147.7h0M407.3 145.9h0M404.3 133.1h0M406.7 139.7h0M407.1 139.0h0M402.4 142.6h0M408.9 142.0h0M404.9 143.7h0M402.7 144.0h0M405.8 141.9h0M405.3 133.9h0M408.8 144.6h0M409.3 146.1h0M404.9 132.3h0M408.6 133.8h0M401.6 143.2h0M409.3 141.0h0M402.4 134.5h0M409.0 145.1h0M402.2 139.0h0M402.0 135.6h0M408.8 142.9h0M409.4 129.6h0M406.7 137.4h0M403.4 138.7h0M405.3 131.8h0M403.9 131.9h0M405.6 139.6h0M409.8 143.3h0M409.5 144.7h0M402.7 129.5h0M403.3 138.3h0M402.6 138.5h0M404.4 135.7h0M409.2 139.7h0M409.6 148.1h0M406.4 141.6h0M407.7 147.6h0M403.1 133.1h0M402.4 142.9h0M407.4 141.6h0M405.2 138.4h0M405.9 132.0h0M410.1 142.9h0M405.0 130.2h0M408.1 141.9h0M404.0 140.4h0M408.9 135.9h0M409.7 142.4h0M405.5 139.2h0M408.2 133.0h0M403.2 146.8h0M408.4 139.0h0M409.2 141.9h0M405.7 137.6h0M406.1 147.3h0M401.5 138.5h0M406.6 140.1h0M405.3 147.0h0M403.7 131.1h0M407.5 140.0h0M401.7 140.2h0M401.0 144.8h0M405.4 140.4h0M407.7 132.6h0M403.1 133.2h0M407.0 141.6h0M402.4 137.1h0M409.9 138.8h0M403.3 128.4h0M404.3 140.3h0M407.8 136.7h0M409.3 130.1h0M402.1 130.8h0M409.4 129.8h0M404.0 138.1h0M406.7 132.6h0M405.0 135.6h0M404.1 129.8h0M408.2 133.8h0M409.4 130.2h0M408.2 133.2h0M406.1 138.7h0M407.1 148.0h0M402.3 141.6h0M403.2 137.4h0M406.4 137.2h0M402.0 144.8h0M403.3 142.4h0M410.2 131.8h0M407.0 141.3h0M404.8 133.6h0M409.6 136.9h0M407.8 140.2h0M402.9 134.7h0M403.7 137.5h0M401.3 142.2h0M402.8 135.6h0M404.8 134.8h0M409.5 141.9h0M406.7 144.0h0M409.8 144.1h0M407.3 143.3h0M408.0 144.5h0M408.5 131.6h0M401.4 125.2h0M408.4 126.6h0M407.6 118.1h0M403.2 127.6h0M408.9 117.5h0M404.1 127.2h0M409.1 123.9h0M402.1 129.4h0M406.9 130.8h0M402.0 125.3h0M407.3 126.3h0M401.4 126.6h0M409.9 129.9h0M405.3 126.8h0M409.7 130.3h0M403.3 127.8h0M405.1 121.0h0M409.6 121.0h0M406.6 118.1h0M405.9 120.2h0M401.7 128.7h0M401.4 127.6h0M409.7 125.1h0M406.3 117.7h0M402.8 127.6h0M409.3 128.6h0M402.8 128.5h0M405.4 128.1h0M402.3 120.6h0M408.9 124.2h0M403.3 124.7h0M409.3 124.2h0M401.5 126.9h0M406.3 121.2h0M415.5 134.7h0M413.4 136.8h0M419.2 144.8h0M420.2 142.8h0M412.2 143.7h0M413.7 125.6h0M414.4 143.2h0M413.0 133.7h0M415.4 137.8h0M411.9 135.0h0M414.1 131.9h0M413.4 125.8h0M417.9 126.8h0M413.8 142.1h0M420.6 131.2h0M415.2 127.4h0M415.4 131.7h0M416.1 135.9h0M411.8 140.9h0M413.5 135.7h0M416.7 130.7h0M415.1 146.1h0M416.2 128.0h0M416.5 133.7h0M418.0 136.5h0M416.3 128.2h0M419.4 127.0h0M412.8 139.1h0M414.1 134.2h0M418.8 134.8h0M416.2 140.0h0M416.5 137.3h0M417.2 134.2h0M417.9 142.5h0M412.0 132.4h0M412.6 144.7h0M414.4 139.8h0M418.7 139.6h0M414.3 145.8h0M414.8 130.1h0M419.4 129.2h0M414.1 129.9h0M419.3 127.4h0M418.0 144.0h0M419.7 131.7h0M420.6 133.3h0M420.4 127.1h0M413.4 129.7h0M418.5 142.5h0M415.3 143.8h0M412.0 132.9h0M413.7 128.4h0M413.9 135.6h0M412.7 128.6h0M419.2 135.0h0M415.6 123.3h0M416.0 130.2h0M418.4 139.0h0M413.5 136.9h0M419.0 135.5h0M416.4 137.4h0M412.5 126.3h0M412.3 131.7h0M420.4 137.3h0M414.9 139.7h0M417.9 137.6h0M419.6 144.7h0M414.7 136.9h0M413.0 125.8h0M414.2 128.3h0M413.6 125.4h0M416.9 139.1h0M413.6 124.7h0M411.9 132.8h0M420.1 123.0h0M416.2 124.9h0M414.4 132.7h0M412.7 122.4h0M416.7 143.1h0M419.0 141.6h0M415.5 130.8h0M420.3 144.7h0M420.0 143.8h0M419.0 145.4h0M418.5 138.2h0M417.6 132.1h0M418.5 146.3h0M420.0 128.7h0M414.1 127.2h0M416.8 123.6h0M416.1 140.1h0M412.0 146.7h0M416.6 136.4h0M411.7 145.3h0M411.8 142.9h0M422.9 133.5h0M423.5 140.5h0M427.5 140.3h0M430.2 145.7h0M423.0 143.8h0M424.9 142.3h0M427.4 136.6h0M424.4 146.1h0M424.7 137.7h0M424.5 146.7h0M430.9 132.3h0M430.3 137.6h0M426.7 143.9h0M424.6 142.0h0M426.0 147.8h0M428.8 132.2h0M424.4 135.7h0M429.3 141.9h0M427.2 142.5h0M429.4 139.8h0M431.2 143.4h0M428.8 135.9h0M425.5 141.4h0M427.0 148.5h0M424.0 134.9h0M431.0 134.0h0M428.1 136.6h0M427.0 134.4h0M428.5 139.4h0M431.0 149.5h0M426.7 138.2h0M431.1 140.3h0M424.5 136.3h0M428.0 141.6h0M431.4 142.4h0M427.9 144.7h0M431.2 134.6h0M426.1 138.1h0M422.5 136.1h0M430.1 139.1h0M427.8 140.8h0M429.5 149.6h0M424.3 144.4h0M430.4 150.1h0M428.7 143.1h0M426.2 145.8h0M424.7 140.6h0M430.6 143.9h0M426.9 132.4h0M422.8 145.5h0M424.2 145.9h0M422.3 145.6h0M430.4 145.4h0M429.0 139.8h0M430.5 139.8h0M424.0 145.3h0M427.8 148.1h0M425.5 137.9h0M430.7 139.3h0M427.5 137.8h0M427.0 138.3h0M430.9 145.0h0M427.3 146.0h0M425.5 144.4h0M423.0 140.7h0M430.2 141.6h0M430.0 133.8h0M423.8 133.4h0M425.3 131.5h0M428.3 137.2h0M425.5 142.8h0M423.3 134.3h0M429.1 145.1h0M424.9 142.7h0M429.1 138.1h0M430.0 133.4h0M428.7 146.1h0M431.3 142.0h0M426.6 142.9h0M430.9 138.2h0M424.0 136.7h0M428.4 144.1h0M427.4 141.0h0M431.1 144.9h0M430.0 132.7h0M429.8 133.3h0M427.8 147.1h0M424.4 143.0h0M429.0 137.7h0M426.7 143.0h0M430.4 145.9h0M426.4 147.7h0M423.4 133.2h0M427.5 143.1h0M427.9 142.8h0M431.2 139.5h0M427.6 148.8h0M423.0 136.9h0M430.9 149.0h0M424.0 131.5h0M427.4 132.5h0M429.9 139.9h0M428.8 134.2h0M424.9 143.0h0M429.4 132.0h0M431.3 141.6h0M430.2 136.7h0M430.0 140.0h0M422.9 146.2h0M425.1 139.5h0M422.9 145.2h0M425.1 140.0h0M425.0 147.2h0M428.3 143.4h0M431.2 142.3h0M428.0 135.6h0M425.7 136.3h0M427.4 137.1h0M426.3 141.4h0M427.4 139.4h0M425.6 135.3h0M428.3 144.3h0M425.2 133.4h0M426.0 133.4h0M429.4 138.4h0M423.4 138.1h0M423.9 136.7h0M422.8 134.3h0M430.1 135.0h0M427.3 143.4h0M431.0 134.5h0M430.5 139.8h0M424.6 139.8h0M427.1 141.2h0M430.9 145.0h0M424.9 137.4h0M426.7 146.6h0M429.4 148.6h0M427.5 133.0h0M423.9 136.0h0M431.0 137.5h0M422.3 145.0h0M425.5 140.2h0M429.0 138.7h0M424.8 145.6h0M431.3 138.3h0M423.1 144.8h0M424.9 145.3h0M429.4 143.0h0M431.4 147.4h0M429.0 145.3h0M429.0 141.9h0M426.5 146.3h0M431.5 136.7h0M424.5 140.4h0M427.6 140.3h0M430.9 135.4h0M429.2 145.5h0M427.7 136.6h0M425.6 148.6h0M429.6 126.4h0M431.4 128.6h0M422.5 133.2h0M428.6 123.9h0M431.0 124.6h0M425.9 131.0h0M430.2 124.1h0M423.8 127.9h0M429.1 128.9h0M427.0 129.8h0M425.5 122.4h0M430.8 130.7h0M429.4 127.9h0M424.0 124.2h0M430.7 131.3h0M427.6 134.4h0M429.6 133.3h0M422.7 127.4h0M426.1 129.4h0M424.2 124.8h0M430.4 126.4h0M425.9 120.7h0M427.1 124.6h0M428.5 128.9h0M422.8 123.2h0M434.1 136.2h0M440.1 136.0h0M440.0 122.5h0M441.8 138.2h0M433.8 145.4h0M439.7 140.8h0M441.0 128.5h0M441.7 133.9h0M441.6 124.9h0M438.3 136.3h0M434.5 143.8h0M437.5 141.9h0M433.4 133.5h0M437.2 133.4h0M440.4 126.4h0M435.4 130.8h0M435.7 138.7h0M433.6 134.0h0M440.4 132.9h0M436.7 126.6h0M434.1 126.8h0M440.6 129.1h0M437.2 133.3h0M439.2 139.5h0M438.0 132.5h0M442.1 129.4h0M436.9 138.9h0M433.1 132.6h0M435.9 125.6h0M436.9 129.0h0M434.0 136.9h0M441.7 141.4h0M438.2 130.8h0M433.4 134.9h0M433.0 131.0h0M434.2 142.7h0M438.7 129.2h0M439.4 123.1h0M433.6 123.1h0M438.9 133.1h0M439.3 143.5h0M437.7 124.5h0M438.4 138.4h0M439.2 135.8h0M440.2 125.2h0M440.2 141.2h0M440.7 137.0h0M435.3 147.3h0M439.5 133.5h0M438.8 142.2h0M441.6 123.7h0M440.4 135.8h0M434.4 147.4h0M435.7 124.6h0M438.1 130.1h0M436.8 140.2h0M437.3 124.6h0M440.5 131.4h0M438.7 130.7h0M436.0 133.1h0M439.7 137.9h0M438.8 135.2h0M439.6 142.2h0M434.4 135.9h0M434.0 131.5h0M438.1 137.2h0M434.8 130.8h0M437.1 145.5h0M435.1 127.2h0M434.0 139.0h0M437.9 143.8h0M441.6 138.5h0M437.0 140.1h0M435.9 133.5h0M433.5 141.5h0M434.4 133.1h0M441.9 132.7h0M434.1 147.3h0M435.9 133.9h0M439.0 136.0h0M438.1 145.6h0M434.5 142.5h0M433.0 147.2h0M440.3 139.6h0M437.2 124.2h0M436.5 144.0h0M437.9 132.5h0M441.8 131.9h0M441.1 124.6h0M438.2 138.3h0M441.8 142.1h0M437.4 123.2h0M433.6 137.4h0M438.5 134.0h0M434.3 136.0h0M433.9 136.5h0M434.1 138.8h0M441.9 141.7h0M435.1 134.8h0M439.0 138.5h0M440.2 142.0h0M436.5 143.1h0M442.0 131.3h0M440.9 138.3h0M441.1 148.2h0M433.9 146.3h0M436.2 127.3h0M441.8 132.5h0M440.5 140.7h0M439.5 140.8h0M436.8 135.5h0M440.3 135.8h0M436.6 142.3h0M436.1 145.7h0M441.0 136.1h0M438.0 98.3h0M434.9 107.8h0M436.5 114.9h0M436.5 109.4h0M436.8 100.5h0M434.3 91.5h0M438.1 96.4h0M433.9 103.4h0M438.9 117.4h0M437.3 97.4h0M436.3 113.6h0M434.5 109.9h0M434.9 112.6h0M435.2 91.3h0M445.4 129.4h0M446.6 138.3h0M448.9 129.5h0M443.8 145.8h0M452.1 138.6h0M450.7 132.8h0M452.5 131.4h0M444.1 132.3h0M447.4 135.7h0M446.9 139.8h0M451.7 134.5h0M450.7 139.7h0M452.0 137.6h0M447.0 133.6h0M448.1 136.9h0M451.2 134.6h0M451.6 135.9h0M449.6 140.1h0M448.9 128.7h0M446.4 144.7h0M448.7 133.4h0M450.5 140.6h0M449.4 141.1h0M444.8 143.8h0M452.4 127.9h0M449.5 133.8h0M451.5 137.4h0M449.4 138.9h0M449.1 137.4h0M445.6 136.1h0M449.8 144.9h0M452.2 142.2h0M444.7 140.2h0M448.6 132.0h0M444.8 136.3h0M446.0 136.5h0M449.6 128.5h0M448.5 133.8h0M449.5 146.8h0M448.5 143.1h0M445.6 129.4h0M447.7 134.0h0M451.5 147.1h0M449.4 135.3h0M446.9 132.3h0M445.4 147.0h0M444.3 130.0h0M443.8 134.6h0M446.6 141.3h0M447.9 138.0h0M447.0 139.6h0M447.2 128.5h0M447.7 130.3h0M452.4 145.2h0M448.0 145.2h0M452.5 137.2h0M451.0 142.2h0M446.7 135.9h0M444.1 139.5h0M446.2 133.7h0M448.9 139.7h0M450.8 136.0h0M445.8 136.1h0M448.2 133.4h0M448.2 133.1h0M451.1 146.4h0M451.6 129.1h0M449.0 126.9h0M447.4 136.9h0M450.4 132.9h0M451.5 144.2h0M444.2 137.4h0M449.6 132.7h0M446.5 139.8h0M444.4 133.3h0M445.7 140.3h0M448.5 137.4h0M450.1 135.7h0M452.1 139.0h0M449.7 141.4h0M447.5 133.4h0M444.1 140.4h0M451.2 130.9h0M444.5 146.3h0M448.6 137.5h0M445.8 122.3h0M451.3 121.6h0M448.7 120.1h0M450.8 123.4h0M451.2 117.9h0M449.2 119.7h0M447.4 121.7h0M445.3 120.2h0M459.6 130.2h0M462.1 138.3h0M457.1 135.6h0M458.0 138.5h0M455.6 137.2h0M457.9 131.8h0M459.8 138.5h0M459.3 131.9h0M456.0 140.1h0M472.1 145.1h0M471.6 129.6h0M470.4 137.3h0M472.3 137.5h0M466.6 125.9h0M465.5 140.5h0M468.0 125.8h0M472.9 135.4h0M466.0 129.7h0M468.3 137.8h0M469.2 145.9h0M469.5 140.9h0M472.1 146.2h0M471.4 130.3h0M469.6 147.6h0M469.2 141.6h0M472.4 134.1h0M468.3 133.8h0M466.1 142.3h0M471.0 135.1h0M481.7 135.1h0M479.3 130.9h0M477.2 135.3h0M483.2 132.8h0M478.2 137.1h0M476.7 128.2h0M480.0 128.3h0M479.3 138.6h0M479.0 134.9h0M477.7 132.0h0M479.3 128.5h0M476.6 137.3h0M483.3 141.4h0M476.4 137.3h0M480.5 113.4h0M491.1 102.3h0M490.9 96.4h0M491.0 112.4h0M491.2 98.6h0M488.0 119.6h0M490.9 91.4h0M489.4 112.3h0M490.7 107.2h0M491.6 103.7h0M493.0 101.9h0M488.3 90.0h0M492.2 100.1h0M490.9 112.5h0M492.3 111.9h0M490.1 101.4h0M491.5 123.1h0M492.2 88.1h0M490.5 106.2h0M493.3 114.5h0M488.3 88.7h0M492.7 99.8h0M490.4 87.6h0M487.9 118.1h0M489.6 94.4h0M488.2 105.1h0M493.6 121.1h0M491.0 116.7h0M492.4 106.5h0M493.7 94.8h0M491.7 105.2h0M491.4 96.3h0M489.8 105.4h0M493.6 118.9h0M489.4 119.9h0M488.3 110.5h0M493.5 108.5h0M490.2 124.7h0M490.6 107.8h0M491.4 110.0h0M491.5 97.1h0M490.7 98.4h0M491.6 100.6h0M490.0 117.1h0M492.4 107.5h0M491.9 96.7h0M492.0 110.8h0M492.2 111.3h0M492.4 116.1h0M490.9 95.5h0M493.4 113.9h0M493.3 96.7h0M491.1 102.6h0M492.1 109.9h0M489.1 114.9h0M491.4 109.6h0M490.3 79.4h0M491.4 78.2h0M490.0 78.8h0M492.1 77.3h0M489.6 88.9h0M491.3 143.6h0M490.8 141.5h0M492.5 145.7h0M501.1 123.2h0M500.1 123.2h0M510.7 142.5h0M512.2 133.8h0M509.7 140.1h0M509.5 137.1h0M514.1 141.7h0M520.1 146.5h0M521.4 136.6h0M520.3 133.7h0M519.5 142.4h0" stroke="#000" stroke-width="1.60" stroke-linecap="round" fill="none"/>
<path d="M395.2 162.3 H526.5" stroke="#111" stroke-width="1.5"/>
<path d="M399.2 72.0 V166.2 H526.5" stroke="#0a0a0a" stroke-width="1.1" fill="none"/>
<path d="M395.2 162.3 H399.2" stroke="#1a1a1a" stroke-width="0.9"/>
<text x="391.9" y="166.8" font-size="12.6" text-anchor="end" fill="#1a1a1a">0</text>
<path d="M395.2 146.0 H399.2" stroke="#1a1a1a" stroke-width="0.9"/>
<text x="391.9" y="150.5" font-size="12.6" text-anchor="end" fill="#1a1a1a">1</text>
<path d="M395.2 129.7 H399.2" stroke="#1a1a1a" stroke-width="0.9"/>
<text x="391.9" y="134.2" font-size="12.6" text-anchor="end" fill="#1a1a1a">2</text>
<path d="M395.2 113.4 H399.2" stroke="#1a1a1a" stroke-width="0.9"/>
<text x="391.9" y="117.9" font-size="12.6" text-anchor="end" fill="#1a1a1a">3</text>
<path d="M395.2 97.1 H399.2" stroke="#1a1a1a" stroke-width="0.9"/>
<text x="391.9" y="101.6" font-size="12.6" text-anchor="end" fill="#1a1a1a">4</text>
<path d="M395.2 80.8 H399.2" stroke="#1a1a1a" stroke-width="0.9"/>
<text x="391.9" y="85.3" font-size="12.6" text-anchor="end" fill="#1a1a1a">5</text>
<path d="M405.6 166.2 V169.8" stroke="#1a1a1a" stroke-width="0.9"/>
<text transform="translate(412.7 180.1) rotate(-45)" font-size="13.2" text-anchor="end" fill="#1a1a1a">0</text>
<path d="M416.2 166.2 V169.8" stroke="#1a1a1a" stroke-width="0.9"/>
<text transform="translate(423.3 180.1) rotate(-45)" font-size="13.2" text-anchor="end" fill="#1a1a1a">1</text>
<path d="M426.9 166.2 V169.8" stroke="#1a1a1a" stroke-width="0.9"/>
<text transform="translate(434.0 180.1) rotate(-45)" font-size="13.2" text-anchor="end" fill="#1a1a1a">2</text>
<path d="M437.5 166.2 V169.8" stroke="#1a1a1a" stroke-width="0.9"/>
<text transform="translate(444.6 180.1) rotate(-45)" font-size="13.2" text-anchor="end" fill="#1a1a1a">3</text>
<path d="M448.2 166.2 V169.8" stroke="#1a1a1a" stroke-width="0.9"/>
<text transform="translate(455.3 180.1) rotate(-45)" font-size="13.2" text-anchor="end" fill="#1a1a1a">4</text>
<path d="M458.8 166.2 V169.8" stroke="#1a1a1a" stroke-width="0.9"/>
<text transform="translate(465.9 180.1) rotate(-45)" font-size="13.2" text-anchor="end" fill="#1a1a1a">5</text>
<path d="M469.4 166.2 V169.8" stroke="#1a1a1a" stroke-width="0.9"/>
<text transform="translate(476.5 180.1) rotate(-45)" font-size="13.2" text-anchor="end" fill="#1a1a1a">6</text>
<path d="M480.1 166.2 V169.8" stroke="#1a1a1a" stroke-width="0.9"/>
<text transform="translate(487.2 180.1) rotate(-45)" font-size="13.2" text-anchor="end" fill="#1a1a1a">7</text>
<path d="M490.7 166.2 V169.8" stroke="#1a1a1a" stroke-width="0.9"/>
<text transform="translate(497.8 180.1) rotate(-45)" font-size="13.2" text-anchor="end" fill="#1a1a1a">8</text>
<path d="M501.4 166.2 V169.8" stroke="#1a1a1a" stroke-width="0.9"/>
<text transform="translate(508.5 180.1) rotate(-45)" font-size="13.2" text-anchor="end" fill="#1a1a1a">9</text>
<path d="M512.0 166.2 V169.8" stroke="#1a1a1a" stroke-width="0.9"/>
<text transform="translate(519.1 180.1) rotate(-45)" font-size="13.2" text-anchor="end" fill="#1a1a1a">10</text>
<path d="M522.6 166.2 V169.8" stroke="#1a1a1a" stroke-width="0.9"/>
<text transform="translate(529.7 180.1) rotate(-45)" font-size="13.2" text-anchor="end" fill="#1a1a1a">11</text>
<path d="M409.5 381.5 V331.6" stroke="#000" stroke-width="1.15"/>
<path d="M421.5 381.5 V312.2" stroke="#000" stroke-width="1.15"/>
<path d="M432.5 381.5 V324.9" stroke="#000" stroke-width="1.15"/>
<path d="M443.5 381.5 V325.8" stroke="#000" stroke-width="1.15"/>
<path d="M454.5 381.5 V293.1" stroke="#000" stroke-width="1.15"/>
<path d="M466.5 381.5 V319.1" stroke="#000" stroke-width="1.15"/>
<path d="M488.5 381.5 V340.5" stroke="#000" stroke-width="1.15"/>
<path d="M499.5 381.5 V320.1" stroke="#000" stroke-width="1.15"/>
<path d="M511.5 381.5 V325.8" stroke="#000" stroke-width="1.15"/>
<path d="M533.5 381.5 V338.4" stroke="#000" stroke-width="1.15"/>
<path d="M449.6 381.5 L450.7 378.4 L452.3 375.3 L453.7 372.1 L454.4 370.1 L454.6 368.2 L455.2 368.2 L455.4 370.1 L456.1 372.1 L457.5 375.3 L459.1 378.4 L460.2 381.5Z" fill="#12b23c" stroke="#1a1a1a" stroke-width="0.7" stroke-linejoin="round"/>
<path d="M471.7 381.5 L472.5 378.4 L474.1 374.2 L475.1 369.0 L475.4 364.9 L475.3 360.7 L474.3 352.4 L473.3 344.1 L473.0 336.8 L473.5 329.5 L474.7 321.2 L475.7 314.9 L476.3 308.7 L476.5 304.5 L478.1 304.5 L478.3 308.7 L478.9 314.9 L479.9 321.2 L481.1 329.5 L481.6 336.8 L481.3 344.1 L480.3 352.4 L479.3 360.7 L479.2 364.9 L479.5 369.0 L480.5 374.2 L482.1 378.4 L482.9 381.5Z" fill="#14c3c6" stroke="#1a1a1a" stroke-width="0.7" stroke-linejoin="round"/>
<path d="M494.3 381.5 L495.2 378.4 L496.8 375.3 L498.3 372.1 L499.2 369.4 L499.2 360.7 L498.6 350.3 L498.6 339.9 L499.1 329.5 L499.5 320.1 L500.1 320.1 L500.5 329.5 L501.0 339.9 L501.0 350.3 L500.4 360.7 L500.4 369.4 L501.3 372.1 L502.8 375.3 L504.4 378.4 L505.3 381.5Z" fill="#5f95f3" stroke="#1a1a1a" stroke-width="0.7" stroke-linejoin="round"/>
<path d="M407.5 355.5h0M411.0 338.1h0M405.4 338.5h0M408.5 343.3h0M406.1 348.9h0M412.9 339.6h0M413.0 352.0h0M410.1 345.3h0M406.2 350.5h0M410.5 354.0h0M409.0 334.0h0M406.9 336.0h0M413.7 350.3h0M410.0 351.7h0M408.2 351.8h0M413.3 341.1h0M408.6 356.9h0M410.5 340.0h0M407.8 344.7h0M414.3 342.1h0M407.9 353.9h0M405.9 360.6h0M412.8 362.6h0M412.2 350.8h0M409.8 358.3h0M407.4 342.2h0M412.8 335.8h0M412.9 358.9h0M414.0 344.2h0M408.1 338.8h0M409.4 360.1h0M406.4 355.9h0M412.7 343.8h0M413.7 347.8h0M405.7 342.4h0M412.9 345.6h0M407.6 358.2h0M408.8 349.3h0M406.5 335.1h0M413.4 351.5h0M411.8 356.9h0M405.7 361.5h0M411.7 351.2h0M412.6 355.4h0M410.3 342.3h0M411.6 337.7h0M406.8 344.9h0M411.2 346.0h0M414.0 355.9h0M413.8 348.7h0M412.6 351.1h0M406.8 360.3h0M410.2 351.6h0M409.6 355.6h0M414.2 337.9h0M410.0 339.8h0M407.1 358.4h0M413.3 350.0h0M413.0 353.9h0M406.4 360.7h0M409.3 356.1h0M409.0 345.3h0M413.1 349.4h0M407.4 350.1h0M409.0 345.6h0M419.1 329.6h0M419.6 342.4h0M421.6 335.5h0M423.3 341.6h0M419.9 359.6h0M419.2 356.4h0M420.0 357.0h0M418.3 326.3h0M416.8 351.1h0M417.8 351.4h0M420.8 355.4h0M417.9 344.9h0M425.6 349.1h0M422.2 353.3h0M420.6 361.7h0M420.8 337.9h0M421.6 338.1h0M425.4 341.3h0M420.3 352.5h0M416.8 327.6h0M416.4 362.7h0M419.1 341.0h0M424.4 339.7h0M417.5 350.2h0M421.5 351.9h0M424.1 354.8h0M425.9 336.0h0M422.3 338.9h0M423.9 341.3h0M419.4 340.7h0M420.7 345.3h0M417.6 363.0h0M418.4 349.7h0M421.7 327.9h0M420.7 359.5h0M424.1 339.3h0M420.6 334.1h0M420.7 356.6h0M416.5 352.4h0M424.6 358.5h0M416.9 328.5h0M422.2 355.8h0M422.7 352.5h0M419.1 326.4h0M417.2 339.1h0M421.1 317.1h0M422.0 319.2h0M419.2 316.5h0M437.1 340.8h0M436.7 345.7h0M434.8 352.1h0M427.8 357.8h0M432.8 345.8h0M431.5 363.4h0M431.6 343.5h0M433.2 350.4h0M429.6 355.2h0M433.0 334.2h0M432.5 330.3h0M428.6 351.9h0M434.7 352.6h0M434.8 353.7h0M433.0 343.0h0M428.2 344.7h0M435.4 332.5h0M436.4 340.8h0M431.8 339.2h0M432.3 329.2h0M433.9 344.9h0M435.9 358.4h0M430.2 330.0h0M431.5 347.6h0M434.7 343.0h0M439.3 354.4h0M439.8 343.3h0M441.0 338.4h0M442.1 341.6h0M443.2 361.1h0M440.3 337.4h0M446.3 365.4h0M442.4 344.7h0M446.9 335.9h0M443.4 335.6h0M443.3 359.5h0M439.9 332.6h0M446.7 359.6h0M443.9 344.5h0M443.3 328.8h0M445.5 354.2h0M441.3 366.6h0M442.7 343.1h0M445.1 326.9h0M441.5 333.2h0M447.7 355.1h0M441.8 344.4h0M442.6 339.6h0M446.2 341.5h0M446.9 355.2h0M445.0 350.1h0M444.8 349.9h0M441.2 359.4h0M442.4 331.7h0M441.5 342.0h0M445.2 346.0h0M443.1 336.1h0M440.3 339.1h0M442.3 364.5h0M442.8 358.9h0M441.2 337.6h0M443.9 353.8h0M441.6 339.4h0M448.0 362.4h0M445.1 348.9h0M439.2 366.1h0M448.3 343.0h0M441.7 326.6h0M442.4 349.4h0M442.5 337.1h0M440.5 363.1h0M442.2 355.2h0M441.0 357.7h0M447.1 349.7h0M445.8 353.2h0M458.9 335.8h0M457.6 351.9h0M450.7 347.0h0M457.1 346.3h0M457.1 336.9h0M454.0 339.8h0M457.6 331.2h0M455.1 358.5h0M455.9 333.3h0M452.6 333.6h0M456.7 338.3h0M453.8 350.3h0M453.8 336.9h0M457.3 347.3h0M456.3 362.7h0M454.5 358.2h0M450.4 323.8h0M450.8 350.4h0M451.5 316.3h0M456.8 329.8h0M452.1 326.8h0M459.1 358.4h0M457.5 352.5h0M451.1 329.2h0M453.3 331.0h0M452.7 323.4h0M451.8 316.2h0M455.1 335.8h0M457.3 324.0h0M453.4 332.8h0M453.6 319.7h0M453.2 345.3h0M458.5 333.9h0M458.1 357.6h0M455.4 343.7h0M451.1 351.5h0M451.5 342.8h0M450.8 342.9h0M450.7 327.7h0M454.1 345.9h0M455.2 330.8h0M457.6 331.2h0M456.3 337.8h0M452.5 356.5h0M458.0 339.1h0M450.3 350.3h0M455.2 362.4h0M454.9 329.9h0M457.6 354.5h0M458.5 318.3h0M459.3 359.7h0M451.2 362.4h0M459.4 339.6h0M454.7 351.2h0M451.8 351.7h0M455.3 341.8h0M451.6 362.4h0M459.2 341.3h0M453.9 351.4h0M455.9 359.3h0M450.4 340.1h0M454.2 350.4h0M456.4 317.8h0M450.5 346.3h0M458.9 345.4h0M451.4 346.3h0M457.4 353.8h0M458.1 345.6h0M451.9 358.5h0M453.5 361.0h0M454.3 339.7h0M455.4 331.0h0M452.1 325.0h0M454.4 330.8h0M450.8 340.8h0M450.9 335.4h0M456.5 337.1h0M453.6 316.9h0M455.7 339.8h0M453.7 353.2h0M459.5 330.7h0M452.4 356.2h0M458.3 349.6h0M455.8 356.9h0M455.4 323.1h0M454.0 347.8h0M457.2 359.0h0M456.7 335.6h0M457.5 355.4h0M457.6 321.6h0M454.6 339.9h0M454.7 340.2h0M457.1 351.7h0M458.6 337.6h0M451.0 339.2h0M452.8 355.3h0M458.1 361.4h0M451.5 335.1h0M456.7 352.9h0M456.6 343.1h0M453.3 334.7h0M454.9 354.5h0M456.5 338.6h0M457.5 349.2h0M459.0 333.9h0M458.4 321.2h0M452.7 337.1h0M455.8 326.8h0M454.2 337.8h0M452.1 329.4h0M451.7 336.5h0M458.1 328.5h0M451.9 327.6h0M453.0 337.3h0M459.3 349.5h0M454.2 323.7h0M454.8 348.4h0M457.4 333.7h0M457.2 321.8h0M454.0 351.4h0M455.8 329.1h0M452.0 341.7h0M450.1 338.3h0M453.0 345.5h0M456.9 350.0h0M456.4 340.1h0M456.8 350.0h0M457.8 358.5h0M450.6 332.4h0M451.2 329.8h0M455.0 336.0h0M458.5 327.5h0M454.4 341.0h0M452.9 340.4h0M452.2 353.5h0M457.1 329.6h0M457.5 339.8h0M455.3 339.0h0M458.2 335.6h0M458.2 322.0h0M455.9 334.0h0M458.1 330.5h0M452.1 343.4h0M457.5 321.4h0M451.8 327.0h0M452.8 336.0h0M452.9 360.3h0M450.6 323.0h0M455.1 326.6h0M457.7 335.7h0M458.7 330.1h0M456.7 334.5h0M457.1 335.0h0M457.5 346.2h0M453.6 326.5h0M453.3 342.1h0M456.3 344.2h0M456.0 329.7h0M452.8 340.5h0M452.4 319.4h0M459.4 315.8h0M459.0 340.7h0M452.7 331.8h0M455.3 351.0h0M459.3 351.5h0M458.9 333.7h0M451.0 349.4h0M458.1 347.9h0M450.7 338.2h0M451.0 345.5h0M458.4 347.1h0M456.3 348.3h0M454.6 325.8h0M458.6 321.7h0M457.5 333.9h0M459.1 330.0h0M459.0 341.6h0M456.1 341.2h0M456.4 352.5h0M456.0 320.0h0M451.6 348.5h0M452.4 344.4h0M457.3 324.4h0M456.8 340.2h0M456.0 318.8h0M456.1 330.4h0M456.0 319.0h0M455.4 339.5h0M459.4 320.9h0M450.8 337.9h0M457.1 331.1h0M458.7 333.2h0M456.6 354.2h0M457.5 337.9h0M450.4 330.0h0M453.5 345.8h0M454.0 358.9h0M459.4 327.8h0M451.5 336.9h0M459.6 338.9h0M458.5 332.7h0M451.5 348.6h0M455.0 345.3h0M458.4 350.1h0M455.0 354.0h0M450.6 338.2h0M454.2 333.6h0M458.2 341.6h0M457.6 339.4h0M454.6 336.5h0M450.5 349.7h0M457.6 337.4h0M451.9 329.9h0M456.6 325.5h0M454.7 326.6h0M457.3 341.8h0M450.4 323.4h0M450.9 336.4h0M452.2 348.7h0M455.1 338.1h0M452.7 339.3h0M450.8 358.1h0M457.8 336.7h0M457.7 326.4h0M456.5 335.6h0M450.3 356.1h0M454.6 328.4h0M459.0 357.5h0M455.9 344.3h0M458.6 341.7h0M453.9 317.3h0M455.2 307.8h0M457.2 312.6h0M458.3 309.9h0M458.4 302.6h0M451.9 300.6h0M455.9 308.3h0M456.4 304.1h0M451.8 315.0h0M452.3 293.4h0M452.1 313.4h0M451.1 311.9h0M453.6 318.0h0M458.3 301.8h0M454.1 318.7h0M452.8 298.7h0M457.1 315.9h0M457.2 300.3h0M453.8 309.2h0M457.8 309.5h0M466.6 341.0h0M463.8 326.5h0M468.8 355.5h0M465.2 348.9h0M462.7 351.1h0M463.4 332.7h0M463.2 331.5h0M470.2 325.9h0M469.4 344.4h0M462.7 321.0h0M465.2 342.9h0M465.5 323.2h0M479.4 359.2h0M475.7 338.9h0M474.9 340.9h0M479.1 341.0h0M476.3 325.1h0M476.0 333.2h0M476.5 331.0h0M474.9 327.5h0M474.2 319.9h0M480.4 338.7h0M479.1 338.7h0M474.1 334.7h0M474.3 352.4h0M476.7 325.8h0M474.8 330.4h0M480.0 344.8h0M475.6 343.9h0M474.8 325.0h0M476.8 357.6h0M475.0 348.9h0M477.1 347.1h0M476.4 323.3h0M480.9 326.5h0M479.9 358.1h0M480.8 326.1h0M478.5 340.8h0M476.2 349.4h0M477.3 350.6h0M480.9 337.9h0M475.1 333.9h0M474.6 361.2h0M477.3 334.6h0M480.4 349.5h0M478.9 328.4h0M478.2 340.8h0M475.0 338.0h0M478.9 356.9h0M474.9 325.7h0M475.8 363.0h0M480.0 315.5h0M479.8 336.6h0M479.7 341.6h0M479.4 345.4h0M476.5 324.9h0M475.3 321.1h0M480.0 329.4h0M478.4 322.1h0M479.6 340.8h0M474.1 341.9h0M476.7 353.3h0M477.0 346.8h0M480.1 361.3h0M478.3 363.6h0M475.5 336.9h0M476.8 355.6h0M474.7 343.0h0M476.1 337.5h0M478.1 316.5h0M474.6 349.1h0M474.3 362.2h0M480.5 357.0h0M480.3 332.5h0M475.9 313.5h0M478.8 309.7h0M476.0 309.3h0M478.2 311.6h0M478.6 311.0h0M492.5 340.7h0M490.8 358.1h0M485.2 347.3h0M486.5 342.2h0M489.3 351.3h0M486.2 352.4h0M489.4 358.4h0M485.7 360.1h0M486.2 349.0h0M485.2 357.7h0M502.9 334.3h0M499.9 346.4h0M503.8 345.1h0M499.4 323.3h0M501.0 355.2h0M502.2 328.0h0M497.2 356.1h0M502.5 357.9h0M501.6 340.6h0M497.8 325.7h0M499.9 352.1h0M496.7 340.4h0M502.9 343.3h0M500.7 330.7h0M500.1 328.7h0M497.5 355.9h0M501.8 355.0h0M503.7 341.5h0M496.5 336.6h0M496.6 334.1h0M503.0 360.0h0M501.1 333.1h0M498.8 361.3h0M497.7 360.1h0M501.3 337.7h0M498.4 361.0h0M502.4 350.8h0M502.7 326.3h0M499.0 346.2h0M497.2 356.1h0M496.8 331.8h0M503.3 349.0h0M502.9 337.2h0M501.8 351.3h0M496.7 362.2h0M510.4 325.9h0M511.3 326.2h0M534.9 338.4h0M532.2 338.4h0" stroke="#000" stroke-width="1.60" stroke-linecap="round" fill="none"/>
<path d="M398.5 381.5 H506.0" stroke="#111" stroke-width="1.5"/>
<path d="M507.5 381.5 H539.8" stroke="#111" stroke-width="1.4" stroke-dasharray="4.2 1.4"/>
<path d="M402.5 289.7 V385.6 H539.8" stroke="#0a0a0a" stroke-width="1.1" fill="none"/>
<path d="M398.5 381.5 H402.5" stroke="#1a1a1a" stroke-width="0.9"/>
<text x="395.2" y="386.0" font-size="12.6" text-anchor="end" fill="#1a1a1a">0</text>
<path d="M398.5 360.7 H402.5" stroke="#1a1a1a" stroke-width="0.9"/>
<text x="395.2" y="365.2" font-size="12.6" text-anchor="end" fill="#1a1a1a">1</text>
<path d="M398.5 339.9 H402.5" stroke="#1a1a1a" stroke-width="0.9"/>
<text x="395.2" y="344.4" font-size="12.6" text-anchor="end" fill="#1a1a1a">2</text>
<path d="M398.5 319.1 H402.5" stroke="#1a1a1a" stroke-width="0.9"/>
<text x="395.2" y="323.6" font-size="12.6" text-anchor="end" fill="#1a1a1a">3</text>
<path d="M398.5 298.3 H402.5" stroke="#1a1a1a" stroke-width="0.9"/>
<text x="395.2" y="302.8" font-size="12.6" text-anchor="end" fill="#1a1a1a">4</text>
<path d="M409.9 385.6 V389.2" stroke="#1a1a1a" stroke-width="0.9"/>
<text transform="translate(417.0 399.5) rotate(-45)" font-size="13.2" text-anchor="end" fill="#1a1a1a">0</text>
<path d="M421.1 385.6 V389.2" stroke="#1a1a1a" stroke-width="0.9"/>
<text transform="translate(428.2 399.5) rotate(-45)" font-size="13.2" text-anchor="end" fill="#1a1a1a">1</text>
<path d="M432.4 385.6 V389.2" stroke="#1a1a1a" stroke-width="0.9"/>
<text transform="translate(439.5 399.5) rotate(-45)" font-size="13.2" text-anchor="end" fill="#1a1a1a">2</text>
<path d="M443.6 385.6 V389.2" stroke="#1a1a1a" stroke-width="0.9"/>
<text transform="translate(450.7 399.5) rotate(-45)" font-size="13.2" text-anchor="end" fill="#1a1a1a">3</text>
<path d="M454.9 385.6 V389.2" stroke="#1a1a1a" stroke-width="0.9"/>
<text transform="translate(462.0 399.5) rotate(-45)" font-size="13.2" text-anchor="end" fill="#1a1a1a">4</text>
<path d="M466.1 385.6 V389.2" stroke="#1a1a1a" stroke-width="0.9"/>
<text transform="translate(473.2 399.5) rotate(-45)" font-size="13.2" text-anchor="end" fill="#1a1a1a">5</text>
<path d="M477.3 385.6 V389.2" stroke="#1a1a1a" stroke-width="0.9"/>
<text transform="translate(484.4 399.5) rotate(-45)" font-size="13.2" text-anchor="end" fill="#1a1a1a">6</text>
<path d="M488.6 385.6 V389.2" stroke="#1a1a1a" stroke-width="0.9"/>
<text transform="translate(495.7 399.5) rotate(-45)" font-size="13.2" text-anchor="end" fill="#1a1a1a">7</text>
<path d="M499.8 385.6 V389.2" stroke="#1a1a1a" stroke-width="0.9"/>
<text transform="translate(506.9 399.5) rotate(-45)" font-size="13.2" text-anchor="end" fill="#1a1a1a">8</text>
<path d="M511.1 385.6 V389.2" stroke="#1a1a1a" stroke-width="0.9"/>
<text transform="translate(518.2 399.5) rotate(-45)" font-size="13.2" text-anchor="end" fill="#1a1a1a">9</text>
<path d="M522.3 385.6 V389.2" stroke="#1a1a1a" stroke-width="0.9"/>
<text transform="translate(529.4 399.5) rotate(-45)" font-size="13.2" text-anchor="end" fill="#1a1a1a">10</text>
<path d="M533.5 385.6 V389.2" stroke="#1a1a1a" stroke-width="0.9"/>
<text transform="translate(540.6 399.5) rotate(-45)" font-size="13.2" text-anchor="end" fill="#1a1a1a">11</text>
<g fill="#111">
<text x="16.5" y="23.3" font-size="23" font-weight="bold">a</text>
<text x="13.5" y="186.6" font-size="23" font-weight="bold">b</text>
<text x="335.2" y="47.9" font-size="24" font-weight="bold">c</text>
<text x="339.3" y="274.2" font-size="24" font-weight="bold">d</text>
<text x="79.5" y="34" font-size="15.5" font-weight="bold" font-style="italic">CDH5</text>
<text x="193.3" y="35.3" font-size="15.6" font-weight="bold" font-style="italic">PECAM1</text>
<text x="88.5" y="149.3" font-size="14" font-weight="bold">t-SNE_1</text>
<text transform="translate(53 105.6) rotate(-90)" font-size="14" font-weight="bold">t-SNE_2</text>
<text x="124" y="521.8" font-size="14.4" font-weight="bold">UMAP_1</text>
<text transform="translate(22.6 366.8) rotate(-90)" font-size="14.4" font-weight="bold">UMAP_2</text>
<text x="437.8" y="58.6" font-size="15.3" font-weight="bold" font-style="italic">ACTA2</text>
<text x="449.8" y="275.3" font-size="15" font-weight="bold" font-style="italic">FN1</text>
<text x="406.2" y="208.9" font-size="15.6" font-weight="bold">Cluster number</text>
<text x="406" y="429.2" font-size="15.6" font-weight="bold">Cluster number</text>
<text transform="translate(377.5 189) rotate(-90)" font-size="15.85" font-weight="bold">Expression Level</text>
<text transform="translate(375.5 405.5) rotate(-90)" font-size="15.7" font-weight="bold">Expression Level</text>
<text x="141.7" y="412.3" font-size="12" font-weight="bold">EndoMT, SMC contraction</text>
<text x="141.5" y="426.1" font-size="11.85" font-style="italic">ACTA2, TAGLN, LUM, DCN, CALD1</text>
<text x="212.2" y="454.5" font-size="12" font-weight="bold">EndoMT, Angiogenesis</text>
<text x="211.5" y="468.8" font-size="11.9" font-style="italic">FN1, COL8A1, COL3A1,</text>
<text x="211.5" y="483.3" font-size="11.9" font-style="italic">BGN, MMP2, EDN1</text>
<g font-size="15.3" font-weight="bold">
<text x="136.7" y="265.6">0</text>
<text x="92.8" y="247.3">1</text>
<text x="107.1" y="293.9">2</text>
<text x="99.3" y="354.5">3</text>
<text x="105.3" y="451.3">4</text>
<text x="141" y="346.5">5</text>
<text x="154.2" y="456.3">6</text>
<text x="262.6" y="376.6">7</text>
<text x="127.7" y="388.7">8</text>
<text x="186.5" y="276.8">9</text>
<text x="46.5" y="295.2">10</text>
<text x="174" y="361.5">11</text>
</g>
<g font-size="8.2" fill="#222" text-anchor="middle">
<text x="65" y="501">-5</text><text x="121.5" y="501">0</text><text x="178.5" y="501">5</text><text x="236.2" y="501">10</text>
</g>
<g font-size="8.2" fill="#222" text-anchor="end">
<text x="35" y="224.8">5</text><text x="35" y="304.7">0</text><text x="35" y="384.6">-5</text><text x="35" y="464.5">-10</text>
</g>
</g>
</svg>
</body></html>
